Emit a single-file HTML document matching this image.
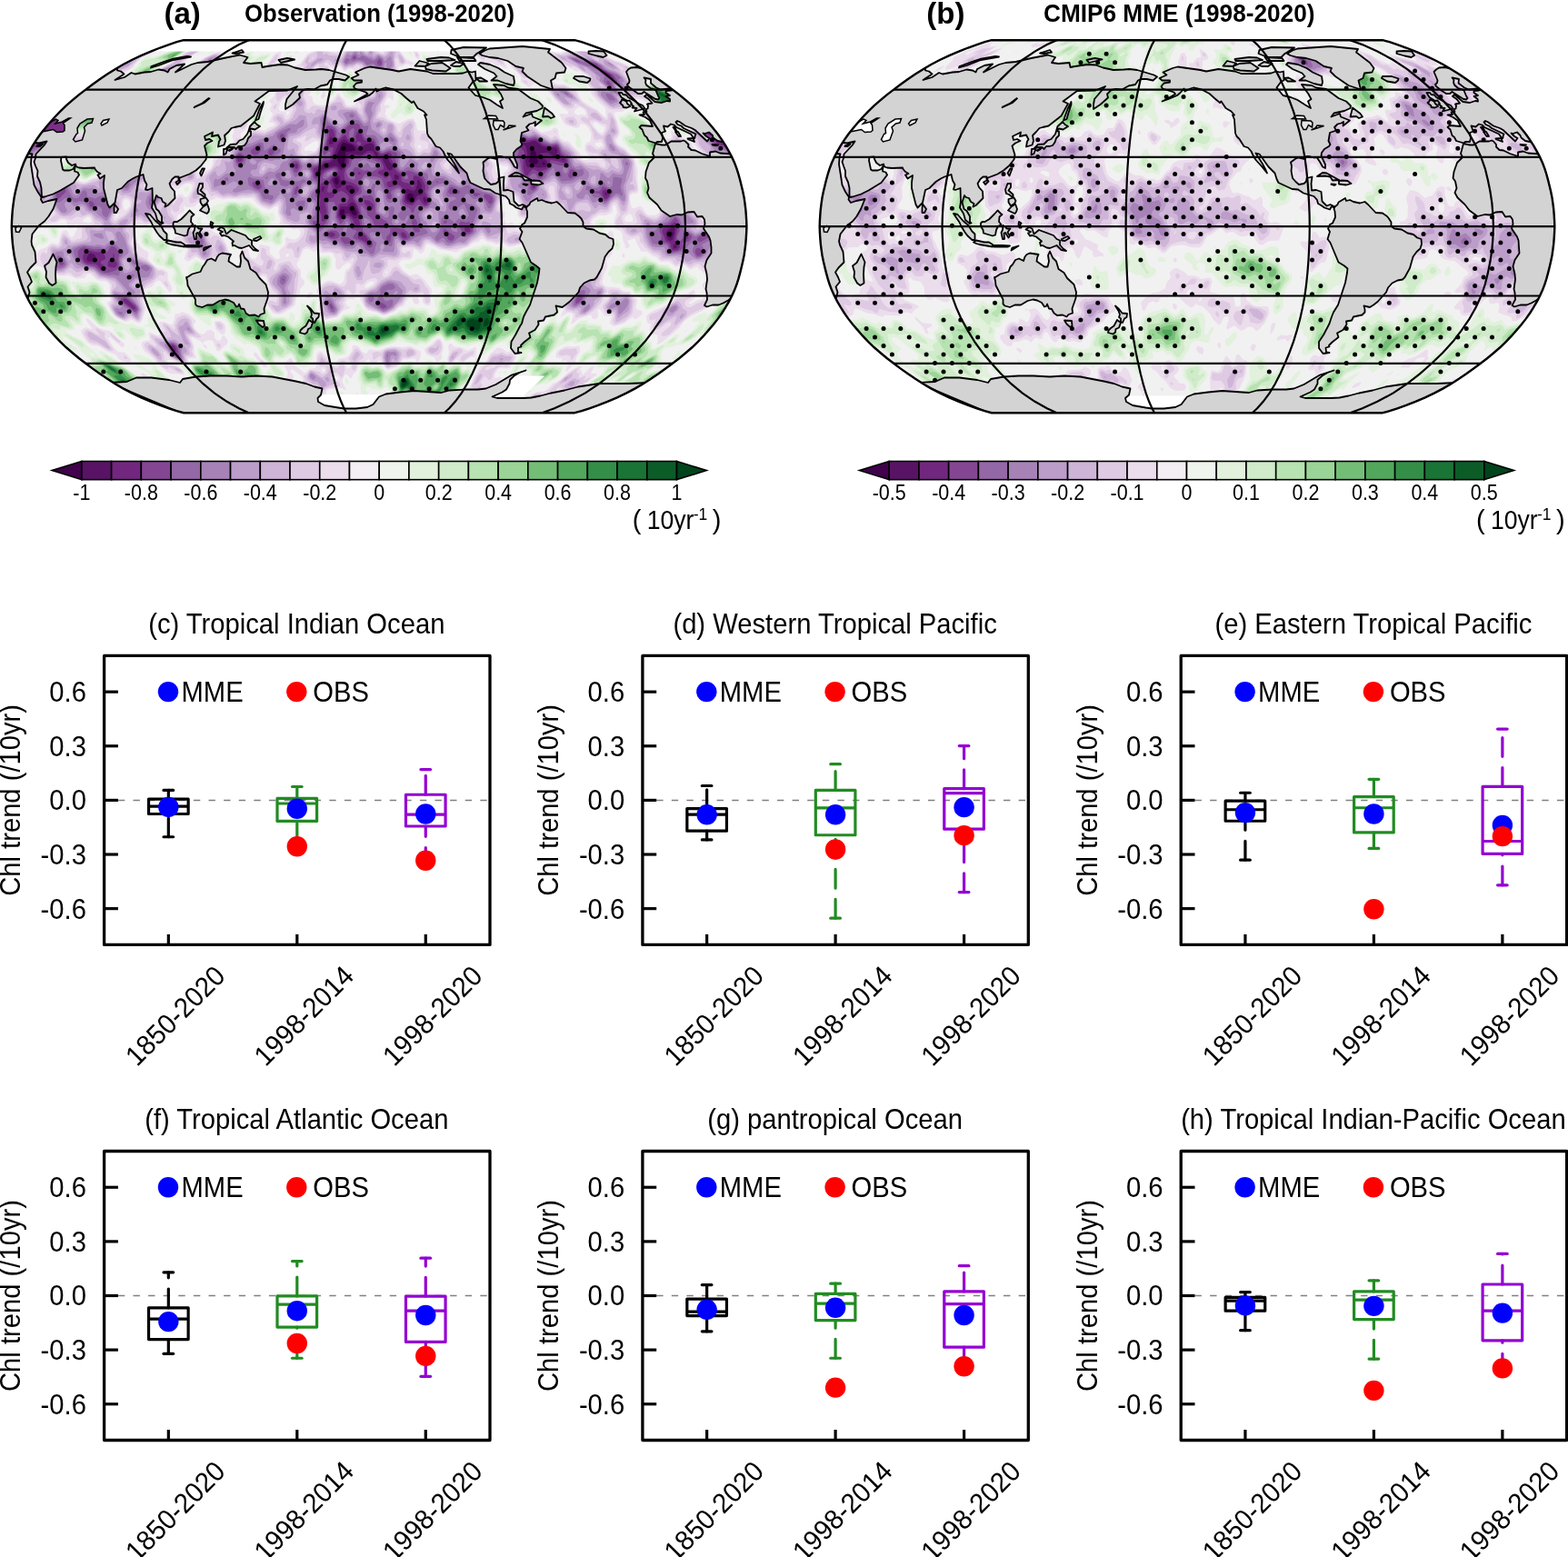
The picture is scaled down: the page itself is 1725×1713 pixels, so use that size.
<!DOCTYPE html>
<html><head><meta charset="utf-8"><title>Chl trend figure</title>
<style>html,body{margin:0;padding:0;background:#fff;width:1725px;height:1713px;overflow:hidden} svg{display:block}</style>
</head><body>
<svg width="1725" height="1713" viewBox="0 0 1725 1713" font-family="'Liberation Sans', Arial, Helvetica, sans-serif">
<rect width="1725" height="1713" fill="#fff"/>
<defs><linearGradient id="caspgrad" x1="0" y1="0" x2="0" y2="1"><stop offset="0" stop-color="#52a75c"/><stop offset="0.5" stop-color="#cfebc9"/><stop offset="0.7" stop-color="#ebddec"/><stop offset="1" stop-color="#ceb4d7"/></linearGradient></defs><clipPath id="clipa"><path d="M632.3 454.2L639.8 452.2L648.4 449.3L658.0 445.9L668.3 441.8L678.9 437.3L689.3 432.4L698.8 427.4L707.6 422.2L716.1 416.8L724.2 411.3L732.2 405.6L740.0 399.8L747.5 394.0L754.7 388.0L761.6 382.0L768.0 375.8L773.9 369.7L779.4 363.4L784.7 357.2L789.7 350.9L794.2 344.5L798.2 338.2L801.9 331.8L805.2 325.5L808.1 319.1L810.5 312.8L812.5 306.4L814.2 300.1L815.8 293.7L817.3 287.3L818.6 281.0L819.5 274.6L820.3 268.3L820.8 261.9L821.2 255.6L821.4 249.2L821.2 242.8L820.8 236.5L820.3 230.1L819.5 223.8L818.6 217.4L817.3 211.1L815.8 204.7L814.2 198.3L812.5 192.0L810.5 185.6L808.1 179.3L805.2 172.9L801.9 166.6L798.2 160.2L794.2 153.9L789.7 147.5L784.7 141.2L779.4 135.0L773.9 128.7L768.0 122.6L761.6 116.4L754.7 110.4L747.5 104.4L740.0 98.6L732.2 92.8L724.2 87.1L716.1 81.6L707.6 76.2L698.8 71.0L689.3 66.0L678.9 61.1L668.3 56.6L658.0 52.5L648.4 49.1L639.8 46.2L632.3 44.2L201.9 44.2L194.4 46.2L185.8 49.1L176.2 52.5L165.9 56.6L155.3 61.1L144.9 66.0L135.4 71.0L126.6 76.2L118.1 81.6L110.0 87.1L102.0 92.8L94.2 98.6L86.7 104.4L79.5 110.4L72.6 116.4L66.2 122.6L60.3 128.7L54.8 135.0L49.5 141.2L44.5 147.5L40.0 153.9L36.0 160.2L32.3 166.6L29.0 172.9L26.1 179.3L23.7 185.6L21.7 192.0L20.0 198.3L18.4 204.7L16.9 211.1L15.6 217.4L14.7 223.8L13.9 230.1L13.4 236.5L13.0 242.8L12.8 249.2L13.0 255.6L13.4 261.9L13.9 268.3L14.7 274.6L15.6 281.0L16.9 287.3L18.4 293.7L20.0 300.1L21.7 306.4L23.7 312.8L26.1 319.1L29.0 325.5L32.3 331.8L36.0 338.2L40.0 344.5L44.5 350.9L49.5 357.2L54.8 363.4L60.3 369.7L66.2 375.8L72.6 382.0L79.5 388.0L86.7 394.0L94.2 399.8L102.0 405.6L110.0 411.3L118.1 416.8L126.6 422.2L135.4 427.4L144.9 432.4L155.3 437.3L165.9 441.8L176.2 445.9L185.8 449.3L194.4 452.2L201.9 454.2Z"/></clipPath>
<g clip-path="url(#clipa)">
<path d="M632.3 454.2L639.8 452.2L648.4 449.3L658.0 445.9L668.3 441.8L678.9 437.3L689.3 432.4L698.8 427.4L707.6 422.2L716.1 416.8L724.2 411.3L732.2 405.6L740.0 399.8L747.5 394.0L754.7 388.0L761.6 382.0L768.0 375.8L773.9 369.7L779.4 363.4L784.7 357.2L789.7 350.9L794.2 344.5L798.2 338.2L801.9 331.8L805.2 325.5L808.1 319.1L810.5 312.8L812.5 306.4L814.2 300.1L815.8 293.7L817.3 287.3L818.6 281.0L819.5 274.6L820.3 268.3L820.8 261.9L821.2 255.6L821.4 249.2L821.2 242.8L820.8 236.5L820.3 230.1L819.5 223.8L818.6 217.4L817.3 211.1L815.8 204.7L814.2 198.3L812.5 192.0L810.5 185.6L808.1 179.3L805.2 172.9L801.9 166.6L798.2 160.2L794.2 153.9L789.7 147.5L784.7 141.2L779.4 135.0L773.9 128.7L768.0 122.6L761.6 116.4L754.7 110.4L747.5 104.4L740.0 98.6L732.2 92.8L724.2 87.1L716.1 81.6L707.6 76.2L698.8 71.0L689.3 66.0L678.9 61.1L668.3 56.6L658.0 52.5L648.4 49.1L639.8 46.2L632.3 44.2L201.9 44.2L194.4 46.2L185.8 49.1L176.2 52.5L165.9 56.6L155.3 61.1L144.9 66.0L135.4 71.0L126.6 76.2L118.1 81.6L110.0 87.1L102.0 92.8L94.2 98.6L86.7 104.4L79.5 110.4L72.6 116.4L66.2 122.6L60.3 128.7L54.8 135.0L49.5 141.2L44.5 147.5L40.0 153.9L36.0 160.2L32.3 166.6L29.0 172.9L26.1 179.3L23.7 185.6L21.7 192.0L20.0 198.3L18.4 204.7L16.9 211.1L15.6 217.4L14.7 223.8L13.9 230.1L13.4 236.5L13.0 242.8L12.8 249.2L13.0 255.6L13.4 261.9L13.9 268.3L14.7 274.6L15.6 281.0L16.9 287.3L18.4 293.7L20.0 300.1L21.7 306.4L23.7 312.8L26.1 319.1L29.0 325.5L32.3 331.8L36.0 338.2L40.0 344.5L44.5 350.9L49.5 357.2L54.8 363.4L60.3 369.7L66.2 375.8L72.6 382.0L79.5 388.0L86.7 394.0L94.2 399.8L102.0 405.6L110.0 411.3L118.1 416.8L126.6 422.2L135.4 427.4L144.9 432.4L155.3 437.3L165.9 441.8L176.2 445.9L185.8 449.3L194.4 452.2L201.9 454.2Z" fill="#f1f1f1"/>
<g transform="scale(0.5)" fill-rule="evenodd"><path fill="#e1f1dc" d="M406 908l43 0-6-2 20 2-23-7-19-3-13-5-22-17-67-36-73-54-23-14-4 1 0 3 6 10-1 1-3-1-29-25-15-14-15-6-15-9-3-5 1-1 13 1 6-2 1-10 13 1 2-2 1-4-1-13 3-4 4 0 11 5 14 14 8 6 9 2 8-1 6-3 3 1 5 5-2 3 3 7 9 9 7 5 5 2 3-3 0-3 0-5-8-10 0-3 7 3 23 21 4 0 18-7 1-4-3-15-3-2-14-2-11-6-11 2-24-11-12-11-9-16-10-10-2-5 10-6 2-4-8-20-5-5-9-5-9-2-16 4-23-3-8 0 7 16-2 3-5-8-1-11-10-5-41-8-5-2-12-12-5-1-4 0-8 5-9 0-8 3-4-5 3-10-2-15-5-4-4 0-8 3 14 57 16 35 15 26 15 20 41 46 6 4 14 11 7 3 7-1 2-1 0-3-25-14-6-5-1-6 5 1 22 15 5 4 7 10 20 19 5 6-1 2-7 1-10-4-9-9-7-5-7-3 53 40 53 35 31 16 42 18 39 14zM199 781l-1-4 2-1 9 5-5 2zM61 620l-1-5 1-1 6 5 1 3-4 1zM482 907l24 1-5-1-6-6-30-14-15-3-7 2 0 4zM535 908l138 0-4-1-2-4 4-4-16-12-11-22-11-7-1 3 2 11-3 0-14-15-2-8 2-6-1-12 10-3 1-5-6-10-14-13-4-10 3-3 16 2 6-2 9-7 4 0 5 6 5 14 6 4 11 4 10-4 2-3 2-6 6-5 3-17 6-8 11 1 17 5 10 10 7 2 14-2 4-2 2-3 1-15 9-10 4-1 19 6 9 7 11-1 12 4 7-1 35-11 8-5 15 5 12 2 11 5 12-5 8 2 4-1 12-10 14-8 4 0 4 3 6 9 3 1 13-4 14 9 7 2 14 2 22-7 7 1 2 2 1 4-6 10 1 5 4 5 4 0 5-4 23-20 18-6 4 0 0 9 2 4 4 1 10-6 3 1 3 12 9 4 0 5-34 59 9-4 7-5 16-18 1-9 16-18-2-10 6-2 4 2 3 5-1 5-18 23 1 6 9 1 2 2 1 5-3 4-6 4-4 3-6-1-4 3-14 17-1 2 3 0 17-12 3 1 5 11 3 1 34-12 4-1 4 2 25-14 10-13 3-10 0-3-12 1-7-4-12 2-6-2-2-2 0-5 2-5 16-19 12-10 25-9 5-1 4 5 4 0 14-4 4 1 2 2 11-5 3 2 0 5-2 9-5 5-10 5-6 5-8 19 3 1 5-1 20-11 10-3 2 2-3 8 1 2 7 4-1 8 15-4 0 6-3 6-3 5-25 17-4 5 0 2 6 6-32 12-3 0 6-6-1-1-8 3-11 7 1 2 3 0-1 2-8 4-21 10-9 0-18 7-5 3 7 1-1 2-21 9 86 0 11-3 61-21 57-27 54-34 59-45-12 1 2-9-19 20 6 1-3 4-30 18-18 6-4-1 3-5 23-18 0-19 2-5 6-5 7-2 8-1 12-4 11 0 17-8 21-15 4 0-5 14 12-13 29-35 23-36 17-35 11-35-5 0-3-1-3-11-4 0-17 6-5 5 1 10-4 5-15 8-5 8-1 5-2 37 2 5 5 3-2 5-17 14-4-7-4 1-8 3-14 10-3 5 13 0 3 1-1 4-18 20-29 23-3-1 0-2 7-15-1-3-7 3-31 22-14 7-4 0-2-2 0-8-2-3-9-3-1-3-1-10-5-9-10-1 5-15-2-4-4 0-14 10-5 1-7-2-10 2-20 13-3-5-4-2-13 1-4-1-2-10-3-1-26-2-3-6-3-2-14 3-21 18-5 1-1-5 0-4 6-15 0-6-3-2-4 1-15 15-5 2-3-5-2-5 11-21 0-6-3-4-4-2-5 3-12 15-2 5 1 5 3 5-2 5-22 15 0-10 10-15-4-5 0-5 3-6 11-10 3-5 4-20 6-5 9 0 5-2 9-8 2-5 1-6-2-5-12-18-2-12 2-10 3-4 4-1 5-5 3-6 0-5-23-15-1-5 3-15-1-3-5-2-18-1-4 5-5 17-4 4-6 0-4-2-23 12-4 0-5-4-4-1-18 6-9 1-9-8-4-1-14 3-11-6-15-1-9 4-9 1-23 8-5 3-9 11-4 2-5-1-9-6-4-2-9 0-13 2-9-11-5 0-4 10-5 7-9 3-13 0-14 11-4 1-9-1-1 5 5 5 5 2 22-10 4 0 5 3 3 5 5 12 9 2 4 5 0 6-1 5 1 6 3 4 5 2 8-1 5 3-1 4-5 6-8 4-5 8 5 25-3 6-6 4-5 1-5-11-5-2-9-1-8 1-17-4-9 10-12-2-9 6-25 9-4 0-13-6-21-1-4-1-13-20-5-2-4 3 0 10-3 6-4 2-21 2-8 10-4 2-28 5-9-6-7-10-3-16 1-15-5-5-6 5-9 12-4 0-10-7-1 22-2 11-3 6-8 3-3 4-2-5 5-2 0-8-1-5-6-5-5 3-1 12-14-5-21 1-2-1-9-16-12-14-12-6-2-2-2-3 2-10 0-5-4-10-6-5-14-8-2-3-8-16-5-7-18 1-10-6-4-1-9 3-4 0-10-7-17 1-19-10-5 1-14 16-1 15 1 5 2 1 8-5 4 2 3 2 2 5-1 5-1 3-4 2-9 0-5-3-1-7-5-4-6-10-4-11-10-15-1-5 1-11-2-5-8-2-4-4-2-9 1-20-1-3-5 0-8 7-14 5-4 0-5-4-2-5 2-16-5-2-4 1-16 12-2 5 2 15 4 6 5 4 13 4 7 6 2 5-5 11 1 5 8 7 14 3 10 6 8 1 5 3 1 7-5 8-1 5 10 16 1 15 12 12 4 0 10-10 5 3 0 5-4 15 3 10 7 11 33 24 5 1 1-5-2-10 2-2 21 0 9 4 7 6 3 7 3 15 12 14 10 5 6 6 12-1 14 6 6 5 8 19 15 14 2 4 0 8-5 3-3 7-4 1-16-28-9-6-14-3-4-5-2-10-3-5-20-10-4 0-3 5 1 5 4 9-14-4-3 0-4 5 0 5 8 14-1 5-3 1-4-2-21-20-32-14-2 2-1 6 5 17 0 4-3 2-11-1-6 2 1 16-4 1-14-9-5-1 24 27 5 9 5 4 18 8 17 13 37 22 2 3-10-3-21-10-5-1-1 0 1 2 27 15zM1255 907l17-6 22-3-28 9-11 1zM1308 887l7-1 0 1-11 3zM1367 861l4-4 10-3-9 7-4 1zM1330 849l4-5 12-8 10-5 3 0-14 13-8 5zM1375 836l0-2 9-7 9-4-2 4-6 4zM1341 827l2-4 7-5 6-1 1 1-12 9-3 2zM1166 702l1-6 5-2 5 3-2 5-2 1-4 1zM1007 646l2-10 4-8 5-8 2 0 3 6-7 19-5 4zM361 570l-3-2-5-9 3-3 5-2 5 5-1 6-3 5zM829 908l9 0-1-6-5 1zM849 908l126 0 4-3 12-18 13-14 11-20 15-9 3-4 7-17-4-14 0-14-2-1-4 2-4 4-1 4 1 5-3 4-4 0-2-9-11-4-7 1-9 5-4 1-7-12-4 0-13 8-3 1-12-11-4 0-19 11-8 2-5-2-4-9-4 0-15 4-12 10-21 11-4 0-10-12-7-4-14 3-11-5-3 0-7 3-7 6-4 20 0 5 5 8 2 29 1 1 3 0 10-1 2-4-1-4-6-8 2-5 6-1 10 6 6-1 9 3 13-8 10 10 0 4-5 8 0 14-9 16zM1078 908l14 0 3-2-7-1zM757 904l3-1-5-4-3-6-4-2 2 5 4 3 2 4zM1057 904l27-8 7-9 0-3-3-2-11 5-13 9zM682 898l2 0 1-5-1-3-16-14-2-3 0-11-2-9-3-7-5-2-2 13-6 8 2 4 15 11 13 16zM433 890l3 0-10-6-18-7 1 3 5 4zM703 884l4 1 0-1-4-8-10-10-3 0 4 10zM752 880l6 2 3-1 2-5 0-3-7-8-4-4-3 1-3 3 3 11zM775 882l3 2 3-2-2-7-4-6-7-1-2 5zM389 866l1-1-19-14 0-3 28 13-24-17-2-8-28-27-4-7-6-7-5-5-21-9-16-2 3 7 10 9 6 3 11 0 12 6 1 3-2 4 0 7-10-5-17-13-7 0-1 2 0 2 4 5 21 9 16 18 22 17zM1159 866l6-1 6-6-2-1-6 3-4 4zM1097 859l3 0 3-2 1-3-2-1zM763 846l4-1 0-5-3-7-3-1-2 4 0 4zM1097 823l9-5-6-1-2 1zM1110 823l3 0 3-5-2-1-7 1 1 5zM338 725l4 0 0-8-10-18-5-2-2 4 1 11-2 3-4 0-4 2 2 2 8-1zM358 702l10 0-3-5-11-5-9-5-1-6 5-1 8 0 13 10 4 0 2-5 1-9 3-3 4 1 3-3-3-5-13-6-4-4-4-5-2-10-6-9-5-3-4 2-3 8-3 3-14-3-3 3-1 24 8 15 1 11 6 5zM1424 682l17-8 9-2 15-6 23-22 29-9 15-9 3-6-2-8-4-3-12-5-14-14-15 6-8-4-11-9-18-1-8-6-12-4-8-7-5-1-4 1-10 7-18 0-24 14-9-3-5 2-7 10-3 5 0 5 8 5-1 5 0 5 10 4 9-1 10 11 13 1 3 3 6 9 13 2 3 22 9 10zM577 632l5 2 2-3 0-5-4-8-5 2-1 6zM686 626l4 2 9-2 12-15 9-6 10-20 0-15-3-6-4-2-18 2-5 1-5 5-2 15-2 5-3 5-8 4-5 6 0 5zM1633 583l2-9-3 6zM59 565l4 0 7-12 16-16 9 1 8-4 4-5-1-5-12-9-16 4 4 10-1 6-13 0-10-12-9 2-4 3-4 6-1 5 2 5 8 15 4 4zM392 556l5 1 4-2 0-6-5 0-8 5zM512 550l7-1 3-5 0-5-3-5-8-2-3 2 0 5zM1357 551l5-1 3-6-1-10-5-7-5 2-3 10 1 5zM606 540l4 1 9-3 2-4 0-10 1-5 5-10-4-6-9-1-4 1-14 13-4-1-3-6 2-11 5-8 9-7 0-2-1-8-3-5-9 3-13-3-11-10-20-13-9-1-9 2-17-3-9 0-19 6-4-1-19 10-7 10 0 10 5 10 17 15 11 3 10 11 4 1 14-4 4 1 12 9 15 7 14 0 9-2 13 4 9-1 5 0zM1318 531l5 0-2-12 7-10 8-21-6-5-11 0-7 5-2 5 4 31zM121 524l4-2 2-3 1-16-6-5-11 0-4 5 2 6 5 10zM48 504l5-6-5-2-2 2zM439 500l4-2 1-5-1-5 1-10-5-1-6 1 0 5 2 15zM1144 495l5-2 0-5-7 0 0 5zM408 486l4 0 5-3 5-5 2-5-2-2-5 0-12 7-1 5zM1438 448l4-2 7-9 1-5-2-10 2-5 13-8 10-2 1-5-7-10-1-5 1-6 14-15 0-5-15-10 0-5 5-5-1-5-16-26-13-11-6-9 2-10 3 0-4-1-9-9-25-17-13-6-7 0-10 8-11 1 0 7 4 7 17 15 4 5-1 5-12 2-3 3-1 5 1 5 20 23 13 8 2 15 3 5 10 5 5 5 2 5-2 5-12 9-1 2 1 35 1 5 12 11 5 3zM407 421l5 1 3-5 1-5-3-2-6 2-2 5zM178 392l8 4 4-1 25-14 7-8 5-2 8 1 5-1 5-5 10-20 10-10 18-36 21-20 10-20 10-9 13-6 8-10 9-24 6-4 9-5 28-31-1-2-9 2-34 17-16 14-16 19-13 5-13 9-8 10 1 5 3 2 11-4 2 2-3 10-7 6-10-4-5 1-10-3-21 0-1-5 1-5 12-15 5-14 25-19 10-9 9-14 21-18 31-17 41-27 23-12-3-1 1-6-5-1 15-7-17 1 6-3-3 0-16 4-12 5 7 0-9 7-44 20-17 2 5-5-13 5-15 13-1 2 1 3-27 20 5 4-4 6-18 14-41 28-14 14-18 15-9 10-8 10-11 25 1 3 7 2 1 5-2 15-6 14 5-3 4 2-2 8-4 4-3-2-1-7-4-2-6 4-7 13-2 10-4 5-7 5-3 5-1 5 2 5 7 5 5 0 18-5 9 0zM213 265l6-10 1-7-3-3 1-5 12-4 9-1 2 10-1 5-13 10-14 6zM457 357l6-11 6-4 9-3 5-3-1-11 4-5 16-5 2-5 0-17-8-18 10-15-4-14-3-2-17 3-5-4-4-1-18 13-4 0-10-11-1-4 2-5 14-19 11-5 4-4 3-10 5-4 15-10 26-26 9-6 3 0-8 14-2 6 14-4 2 3-1 9 4 1 9-4 8-1 6-10 13-13 5-7 1-6-3 0-7 4-3 1 4-5 15-11 8-9-2-1-12 2-4-1-15 6-11-4 3-4 12-11-32 14-41 28-5 9-1 13-3 4-9 7-18 2-8 19-27 33-10 20-22 15-7 10-3 10 2 4 7 6 1 13 7 16 4 2 8 1 11 6 7-2 2-11 4-2-1 13 2 10 5 4zM421 265l8-5-2 5-2 2-4 0zM1271 324l5 1 3-3-1-17-3-5-6-5-5-1 5 11-4 10 3 5zM1242 301l1-6-4-1 2 6zM1460 297l5 0 3-2-10-15-10-2-7 2 9 10zM1502 296l5 2 1-3-2-5-8-5-4 0-1 5zM979 293l11-5 3-3 0-6-5-3-7 4-4 5-1 5zM1093 287l5 2 4 0 3-2 6-27 8-10 1-15 5-9 3-2 5 2 24 18 15 6 12 25 5 5 16 1 10-5 8-1 3-2 2-3 0-5-6-10-16-15-8-14-6-5-7-10-7-4-14-5 1 5-1 6-4 1-5-2-3 1 4 13-4 0-26-29 0-3 4 0 15 7 2-2 1-6-3-5-19-18-9-7-4 0-7 5-22 2-4 10-2 10-4 0-12-7-13-10-14-7-9-18-8-8-4-1-13 5-2 4-2 9-2 1-10-8-3 1-5 4-5 2 0 4 6 13-4 5 0 4 5 10 1 1 3-2 3-12 7-1 6 4-1 10 2 9-4 9-6 5-15-4-8 1-3 8-2 14 0 5 5 5 6-8 4-1 12 2 10 13 8-1 10-7 4 0 5 2 1 20 4 10 4 5 3 2 11-7 8 0 14 6 12 1zM1092 235l-10-14-2-5 2-3 3-1 10 4 5 5 2 5 1 9-3 3-3 1zM1014 183l-4-4 1-5 4-1 9 6-3 4zM554 277l16 1 7-3 5-15 1-5-1-1-5 3-13-8-6 4-4 7-3 10 0 4zM1463 277l14 2 4 0 4-5 14 1 3-1-1-19 7-6 6-14-3-9-9-10-13-9-23-10-22-11-7-3-15 0-18-4-1 2 1 2 31 35 5 12-2 6 11 14 0 10 2 5 8 10zM866 260l4-1 7-9 4-2 9 7 15-3 7-7 3-10 12 2 10-7-1-4-15-10-1-5 2-4 0-14-14-7-8-2-16 9-8 14 1 9-4 20-12 14-1 5 2 4zM493 227l4 0 2-1 1-5-2-3-3 0-4 3zM1213 227l0-6-3-5-7-4-1 4 3 5zM1304 226l1-2 0-3-9-8-1 3 3 5zM575 221l4 0 12-9 4-2 2-5-10 6-6-2-3 2-3 5zM473 217l2 2 5-1 10-7 2-12-1-4-17 12-4 4zM767 216l8 2 7-4 13-12 4-9-2-10-7-12-12-7-6-7-3 0-8 6-3 1-10-3-3 2-3 7 0 3 6 3-3 12 3 9 12 17zM727 212l4-1 4-4 4-10 1-4-7-10-3 0-4 2-7 8 2 12 3 5zM695 208l3 3 5-5 3-9 0-3-3-4-7 7-2 5zM962 204l4 2 4-4 0-5-5-6-3-1-4 7 1 5zM1284 199l5 1 0-4 4-3-3-5-23-23-9-6-3 0 0 3-2 1-6-2-5-4-2-5 5-2-1-2-28-16-2 1 6 11 17 17 3 4-1 5-3 4 3 5 13 8 10-1zM1270 183l-4-4 1-2 8 6 0 3zM952 180l2-1-6-13-4-2-3 1 5 9zM616 174l3 1 4-2 9-8 1-4-2-3-3 0-6 4-6 8zM1227 178l4-4-9-5-4 0 2 5zM1136 166l-3-5-3-1-1 1 3 4zM470 162l13-10-3-4 9-8 7-11-13 7-7 7-5 9zM401 156l16-8 21-18-29 14-5 4zM932 156l-3-9 1 5zM1189 149l8-1-2-4-5-4-8-4-5 0-1 1 1 3 3 4zM936 137l6 1 3-1 2-13-2-1-2 2-11-6-3 1 1 12zM1002 129l4 2 6 0 2-1 0-6-7-8-13-1 1 5zM500 124l-2 3 16-7 10-7 3-5-2-1-12 6-8 6zM965 128l3-1-1-3-3-4-3 0 0 4zM427 124l11-4 13-7-5 0zM455 121l37-17 13-8 17-7-13 3-33 12 16-8 11-8-16 4-27 18-1 1 4 1 0 1zM904 123l3 0 0-3-3-5-3-3-2 5zM1102 122l1-1-3-4-8-5-1 1 6 7zM496 117l14-7 18-6 22-14-1-2-12 0-7 4 4 1-2 3-32 14-4 3zM630 120l15-7 5 4 3 0 5-4 5-6 0-9 11-10-10 1-19 9-14 15zM1145 117l2 0-18-13-12-6 0 1 4 8 4 3zM1195 119l5 1-3-3-10-7-30-12-9-8 30 8-11-6-12-4-30 0 18 13 6 3zM585 111l11-4 11-11 11-8-6 0-12 4-2 1-2 5-9 9-2 3zM1009 112l1-2-2-3-5-2 2 5zM1300 112l3 0-12-4zM1146 107l1 0-3-3-9-3-1 1 1 2zM552 104l16-6 10-6-20 6-5 3zM728 104l5-1 10-5 3-5 0-5-6 0-14 10-1 3zM1017 105l2 0 1-2-2-4-6-2-5-1-1 2zM1043 105l6-1 7 1 2-1 0-3-5-5-17-8-21 0 5 5 12 5zM1039 98l-7-2-5-5 5 0 7 2 4 6zM1243 105l1-1-7-3-11-4zM853 101l2 0 10-5 5 3 6 0 1-1 0-5 6-3 12 6 10-3 1-1-2-4-84 0 1 5 3 3 8 1 15-3zM764 100l2 1 7-5 11-2 12 4 19-10-60 0 0 4 6 3zM629 96l17-3 5-5-18 2-3 2zM719 94l6-1 8-5-14 0-3 4 1 1zM1086 94l7 0 0-2 3-1-5-3-11 0-2 2zM701 92l4 1 10-5-9 0-5 2zM1191 92l8 1-2-3 10 1-1-3-44 0zM965 90l4 1 3-1-1-2-11 0z"/>
<path fill="#cfebc9" d="M406 908l41 0-40-15-51-32-28-12-80-59-16-9-3 1 6 8 0 4-18-6-9 1-8-1 7 12-8 2-9-1 56 39 44 25 58 25 38 13zM365 873l-26-12-8-8 30 16 6 5zM458 908l-12-4-9-2zM538 908l132 0-9 0-3-3-2-2 7 1 0-8-12-9-5-11-5-3-1 2 3 9-1 3-9-7-21-27-1-4 2-9-1-4-4-5-7-4-8-8-5 9-11-1-3-4-1-10-4-9-8-9-15-3-16-9-6 2-25-11-4 0-2 2-1 5 9 14 2 13-2 2-12-6-5-4-6-10-11-9-26-10-3 2 4 17-1 7-3 1-14 0-2 2-1 4 2 13-3 1-8-2 1 2 8 9 42 34 47 29 1 2-12-1 2 2zM851 908l122 0 4-3 8-15 15-14 11-23 5-5 13-8 7-13 0-4-1-5-5-6-9 5-4 0-3-10-2-3-7-1-7 1-13 7-3-3-4-10-3 0-14 9-3 0-9-6-4 0-8 6-25 2-3-3-3-6-3-2-15 5-12 9-13 6-12 9-8-14-9-5-3-1-11 3-11-4-7 0-6 5-3 7 0 13 6 14 3 2 22-4 7 8 6 3 4-1 2-4 4-15 4 3 5 14 6 6 1 8-5 8 0 14-8 16zM1083 908l6 0-3-1-5 1zM1188 908l6 0 29-7 1 0-5 2-19 5 50 0 12-5 28-7 6-6 9-4 21-5 9 1-8 6 43-19 31-16 41-26 39-28-28 16-27 9-6-1 2-5 26-19 2-14-2-9 3-5 11-11-5 1-17 9-7 0-2-1 0-8-2-3-9-7-1-9-5-9-4-1-9 2-2-2 5-14-4-1-11 5-16 0-5 2-16 12-5 1-7-8-13 2-3-2-3-9-3-2-8 0-7-2-8 1-10-5-5 1-8 0-5 4-6 10-6 5-10 3-2-4 0-4 9-25-2-4-5 1-3 3-13 17-4-1-5-8-4-1-4 1-12 7-12 15-2 2-6-2-1-5 3-13-2-6-13 0-3-1-6-10 0-5 4-8 8 4 12 0 5-3 15-14 3-5 3-15 5-10 4-4 4-2 9 1 5-2 4-3 4-5 0-6-2-5-10-10-4-7-2-33 7-11-2-5-11-6-12-20-5 1-10 22-18-1-23 11-8-5-5 0-9 5-18-1-4-6-4-2-10 2-9 6-5-11-12-2-5 1-9 6-13 0-18 5-14 16-9 1-9-7-9-2-7 3-7 15-4-3-9-9-4-1-15 8-1 5 6 10 5 4 10 6 3 4 3 17 4 4 14 1 4 5-8 15-3 10-7 10 0 15-3 6-6 5-9 3-4-1-8-10-17 0-12-3-13 8-13-1-8 5-13 2-12 5-5 0-8-3-8-2-25 2-4-2-5-13-3 5-13 7-17 0-4 1-7 10-4 2-29 3-9-5-10-13-4-16 1-12-4 0-2 2-5 12-4 4-8-1-4 7-4 21-4 4-11 5-4-1-11-11-9-6-25 1-4-4-7-16-8-8-21-12-2-5 3-3 3-7-3-10-9-8-13-3-9-20-7-6-14-2-14-7-12 5-10-6-4-1-6 2-6 9-9 3-4-2-1-5 3-10-4-5-6-2-4 1-3 6-2 5 0 5 3 3 11 7 4 6 18 4 4 5-2 9-3 5-5-1-10-6-4 1-3 4-4 1-9-1-3 4 4 15-5 20 2 10 4 7 6 5 5 1 21 0 14 4 16-2 4 1 6 4 8 11 7 20 5 5 11 5 11 7 10 3 17 9 3 5 4 15 3 5 16 14 7 18 9 7 4 1 7 0 2-3-3-5-11-9-7-9-2-10 4-7 4-1 9 4 4 0 11-8 7-2 7 5 8 19 5 2 4 0 12-5 4-7 6-4 5-19 3-6 3-1 15 2 13 5 17 12 11 0 5-3-1-15 1-3 11-9 3-2 25 5 11 5 20 7 3 0 36-12 12-10 4 1 15 9 11 2 7 3 9-5 11 2 4-1 14-10 13-7 4 0 9 11 4 2 12-4 21 11 12 0 25-5 7 1 7 5 1 4-4 10 4 1 27-19 13-4 15-9 14-4 3 1 4 5 1 5-7 10 0 9 3 5 11 0 10-4 3 0 11 9 0 5-2 5-16 23 1 3 8-1 2 1 1 13 3 2-7 3-7 6-2 13 2 3 3 0 25-8 21-12-2 5 3 1 5-2 9-5 8-8 4-9-1-4-18-4-8 2-6-1-3-2-3-5 1-5 3-5 22-29 8-19 9-4 2 4 0 7 3 2 9-3 12-6 4 0 0 6 2 4 32-8 3 2 1 6-4 24-1 1-11 0-7 4-7 13 1 3 6-2 17-12 12-2 3 1-3 12 2 2 11 4 20-6 3 1-2 5-10 9-10 14-26 17-1 3 2 1 14 2-17 12-9 3-13 3-42 20-25 9-20 12 1 2-5 1zM1231 903l11-4 13-9 8-2-13 11-20 5zM1253 887l5-2-11 5zM1273 876l4-3 11-3-12 6-2 2zM1356 869l4-8 12-8 12-5 10-1-5 5-19 13-7 4zM1319 853l12-11-6 0 10-11 4-8 13-8 16-3 3 1-21 14-9 7 22-8 3 0-4 5-19 18-11 4zM1366 840l15-13 13-7 4-1 0 4-10 8-14 8-6 2-3 0zM622 761l-6-4 0-6 4 1 4 5 0 4zM1002 656l-2-5 1-10 2-5 7-10 4-11 5-2 4 1 4 6 0 6-8 20-4 6-4 3-5 2zM988 595l1-6 5 1 2 5-3 3zM1200 559l-2-5 3-2 4-1 5 0 3 3 2 5-2 3-4 2zM478 905l7 2 2-5 5 0-24-12-11-3-7 0-2 3 2 3zM1064 900l5 0 10-4 7-6 1-3-5-1-7 4zM675 890l4 2-7-8zM428 887l-10-5-1 1zM756 877l2-4-5-6-2 2 1 4zM378 859l-19-15 1-2 3-2 0-3 2-4-1-2-13-13-8-5-3 1 1 4 7 9-10 0 2 4 23 21zM1129 821l6-3 3-5 2-9 14-14 1-4-4 0-6 4zM528 778l0-7-12-7-4-1 1 3zM158 765l-1-4-5-1 0 1zM178 763l5 1 2-2-2-5-4-5-34-17-2 2zM1120 759l3 1 6-3 3-5-3-7-4 0-5 7zM1470 756l11-4 4-5 2-6-11 6-5 5zM1500 752l3 2 4-1 20-11 21-20 0-7-1-3-10 7-7 8-21 15zM128 743l-1-6-10-10-1-6 12 4 4 0 0-5 4-1 15 4 8 0 0-6-5-11 1-4 14 8 5 1 3-4-2-13 5-5 5 0 17 8 13 15 8 5 8-1 7-8 16 6 9-2-20-15-12-21-11-10-3-5 2-5 9-5 0-5-8-15-7-7-5-1-8 1-11 9-19-7-3 3 2 12 0 5-5 0-7-5-11-21-23-6-18 0-9-2-7-12-6-5-16 5-4 2-2 3 13 15 1 6-3 7-3 3-11-10-7-16-4-5-7-4 13 40 19 35 29 41 24 27zM269 742l1-5-2-2-7-5-4 0 2 7 6 5zM301 742l16-5 0-5-2-5-6-3-8 0-10-3-6 1 1 5 3 5 5 6zM1547 740l25-28 15-20 15-26 13-25 13-40-9-1-5-11-8 1-7 5 2 15-21 10-4 6 0 3 5-1 3 3-1 5-8 15 0 15 6 5 0 3-5 7-12 11-8 10-1 4 5-1 4 2-13 15-2 5 0 6zM1218 695l5-3 3-5 1-8-4 1-6 7-2 5zM367 683l4 0 0-2 0-10-6-10-9-10-2-10-2-3-3 8-3 2-4 0-15-5-2 3 0 3 2 17 4 5 2 2 23 4zM1423 677l3 1 18-10 8 0 11-4 12-13 14-10 25-9 12-6 3-6-2-4-3-3-8-2-11-13-4-1-5 4-5 1-23-15-18-2-7-6-16-4-9-6-10 7-5 1-13-1-10 4-7 5-6 10 1 5 4 4 7 1-2 5-6 5-2 5 1 6 5 4 13 2 3 2 6 10 4 1 10-2 4 8 0 5 4 15zM398 648l4 0 2-2-4-5-4 1 0 4zM393 626l5 2 4-2 2-6-1-5-10-25-7-10-5-21-7-2-4 4-2 9-6 10 4 5 3 2 9 0 6 3 5 10 0 5-4 10 2 5zM690 621l4 1 4-2 25-30 2-5 1-10-1-5-2-3-9-1-9 2-4 3-2 4 0 15-6 10-4 3-6 2-2 5zM42 591l4-2 3-4 0-5-2-8-5-2-5 1-3 5 2 9zM345 576l5 2 3-3-4-7-4 2zM53 555l4 3 5-1 3-13-6-12-5-3-4 1-3 4-1 5 3 10zM342 549l5 3 4 0 14-4 3-4 0-5-2-10-3-1-9 2-8 5-5 1-4-4-5-6-5-14-9 3-4 5 0 14 5 6 14 2zM1358 544l2-5-2-5-3 5zM610 536l5 0 2-2 0-10 5-15-3-4-5 0-5 4-4 5-5 10 1 5 5 5zM95 532l4-1 2-2-2-5-5-2-3 2 0 5zM556 525l14-1 13 5 5-2 2-3-5-21 9-20-1-5-15-5-13-13-8-3-9-8-9-1-9 3-13-5-14 0-8 7-6 10-4 2-14-3-4 2-3 4-1 5 3 11 2 4 11 11 9 0 5 3 4 7 5 3 18-3 9-6 2 0 16 11 5 8zM121 517l3-3 0-5-3-6-5-1-3 1 1 6zM1324 504l5-11-1-3-4-2-6 5 1 7zM1423 439l10 3 8-3 5-7-2-15 2-4 14-6 5-5-4-15 0-6 2-5 9-10-2-5-16-15 11-7 1-3-10-17-26-29 2-10-3-5-22-15-22-8-3 1-4 5-3 2-8-1-3 3 4 8 18 15 5 10 0 3-4 2-8 1-3 1-1 3 2 5 7 10 21 16 4 5 0 15 14 9 8 11 0 5-11 11-6 12-2 8 3 15 2 5zM1435 351l-4-5-12-5 2-6 3-2 5 3 12 10 2 5-2 4zM186 393l5-1 20-11 13-17 5 0 7 4 5-2 6-10 2-5-1-5-4-2-9 0 0-3 2-5 9-7 18-3 9-11 5-15 3-5 22-20 6-15 16-15 12-5 5-5 10-28 20-19 1-5-7 0-15 10-14 14-11 14-9 8-12 1-8 5-4 5 0 5 14-4 3 1-1 18-15 11-17 8-5 1-3-2 1-8-2-5-22 0-6-8-18 8-17 12-6 3-5 0 1-5 18-15 3-5-2-5-11-1 3-4 14-10 21-7 39-21 17-14 9-14 22-18 90-54 1-5-17 1-62 25-22 4-7 4-2 4 3 1-1 3-11 8-23 27-11 9-30 19-14 14-35 29-10 10-5 10-4 14 12 12-1 4-5 12 2 12-2 7-10 20-11 6-7 6-10 4-5 4-1 5 4 5 6 2 15-5 13 0 6 3 8 10zM202 320l4-5 4 1-4 8-4 0zM258 202l3-5 7-4 7-2 2 1-2 5-5 5-8 3-3 0zM329 140l6-4 6-1zM150 352l3-1 2-5-1-3-3-2-4 5 0 4zM446 347l8 2 11-9 10-4 1-5-1-6 3-5 15-6 6-4 2-15-9-15-1-5 7-15-2-9-1-1-14 1-6-4-4 0-20 16-6-5-3 0-4 2-7 10-6 4-9 3-2-3 1-11-4-1-16 8-8 10-1 8 8 9 2 13 5 15 3 3 13-2 4 2 7-10 5-2 5 0 2 4-1 21 3 5zM467 315l-7-5 6-4 4 1 1 3zM1091 281l5 3 4 1 4-3 4-23 7-13 1-11 8-13 2-2 4 1 11 6 4 0-1-6-3-5-13-13-5-3-6 2-15-5-3-4 3-5 2-2 12 3 6-2 20 10 2-4-3-5-19-18-6-3-7 5-19 2-3 1-3 8 1 10-4 3-23-13-12-8-11-5-4-5-7-17-7-4-14 3-2 5-1 11-3 0-9-7-4 0-5 3-2 2 1 4 6 8 18 2 7-6 20 6 5 4 10 14 2 14 15 14 1 6-8-1-6-5-13-24-6-6-8-2-5 5-11-1-2 14-7 14 4 9-2 10 2 5 6 1 10-7 7-1 3-3 1-11 3-2 6 4 4 4 0 5-3 5-7 7-2 8 1 10 7 10 1 1 11-5 15-2 9 6 14 2zM1076 260l-7-24 2-3 4-1 4 0 4 3 2 10-1 13-2 5zM1091 240l-5-5-10-19 2-5 5-3 18 7 5 6 0 14-4 8-3 0zM1195 277l13 0 13-6 2-6-2-5-4-5-13-5-8-13-15-6-7 1-9-4-3 2-5 5 3 5 16 5 4 5 1 10 5 10 4 5zM1470 276l4-1 2-7 18 1 3-1-1-13 10-9 6-9 0-4-3-7-9-10-6-5-50-23-8-2-26-2 13 18 10 9 7 10 5 10 1 9 7 10 1 15 5 6zM555 273l8 0 6-3 0-10-3-6-4-1-6 7-2 7zM425 251l7-6 13-19 0-6-8 6-8 9-5 11zM893 247l4 2 8-1 3-5 2-13 4-3 4 1 4 3 4-1-1-4-8-4-4-6-2-5 3-7 2-2-1-5-11-9-3-1-13 7-4 3-4 10 2 7 16 7 1 5-7 9-1 5zM880 233l4-3-4-2zM975 231l8 1 2-6-1-5-4-3-8-1-4 4 0 5zM1181 230l2-4-3-5-5-7-4-1-1 3 2 5zM775 211l4 1 9-5 4-5 4-9-3-10-5-9-5-3-6-2-6-7-3 1-8 7-9 13-1 10 2 4 3 3 7 0 3 7zM481 210l4-3 0-3-3 3zM728 208l4-1 4-10-1-5-3-3-3-2-6 6-1 4 3 9zM380 185l7-6 1-2-9 6zM479 187l17-8 25-27 34-24-1-2-6-1-1-1 5-8-18 8-34 24-6 9-2 13-11 13zM1247 181l3 0-2-7-4 0-1 5zM546 171l8-1 5-5 1-4-11 4zM533 162l7-1 5 2 4-2 12-13 8-12 16-8 6-7-13 4-6 0-5 3-32 29zM569 153l2 1 6-8zM414 145l3 0 8-6-5 1zM1184 145l5 1 2-1-5-5-5-1-1 1zM1230 146l3 0 0-2-11-7 0 3zM934 132l4 3 3-1 0-2-7-7-2 2zM1003 127l4 1 2-4-6-5-6-1 3 6zM652 114l5-3 4-4 0-3-2-3 1-3 11-10-11 3-11 7-11 13 9-1zM1190 115l3 1-9-6-15-5 6 5zM477 107l1 1 4-1 12-7zM517 105l5-1 23-12 1-4-6 0-3 2-2 1 3 1-3 4zM593 105l6-4-5 3zM732 101l10-5 2-6-1-1-12 9zM1148 101l4 1-5-4-5-1zM400 99l25-8-15 2zM562 99l7-3-7 2zM852 98l5 0 7-7 6-2 8-1-25 0-2 5zM601 96l2 0 12-7-12 3-3 1zM794 96l3 0 14-8-17 0-3 4zM486 94l5-1 8-4-9 3zM827 94l7 1 11-3-3-4-18 0 0 4zM894 94l4-2-3-4-11 0zM1024 94l2-1-4-3 12-1-16-1zM1143 94l3 1 1-3-8-4-9 0zM1169 95l2 0-12-5-9-2zM635 92l10 0 3-4-10 2zM780 92l5 0 2-4-7 0zM722 91l5 0 3-3-7 0z"/>
<path fill="#b7e2b1" d="M406 908l39 0-40-15-62-28-12-8-19-17-34-27-25-13-6-3-12-1-17-5-7 4 2 7-1 2-16 1 50 35 44 25 45 20 52 19zM543 908l112 0-4-7-15-11-11-17-16-20-2-6 2-7-3-4-10-7-15 3-5-2-6-7-1-14-2-5-6-6-12-2-10-4-6 2-4-1-23-13-9-3-2 4 8 14 5 20-1 3-13-7-9-3 9 15-3 1-10-6-12-14-1-5 9 3 2-2-4-10-7-6-11 0-12-6-2 2 3 10-3 9-3 2-11-1-5 2-1 7 3 11-3 3 1 2 19 15 21 21 53 32-7 1 1 2zM560 876l-16-8-19-7-6-4-3-4 1-3 2-1 5 2 18 12 14 6 5 4 3 4zM543 844l-5-4 1-2 3 2 2 5zM853 908l119 0 3-3 4-9-1-3 20-17 13-27 17-13 5-9-1-5-5-4-8 3-3-1-2-3-2-8-4-3-8 1-16 8-4-1-1-10-2-3-3 0-13 9-4 0-9-5-4 1-9 7-3 1-10-3-11 1-3-2-6-8-19 7-20 14-6 8-2 5 2 8 3 3 6 2 2 12-1 4-6 11 0 14-6 6-2 5zM1210 908l30 0 6-1 37-11 24-12 30-8 9-3 7-6-1-2 4-4 20-12 15-8 6 1 4-2 7-4 1-3 0-2-3 0 10-15-7 2-25 18-16 8-19 6-17 7-13 0-12 4-40 30 8 0 1 1-3 1-14 6-36 7 16-7 0-2zM1198 903l32-7 12-7 5-5 21-13 0-2-55 24zM473 900l2 0 0-1-5-6-12-3-3 3zM1072 896l4 0 5-3 1-2-3 0zM1337 883l33-14 31-16 34-22 37-25-20 12-16 4-10 5-27 22-30 19zM834 849l3 1 2-1 5-22 0-4-3-7-3-3-7-3-14 2-11-3-9 4-2 10 5 13 2 4 9 2 13-3 4 1zM1162 849l3 0 25-9 20-14 4-1 1 7 3-1 7-4 5-9-1-2-12-6-20 2-5-12 1-5 21-29 7-14 0-10-6-3-2-2 6-10 1-5-2-7-4-1-9 2-6 6-11 15-5 2-4 0-6-7 4-17-3-3-12-1-6-4-3-6-1-9 9-17 5-4 4 0 7 8 13-2 7-6 4-5 2-10 3-10 12-15 5-2 8 3 8-6 0-6-1-3-4-4-9 0-1-3 0-15-4-20-3-4-18-6-10-11-6-4-5-1-9 2-13 8-5 2-9-3-9 5-13-3-9 2-5-2-4-6-4-1-14 10-6-4-4-10-3-2-5 2-1 5-3 4-5 1-8-5-9-1-18 6-10 14-18 7-5-10-3-3-5 0-3 3-1 3-2 12-12 6-5-11-4-5-4-1-5 1-4 5 1 5 7 7 9 0 3 3 5 20 4 4 9-2 4 1 12 14 5-1 5-4 4-12-3-7-18-4-5-4-3-10 3-5 7-4 4-1 12 19 7 6 10 5 7 5 1 5-4 16-7 15-5 7-5 2-9 3-4-2-3-15-4-6-4-1-4 4-12 23-1 5 2 10-3 6-5 5-17 7-4 0-4-1-7-8-25-4-9 6-14 0-7 3-13 2-16 6-5 0-16-5-13 1-12 4-4-1-9-6-4-1-8 3-17-1-11 12-32 4-9-5-15-18-5-3-16 4-6 26-13 5-4 0-4-1-6-4-9-10-6-3-12-1-12 3-4 1-6 5-5-5 4-12-1-8-4-6-8-7-14-7-16-11 1-2 12-6 0-7-2-5-5-3-9 0-5-2-4-5-6-16-6-7-9-2-13 0-5-2-4 1-10 15-9 10-6 13-4 2-14-4-4 3-2 7-8 4-8 21 2 10 4 6 5 2 21 0 15 6 20-3 5 4 14 16 10 20 18 12 22 6 11 7 3 4 3 20 7 8 10 6 3-9 5-10 0-6 4 6 8 5 4 0 7-10-15-14-1-5 1-4 3-2 9 5 6 6 1 9 3 4 9 3 9 8 3 14 4 3 12-6 12-9 6-22 3-3 19-2 30 17 8 2 4-4 1-15 14-12 8 0 12 4 12 1 28 13 4-1 35-13 12-10 23 10 12 0 3 1 12 0 8 2 4-2 9-7 17-9 4 0 10 11 4 2 12-3 18 9 7 1 32-4 8 0 7 3 5 7 4 1 4-1 16-11 13-4 30-17 3 3 5 9 10 3-4 5-11 10-2 4 0 5 5 2 4-1 16-8 3 2 11 15-1 5-15 24 14-9 3 0 3 4-7 9-3 4 1 5 2 2 11-1 0 4-4 4-18 9-5 8zM666 752l-6-11 4 1 3 11zM1108 712l1-5 6 0 1 5-4 2zM1307 840l8 2 5-1 8-5 3-7-4-2-5 2-13 7-3 3zM1357 840l5-1 30-21 20-4 10-6 1 3 3 0 10-5 6-6 4-14 0-3-2-2-4 0-25 13-1-3 10-10 2-5-1-2 1-9-11-13-1-9-4-6-3 0-10 3-3-2-1-1 1-10-10 2-14-3-21 14-5 1-7-7-13 2-3-1-6-11-21 2-4-1 0-3-5-3-7 3-6 5-1 5 10 2-4 13 5-1 21-8 4 0 5 4 2 5-4 14 0 11 1 3 4 0 6-2 4 0-6 15-1 4 12 3 20-6 5 1 4 9-4 5-6 5-6 1-5 3-5 6 0 3 19-11 12-1 15-7 4 0-5 13 5-1-2 3zM1283 791l3-1 5-4-2-2-2 2zM1507 749l5 0 7-4 8-9-3-1-7 4-9 8zM115 732l-5-10-1-5 2-3 10-3 26 8 5 0 2-2-11-15 0-6 11-2 6 3 10 8 1-3-4-10 2-5-5-12 1-4 1-1 9 6 4 5 9 6 14 2 7 13 10 10 6 1 2-2 5-9 1-15-6-11-12-10-3-5-1-5 3-3 8-3 2-4-9-15-5-4-9 2-3 3-3 6-3 2-5 0-10-5-3 1 0 14-4 1-12-5-5-5-7-15-8-5-14-2-17 1-11 6-5 0-5-6 2-5-1-10-3-5-5-1-11 6 1 5 11 10 1 6-4 5-2 10-3 3-8-3-6-5-7-10-3-11-6-7 7 23 11 25 5 1 5 4 2 5-5 2 2 3 20 31 26 31zM1230 732l5-1 3-4 9-23-5 2-10 16-3 5zM1555 731l28-34 19-31 15-30 10-31-4 0-6 5 0 10-4 4-12-5-4 0-7 7-6 20 1 4 5-1 1 2 0 10 2 5-3 5-22 21-3 5 4 3 0 4-12 18zM364 677l2-6-2-5-6-6-24-10-5 0 9 16 7 5zM1425 672l4 0 12-8 18-2 18-16 14-9 15-6 5-5 0-6-7-15-14 3-19-15-21-4-12-10-13-1-8-3-10 7-13-3-5 1-10 5-4 5 0 5 2 2 13 3 2 5-13 10-4 5 1 6 16 4 6 10 4 1 11-6 5 10 4 2 9-2 4 1 1 5-11 15zM464 606l5 2 4 0 2-3-1-5-2-3-6-2-3 5 0 5zM1606 601l3-1 1-5-4 0zM710 595l5-2 5-8 1-10-3-5-5 0-8 5 2 15zM40 584l5 0 1-4-3-5-4 2-1 3zM373 583l4 0 4-3-1-12-5-4-4 6-3 10zM351 545l8-1 3-5-3-3-4 0-4 3-1 5zM319 534l4 2 5-2-5-11-5 2zM579 524l4-2 1-3-5-16 1-5 4-10-1-5-18-16-4-1-9 9-2-2 2-10-1-5-6-5-6-1-9 4-13-8-9 0-9 5-10 17-11 3-5 5 0 5 6 6 10-4 3 8 10 14 4 1 9-2 14-9 13 9 23 9zM610 524l4-4 4-6-4-5-5 5-1 5zM1432 438l9-5 1-6-4-9-9-11 2-2 18-1 6-2 1-5-1-10 2-16 1-2 5-3-1-5-7-4-7 5-8 1-5-2-7-8-10-3-2 1 2 5 20 19 10 12 2 5-3 4-4 0-10-7-4 1-4 7 2 7-9 2-3 4 1 12 5 10 7 5zM183 387l4 2 5 0 20-12 8-16 7-10 4-10 5-8 12-8 14-3 7-7 3-5 1-11-3-9-8-7-2-3 3-5 2-5-2-1-20-1-6-7-5 1-15 8-18 15-5 5-4 10-6 5-3 5-2 15-12 31-7 5-19 10-3 5 4 2 14-5 13 1 7 5zM196 325l4-10 11-10 3 3 0 7-4 10-7 5-4-1zM238 361l5-5-1-6-3 1-4 5zM447 343l8 0 9-7 3-5 1-6-3-5-6-4-8-2-7 6-2 16 1 4zM1451 336l9 1 1-6-7-11-18-20-13-10-1-5 4-3 1-2-2-5-8-7-12-5-8-1-10-2-1 4-3 2-13-1 2 5 18 15 8 10 0 5-3 6-4 1-8 1 0 2 3 4 5 3 8-3 5 2 13 1 14 14 7 4zM405 324l4 0 12-9 4-5-1-10 5-10-3-5-4-3-13 1-2-3 1-12-9 3-5 4-4 5 1 6 7 4 1 15 3 6 1 9zM443 311l12-6 13-3 6 3 3 7 3 2 14-5 3-4 1-8-7-13-6-6-13 2-4-2 0-3 11-13 8-2-15-9-4 1-16 17-12 6-6 10 4 6 1 4-3 12 4 3zM174 280l3 2 4 0 4-2 10-10 14-10 2-6-4 0-13 6-3-1-2-3-5 1-8 10-3 9zM1094 277l5 3 3-4 3-21-1-5-12-2-2 4-1 13 0 5zM1040 270l8-5 1-5-7-10-4-2-4 1-3 4 0 7 4 9zM1193 272l10 3 3-1 8-4 3-5-6-5-23-8-3 8 2 5zM1462 270l5 1 2-1-4-10-4-2-3 2 0 5zM557 268l4 2 4-5-1-6-4-1-1 2-2 5zM1476 262l10 2 4 0 2-2 1-9 10-8 6-11 0-4-5-9-12-10-23-9-23-12-11-2-16 0-1 2 3 6 15 15 9 12 10 22 9 10zM1056 256l8 1 3-4-5-14-3 2-3 9zM318 242l3 1 13-6 7-7 5-13 0-4-2-2-4 1-5 4-14 14-4 5zM900 243l4-3-1-5-4 0-1 5zM1010 231l8 2 3-1 2-11 4-7 9 2-8-19-3 1-2 4-12-1-3 2-5 13 0 5zM236 222l1 3 5-1 15-8 9-7-12 0-3-7-4 1-12 8-2 4zM1067 221l3 0-1-13 8-1 3-5-10-9-15-8-7-6-8-3-2 3 3 4 11 12 6 2 0 2-4-1-3 3 1 6zM1112 221l5 3 7-9 3-1 10 6 0-4-4-5-6-4-3 1-4 0-10-4-9 2-7-6-4 0-2 2 2 5 4 1 7-1zM901 216l4 1 4-15-1-5-3-4-3-2-14 7-4 9 3 4zM779 207l4-1 5-4 3-5-1-4-7-14-4-4-9-2-4 0-10 10-2 5 1 5 5-1 4-7 4-1 3 18zM729 204l3-2 1-5-2-4-3-1-3 5 1 4zM280 199l3 1 10-7 4-9 5-5 41-31 3-4-10-2-5 1-21 9-14 9-19 22 1 2 3 1 2 4zM1135 190l2-2-14-14-4-2-2 1 1 6zM1092 184l4-1-2-3-2 3zM1108 180l3-1-5-1-1 1zM491 177l6-3 14-13 5-10-3 0-1-3 8-5 3 0 1 2 5-1 9-8 2-4-11 0-22 12-10 13-1 8zM986 170l8 0 0-5-5-4-3-1-4 1-1 4zM1023 170l3-1 1-5-3-12-4-4-4 0-12 3 0 6 2 4zM358 134l1 2 4-1 7-2 17-9 22-13 7-8-16 4-39 13-21 11 9-2 2 2 7 0 2 1zM653 110l3 0 3-3-5-2-2 2zM657 96l2 0 7-5zM829 94l8-1 4-1 0-2-3-2-11 0 0 4zM854 94l3 0 4-4-5-1zM797 93l7-3-1-1-4 1-3 2z"/>
<path fill="#9bd497" d="M406 908l37 0-47-18-56-25-32-25-19-13-14-14-7-4-47-15-3 4 3 7-13 4 2 4 20 10 7 4-2 6 55 32 33 15 5 1-7-6 7 1 29 14-2 0 13 6zM549 907l4 1 99 0-9-2-6 2-7-3 7-2-6-9 9 3-33-44-4-6 0-7-4-5-16 1-9-5-7-8-1-14-3-5-4-3-16-3-4 5-4 1-15-14-17-10-4 0 0 6 9 14 2 13 5 12-3 1-10-6-6 7-3 0-10-4-29-28-4 0-5 8-17 0-2 1-1 5 6 18 16 13 10 13 9 8 36 23 21 9 0 3-7 0 2 3 12 4zM597 893l-4-4 7 1 6 3 0 2zM572 887l-11-7-22-11-16-7-11-1 1-2-2-6 0-4 3-2 6 0 22 13 18 9 20 18-1 2-2 0zM563 865l-33-29 5-3 4 1 7 6 8 13 12 12zM858 908l113 0 1-3 1-6-14 1-3-2 0-5 4-6 3-4 2 1 1 7 8 0 8-4 14-11 9-23 9-14 9-4 3-4 3-4-1-3-3-1-4 2-4 1-4-6-3-10-3-1-28 10-3-1 0-13-3-1-10 9-7 0-9-5-3 1-15 15-3-6-5-4-11 2-3-2-6-7-22 8-10 8-2 8 5 13 3 17-2 6-7 11-2 6 8 12-1 3-6 1-8-2-2 5 1 5zM904 876l-2-3 2-4 5-2 3 2-2 7-4 2zM1219 908l18 0 20-6-8 0-31 6zM1207 899l-1 1 21-7 26-15-30 12zM1264 899l14-3 25-12 39-11 3-4-1-2 2-2 19-14-15 2-24 12-10 3-1-2 5-4 1-2-8 1-8 4-12 8 1 2 6-1-23 14 6 0 12-4 24-11 13-8 7-2-36 21-20 6zM1359 874l42-21 41-26-3-3-9 3-12 9-7 8zM1166 845l7-1 19-8 25-18-1-3-6-1-12 4-15 13-16 9zM834 842l3-2 4-13 0-4-3-6-7-4-14 3-11-3-3 0-3 3-1 7 6 13 6 3 17-4 3 2zM1179 814l1 2 4 0 5-3 2-4-2-4-4 1zM1402 811l7-1 24-10 9-10 0-4-2-2-5 1-25 15-5 4zM1362 806l9-2 20-14 25-14 4-5 0-3-5-8-6-1-2-2 2-10-2-5-4 0-18 4-10 6-4 2-4-1 6-16-3-4-3-1-21 12-8 0-5-3-4 1-13 15-2 6 0 4 3 2 11-5 4-1 2 2-10 21 1 3 13 2 20-6 7 8-4 10zM1388 805l2 1 12-6 7-7 2-6-14 8-6 5zM1181 790l7 2 4-1 6-5 9-15 9-19-1-6-7-1-2-3 9-15 1-5-3-4-5 0-5 4-12 16-6 7-8 2-2 14 2 5 5 6 0 9-3 8zM587 786l4-1 5-9-6-10-4-2-3 2-1 8 1 7zM665 787l7-1 7-5 2-5 2-15 3-4 8-5 15-3 18 13 16 5 3-1 6-14 6-5 5-11 3-2 5 5 6 3 10 3 12 1 12 5 12 7 7 1 36-14 8-8 4-2 12 4 8-1 9-16 3 15 7 7 4 1 15 2 13-8 9-3 9-6 4-1 9 13 4 1 13-3 21 8 8 1 28-3 12 1 4 0 8 9 4-1 17-12 4-3 9-1 11-7 7-5 7-10 8-5 4-5-1-16-3-3-9 2-7-3-3-6 11-15 4 2 7 7 4 1 17-16 4 1 7 7 8-1 5-3 10-18 11-15 1-16 6-15-2-11-9-14-15-8-12-11-5-2-9 1-14 11-4 0-9-2-5 3-4 1-13-5-9 3-5 0-9-6-13 8-5-1-8-6-14 3-13-7-4 0-5 2-5 6-4 0-5 2-5 8-4 3-5 2-4 5 4 6 21 18 8 4 9-3 2 5-3 7-9 2 0 2-10 25-2 5 2 10-4 6-4 2-12-5-5 1-14 10-9 3-6 14-4 1-8-2-30 12 0-6-3-5-16-7-5 0-8 5-13 0-8 5-13 0-21 6-12-3-12-1-17 5-4-1-8-6-5 0-8 2-12-2-5 2-7 10-4 1-32 3-9-5-14-15-5-3-12 3-4 3-2 8 3 20-6 5 6 25-4 5-4-1-3-4-7-20 3-8 3-1 0-1-4-1-4 2-8-3-10-7-11-11-4-1-8 0-12 4-10 9-4-1-6-5-2-6 1-15-3-11-5-5-24-14-4-1-8 2-2-2 0-5 7-12 4-1 3 3 6 1 2-6-3-3-9 2-4-2-10-12-5-16-7-5-9 0-16 9-8 9-12 9-6 12-4 2-13-1-7 8-7 3-3 6-3 14 5 8 5 1 17-1 12 8 7 1 6-1 5-4 4-1 7 5 23 25 8 15 5 5 9 4 16 2 32 14 8-1 8 1 0-11 3-3 8 0 10 7 13 16 7 0 9 15zM1105 717l-3-5 1-5 6-5 7-1 11 6 2 5-15 9-4 0zM1166 641l3-3 4 1 0 2-5 2zM509 626l1-5 5 5-4 5zM1138 595l2-15 1-2 4 1 1 11-2 5zM1145 763l3 1 5-2 14-12 8-3-3-1-2-3-5 0-17 14zM1149 734l4 1 4-1 11-7 3-5-2-5-12-2-5 2-4 10zM1562 723l21-26 16-25-12 7-14 13 2 5-1 5-10 15zM104 717l-1-7 6-4-4-9 2-5 6 2 15 13 7 1 2-4-1-13 3-2 12 0 7-9 0-18 21 8 7 6 4 0 8-3 4 3 3 5 8 21 8 5 5-5 2-15-1-6-5-5-15-10-3-5-1-14 12-4-3-7-5-3-4 2-2 6 1 4-3 1-14-1-4 2-3 11-19-7-9-5-5-15-6-5-21 1-9-1-12 4-13-1-5 7-2 10-7 5 1 5 9 10 0 2-2 3-8 2 15 24 20 25zM979 672l9-6 3-5 0-10-5-5-5 5-6 15zM348 666l9 3 0-3-6-2-4 1zM1440 656l4 2 13 0 13-12 22-14 6-1 6-5-2-12-4-1-9 0-12-13-7-3-21-3-4-2-4-7-3-3-18 1-14 6-5-1-8-4-6 1-5 5 5 3 8 2 4 5 1 10-4 3-8 2-5 5 3 2 8 0 4 3 3 7 10-4 4 0 5 12 3 3 14-1 4 1 2 3zM1599 657l3 1 7-4 9-21-5 2-4-1-2-6-7-4-6 4-2 8 2 4 6 1 1 2-2 8zM1232 626l1-6-3 6zM79 613l4-2-2-6-5 0-1 5zM714 585l2-5-2-4-3 4zM506 504l9-2 9-9 5-1 4 2 9 8 5 2 22 0 5-8 2-8-1-5-6-4-4-1-9 6-9-2-4-4-2-5 3-10-1-4-4 0-10 6-4-3-8-9-9-1-5 2-3 4-1 5 1 10-4 10 2 10 4 8zM1427 433l5 0 4-3 1-3-2-5-11-10-5-1-1 6 1 5 3 5zM184 382l4 3 5-1 16-8 3-5 3-10 15-25 15-16 1-5-1-2 3-8 9-10 0-5-10-5 4-10-11-2-5-9-15 6-6 5-7 10 2 5 2 2 8 1 0 2-5 30-4 6-4 2-13 0-2-2 0-6 2-10-2 0-7 10-3 16-16 25 13 8zM448 338l4 1 5-2 5-6 1-6-5-6-4-1-5 2-4 5 0 9zM1449 331l5 1 3-1-2-6-19-21-8-5-4 0 2 11-1 5 2 5 8 9zM251 318l8 1 7-4 3-8-2-5-4 1-3 2-10 10zM407 318l5 0 2-3 8-20-1-5-2-2-8 1-7 6-1 5 5 10zM479 306l3 3 9-2 2-2 2-5-1-4-8-12-3-2-13 2-7-2-1-2 1-5 11-15-4-4-5 4-7 10-16 10-1 5 2 17 3 2 14-5 9-1 4 1zM1414 276l5 1 1-2-6-4-6-1zM181 271l4 0 1-1-3-1zM1038 265l4-5-2-5-5-1-1 6zM1099 266l2-6-2-5-3 2 0 3 1 5zM1199 266l5 3 3-4-5-1zM1475 256l6 2 3 0 4-8 13-9 5-9 0-4-4-7-12-10-24-9-18-9-10-3-12 1-2 2 1 3 4 6 9 9 11 15zM323 235l3 1 11-6 5-8 0-4-4 0-5 3-8 9zM1011 223l5 2 2-3 2-11-2-2-4-1-6 5-1 3zM1114 217l4 0 0-6-5-3-3 1 0 2zM893 208l7 0 3-6-4-2-7 2-2 5zM777 198l4-1-3-12-3 3zM288 177l1 2 4 0 9-4 26-18 11-10-5-1-9 2-24 13-5 4zM365 132l13-4 14-8 9-5 9-9-24 7-27 11-1 4 6 0zM832 92l5 0-1-2-4 0z"/>
<path fill="#74bd77" d="M416 908l26 0-85-34-7 0 5 5-3 0-22-6-4-3 10 1 3-1-9-10-20-16-25-17-7-9-6-5-44-16-4-1-2 2 7 11-7 4 20 14 13 13 22 11-22-9-1 1 2 3 11 7 42 21 8 2-4-4 2-1 9 2 58 23-12-1 7 4 20 6 6 1 3-1zM557 908l13 0-3-3 8-4-14-11-19-10-1-2 5-1-6-4-12-6-4-1-3 2-3 1-7-4-8-10 4-9 7-2 8 2 17 11 14 5-17-18-30-18-10 4-7 0-5-2-9-10-19-15-4-1-3 4-15-1-6 2 0 6 8 14 14 13 9 13 8 8 41 25 8 1-4-7 5 0 8 4 14 9-16 6 4 2zM612 908l9 0-9-2zM626 908l10 0-15-5-1-1 12-1-1-2-12-11 9 2 1-2-9-15-22-30-6-4-10 0-16-12-4-4 1-9-2-5-6-5-8 0-3 7-10 6-4-1-7-7 0-9-3-5-12-9-3-2-3 1 9 15 4 18 6 9 5 3 9-1 6 4 12 11 10 13 9 8 1 4-3 3 3 4 10 8 11 2 17 7 4 3 1 3-3 0 0 2zM585 861l-3-4-1-4 3-3 10 7-5 4zM860 908l49 0 6-3 3 1 0 2 17 0 9-9 2 2-6 7 29 0 1-3-1-4-14 1-4-3 0-3 11-17 4-1 2 1 0 9 4 1 8-3 16-13 6-20 8-13 3-9 0-4-5-13-3-2-4 1-8 5-27 8-4-7-16-9-4 2-4 6-7 15-4 1-3-3-4-13-3-1-7 3-3-1-6-7-7 1-8 6-7 0-5 4-2 8 6 30-3 19-4 7 3 12-11 4-5 5zM893 896l0-6 1-2 9 2-4 6-3 2zM911 893l0-6 12-8 0 5-5 6-5 4zM907 884l-6-8-1-7 5-4 8-1 2 5-1 4-3 7zM888 869l-1-4 7-4 1 4zM952 853l4-5 4-2 3 0 1 3-2 4-3 3-3 1zM1229 908l6 0 13-4-21 4zM598 902l9 1-3-4-16-7-5 2-13-4 2 3 10 6zM1305 869l7-4-3 0zM808 832l3 2 7-2 16-1 3-4 0-4-3-5-3-1-10 1-7 3-7-3-4 0-1 5zM1191 832l5-2 10-7 0-5-10 5-6 6zM1409 805l2 2 5-2 12-5 7-5 3-5-2-2-5 1-9 5-8 6zM1370 799l8-4 10-10-14 5-3 5zM1188 786l4-1 8-9 8-19 0-4-9-1-2-5 11-15 2-5 0-3-4 0-3 3-9 15-13 15-1 4 5 10 0 13zM1335 786l6 1 17-5 3 0 6 5 8-1 17-17 1-3-4-2 0-3 7-10-11-1-14 7-7 0-1-3 3-12-1-2-3-2-19 10-12 2-4 2-6 5-1 4 2 1 11-4 6 2 0 4-3 13zM664 782l4 1 4-2 4-5 1-5-2-2-8-1-9-5-2 8 1 5zM1394 782l15-6 3-5-2-5-8 5zM738 762l4 0 4-3 8-17 4-15-2-5-3-2-21-2-15 3-5-2-14-14-9-6-4 0-6 3-3 5 0 5 9 20-10 3-3 7 2 5 5 7 7-2 6-8 24 0 10 14 4 2zM641 757l12 2 3-2-1-10-7-15-12-8-11-12-8-2-9 0-5 2-11 14-4-1-12-13-2-5-1-20-5-7-20-13-4 0-5 14-5-1-12-17-5-1-8 1-2-2-3-5 0-5 4-10-6-14-5-7-6 6-5 8-9 1-3 5 0 6 8 10-4 0-6-4-17-2-5 1-7 6-7 4-3 10 0 5 4 4 5 1 12-2 11 8 9 4 4-1 7-7 4 0 8 4 15 18 14 12 7 15 6 5 9 0 7-3 16 11 12 3 7-1 7-7 15-2 8 1 5 2 12 15zM826 757l4 0 8-6 24-7 12-11 4-1 12 3 4-2 5-6 5-15 9-5 4-5-4-5-8-2-9 4-8 0-8 5-13-1-25 5-28 0-13 2-4-1-8-5-4-1-8 5-9-3-4 0-3 2 0 5 2 5 13 20 11 4 8 1 13 5zM1079 753l5-1 5-4 16-16 2-5-4-5-7-5 2-10 3-5 14-10 5-11 9-10 4-10 2-15 3-6 5 1 1 15 3 6 4 2 4-3 2-10-1-10 2-5 3-2 18-5 3 7 0 15 5 4 5-1 18-23-1-11 8-15 1-5-1-5-2-4-9 0-1-11-4-5-11-5-8-8-4-1-5 1-10 14-9 4-5 15-5 5-6 2-4-5 1-22-11-8-5-1-13 4-9-5-4 1-10 7-13-6-13 2-13-3-1 5 9 12 1 7-1 10 1 15-4 11-2 10-5 5-4-1-4 1-3 5 0 5 5 10-2 5-14 12-8 1-8-4-5 1-9 10-9 3-6 13-5 3-4-1-7-4-5 0-10 7-4 5-5 10-4 0-3-3-8-1-5 4-2 5 0 5 2 5 6 4 16 2 10-6 11-4 9-7 4-1 4 3 6 11 4 2 12-4 11 3 8 1 11 5 44-4 4 2zM1184 615l0-5 2-1 2 1-1 5-2 4zM1152 727l3 3 6-3 0-5-2-1-4 1zM1571 713l25-36-15 10-3 15zM95 707l-6-10 1-5 6-5 0-6-12-5-12 1 25 34zM1139 707l6-5-3-6-5 3-2 3zM127 697l5-12 13 1 3-2 4-13-2-10-8-10-5-15-9-3-12 1-10-2-21 0-4 4-1 10-3 10 4 5 14 10 2 10 26 16zM219 697l2-2 1-8-2-6-8-4-2 5 1 5 2 5zM1450 652l5 0 26-16 5-5 2-5-5-8-5-13-4-4-17-3-16 2-2-2 0-8-2-4-4-2-5 1-8 5-11 10 2 20 5 3 3 4 3 9 3 4 4 0 19-4 2 5-2 5zM523 646l4 1 4-1 2-5-9-14-5 14zM519 620l3-5-4-5-4 0 1 5zM1032 607l5 0 11-7 0-10-5-8-14 2-4-5-4-2-6 8 1 3 12 17zM511 499l5-6 0-5-5-9-4 0-4 4-1 5 4 9zM547 499l4-1 4-5-13-3-2 3 2 4zM529 484l4 0 2-1-1-5-5 3zM183 372l4 1 2-2 8-16 4-4 9 3 5-2 9-11 4-10 10-11 3-5 8-20-8-5-3-8-5-4 2-8-3-3-11 4-8 9-1 4 3 3 8-1 3 2-5 17-2 20-2 6-9 6-5 1-8 0-6 3-15 20 1 5zM200 374l4 1 3-4 0-7-7 7zM450 333l4 0 3-2 1-6-2-2-4 0-3 2zM1437 324l9 0-1-4-9-7-3 2 0 5zM480 302l4 2 4-1 2-3 0-5-5-7-4-2-18 4 8 2 2 3zM453 295l6-5-3-1-2-5-3-3-3 4 1 10zM1479 246l11 0 7-6 6-12-3-7-13-10-40-17-10-3-5 2-2 4 2 5 9 9 10 15 16 14zM300 170l19-9 12-9 1-3-10 3-8 5-12 8zM369 128l1 2 5-2 9-4 14-9-3-3-23 8-6 4 5 2z"/>
<path fill="#52a75c" d="M421 908l20 0-44-15-34-14-2 0 4 5-9-1 38 16 34 9-12-1zM562 908l3 0-2-3 1-3-2-5 5 0-1-1-23-12-10-9-7-2-2 0-1 2 1 5 20 16-6 3-6 0-1 2zM863 908l43 0-3-3 12-2 8-7 2 3-4 9 13-1 2-4 1-7 14-6 9-14 8-3 3-4 2-8 3-4 5-1 4 3 4 0 9-6 6-7 4-6 2-9 0-4-4-7-3-3-12 7-7-1-9 4-9 9-1 4 2 9-2 4-3 4-8 3-5-3-1-4 2-4 10-9 2-4-2-9-3-6-8-7-4-1-5 5-2 5-2 13-4 8 6 8-1 5-14 3-7 13 0 3 1 2 8-4 2 2-1 8-6 9-9 6-6-4-7 5-7-1 0-12 6-7-1-9-3 0-13 6-6 10 3 14-11 3-5 4zM953 907l0 1 13 0 1-3 0-2-5 0-8 2zM396 903l-4-2-11-3zM596 899l3 1-5-4-4 0zM624 899l3 0-2-3-9-6-6-6-1-2 16 4-1-4-8-9-16-9-5 0-3 4-7-3-8-8 0-11 3-2-3-4-28-20-4-2-6 3-1 2 1 4 18 17 22 25 1 5-3 0-1 1 0 1 6 4 31 12zM971 887l4 0 5-3 11-11 4-4 2-8-3-1-6 5-2 8-4 3-5-1-3 1-4 8zM501 878l-1-5 11 1-14-17-8-17-16-17-5-5-10-4-22-6-6 1 0 4 3 5 21 22 4 9 6 8 13 8zM308 872l-2-7-39-14 2 3 13 7zM321 865l10 2-6-8-7-6-42-26-3-9-29-14-17-5-1 2 2 3 11 12-6 1 0 1 29 22 29 15zM880 861l3 3 10-7 3 1 5 6 10-3 5-4 1-13 3-8-3-13-12 5-3-10-2-2-3 0-4 2-8 10-7-1-2 4 0 9zM539 854l3-1-4-4-8-5-3 0zM595 853l5 2 2-1-8-10-3-1-7 1zM502 841l17 1 3 0 0-2-10-9-6-1-4 4-6 2 2 4zM526 826l3 0 1-3-11-11-2 1 4 10zM1418 801l5-1 7-5 0-2-6 2zM1343 782l2 1 16-5 4 0 4 4 3 0 4-1 6-5 0-5-2-2 4-12-3-1-20 5-3-1 2-13-3-1-6 2-5 4-1 5-2 12zM1190 777l4-1 4-5 2-5 0-6-7-1-5 2zM738 757l4 0 3-4 1-6-3-5-4-4-4-1-7 7-1 8 7 4zM647 752l4-1 0-4-3-7-5-5-4 2-2 10 6 4zM823 753l3 1 12-6 24-7 12-11 4-1 12 2 5-4 2-5 0-15-5-4-13 6-12-2-8 2-21 2-12 4-16-3-8 2-5-1-8-6-4 0-7 10 0 10 3 5 13 4 8 6 13 5zM681 748l3-1 0-5-4-2-3 2 1 5zM1081 748l4 0 6-6 3-9-10 5-3 4zM574 743l12 0 2-6 0-5-3-5-13-15-4-20-2-5-8 3-17 1-5-3-11-13-6-4-3 3-3 7-7 6 0 5 3 5 23 18 4-1 4-13 7-6 6 8 7 14 2 15 3 5zM1028 742l24 0 21-6 7-4 10-20 1-15 2-3 9-3 5-4 1-6 15-7 5-8 2-5-2-10 1-5 5-9 5-4 9-2 10-5 8 2 9-2 3-6 0-10 3-5 6-2 4 0 2 2 0 10-6 16 3 8 5 0 5-3 4-5 0-11 9-15 1-5-4-3-5 1-4-2-4-16-11-5-5-4-4 0-26 29-8 5-9 2-2-2-2-5 3-10-1-10-2-5-6-6-5-1-13 5-9-4-5 2-9 8-13-8-11 4-2 5 1 20 2 15-7 11-3 15-8 10 0 10-2 5-16 15-13 3-8-3-5 6-3 10-8 6-13 6-5 2-3-1-8-6-4 0-4 3-7 10-4 15 3 3 12-4 7-4 7-8 4 0 4 2 6 15 3 2 13-4 11 3 9-2 3 1zM1075 651l1-3 7-2 0 5-7 1zM1085 646l11-5 4 0-1 5-6 2-4 0zM1092 615l-2-10 5-6 4 0 6 6-1 5-3 5-4 3-4-1zM699 738l8 2 4-3 0-10-2-5-10-12-9-4-3 1-2 5 1 10 6 10zM922 737l4-1 2-4-1-5-4-5-4 2-2 3-1 5zM602 733l13 1 15-7-2-5-5-5-14-4-6 4-3 5-1 5zM734 731l3-4-4-2-2 2zM117 689l5 0 2-2 0-9 4-1 11 5 5-1 1-5-3-10-4-2-9 0-5-3-4-15-7-7-8-3-19-1-3 5 0 16 5 5 9 5 5 5 4 10zM469 687l5 1 3-1 6-9 9 0 3-3 4-19-2-9-4 1-4 3 1 10-6 4-4 0-11-7-13-3-4 1-7 7-7 3-1 5 3 5 5 1 7-4zM1458 643l15-7 3-5 2-16-4-10-5-3-9 0-27 6-4-3 5-10 0-5-2-1-5 1-9 10-1 5 1 10 3 5 4 16 5 1 4-1 5-1 11-8 4 1 4 4zM1033 602l4 0 3-2 3-5-2-5-3-2-6 2-3 5 1 5zM224 321l4 1 6-3 6-9 3-10-4-6-4-1-4 0-5 7-4 15zM218 282l6-2 5-5 0-3-4 0-5 3-3 5zM1474 241l9 2 8-3 5-5 2-11 0-3-7-6-40-18-11-3-5 1 0 7 9 9 9 15 11 9zM376 125l-1 1 7-2 9-6-9 2z"/>
<path fill="#348e48" d="M435 908l3 0-57-18-7 0 22 9zM865 908l32 0-1-5-7-2-2-2 2-19-1-1-11 8-1 3 4 11-1 3-3 2-7 0zM958 907l3 1 3-1 1-2-5 0zM555 905l4-1-3-4 2-1-8-9-15-10-6-1 2 5 20 14-6 1 0 2zM928 891l5 2 9-3 5-3 1-3-6-10 4-9-1-5-3-1-12 6-3 4 3 7-2 11zM604 887l4 0-6-7-18-11 6 11zM613 880l5 2 2-1-8-8-6-4-5-1 1 5zM501 869l-1-4-15-12 2-4-1-5-12-17-11-7-12-2-11-6-5 0-2 1 3 5 12 9 13 17 3 9 3 4 5 4 14 6zM953 870l9 0 4-5 10-21 9-13-2-4-4 1-5 3-4 9 1 9-2 4-9 8-7 4-1 4zM299 868l1-1-2-2-8-4-13-5 6 5zM320 863l4 1-5-7-6-4-7-2-1 4 2 2zM881 857l2 3 11-5 3 0 5 5 3 0 6-3 2-4-2-7-11-15-3-8-9 8-9 5-1 8zM293 853l-8-13-18-13-1-3-9-11-16-9-11-2 1 3 9 8 14 9 11 5-13-1-1 2 8 8 17 10zM985 853l6 0 12-9 3-9-1-5-6-1-5 2-13 18zM571 850l2-1-3-9-17-13-8-3-2 3 3 4zM942 829l9 2 2-4-5-10-3 0-5 6zM1351 777l20-6 4-5 0-3-19 3-6 5zM822 749l4 2 12-6 24-7 8-8 9-4 9 1 5-5 0-5-1-5-13 1-8-2-12 2-17 0-8 3-8 6-16-5-8 4-4-1-8-8-5 0-2 5 1 5 2 4 12 2 4 9 16 8zM572 739l9 0 3-2-1-5-8-11-5-4-4 1 0 14 3 5zM1029 738l19 2 23-8 7-5 7-15 1-15 1-5 8-11 2-10 7-10 1-6-4-2-27 8-14 9-8-4-5 1-11 9-3 5 4 6-1 5-6 1-4-1-3-4-4 0-9 3-17 16-11 15 0 9 4 4 13-5 11 2 9-3 4 2zM698 733l5 2 3-1 1-7-2-5-5-5-4-1-4 6 2 5zM605 727l4 2 4-1 4-6-7-4-3 1-2 3zM951 727l5 0 5-5 1-5-5-5-4 2-5 8 1 5zM563 710l2-8-5-4-1 4zM526 697l5 0 0-5-4-6-4-3-10 9 5 4zM468 683l4 2 4-3 2-6-1-5-4-5-9-5-7-2-4 2 0 5zM136 677l4-1-3-5-5-1-1 1zM1119 670l4-4-2-5-4 5zM102 661l10 4 4 0 2-6-3-13-5-5-5-2-17 1-1 6 3 10zM1053 658l4 1 5-3 11-16 13-2 14-7 4 1 4 2 8 11 4 0 4-1 12-18 9-1 14-13 5 0 2 3 0 5 5 2 2-2 0-5-5-5 0-10-3-3-4 1-10 9-10 3-9 9-9-14 7-15 0-5-2-9-5-4-4-1-14 6-8-3-5 4-5 8-4-1-13-10-5 2-2 3-2 20 6 15-2 5-6 6-3 5-5 20zM1088 620l-1-15 3-9 5-2 4 0 10 6 2 5-10 17-4 2-5-1zM1427 632l4 2 9-3 6-11-2-5-4-2-4 0-6 2-4 5zM1459 626l4 3 4 0 5-9 2-10-6-5-9 1-6 4-3 5 3 5zM1198 616l5-2 3-4 1-5-3-1-4 2-2 4zM1174 597l4 3 5 0 9-3 2-2 1-5-2-4-12-7-5 0-4 6-1 5 1 5zM231 316l5-6 2-5 0-3-2-3-4 0-5 6 0 10zM1469 237l11 2 3 0 9-7 1-3-4-13-41-19-8 0-2 1 1 4 8 10 8 14z"/>
<path fill="#197435" d="M872 908l22 0-3-3-7-2-4 4zM881 895l4-2 0-3-2-2-4 2zM545 890l-8-5 1 2zM936 887l2 0 1-3-4-6-2 6 0 2zM600 884l1 0-2-4-7-4 1 4zM884 857l13-5 6 5 3 0 3-4-11-21-4-2-10 6-4 4 0 9 1 5zM281 846l-2-6-6-4-10-2 6 6zM472 847l7-6-1-5-11-11-8-3-3 5 2 9 9 8zM991 848l5-5-3 0-3 1zM252 818l4 1-4-6-6-4-7-4-4 0 8 8zM826 742l16-1 16-6 20-13 0-5-7-2-12 2-13-2-8 1-5 6-3 7-4 5-8-8-8 1-3 5 3 5 12 2zM1045 737l5 0 13-7 9-2 5-6 6-15-2-15 10-16 1-5-2-6-17 2-10 9-4 1-9-2-4 1-2 5 1 6 0 5-10 5-10 3-7-6-4 0-13 13-13 15-2 5 1 2 4 0 5-4 4-1 7 3 9-5 4 0 10 12 3 2zM570 733l5 2 4-3-7-7-3 4zM104 656l5 2 4-1-1-6-3-5-6-2-9 2 2 5zM1432 630l6-4 1-6-4-2-4 2-2 6zM1075 622l4 0 4-7 0-20-5-9-4-3-5-2-3 4-2 10 1 5 7 10zM1114 622l4-7-3-1-3 6zM1460 622l4 1 6-6 0-7-2-1-8 1-3 5zM1108 592l9 3 5 0 4-4 1-9-4-7-4-2-4 2-10 8-5 2zM1465 232l11 3 3-7 8 0 0-2-6-10-7-5-27-12-3 1-2 2 3 5 10 9 0 7z"/>
<path fill="#0c5c28" d="M884 854l4 0 10-6 2-4-1-4-2-4-3-2-11 6-2 9zM466 837l2 0 3-5-3-3-3 0-1 2 0 5zM838 737l8-1 8-4 4-5-2-5-10-5-8 3-3 7-1 5zM1042 732l8 1 10-6 13-5 4-5 3-10-1-7-4-8 0-5 6-11-1-1-4-2-4 2-6 9-5 3-5 0-1 5-5 5-17 3-9 7-2 5 5 10 8 7zM1005 718l4 1 4-2 5-5 2-5-3-7-4 0-7 7-2 5zM1068 597l4 3 5-5-4-6-4 1zM1113 587l5 2 4-2 1-2 0-6-4-2-6 3-2 5zM1466 229l0-3-5-2zM1468 217l10 3-6-6-18-9-5-1 0 3 6 4z"/>
<path fill="#00441b" d="M885 851l3 0 3-2 5-5 0-4-3-3-6 3-3 4zM842 732l4-1 5-4-2-5-3-1-5 1-3 5zM1047 727l5 0 4-5 2-10-2-3-3-4-12-3-8 1-5 4-1 5 1 5 5 4 8 1zM1066 718l4 0 6-6 1-5-3-6-3-2-4 3-2 5-1 5 0 5z"/>
<path fill="#ebddec" d="M468 908l12 0-35-10-13-2zM524 908l4 0-10-5-23-7-25-15-14-4 10 7 39 19zM676 908l8 0 2-2 11 2 8 0 2-2 6 1-7-5-3 3-5 1-17-4-9 3zM730 907l9 1-8-3-5-7-6-1-4 2 0 2 5 4zM748 908l7 0-5-4-4 2 1 2zM800 907l7-2-9-6-1 2zM820 908l4-2 1-3-1-1-7 1 0 3zM980 908l37 0 32-7 15-8 33-24 1-2-10-1-4-5-1-4 10-13 13-13-7-2-8 3-3-1 1-8 6-10 6-3 14 1 6-2 5-5 10-18-1-5-7-8-3-1-9 3-11-8-7-2-5 1-11 10-5 5-9 17-13 11-11 18-11 26 0 8-11 12-4 1-8-2-5 4-11 13 1 2 3 0 19-8 2 1-1 3-10 9-14 4-6 5-10 3zM1043 893l13-6 4 0-1 3-7 5-3 1zM1069 865l9-10-2 6zM1098 908l28 0 22-6-10 6 26 0 20-5-7-1-16 2 15-7 6-1 1 2 49-22 10-7-2-1-11 3-1-1 7-5 11-5 4-1 4 2 6-2 22-10 32-25-2-2-10 0-2-1 6-12-1-3-7 3-16 16-1-2-1-6-4-3 3-6-1-3-5 1-21 12-20 18-7 5-9 3-12 13-7 4-15 1-34 17-3-2-15 7-4 1-2-3-6 2-23 15 2 2 13-1zM1112 899l11-9 6 0-1 5 10-1-6 5-5 1-3-1-10 1zM1184 893l18-9 6-2-10 8-16 6-1-1zM1212 869l14-10 5-1 1 1-5 6-8 4-6 1-2 0zM765 900l6 0 5-6 7 5 3 0-5-5-13-9-11 5 4 6zM741 897l3 1 0-2-2-6 2-6-3-8-6-3-3 3 4 11 1 6zM667 891l-5-6 0 2zM810 891l4-1 0-6-8-2-2 2zM692 887l3 1 3-1-12-18-3-4 1-4 8-3 6 1 14 17 2 2 3 1 1-6 0-12 4-4 27-4 11 5 2-1-9-17 0-4 6-12 4-1 8 9 3 0 3-9 7-5 4-12 3-5 14-6 4-4 3-1 2 5 6 5 4 0 10-7 4 1 10 16 4 3 3 0 18-6 4-3 8-11 4-2 7 0 15-3 3 2 3 7 4-2 4-9 1-10-1-3-22-11-19 2-15-2-16 2-15 6-11 1-12-2-4 1-3 6-4 2-8-5-8-11-8-2-4 0-1 11-8 12-6 4-16 3-4 5-3 9-3 1-6-5-5-14-4 0-4-3-6-7-4-3-4 0-6 8 0 19-2 10-14 2-7 8-3 1-21-17-6-14-3-2-3 1-12 11 2 9 6 9 0 5-2 9-9 4 0 4 2 4 5 3 18 3 1-4-3-13 1-6-7-9 1-4 2-2 4 2 16 13 3 4 1 5-1 8 10 32 8 7zM740 836l-4-5 0-4 3-1 6 5 0 5zM710 818l-3-5 1-1 3-2 4 3-1 5zM763 809l-1-5 4-6 4 4 1 4-3 5zM831 887l1-3-4 0zM820 881l3-1-3-3zM425 877l14 3-1-4-15-7-6-2-4 1 3 5zM788 877l0-8-2-4-3 1 0 7 2 3zM1118 878l4 1 18-10 7-8 0-6-7 1-14 7-8 2-7 4-7 6 14-4 2 1zM393 874l1-1-6-4-32-16-17-13-19-16-6-3-4 2 2 4 14 9 15 13 36 19zM462 869l4 1-9-9-35-16-6 1-3 5-12-2 2 4 18 10 19 5 13-1zM1124 846l1 2 4-4 5-4 2-6-5 2zM378 823l9-1 16 3 3-1 1-2-6-9-5-4-11-6-11-4-6-4 0-3 11 0 32 12 3-1 0-13 2-2 15 1 1-3-5-10 0-15-7-18 3-1 20 10 4 5 0 4 6 5 4 0-4-6-6-3 1-5 10-4 8 1 3 3 8 19 3 2 3-1 7-6 2-4 6-3 3-7-1-5-7-9-4 1-3 10-4 1-7-3-3-5 0-10-8-6-8 1-5 6-3 2-9-1-8-7-5-10 0-3 6-7-16-15-15-6-6 4-9 1-4 17-2 5-3 2-16-7-8 0-3 4 2 10-1 15-1 1-4 0-17-7-2 1 0 5 3 13-8-1-8 3-3 4 1 5 4 10 19 15 16 18 16 14zM1244 815l1 3 6-5 14-14 3-12 7-11 1-4-1-9-2-2-9 2-15-1-9 2-12 7-4 5-1 8 1 3 13 2-1 6 9-2 2 2 2 9zM1445 810l6-1 6-5-2-1zM580 808l4 0 3-1 1-3-1-4-16-14-7-10-4-1-2 6zM988 801l4-1 14-9 5 5 7 2 4-2 11-9 12-2 2-4 1-16-3-1-14 7-4 0-13-7-15-1-6-7-4 0-3 5 2 15-4 14 2 7zM1046 800l3-5 1-5-2-5-2 5zM270 795l14 3 4-3 0-5-14-15-11 0-7-4-11-14-7-14 3-2 1 1 25 21 5 1 2-7-29-27-7-3-8-1-11-4-8-5-13-13-6-3-2 1 1 5 11 15-2 2-11-4-11 7 3 10 10 15 12 8 14 1 17 11 22 9 0 1 5 8zM961 796l3-1 8-5 1-4-2-5 5-15-3-14-5-7-4 0-4 2-10 10-14 9-2 5 5 9 17 7zM297 766l5 0-4-3zM1445 758l4-1 8-4 26-21 11-10 11-15 10-8 35-18 6-5 3-5 1-5-6-14-12 7-10 2-12 8-4-1 0-2 13-10 0-17-4-1-12 8-23 4-15 16-7 5-33 14-10 7-3 5 2 14 8 2-3 14 5 5 1 4 9 0 2 1 2 10zM487 735l5 1 3-3 1-11 0-5-3-5-7-5-11-1-3 2 0 4 2 10 3 5zM1504 735l8-10-3 2zM1351 718l21-6 19-14 3 1 3 4 5-3 10-8 1-5-2-3-11-4-1-4 3-15-1-4-7-4-9-12-13 0-11-8-26-2-8-5-2-4 3-17 7-15 1-5-2-10 1-5 7-5 5-6 0-5-3-2-5-1-8 3-6 8-5 0-3-6-3-12-7-15-4-15-2-21 0-5 5-7 13-8 13 1 13-5 3-6 0-10 5-2 3 7 2 10-6 15-2 15 3 5 13 6 3 5 2 15 4 10 1 6 4 2 5-4 1-4-4-5-1-5 14-4 4 2 1 7 11 19 13 1 12 9 9 3 7 9 5 1 13-1 4 2 12 10 4 0 10-5 4 0 12 10 4 1 10-5 4-1 15 14 17 2 8 3 5-2 10-14 22-10 6-5 3-5-4-11 1-5 4-5 5-3 13 3 4-46-1-30-4-36-7-30-10-36-13-30-18-31-18-25-31-35-27-25 3 5 2 9-11 21 3 15 5 10 6 25 19 26 4 10 0 10 7 10-1 10-8 11-1 10-5 6 0 4 2 15-6 5-5-3-5-12 4-25 1-4 8-4 1-12 3-6 0-5-7-10-9-26-3-5-7-5-33-20-5-2 2 12-1 3-3 2-8 1-3 2 0 2 2 10 10 13 5 2 6-6 4 2 0 10 3 15 0 10-2 10 1 11-7 10 0 15-3 4-17 1-8 5-1 5 2 10-6 15 0 11-3 6-5 3-4 2-14-1-6-5-8-13-5-1-13 5-5-3-3-19 1-7 4-4 9 0 4-3 1-6-3-25 1-16-6-25-3-5-20-20-11-6-5-5-2-5 1-4 5-7 2-9-5-20-6-15-2-6 3-2 18-2 6-7 3-10 8-4 2-5 3-1 16 1 14 6 4 1 2-3-4-7-8-9-30-33-3-4 1-1 33 8 6-3 29 12-5-7 0-2 4 2 9 9 24 14-51-37-41-25-40-20-45-18-2 2 17 9 42 15 37 20 4 4-6 2-5-2-23-12-23-8-16-8-31-7-43-13-17-8-14-4-14-2 6 3 28 11 16 11-8-2-38-15-5-1-1 1-16-3-6 1 27 8 20 9-3 4-8 0-35-10 24 21 12 8 17 8 20 12 5 2 4-2 16 9 1 2-1 2-8 0-1 2 5 8 17 18-3 5 1 5 17 19 11 9 3 5 2 17-4 0-18-17-11-5-19-12-8-11-3-10-5-5-27-12-9 1-9-3-13-13-2-9-4-4-14-3-11-6-4-4-4-8-5-6 1-2 6 0 17 4 5-1 2-1-1-2-30-14-8 0-9-2 17 16-18-5 16 17 0 1-3 0-18-11-29-9-2 1 4 6 12 9 9-1 7 4 1 4-4 0-15-6-2 0-1 3 5 7 17 17 3 5 0 9 4 4 14 9 3-1 4-4 7-5 5 1 20 14 19 24 14 14 14 10 0 5-3 1-17-1 10 20 5 5 22 7 7-2 4-8 10 3 6 5 7 15-1 14-3 3-7 3-3 5 0 11 3 5 9 8 5 2 12 0 3 6-10-6-5 0-15 6-6-1-4-5-3-10-17-16-4-5-5-4-8-1-8-5-4-5-2-15-1-1-5-3-4 1-6 5-4 1-15 4-5-2-17-15-4-5 3-5-2-6-9-2-26-16-4 2 1 17-1 1-12 1-2 3-5 26-3 4-10 6-15-7-12 2-10-11-5-2-4 0-4 2-6 8-5-2-19-21 0-10-5-3-8 3-2 15-7 19-3 3-16 6-5-3-3-5-4-16 4-3 8-1 9-5 4-5 0-5-1-5-5-5-4-1-12 6-9 8-4-1-3-2 0-5 2-15-4-5-3 4-8 6 1 10 7 10 1 20-2 2-8 1-13-1-3 1-3-3-3-15-5-9-12 1-19 10-4 0-17-8-6-4-5-10 3-12 7-2 0-2-4-3-7 1-1-2 8-15 3-1 8 7 2-5-1-14 6-9-3-5-9-4-4-10 3-4 20-5 0 5-6 9 1 6 3 2 16-4 3-4 1-5 0-9-9-5-7 1-3-4-1-9 3-2 3 1 12-6 3 0 7 3 8-4-5-4-12-5-15-18 1-5 8 2 3-1 0-2-2-6-4-5-2 0-1 5-3 4-17-3-10 3-4-1-5-6-5 0-15 3-15-6-11 6-6 0-11-4-19 9-3 0-3-6-2-1-14 5-10 6-12-3 0-8-2-1-10 0-7 3-11 12-6 3-7 4-15 20-15 8-3 4-1 9-2 4-15 14-5 9-11 9-5 14-10 10 0 4 3 1 2 3-4 11 1 5 6 5-8 15 0 5 8 0 3 5-15 7-5 5-24-3-4 1-7 5-6 9-5 4-4 1-4-3-1-6 12-10 13-35 12-15-1-14 3-10 10-9 14-2 15-7 1-14 3-9 13-18 6-12 12-12 0-6-3 0-3 2-23 24-4 3-3 0-5-2-1-3 15-18 2-4 1-9-2-1-4 1-9 5-22 32-12 13-1 5 0 9-2 4-13 16-6 5-10-2-1-5 1-6-8 1-17 10-4 0 2-8-2-2-1 1-4 4 2 5 3 0-3 5 4 12-4 11 0 5 14 17 2 6-2 12-7 10 3 5 0 5-4 10 3 10-1 5-6 8-11 8-10 11-15 6-3 3 0 10-5 10-20 11-4 2-4-3-1-5 7-10 1-5-4-5-10-7-12-3-7-5-8-2-11-7-10 5-9 0-9 2-8-2-2-6 5-11 4-3 10-3 7 2 6-3 1-3 0-5-8-5-3-10 5-10 11-15 2-5-3-5 2-5 9-10 8-14 29-19 2-4-6-2-3-6-3 0-12 1-5 2-19 14-7 0-4-5 1-4-19 8-5 5-5 14-8 15-20 20-10 20-12 10-22 24-12 27-11 10-3 5 1 10-2 5-7 5-13 0-9 2-10 7-10 2-15 8-4 1-9-2-15-9-23 2-16-5-4-11 2-10 14-15 8-26 3-5 5-3 5-2 4-5-3-3-5 2-4-2 1-8 11-20 4-14 16-20 22-15 13-19 16-6 26-17 6-7-2-1-13 2 3-3 23-18 21-13 2-6 15-14 54-25-7 0-60 25-45 24-65 45-51 43-40 45-28 40-11 21-9 20-14 51-6 36-3 35 0 31 4 33 1-13 10-20-2-5-8-11 1-5 12-10 4-2 23 1 14-4 6-5 3-5 5-5 9-6 5 1 3 5-3 5-10 5-5 5-2 5 2 5 13-2 9 0 5-1 9-6 4-1 5 1 4 4 2 10 2 4 9-1 9-9 1 11-9 18-4 1-4-3-6-13-9 2-4 7-4 19-3 4-10-3-4 0-13 10-12 4-15 23-4 3-8 1-3 4 1 5 4 5 6 1 7-6 9 0 5 2 11 10 10 5 23 5 18-1 15 7 17-1 3-2 4-6 4-2 4 1 14 12 7 3 14 1 7 7 1 5-1 15 2 15-7 5 1 5 8 16 8 10 22 11 4 0 10-5 12 7 4 1 7-4 8-26 0-5-4-10 2-12 0-14 3-5 13-4 9-11 4-3 5 1 18 22 5 4 3-4 0-9-9-16 0-15-8-7-14-2-18-16-4-5 2-11-2-5-10-5-14-15-3 0 3-4-3-27 1-5 5-6 14 4 13-3 9 1 6 4 3 6 5 3 9-3 13 1 9-5 5 1 5 18-9 2-5 4-2 9 1 5 2 3 5 0 13-8 9 6 3 4 0 5-7 21 7 4 4 1 13-9 4 0 10 6 9 4 17-5 15 11 19-2 2-2 4-13-5-10-5-16-10-18-5-4-13-6-8-8-6-3-14 6-4 1-9-2-9-9-13-2-14-6-4-5-1-5 3-5 10-5 4-5-2-5 1-6 2 1 2 3 18-1 19-18 4 0 5 3 9 1 13-6 13 4 14-2 22 1 9-2 18 0 4 1 8 11 10 7 17 7 14-8 4 0 2 4-1 10 6 15-2 10 8 4 14 3 9 5 9-2 4 2 2 4 0 5-2 5-4 5-5 3-9-1-9-4-4 2 1 10-2 5-10 10-3 5 2 11-2 5-7-1-12-10-2-5 2-10-3-2-18-4-3 1-2 5-1 15-5 10-5 1-8-5-2-6-2-10-3-3-4-2-5 0-4 5-1 5 4 11 3 15 10 10 2 5-2 10 2 5 5 6 10 4 12-12 4-1 4 1 2 2 7 26-6 10 3 10-3 10 5 10 8 11 5 3 9 2 8-2 23-14 5-5 3-15 8-10 0-10 9-10 1-6-3-5-5-5 0-15-9-10 0-5 7-12 8-19 5-2 5 0 13 7 9-5 4 5 5 3 18-1 5 2 7 12-1 15 3 7 5 1 4-3 4-5 7-5 7-2 3 2 0 5-3 5-8 5-3 20-2 5-4 4-4 1-18-7-9 0-8 4-14 14-2 5 4 7 2 8 1 31 2 6 5 7 4 3 4 0 25-6 11-13 17-7-5-2-4-4-2-5 3-5 3-3 12 0 9-4 4 1 11 21 7 7 21 5 13 6 4 0 21-8 9-9 12-5 5-10 5-5 4-2 5 1 0 5 2 5 5 4 4-1 3-3 0-5-3-5 4-5 2 0 4 5 2 10 5 5 9 1 3-6 0-15 2-10-1-5-16-21-15-12-4 0-9 3-5-1-13-10-10-15 3-5 8-4 13 0 4-2 3-4 2-16 5 0 9 8 4 1 5-6 4-13 5-2 13 5 13 7 27 4 9 2 14-8 13-4 9-8 14-4 4-5 5 0 9 6 9 1 9 4 4 1 9-3 5 0 8 7 9 1 29-9 8-15 18-8 12-13 10-16 3 1 2 5 0 10 4 6 7-1 16-6 5 1 0 16 2 10-3 10 4 7 13 7 2 6-1 5-9 16-4 15-1 5 7 15 1 10-2 11-6 10-5 15-1 5 4 20-7 17 16-10 8 1 4 3 0 5-5 16 4-1 14-11 24-8 3 1 3 8 7 0 5-5-1-16 5-1 10 15 13 0 3 1-5 16zM802 631l3-5 7-6 9-1 2 1-2 6-9 5-4 2-4 0zM847 600l5-5 0 7zM629 565l0-6 4-1 4 1-3 6zM1288 559l-5-5-1-5 2-5 7-3 4 4 1 9-3 5-4 2zM1286 524l-4-5 1-5 5-3 4 0 3 3-2 5-4 5zM1135 503l-3-5-1-5-5-4-9 4-4-2-3-3-1-5 2-15-11-10-2-5 4-9 22-15 9 4 8 15-3 15 1 11 3 4 11 3 3 2 2 5-1 10-4 7-9 1zM182 488l1-5 10-6 4 1 4 5 0 5-5 3zM1377 488l-3-5 1-5 6-5 5-2 4 2 3 10-2 5zM253 478l3-6 4-1 3 2-8 7zM1544 478l-7-10-1-5 2-5 8-6 9-4 3-11 4-1 12 6 2 6-3 5-9 4 0 6-1 5-6 8-5 4-4 0zM37 458l1-8 5-5 12 3 3 5-5 5-7 2-5 1zM272 458l-2-10 2-6 4-4 5 2 4 3 1 5 0 5-3 4-4 4-5 1zM1517 442l-3-5 0-5 2-2 8 2 4 5-1 7-4 3zM1600 437l-1-5 1-3 4-3 5 6-2 10-5-1zM382 432l-4-10 1-5 2-2 9 1 5-2 8-7 7-3 9 0 5 3-2 10-7 13-5 5-12-8-5 1-5 6-4 2zM1099 397l-3-10-6-11-1-15-9-10-14-10-2-5 3-5 5-5 6-1 6 6 3 15 4 10 13 8 13 2 1 3 0 3-10 9 4 11 0 5-4 4-4-1zM82 381l-2-5 3-10 25-15 3 10-1 5-17 15-5 2zM407 376l-3-5 1-5 3-3 4 1 5 7-5 5zM670 331l0-6 3-3 18-11 5-1 4 3 0 7-1 5-6 8-4 0-9-2-8 2zM919 325l0-6 8 1-1 5-2 2zM1310 320l-1-5 9-2 5 0 3 7-8 4-4-1zM951 305l-1-8 2 3 0 5zM1317 290l-9-10-3-5 0-5 3-1 5 1 17 10 0 5-4 8-4 0zM632 255l-2-5-1-5 7-1 1 1-1 5zM1265 250l-2-5 9-9 5 0 7 4 4 5 2 6-2 3-9-3-7 3zM617 245l-4-5 4-14 8-10 5 0 1 5-2 9-1 10-2 5zM547 240l3-5 0 5-3 2zM696 230l-6-4-4-14-3-2-4 2-1-1 26-41 2-1 6 3 1 7 3 3 5-3-2-5-5-4 11-19 4-2 5 3 12-6 5 2 5 8 3 1 11-6 6 1 9 9 6 2 2 2 10 15 12 3 2 3-1 7-2 4-9 2-3 2-14 15-7 15-12 2-7-2-4-10-12-14-3-2-10 14-17 13zM668 188l-4-5 0-2 2-3 4-2 2 7zM239 174l2-4 9-5 2 1-10 8-3 1zM1187 165l-6-4 1-2 5 2 3 4zM690 157l0-5 4-4 3-1 1 5zM749 117l-3-4 3-4 4-1 1 2 0 3-2 4zM835 113l-3-3 3-3 5-1 2 7-2 2zM675 656l5 0 6-5 2-5-1-1-4-2-5 3-4 5zM1554 643l5-7 3-10-1-4-4-2-5 0-7 6 1 5zM1369 565l4 2 2-2-1-8-4 2zM1336 535l4 3 5-4 5-15-1-5-3-5-4-1-5 5-3 6 0 10zM1436 267l4 1 3-2-5-7-6-2-3 0-1 3 4 5zM268 247l5 3 6-3 18-17 20-14 10-9 19-24 26-22 22-13 11-8 4-4 1-4 3-4 37-21 39-18-25-1-29 8-4 3 6 0 27-8 10-1-13 6-28 8-21 9-24 15-15 12-44 25-11 9-13 19-31 28-8 19zM708 217l3 0 5-6-1-9-3-2-6 11zM950 217l4 1 1-2-3-3-3 2zM383 200l18-11 4-2 3 1 1 3 7 1 13-9 8-9 8-13 20-13 20-20-2-3 5-10-7-1-10 3-23 11-17 12-9 9-2 4 2 4-17 13-18 18-4 8zM447 176l8-6 3-6-3 0-3 1zM963 171l6-1 0-5-7-8-18-13-6-2-3 2 1 4 3 4 12 5 4 8zM1229 166l-3-5-7-1 1 1zM1089 161l5 0 3-2-3-13 4-3 16 8 2-1-6-14-25-19-3-11 4-1-1-1-12-8-4-1-6 13-13 3-8-2-15-9 3 10 2 3 12 7 11 8 2 4 0 2-2 2-6 0 2 4 24 15zM1078 148l-2-4 3-5 2-1 6 2 2 3-6 1 0 8zM1036 155l2-1-2-4-2 1zM992 146l4-6 0-4-4-3-3-1-2 3 1 5zM960 142l0-2-4 0zM1034 137l12-1-2-4-6-7-8-5-3 0 3 12zM918 130l3 0 3-2-1-8-5-6-7-3-1 2 1 4 2 7zM1201 130l2-1-1-2-10-7 0 2 5 5-1 1zM350 115l0 1 10-3 17-8-18 5zM565 114l6-1 14-9 2-4zM963 114l3 1 0-5-6-6-4 0 0 6zM1121 115l4 0-11-8-10-4 8 7zM551 110l41-17 2-3-9 2-31 15zM605 107l7-3 6-7-4-1-4 2zM669 108l7-2 13-10 1-3-9-1 0-2 2-2-5 0-9 10zM991 107l3 0 0-3-3-6-10-5-1 2 2 6zM1191 100l3 1-1-3-5-2-13-3zM964 97l3-1-1-3-5-2-5 0 2 2zM562 94l17-6-13 0-6 5zM917 95l3-2-1-5-10 0 5 5zM521 92l0 1 9-3zM616 93l13-5-7 0zM938 92l2-1 1-3-11 0zM1005 93l8 0 1-1-4-4-16 0zM1118 92l4 1-7-5-9 0zM439 90l19-2-16 0zM980 90l2 0 0-2-6 0zM1049 91l5 0-4-3-5 0z"/>
<path fill="#dfcae3" d="M679 908l3 0-3-3-4 1zM987 908l28 0 17-7-2 2 9-2 1-2-8 2-2-1 5-6-1-2-4-1 6-4 6-2 3 2 3 0 10-4 6 2 3 2-2 2 18-13 4-4-5-7-7 2-12 6-2-1 0-3 9-15-8 2-2-2 1-7-3-4-1-3 9-12 3 1 6 7 4 0 4-5 2-8 5-10 5-4 9-4 4 0 5 2 8-3 9-14 1-4-3-5-3-2-11 1-9-5-9 3-7 0-7 3-4 5-10 18-6 5-17 22-8 19 2 3 5 1 0 3-2 4-8 4-9 8-2 3 5 4-1 4-11 10 10-1-7 6-18 4-3-1zM1067 813l1-4 3-2 16-4 4 1-2 5-9 2-10 4zM1105 907l1 1 17 0 35-11 0 2-16 9 3 0 30-12 44-23 2-2-20 4 24-18 3-4 7-3-2 3 6 3-1 3 2 1 15-4 6 0 15-7 20-13 4-5-4 0-12 7 5-10-3-1-11 5-2-2 2-8-5-2-2-2 4-7-4 0-23 16-26 22-12 12-10 8-9 4-1-1 4-5 0-2-9 0-6 2-40 23 5 1 2 2-8 6-12 4-3-2-11 2-6 4zM1152 908l9 0 7-3-18 3zM519 906l2 0-18-6 5 3zM723 904l3 1 1-2-2-3-5 1zM1101 899l13-6 5-5-2-1-13 6-4 3 0 2zM483 890l-13-7 5 4zM998 888l6-1 7-3 4-4 0-4-3-1-4 0-9 9zM740 884l-1-4-2-2-1 2zM1210 884l12-4 8-5-8 1zM684 881l7 1-2-6-9-11-1-4 5-6 8-2 7 1 12 13 1-6 9-7 27-5 0-5-13-8-3-5 0-4 3-6 3-1 4 1 9 10 3-2 5-16-2-9 3-9-2-1-4-1-6 2-2 10-3 4-4 1-11-6-6-9-15-16-3 0-2 2-3 9 3 14 1 2 11 0 4 3 1 4-2 7-5 3-4 0-5-5-19-4-5 3-5 7-6 3 3 9-3 8 0 5 9 16 2 11zM431 877l-4-4-6-2zM1126 874l4-1 11-8 3-4 0-3-9 2-7 5-3 4zM433 863l8 2 12-2-1-2-25-11-7-1-2 4 2 4zM641 845l2-3-5-9-3 1-4 5-4 1zM390 819l10 2 2 0 1-3-4-5-10-6-10-3-7 0-6-4-5-10 0-9-2-5 1-3 5 3 9 10 14 8 20 6 3 0 1-4-2-10 3-2 11 1 1-4-4-10 3-3 0-7-9-20 2-3 19 5 7-1-18-20-2-5-1-10-2-5-11-8-5-1-14 6-6 18 1 5-2 4-15-12-5-3-5 1 0 5 7 13-8 1 1 11-1 1-4 1-20-8-1 1 0 5 12 17-1 4-18-10-6 3-2 3 3 7 4 5 20 19 10 14 12 8 4 0 1-5zM775 814l4 1 3-1 5-17 4-4 7-4 2-3-5-10-6-7-4-2-4 1-14 22 7 10zM852 810l3 0 7-3 11-2 5-5 8-13 3-1 8 2 15-5 4-2 1-5-3-5-11-6-16 5-15-5-7 0-16 2-11 9-8-2-11 2 2 14 2 2 11-8 4 0 5 16zM582 805l2-3 0-2-8-7-3 0 4 8zM642 802l1-2-1-5-4-1 0 6zM989 798l7-3 21-19 1-5-2-2-3-2-3 0-14 4-8 15-1 7zM275 790l6 0-2-4-4-3-3 1 0 2zM1013 791l3 3 3 1 11-9 10-5 3-5-1-5-24 10-3 5zM1255 794l5-4 10-14-2-8-3-2-8 2-11-1-13 4-3 5-1 5 6 2 12-2 6 2 3 1zM949 781l15 0 6-9 2-11-2-8-3-4-4 0-9 10-13 7-2 5 2 5zM241 772l8 0 0-3-19-27 1-10-21-11 2 6 8 10-1 1-27-13-4 2-3 5 1 5 10 15 5 2 14 3zM484 766l2-5-2-4-7-2 0 6zM264 755l1-3-23-20 1 5 13 13zM1457 739l8 0 6-2 47-45 34-16 3-5 1-5-3-3-4-1-16 6-13 8-8 0-4-5-1-5 2-5 10-5 4-5-1-6-12 9-19 2-19 16-25 14-15 6-4 5 1 7 3 1 11-3-1 5-5 10 0 5 3 2 8 1 18-14 10-3 1 4-2 5-18 15-2 5zM483 725l5 1 3-2 0-7-3-5-7-4-4 2-2 2 1 5 3 5zM1350 712l3 2 5-1 16-6 16-15 2-5 4-26-12-16-13 0-11-7-13-1-4 0-5 4 2 15-3 5-10 10-1 5 7 13 3 2 13-1 2 5-3 12zM304 708l3-1 4-5 5-21 0-5-4-15 3-10 1-16 4-4 15-9 15-16 4-1 5 2 2-2 2-5-6-4-9 0-11-12-20-16-9-3-6-6-13-20-2-5 7-15 0-5-3-9-2-2 1-5 10-12 4-3 5 1 9 7 27-1 9 5 18 5 4 0 8-7 2-5-1-5-4-8-6-7 3-19 1 14 7 4 4-1 4-3 1-10 8-11 0-5-6-4-5 3-10 14-3-2-2-11-5-10 0-5 3-10 3-5 5-1 4 3 4 0 19-8 18-1 1 7-1 5-11 25-1 5 4 6 7-2 10-7 15-22 4 2 8 14 9-4 18 6 13-1 13 1 19-3 8 1 14-1 4 3 4 7 9 9 17 7 5-2 14-8 4 2-1 18 6 10 3 12 23 9 16-1 7 5 1 6-2 8-10 12-3 3-9 3-9-1-4 4-3 6 3 3 9 0 4 7 2 11 4 2 4 0 2-2 6-17 5-4 4-2 5 0 9 4 13-5 5 3 4 7 5 2 13-1 13 6 5-1 4 0 3 2 2 13 5 3 8-2 9-6 4 3-8 22-9 8 0 20-3 7-4 3-5 0-17-7-14 0-8 4-8 9-2 5 3 10 1 36 4 10 8 3 21-3 3-2 11-14 3-5-2-10 9-15-1-10 3-4 5 4 4 5 4 1 5-6 0-15 3-3 9 4 4-2 9-9 13-4 4 0 5 3 0 5-5 8-17 9-13 2-5 2 5 10 7 20 3 5 7 5 18 5 13 6 4 0 21-9 9-9 8-4 9-16 9-8 13 1 14-4 2 3 4 20 5 2 3-2 2-5-3-24-8-8-4-9-5-5-4-2-9 3-4-2-22-14-13-13-4 0-6 3-8 15-4 3-5 2-4-1-2-4 3-10 9-10-1-12 4-2 9 2 5 0 18-8 9 1 5-1 2-6-3-7-4 1-5 4-4 1-3-4-2-5 4-5 23 0 14 6 4-1 8-15 6-2 31 15 13 2 18-1 23-6 4-3 9-8 9-4 10-9 4 1 9 9 9 1 13 4 7-4 2-3 9 8 9 5 18-2 9-3 5-5 2-5 0-5-1-5-23-5-9 5-5-1-4-15-8-10 3-15-2-5-8-5-3-5 2-10 5-10 21-14 5 2 9 6 9 16 0 5-4 10 1 10 5 3 9 2 3 5 2 26 4 1 5-1 18-15 13-24 3-2 1-5 1 5 4 4 5 17 4 4 23-2 3 2-5 16 2 8 4 6 18 2 4 4 4 14 4-1 5-3 3-5-8-10-1-5 1-5 6-7 11-4 3-5 0-10 2-5 6-7 13-8 5-1 9 1 9-4 6-16 6-3 5 3 7 25-6 6-4 8-1 6 3 5 12 4 8 13 9 5 5 1 13-3 2 1 2 5 0 7 8 8 3 5 18 14 9 2 4 3 3 7 4 2 9-1 9 1 4 2 7 9 5-1 10-4 4 1 11 8 5 0 10-6 5 0 4 1 11 13 25 4 11-11 20-8 6-5 2-5-3-11 1-5 9-12 5-2 9 2 4-1 2-28-14 8-4-3-5-9 0-6 5-5 5-15 8-13 4-1-6-47-16-56-9-20-11-21-16-25-16-20-26-30-21-20 0 15-8 15 3 15 8 15 3 15 9 15 13 16 7 10 12 10 0 5-9 6-7 20 1 10-3 5-7 4 1 6 1 3 10 3 5 9 7 8 14 4 3 3-4 11-9 16-14 14-3 3-5 0-4-1-17-17-6-10-7-5-5-11-6-20 10-7 4-5 4-13 1-16 8-10-2-10 0-15-4-15-9-16-29-18-4 2-3 8-11 3-1 5 2 5 4 5 4 2 6-5 4-1 8 4 2 6-2 10 5 15-3 15 2 18-1 3-6 5-3 5 2 15-8 3-13-1-7 3-2 5 2 10-4 11-2 15-8 13-4 3-5 1-14-3-6-4-10-10-2-1-5 0-4 6-1 5 5 15-3 3-3 2-6 1-18 0-3-6-3-10 3-5 9-5 3-5 3-36 1-2 4-2 9-2 3-4 0-5-4-20-2-31-2-10-18-20-18-11-6-10 0-5 6-6 3-9-6-24-6-11-6-7-4 0-2 15-3 1-7-5-13-14-21-10-12-9-8-10-8-15-22-12-21-1-10-3-14-11-18-9-12-13-17-6-2 5-14-6-4 0-2 1 4 6 20 20 6-1 8 2 6-2 5 3 14 12 12 7 17 23 19 18 11 4 7 0 5-3 1-6 3-1 11 5 12 7 2 5 3 14-3 1-10-3-4 3 1 5 17 10 4 5 5 15 1 10 6 3 7-2 5 0 6 15-2 5-12 3-4 0-12-9-5-1-3 3-1 3 1 6 10 6 12 0 17 19 2 5-1 7-4 1-5-3-11-9-22 1-10-4-8-8-2-10-17-17-5-3-10-3-18-16 0 3-6 4-4-1-7-6-13-3-12-10-17-9-6-15-15-10-4 0-2 4-1 8-2 4-12 0-4 9-1 15-2 5-14 13-4 1-2-4-8-5-4 0-7 5-17-17-4 0-3 2 1 15-7 1-16-20-5-2-4 0-9-4-4 1-3 5-2 9 0 5 1 2 4-1 11-5 5 3 3 6 1 5-1 2-5 1-12-3-10-7-8 0-12 5-5-2-9-10-4 5-3 11-4 4-4 0-2-1-2-5-2-15-13-1-3 4-2 7 2 3 10 2 7 5-1 10-1 3-9 1-8 6-4 2-10-17 3-10-3-20 2-15-1-6-5-4-8 1-11 8-7 16-5 0-2-10-7-10-14-5-10-7-8 0-3-3 3-7 4-4 0-14 7-10 7-13-1-10 3-9-3-14 1-4 18-11 2-2-2-28 3-2 3 4 3 9 5 2 6-2 3-4-2-4-7-12-12-13-9-3-10 4-5-1-2 3 0 7-3 2-14-6-3-7-17-9-9 5-8 1-5-1-4-3-6 0-18 11-5 10-5 5-7-6-12-2-14-7-2-10-10 0-4 3-10 13-11 4-7 8-10 16 5 0 2 3-1 3-6 4-6-1-29 26-6 14-11 8-2 6-1 9 5 8 12-12 5-3 3 1 2 3 1 8-3 9 2 5 11 3 1 2-9 20-7 4-3-2-5-10-12-2-4 3-6 7 1 5 8 5 1 5-5 5-23 12-19-4-9 2-12 15-5 3-5 1-11-4-6 15-15 17-25 16-5 13-8 10-15 12-9 4-5 2-4-18-1-5 6-5 2-5-4-5-5-3-4-1-5 1-3 3 1 5 7 10-15 11-4-1-6-10-2-10-5-10 0-7-4-2-19 7-8-5-11-3-1-5 5-21-4-9 1-2 6-5 3 1 0 10 5 1 4-1 4-5-4-10 0-5 2-5 13-15 1-5-1-2-5 2 1-5 16-22 0-6-7-1 2-5 10-1 22-14 4-4-1-5-6-2-9 3-19 13-4 1-6-1-6-7-9 2-6 5-13 29-21 25-13 20-11 10-17 17-15 34-7 5-3 5 4 3 5-4 5-1 17 7-4 5-14 6-4 1-8-3-8 6-8 4-17 0-15 9-10 2-10 6-9 2-8-2-17-7-21 0-17-4-4-1-3-6-4-4-4 1-11 8-22 1 0-16-7-5-6-8 1-5 8-6 5-1 4 11 4 0 30-18 4-1 6 7 3 2 5-4 4-10 3-16 16-38 1-7-2-2-1-5 6-8 13-15 28-15 4-4 4-10 10-9 19-7 18-12 1-3-14 2-2-1 1-3-3 0-14 5-14 9-6 1-1-1 7-4 17-10 3-4-2-4-22 10-38 31-15 14-8 5-38 40-30 40-19 36-13 36-12 50-5 56 9-2 9-7 18-2 14-11 9-13 6-4 5-1 17 5 6 5 3 5-1 5-13 10 6 5 6 0 10-7 4-2 13 2 9 3 14-8 9 3 14-5 4 0 4 3 8 16-8 2-14 0-4 2-3 6 0 21-5 2-5 0-8 4-5-1-14-14-5 1-4 8-3 16-4 2-9-3-5 1-6 4-3 5 1 5-3 5-5-4-4 0-5 10 2 10 9 15 6 6 10 5 23 3 12-4 5 0 6 6 5 3 4 0 8-2 7-8 14 0 4 2 12 12 18 2 5 3 8 8 0 5-3 15 4 15-6 10 3 10 7 11 5 5 17 8 4 0 9-6 5 1zM249 483l-1-5 3-7 14-10 2-3 0-16 3-5 7-3 8 3 5 5 0 6-2 8-5 7-9 10-19 13-4 0zM1586 483l-2 0-5-5 4-5 9 2 4 3-3 5zM1621 468l-7-5-5-8-12-7-3-6-2-5-1-10 3-6 13-2 5 3 4 24 13 12 1 5-2 4zM31 463l1-10 7-12 5-2 20 9 1 5-6 6-18 6-5 1zM1201 458l3-10 8-11 0-5-5-10 0-10 4-3 4-1 5 4 1 25 3 16-1 5-8 3-9 2zM43 432l-2 0-3-5-1-5 1-5 7-3 4 0 2 3 1 5-2 5-5 6zM316 412l-1-5 7-6 4 0 2 6-3 5-5 1zM1066 412l0-5 3-1 6 1 1 5-7 2zM1104 407l-9-5-10-10-4-16 3-10-1-5-3-5-8-9-12-6-2-5 17-18 8-1 8-3 2 1 1 5-5 16 0 5 4 10 5 5 6 3 13 1 6 6 1 5-2 5-5 5-2 21-2 3zM378 397l-3-5 2-3 4-3 5 2 2 4-2 5-2 2-5 0zM981 371l-5-5 0-5 10-10 4 5-2 15-1 2zM670 346l-9-10 3-16-2-5-10-5 2-5 9-2 9-5 3 2-3 5-2 6 7-1 11-8 12 4 3 4 1 5-1 5-6 12-4 4-9 2-4 2-5 4zM984 341l-12-10-2-5 0-1 4-5 10 5 5 6 2 5-2 7-4-1zM1318 295l-18-20-2-5 0-5 13 0 11 6 9 2 4 2 0 10-7 12-3 2zM675 240l0-14-7-15 3-14-11-14 1-4 3-6 4-3 4 1 4 17 2 3 7 0 7-8 7-13 0-9-3-2-10 2-2-4 3-5 8-7 4-2 3 2 3 12 3 6 3 1 4-3 7-13-1-3-8-1 1-4 3-2 3 0 4 5 12 3 11-4 2 1 8 10 3 0 7-4 10 0 7-5 6 0 4 4-7 9 8 3 5 12 3 4 14 3 7 4-4 10 3 14-3 4-4-1-7-6-4 1-12 9-4 6 1 6 4 4 1 5-3 6-4-4-4-1-15 0-8-1-3-5-3-7-9-11-4 1-4 8-23 16-26-5-5 3-5 7zM631 197l8-13 7 4 0 5-6 6-8 1zM686 128l4-3 0 3-3 2zM1266 699l23-5 17-10 17-18 6-15 7-10-7-10-10-6 0-5 4-10 1-11-4-2-14 4-4-3-1-3 3-6 13-1 5-3 2-5 0-5-9-10-6-11-2-15-6-12-5 2 0 5 5 15-4 22-4 1-5-3-14-20-1-3-5 0-3 3-2 10-10 12-5 14-1 10 7 15-3 16-11 30 0 10 4 15 2 4 9 0 11 4zM608 688l8 0 28-17 9-30 2-19 1-2 1-20-2-5-8-5-3-5-5-9-5-1-20 5-5 13-5 2-2-5 4-10-1-5-7-7-9-6-3-3-1-10-6-4-4 2-2 18 2 5 5 5-1 5-2 4-4 1-5-2-23-17-5 1-1 8 2 5 10 10 1 5-2 10 2 5 6 4 4 0 12-10 4-2 5 0 5 3 3 15 3 9 6 9 8 8 2 5-2 15-9-4-5-1-4 5 1 5 7 10zM368 631l3 0-1-5-5-7-4 0 1 7zM483 578l5 0 10-3 1-5 1-16-4-15-12-17-6-3-7-1-4 1-5 7-2-12-3-7-5 0-8 2-9 0-9-2-10-6-6-3-12-2-2 2 7 31 12 15 1 5-4 16 4 4 12-8 5 0 10 9 9 3 8-2 9-6 4 0 6 10zM539 557l1-3-1-2-4 2zM1246 539l6 0-1-6-4-2-3 3zM30 534l5-10 0-5-4-7-5-2 2 28zM386 536l4-2 1-5-1-1-4-1-2 2 0 5zM1536 449l5-1 9-6 2-5-1-5-5-7-4 2-7 10-1 11zM1222 293l1-3-2-2-2 2zM528 281l4 2 4 0 6-8 6-20-1-3-4 0-3-2 0-5 5-10 13-19 18-19 18 0 8-4 2-5 3-16-1-11-4-4-7-4-1-3 3-6 12-12 3-12-2-1-5 5-17 20-7 17 3 3 14 0 3 6-5 4-4 0-8-4-4 2-31 36-4 0-14-2-4 1-8 4-6 10-4 9 1 5 13 17 2 13-1 10 1 4zM1256 276l9 1 3-1 2-5-1-6-7-8-15 1-3 3 0 4 2 5zM971 271l8-1 5-5 0-5-3-4-5-1-8 5-2 5zM271 242l2 3 4 0 38-29 9-9 10-14 8-10 24-22 30-17 5-4 4-8 5-4 70-37-44 12-15 7-30 18-15 12-24 12-20 13-11 9-4 5 0 4-3 5-36 33-6 14zM602 241l5-3 3-9-4 1-5 5zM1346 241l23-1 6-6 0-4-3-8 9-2 4-8 12 2 7-1 17 5-11-16-23-19-5-9-8-10-2-3 2-1 24 10 16 4 2-1 0-5 3 0 19 9 2-1-1-6 3 0-56-34-64-29-3 0 11 6 40 15 37 20 11 9-13 2-35-18-16-5-26-12-15-3-28-10-27-7-24-11-13-2 35 16 17 12-47-16-2 1 20 9 2 3-11 4-17-3 6 7-13-2 20 14 27 12 0-3 2 0 8 3 26 17 3 5-1 2-8 2 1 5 18 18 1 4-1 6 13 14 16 14 5 4zM1368 152l-10-7 0-2 10 5 6 7zM515 209l6-2 4-5-1-2-8 7zM389 190l3 1 17-8 14 0 11-9 6-12-1-3-8 2-3-3-14 7-12 9zM1159 185l2-2-3-4-5-3-2 3zM883 179l3 2 4 0 1-2 1-9-4-5-4 2-2 7zM250 175l9-5 5-5-9 5zM224 174l3 0 31-14 25-8 23-22 0-2-7 0 42-18-35 14-31 16-42 25-10 7zM427 153l6 0 12-5 2 1-1 7 16-8 17-16 0-3 5-10-5-2-7 1-22 10-21 16-4 5zM1066 146l4 2 1-3-5-9-3-1-4 5 2 4zM1102 140l5 3 2-2-6-9-21-15-5-10-6-3-1 1-5 8 3 4 12 11zM1063 131l3 0 1-3-10-11-14-4 1 4zM1123 130l-1-2-4-2 0 2zM1183 128l2 0-2-4-6-4-9-3-5 0 0 3 7 4zM920 125l0-5-4-4-2 0 2 8zM738 110l2 2 3-1 4-4-1-2-6 2zM1002 91l4 0 1-1-3-2-7 0z"/>
<path fill="#ceb4d7" d="M992 908l21 0 12-7 5-5-3 0-13 7-18 3-5 2zM1157 901l15-5 37-19-4-1-18 7 6-7 23-17-34 21-9 8 5 0zM1139 899l16-3 5-7-1-2 19-11 7-7-1-1-8 1-26 15-4 4 4 2zM1105 895l1 1 6-4-2-1zM1000 885l2 1 6-2 4-4 0-2-2-1-5 2zM1037 881l13-5 8-12-7 1-12 11zM1063 881l4 1 7-2 7-7 0-4-2-1-3 0-8 5-4 3zM1132 869l7-6-6 2zM433 861l6 0-4-5-8-4-3 1 1 4zM1050 860l5-3 1-7-5 3-2 4zM675 855l3-2-1-4-3-3-3 3zM706 854l6 1 11-6 13-5-8-13 0-8 4-10-3-1-3-1-6 12-10 7-4-1-15-11-6-2-3 1-4 6-3 8 2 5 13 10 6-1 3 2zM1246 854l1 1 3 0 17-6 8-9 2-4-7 0-5-4-9 4-6 4-9 9 1 3zM1042 847l7-3 7-8 5-9-1-5-5 2-6 7zM1231 844l13-4 13-9 2-4 1-7-18 11zM1076 823l3 0-1-3-3 3zM396 818l2-2-2-3-9-4-3 0 3 4zM852 807l3 0 8-4 7-1 5-2 8-19 0-5-6-5-9-4-15 2-6 2-4 5-1 10 2 9 4 9zM709 801l5-1 1-5-6-8-3 0-2 8 1 5zM1099 801l15-7 6 1 5-5 1-4-3-2-11 0-10-4-9 4-7 0-7 6-2 5 1 4 13-4zM397 796l11 1-1-15 10-2-2-13 5-4 0-6-8-15-2-5 1-3 18 3 0-5-9-15-3-10-4-5-6-2-11 3-7 12 0 7 5 17-18-12-4-6-7-5-1 1 3 5 7 10 2 10-7 1-9 5-19-4-1 3 11 14 16 12 11 13 8 5zM780 796l12-15-2-5-5-3-3 3-6 10-1 4zM355 794l1-7-1-6-6-10-15-10-5-2-3 2 0 5 7 10 14 13zM990 794l4 0 5-4 9-14 0-3-8 2-5 3-5 8-1 4zM897 784l4 0 8-3 3-5-3-5-6-2-6 2-3 5 0 5zM950 777l5-1 8-5 2-5 1-9-6 9-11-1-4 1-2 5 1 2 3 3zM241 768l2-2-10-14-32-20-5-2-3 1-1 6 7 10 16 5 20 14zM485 719l0-2-2-2-2 2zM1444 718l4 1 5-2 12-10 24-13-6 21 5-1 20-17 3-5 0-7-9-6-2-8-7-8-4 0-6 3-21 15-3 6-3 10-12 15zM1356 709l6-2 18-11 7-9 3-11 1-15-8-13-18 1-7-6-8 0-5 2-4 16-9 10-1 5 4 9 3 3 13-2 1 1 2 5 0 14zM272 703l4-1 8-7 4-1 14 10 3 0 2-2 6-21-6-20 1-5 4-6 1-14 2-5 4-5 19-12 3-4 2-10-3-10-4-5-13-9-19-8-8-9-13-25 0-5 2-10-2-5-6-5-1-6 3-5 16-15 9-5 5 1 9 7 4 2 15-5-4-10 9-10 4-11 5-6 5-3 4 3 1 2-2 5-6 10 0 10-2 10 4 5 17 6 5-1 4-5-2-5-9-10-3-10 0-10 5-11-1-5-5-4 0-6 6-20 0-5-12-10-1-5 6-6 23-5-3-15-2-4-4-3-9 2-7 0-8-9-4-1-5 2-6 6-5 2-12-2-3-3 1-5 9-14 5-1 2 4 6-2 4-13-3-10 1-5 3-5 11-10 3-5 1-10 2-5 5-10 15-15 0-4-9 4-9 10-10 5 2-10-3-2-4 1-5 2-18 19-11 20-13 10-18 20-9 21 0 10 5 6 21 3 3 6 0 5-5 5-7 5-5 0-8-3-14 5-9 0-15 6-17 0-15 10-24 7-13 0-12-5-26-3-13-4-13 1-4-3-4 0-10 3-9 1-14 4-4-1-5-7-1-21-6-6-1-4 3-5 15-10 5-2 4 9 4 2 30-18 12-1 3-5 2-10 7-11 6-15 2-4-2-6 1-10 5-10 15-20 10-7 18-8 6-4 4-10 14-14 6-4 6 2 8-3 10-7-1-2-20 8 1-4-16 7-23 4-7 4-13 9-13 14-6 5-10 3-11 12-39 45-23 36-17 35-12 42 9 1 8 3 2 5-4 15 0 5 14 4 4 4 3 8 5 1 14-6 9-1 17 10 12 16 9 3 18-1 14-11 4 0 4 9 5 1 9-4 4 1 5 2 8 11 11 4 3 5 0 5-5 5-7 0-16-4-4 0-5 3 1 7 5 10 0 6-6 4-29 6-10-11-5-3-4 2-2 6 0 10-4 5-6 2-9-2-5 0-2 5 1 16-3 7-5 3-2 5 0 5 8 10 9 4 9 1 13-1 11-9 5-1 10 9 5 1 12-5 14 2 10 3 10 11 14 2 20 8 4 6 0 5-8 7-3 8 7 20-7 5 0 5 8 16 8 6zM246 488l-2-5 3-10 4-6 11-9 0-12-4-3-6-1-3-5 1-5 6-10 4 1 8 8 9-2 13 5 4 4 1 10-4 10-8 12-9 8-10 5-9 10-5-1zM314 417l-9-5 1-5 5-5 9-5 8 0 4 5 0 5-4 8-5 3zM306 320l11-7 0 2-3 5-7 5zM713 693l5 3 20-2 4-2 6-11 2-5-5-10 10-10 3-5 0-5-2-5-4-5-9-5-9-3-13 1-9 4-4 5-1 28 3 21zM1277 693l11-1 15-11 20-25 7-15-4-8-3-2-9 0-4-2-1-3 9-16-4-3-9 1-4-2-3-8 0-13-2-3-13-6-13-4-9-1-4 3-4 6-2 10 3 5 9 2 3 3-1 5-8 10-2 5-10 31-1 15 4 13 12 4 8-1 4 1 1 8zM838 688l9 2 19-9 11-11 7-4 11-19 4-6 5-3 8 5 5 0 5-2 2-5 0-5-2-5-9-1-4-2-13-13-13-7-9-8-4 1-5 4-2 5-6 5-18 7-14 16-18 8-6 5-1 5 2 15 2 6 5 4 21 8zM607 684l4 2 8-5 12-4 8-6 3-5 1-10 4-17 1-24 4-10 0-5-12-8-4-7-6-3-4 0-7 3-4 10-18 13-4 7 3 11 4 5 11 10 4 10-2 21-4 1-9-2-4 0zM786 616l9 1 2-2 4-20 8-15 1-5 2-2 2 2-1 10 4 15 4 3 13-3 12-15 1-5-4-8-10-2 19-5 13 3 12-3 3-6-1-15 4-3 23-2 18 6 4-3 5-11 4-3 5 0 18 11 22 7 9 0 13-4 18-2 5-1 10-10 13-8 9-9 4 2 9 10 18 2 4-1 4-6 10-9 2-7-2-5-9-10 5-15-5-5-5-2-3-3 1-10 6-16 0-10 3-6 9 5 9-6 4-1 14 8 5 5 8 16 0 5-4 10-1 5 3 5 14-2 2 7 2 20 1 3 4 0 9-11 9-5 7-12 0-20 10-16 1-5-4-13-5-7 0-5 20-8 5 2 3 6-1 15 3 20 4 4 9 2 5 15 1 15 8 10-11 21 0 5 3 3 5 3 14-1 5-5 1-5-2-6-9-13-3-2 1-5 6-5 9 4 14 2 4-2 9-9 9-4 8-7 4-2 10 2 4-1 8-14 8-6 5-1 3 2 7 21 5 2 4-2 6-21 0-15 2-5 1-3 10-2 2-5-5-7-5 2-1-5 5-3 1-2 1-41-3-5-13-15-6-5-9-4-11-12-2-5 0-10 7-5 2-5-5-15-1-8-4-7-2-3-3 3 0 10-2 12-2 5-9 13-1 5 4 15 0 9-8 2-5 5 12 15 11 10-1 5-5 6-4 2-9-3-10-6-23-2-20-11-4-6-3-10-5-5-9-8-10-4-12-12-5-1-11 3-11-7-10-4-17-12-4-2-4 2-2 4-4 1-4-1-5-5-1-5 2-15-4-7-6-3-3 0-4 13-3 2-8-2-4 2-3 5 1 15-1 5-11 10-14 31 2 10 4 6 5 3 9-1 4 1 7 6 6 10-2 5-8 11-1 21-4 3-9 4-4 1-14-3-10 4-7 0-8-5-1-5 3-4 9-3 4-3-3-16-5-10 1-3 4-2 3-5-5-10-22-10-3-5 13-7 7-9 1-5-1-5-9-13 0 8-5 5-17 1-7 8-22-5-5 1-5 10 0 6 4 15-8 15 1 20-2 2-4-1-10-6-6-5-2-5-2-5 2-5 6-5 3-5-2-5-9-10-2-6 0-5 4-5 0-5-2-2-4-3-4 10-11 10-3 10-5 2-8-2-13 11-4-1-5-14-9-11 0-5 4-3 2-7-4-15 0-5 4-5-1-7-4-3-12 10-4 5-3 15-4 4-9-9-2-5 0-10-2-5-5-4-12-2-8-5-12-2-4-2 9-30 12-19 1-4-3-14 4-10-1-13 3-5 9-4 7-6 2-5-2-18 4-19-1-3-6-3-3 0-4 3-8 10-3 2-12-4-8-1-5-10-5-4-6 1-1 9-3 4-3-4-2-6-4-2-8 0-7-5-2 0-18 11-7 13-5 6-3 1-4-6-2-2-17-1-6-5-8 4 2-18-4-1-7 2-4 9 1 11-2 4-9 7-8 4-1-4 3-10-2-1-8 12 0 2 5 2-3 8-10 11-10 2-7 4-5 9 2 5 3 4 7 1 10-16 4-2 7-1 2 3 2 15 2 3 4 0 4-3 6-9 2-4-1-5-4-1-10 1-3-2 2-6 3-5 14-11 4-1 6 0 12-8 6 1 9 9 3 0 11-5 10 12 3 0 7-3 9-1 7-5 10 1 4 3 4 8-2 9 3 9 21 7 7 6-1 5-5 5 1 14-3 6-4 2-7-1-4 1-5 6-5 19 1 15-8-5-7-10-23-2-5-3-5-9-4-2-15 4-18 15-4 1-7-4-4 0-5 5-1 5-4 1-3-4-5 2-7-1-4-3-1-5 2-14-2-5-5-7 3-12 0-5-3-5-9-5-14 20-5 19 0 4 3 2 8 0 3 1 3 7-10 20-9 7-9 3-5-11-8-4-6 5 10 10-1 5-10 8-24 13-23-4-5 3-7 10-5 4-19 8-12 14-4 15-4 2-8-2-6 4-3 11-4 5-4-1-5 4-17 18-4 10 7 7 4 13 3 5 9 1 17 9 13-2 14 3 13-4 14 0 13-2 4 2 8 13 5 6 18 6 4-1 14-9 5-2 4 6-3 20 11 15 4 4 14 6 18 0 4 1 6 4 3 5 0 6-5 20 2 5 12 6 14-4 6 3 7 8 32 0 11 7 4 11 3 3 4-1 6-8 3-1 6 1 4 6 1 5-8 15-2 10 4 15zM1074 478l8 0-1 5zM1266 463l-1-5 1-5 5-5 6-2 13 0 5 3 5 9 0 5-4 3-14-4-4 0-9 4zM1244 422l-1-5 4-3 4 2 3 6-1 5-5 0zM576 371l4-5 1-1 2 1 0 5-3 5-4-2zM1357 371l-12-10-2-15 4-2 5 2 6 5 2 5 2 12-2 3zM669 351l-12-10-3-5 3-11-1-5-11-7-1-3 1-5 15-6 14-10 18-8 3 3 0 11 10 10 2 5-2 10-8 18-14 6-9 7zM882 320l1-5 2-2 3 2 0 5-3 2zM842 290l-1-5 1-2 4-1 2 3-1 5zM557 609l4 0 14-14-4-5-12-5-3 5-1 15zM586 592l5 1 4-4 4-7 0-7-5-4-5 4-4 15zM1564 591l9 1 5-1 8-6 17-6 7-4 1-5-3-11 1-5 13-20 1-3 5-1 1 4 7 3 5-2 1-16-9 5-5 5-5 0-12-24-12-7-6-8-13-4-10-9-4 1-5 5-4 9-9 3-8 8-5 3-4-3 6-10-2-10-4-5-8-5-14-15-7-16-1-10-3-5-5-3-22 1-3 2 2 10-4 11 0 12-19 23-7 2-4-1-14-6-14-8-2 3 5 15 0 5-2 5-27 0-4 4-1 1 2 6 5 5 7 3 9-2 9-5 4 4 3 15 10 15 11 9 14 3 7 10 4 1 23 1 5 7 11-1 12 7 5 1 10-5 18-1 8 3 4 0 14-4 1 5-8 5-4 5zM1305 582l4 2 4 0 5-4-1-5-10-11-5 16zM451 571l5-1 6-5 3-6 2-10-2-10-8-10-4-15-5-3-22 1-5-1-10-8-8 0 4 26 13 15 1 10 2 2 9-2 10 12 5 4zM483 571l4 3 6-4 3-21-2-7-5-7-9-8-3 2-4 15 1 5 7 10zM656 557l3-13-4-1-2 6 1 5zM1121 535l18-1 4-1 6-4 1-5-2-5-13-3-5 0-13 7-3 6zM29 529l1-5-1-5-3-3 1 15zM1607 489l4 3 5 0 7-9 1-6-4-4-20-13-8-7-6-2-4 4-4 8 5 5 14 0 4 5 2 10zM30 487l5-1 9-7 16-1 4-5 1-5-2-4-13 2-16 7-5 5-2 5zM1625 445l5 2 9-3-3-17-15-10-2-5 1-5-2-5-5-5-3-2-12-3-4-5 0-4 3-2 15 4 8-3 4-1-14-35-17-31-17-25-26-30-25-26-2 2-1 11-7 13 2 10 11 20 3 10 7 10-1 3 3 7 23 26 6 5 5 10-1 5-10 3-3 7 0 11 9 10 0 5-9 5-3 5 3 10 5 8 5 3 4 1 5-2 3-5 2-10 4-4 27 2 4 2-1 9 1 11 3 5zM32 437l0-5-2 8zM428 438l5-1 5-5 2-5 3-15 6-10-3-4-5 0-3 4-4 10-9 12-2 8 1 4zM1499 408l1-1-2-3-1 3zM397 401l9-3 13-1 5-2 3-3 1-5-2-7-4-2-14 8-11 1-2 10zM1510 399l4 0 1-2 2-5-1-11 7-10-3-15 4-11-1-9-4-11-8-10-22-12-3 2-2 5 2 5 11 5 4 5 2 6-3 10 0 5 8 15-5 10 1 21 2 5zM1313 301l-1-6-3-2zM1258 272l4-1 1-1-1-5-5-2-6 2 2 5zM1319 266l4 0 2-1-2-5-9-10-7-3-6 2-2 4 3 5zM529 256l4-1 11-25 1-4-1-2-9 2 0-5 3-8 0-2-5-1-4 0-9 6-6 10-1 4 2 6 13 14zM276 241l4 0 8-6 29-24 9-14 15-18-11 3-16 9-20 16-9 9-3 10-7 9zM373 236l5-7-3 1zM1347 237l4 1 13-3 7-5-7-12 2-2 8 1 2-2 0-4-2-4-13-13 6 1 20 13 5 1 7-1 9 2 2-2-4-6-22-19-8-12-9-10-3-4-1-5-4-4-22-16-49-19-30-9-5-1 11 7 19 14-35-12 6 6-1 1-12 4-16-2 12 11 28 12 18 13 17 8 4 9-1 2-8 3 16 18 4 14 21 19zM1328 193l-8-5-2-5 8 5zM1310 132l-8-6 0-1 14 3 3 3-2 4zM359 233l18-7-3-2 1-3-1-5-3-3-7 3-3 5-3 9zM1243 232l13 1 2-3-1-5 2-2 14 2 0-4-11-14-18-14-13-1-13 1-4 4-1 3 3 7 8 9zM401 218l4-1 12-6 3-4-4-3-8 3-6 4-2 5zM556 207l3 1 16-17 22 0 3-3 1-5-1-4-8 1-9-3-4 1-15 15-7 9zM198 193l3 0 10-5 2-4-9 4zM398 185l10-4 16-2 6-5 3-9-10-2-6 2-14 9-7 8zM1197 184l1-3-1-2-13-7 0 2 4 5zM324 176l3 0 22-6 20-13 23-13 7-10 8-6 52-29-26 8-9 6-24 11-20 16-26 12-14 9-11 9zM1429 170l3 0-3-5-9-3-2 1zM232 168l49-20 19-15-1-1-13 2-4 2-42 25-8 5zM1397 167l11 2 1-1-5-7-29-16-1 2 7 5 6 9zM1149 163l3-2-2-4-6-5-6-2-2 0 7 9zM1167 164l3 0-4-7-8-3 3 7zM713 159l4-7-2-2-4 2-1 5zM432 149l18-5 2 1 1 5 6-2 10-8 3-4 2-6 6-9-3-1-6 0-18 8-20 15-3 4zM884 139l3 0 2-3 0-4-5-8-4-4-3 0 0 4 4 12zM1102 137l-3-5-4-2 0 2zM1230 134l6 2 0-4-14-5-1 1zM1077 121l6 2-9-10-3 0 1 4z"/>
<path fill="#bc9dca" d="M994 908l16 0 0-1-4-1-13 2zM1151 886l2 1 15-7 10-8-2-1-6 3-17 10zM1067 877l1 2 3 0 5-3 2-3-2-2-4 1zM707 851l4 1 6-3 0-5-1-4-26-19-4-2-3 1-3 3-1 4 0 4 3 4 9 5 6-1 2 1zM1254 849l5 0 5-5 0-4-3-2-5 2-8 7zM720 840l4 0 0-4-1-5-3-2-4 2 0 5zM1240 837l2 1 3-2 6-7-5 1zM849 800l3 3 4 1 3-4 4-11 4 1 3 5 4-3 4-11-1-5-5-5-4-1-15 1-4 2-3 3-2 10zM1102 795l6-5-2-2-4-1-3 3zM390 792l9 2 7 0-3-13 1-3 6-2 1-5-6-10-7-3-10-9-5-2-11 1-13 4-9 0 2 5 16 14 12 15zM995 789l3-3-1-3-3 3zM346 784l4 0 1-3-3-5-9-9-5-1-1 3 4 7zM409 758l5 1 2-3-8-14-3-12 3-3 10 5 6 0-1-5-12-19-4 1-5 7-7 2-2 4 11 30 3 5zM1452 712l6-5 0-3-5 3zM1497 702l5-5 3-5-1-2-4 2-5 5zM265 698l5 2 4-1 11-11 14 12 5 1 6-20-10-25 7-8 2-7-2-5-13-3-3-2-2-5 10-10 4-1 10 5 20-8 4-6 1-11-1-5-4-5-10-6-18-7-14-13-3-5-8-20-2-15-7-10-1-6 11-15 1-6-9 1-8 5-3 5 0 5-3 5-3 0-6-2-9-13 0-5 4-10 11-15 0-5-7-7-3-4 0-5 4-15-2-10 1-5 10-10-1-5-5-2-9 3-13-1-5 1-5 4-4 5 2 10-2 4-7-8-5-1-22 3-5 2-8 10-3 2-3-2 1-5 4-5-2-5-31-6-12-4-14 3-8-2-5 1-5 3-5 10-8 7-4-1-8-7-5 3-3 8-1 10 14 2 7 13 4 0 14-7 3-3 4-10 5-4 4 4-4 15 2 6 11 8 13 15 6 2 7-1 7-4 5-5 16-8 5-1 4 3 4 7 13 5 10 9 12 5 4 5 1 5-1 13-14 2-13-3-4 4 4 20-3 4-14 1-26 6-9-1-4 7-17 4-11-1-2 5 1 21-6 10 0 5 8 6 18 1 12-8 7-9-1-2 5 2 6 8 5 3 14-1 18 4 5 1 11 11 5 2 30 7 14 16 7 10-3 2-4 1-15-4-3 2-1 4 3 10 10 15-12 3 0 7 6 11zM274 590l-4-15 3-5 5 0 5 7 4 13-5 5-5-1zM150 570l-3-5 0-3 5-1 3 9-1 4zM239 529l-7-15 0-6 14 2 5 9 1 5-2 5-8 1zM1358 698l3 2 14-11 5-2 4-6 3-20-6-9-4 0-15 7-4-2-2-6-4-1-15 21-2 5 4 8 14-3 3 3zM726 692l8 1 4-1 4-4 3-7-1-5-5-10 1-5 8-5 5-5 0-5-3-5-6-5-6-2-4 2 0 5-4 6-4-1-9-7-4 3-3 19 0 5 6 19zM1468 695l8 0 6-3 11-11 2-5-5-7-4-1-5 2-13 11-2 6zM843 688l8-1 13-7 8-10 11-9 10-20 0-5-2-5-9-11-21-5-9 1-13 7-13 14-13 4-7 5-3 5 0 10 5 10zM1279 689l3 1 4 0 13-9 7-10 2-10 13-8 5-7 1-5-1-5-4-2-14 3-3-4-7-13 0-5-4-19-4-8-4-1-10 7-6 11-10 11-4 10-8 25 2 20 4 5 7 3 18-3-2 11zM622 675l8-2 7-7 0-10 2-10-6-10 0-5 7-11 3-15-7-7-5-7-5-2-10 11-7 5-8 10-2 5 2 6 15 15 3 10-1 15 1 5zM912 637l5 1 2-2-2-4-4 1-2 3zM786 608l4 2 4-5 1-5-5-14-5-1-2 5-1 5zM1264 590l4 0 5-5-4-5-4-2-6 2-2 5 2 4zM825 588l9 2 5-3 2-2 0-5-7-3-9 2-4 6zM1585 580l9-1 9-3 2-1 2-5-3-16 9-10 3-10-1-10-4-10-5-4-8-4-9-13-9-2-10-7-4 1-4 13-5 5-9 1-13 7-5 1-4-3-7-6 2-3 5-2 6-5 0-5-2-5-19-15-8-5-2-9-5-12-1-10-1-1-5-1-4 2-4 5-8 7-2 4 1 10-1 5-10 10-7 11-14 7-16-8-7 0-1 20 4 21 7 15 11 10 13 1 4 2 5 7 7 5 23 0 12 4 8 7 4 1 10-5 13 2 19-6 9 2 13-1 3 2zM1592 549l3-4 2 4-3 2zM1496 468l-4-5 1-3 7 3-1 5zM446 566l5 1 6-2 4-6 0-5 0-10-8-15-2-10-3-4-4-2-9 1-14 7-8 2 0 6 4 5 5 4 9 4 3 2 7 15zM799 565l8-1 14 5 13-9 23 1 8 2 5 0 4-4 1-5-2-15 2-6 13 4 22-1 9 4 5 1 6-12 7-4 9 1 14 10 13 2 9 4 9 0 18-5 13 0 5-2 9-10 14-10 9-11 13 15 5 1 22-8 5-3 2-6-2-5-5-3-4 1-9 5-9-10-9-4-7 1-2 8-5 5-4-8 8-10 2-10 3-5 13 3 5-1 4-4 9-29 0-5-6-9-5-2-18-3-7-6-1-5 2-5 10-5 2-5-2-11-3-4-4-1-9 3-8-3 1-10-3-7-17-13-2-5 3-10-2-6-7-5-11-2-3 2-3 5 0 6 7 15-2 5-7 6-3 9 5 11 9 8 7 12-2 5-4 1-3-1-6-7-23-12-4-2-13 3-6-3-1-10 5-15 4-5 8-5-1-5-9-15-5-2-4 2-7 16-4 3-9-1-12 7-5 1-5-6-4-9-4-4-9-5-9 0-5-3-3-5 0-10-2-5-9-10-2-5 1-10-2-6-5-1-5 2-1 15-5 7-5 0-6-7-1-5 7-10 0-5-4-3-4-1-12 5-2-6 5-15 2-15 14-19 2-5 0-4-2-5-7-7-3 0-2 2-1 14-3 5-6 3-7 0-7 7-3 9-1 10 5 15-1 5-3 2-4-3-14-20-8-2-23-1-4 0-6 4 0 5 2 5 11 10 0 5-7 4-26-16-6-9-7 1-10 7-10 3-5 10 3 5 9-3 4 3-1 15 9 15 0 5-1 10-7 16-1 15-5 4-8-7-13 7-5 1-18-15-4-15-13 5-2-6 3-20 3-5 19-5 19-15 1-5-4-20-12-2-4 2-3 5-6 5-29 13-20 15-18 7-21-3-4 2-7 8-24 13-6 5-6 11-3 15-4 5-6 1-4-2-2 1 4 15-2 5-5 5-9 7-4-2-3-5 0-4-4 0-10 10-1 5 4 10 2 13 4 3 9 1 8 8 4 1 9-3 18 4 14-4 26-1 8 3 9 17 18 6 4 0 5-2 9-9 5-2 4 1 3 4 1 6-2 20 10 13 17 7 6 0 5-5-1-11 18-6 4 2 0 5-8 10-1 5 9 14 13 12-3 6-9-3-1 2-1 10 5 5 6 1 4-3 5 0 13 6 9-2 9 5 14 1 18 11 22 1 9 10zM950 498l0-5 3-5 2-1 5 1 2 5-2 6-5 3zM935 478l-1-5 3-5 9-4 6 4 1 5-2 6-5 2-4 0zM970 453l-6-14-9-4-1-3-1-10 5-6 5-1 6 2-3 15 9 16 0 5-2 1zM665 427l0-9 4-6 6-2 5 2 0 5-6 11-5 2zM674 387l-4-6 2-2 4-1 4 3-2 6zM570 381l0-5 3-10 2-5 3-2 4-2 19 4 8 5-7 6-8-3-5 2-9 11-5 2zM928 371l-1-5 7-9 4-1 3 5-1 5-5 6zM481 550l5 4 4 0 2-5-3-8-4-3-5 6zM144 538l5 1 0-5-2-5-3-2-2 2 0 5zM1135 530l8-1 1-5-5-2-6 2-1 5zM1252 516l4 1 7-3 1-5-3-6-5-4-4 1-6 9 1 5zM1387 509l4 2 4 1 6-3-1-4-4-2-5 1zM287 478l22-5 9 6 5 1 6-12 8-6 9-14 9-11 5-15 5-10 0-5-5 2-5 8-10-5-3-5 9-20 5-6 22-10 2-5-2-5-14 0-4-1-6-9-4 0-12 10-9 2-4 3-13 14-9 1-14 7-8-5-5 1-8 8-4 10 0 15 5 7 4 1 14-1 8-12 14-15 5-3 14-2 7 5 3 5 0 5-2 5-9 10-4 2-14-2-6 5-2 5 2 6 9 3 0 1-4 6-6 0-5 4-7 16zM363 483l1-5-1-2-4 2zM1171 479l4 3 9-2 5-2 3-5 1-5-1-10 1-10 10-16-2-10-11-10 1-5 6-5 12-4 8-6 5 1 3 4 8 15-4 10 2 14 5 4 9 0 2 2 4 21 5 3 8-17 4-5 22-5 4 1 15 19 4-2 4-6 14 5 5-1 8-13 8-5 4-1 5 1 10 16 4-4 4-12-2-30 9-20 5-26-1-5-8-10-12-9-5-1-13-16-6-10-3-15-4 0-5 5-1 9 3 11 3 11 5 5 5 2 13 3 6 25 0 6-4 6-4 1-14-5-7 6-5 0-19-8-8 2-14-5-16-10-8 0-5-3-5-20-7-6-10-5-13-14-5-2-11 3-5-1-32-21-4 0-6 5-9 0-15-10-2-5 0 5-2 2 0 3-5 7-4 2-8-1-11 8-12 25-3 10 3 5 4 4 9-1 4 1 16 16 3 5 1 5-3 4-8 7-2 10 4 15 4 5 11 6 4 4 3 10 6 11 1 5-4 10 1 2 5-3 7-9 12-11 2-10 4-3 3 3-5 10 1 11-2 5-9 15zM1248 437l-13-20 3-5 8-3 5 0 5 3 3 5 1 10 0 5-2 4-4 1zM1266 417l-3-5 5-8 4-3 4-1 5 2-1 5-6 11-4 1zM1300 402l-1-5 2-6 4-4 4-1 2 6 0 10-3 3-5-1zM1611 481l4 1 1-4-6-2-1 2zM429 428l4 1 1-5-5 2zM1569 430l5 0 2-3 2-5-1-10-3-3-9 1-3 3 0 9zM1596 407l13 1 1-1 0-5-14-5-12-19-10-4-5 0-4 2 0 5 2 6 9 10 2 5 4 4zM47 403l4 2 5 0 2-3-2-5-5-7-6 7 0 5zM416 393l4 0 3-1 2-5-3-5-8 5-2 5zM1596 376l10 3 4-1 6-12 1-4-9-21-18-31-18-25-36-40-8-7-2 1-2 14-6 7 0 4 4 11 16 25 23 20 3 5-3 11 4 5 10 5 3 15 3 5 5 6zM1060 357l4 2 5-1 1-2-6-4-5 1zM59 351l20-13 3 2 2 7 3 2 31-18 14-16 6-10 2-5-2-4-9 1 6-12 27-40 9-10 20-9 13-15 2-5-6-1-20 4-9 7-19 19-8 5-8 1-26 29-25 30-16 25-15 30zM102 325l2-5 5-5-1 5-3 5zM289 351l12 3 10-4 6-6 10-15 11-9 4-15 14-20 4-16-11-3 0-6-2-3-6 3-10 10-6 10-3 15-3 5 5 5 0 5-1 5-4 5-14 11-5 2-3-2-1-6 2-5 14-10 5-8-3-2-5 1-6 6-14 21-5 8-1 9 2 5zM1509 350l4 0 3-4 3-12-3-9-4-5-7-4-4 1 7 19-3 6 1 4zM1329 342l5 3 1-4-3-4-5 1zM1043 327l12-1 6-6-2-5-11 0-8 5-1 5zM893 305l4 4 4-2 2-2-1-5-1-2-5-2-3 4zM1345 291l5 2 4-3-2-5-4-4-3 4-1 5zM1125 284l4 0 6-4-5-5-5-2-4 2 0 5zM524 240l7 4 4-4 3-5-2-4-7-1 0-4 3-10-2-2-6 2-5 5-3 5 1 6zM729 242l8 1 4-3 0-5-2-2-4-1-4 2-2 1-1 5zM279 237l7-2 23-19 3-5 0-4 14-14 3-7-15 7-18 14-5 6-2 3 0 5-7 9zM658 233l4 2 4-5 0-4-7-9 5-15 0-5-7-5-5 3-4 7-8 24 4 2 8-1zM1342 232l6 2 3-1 14-6-7-12-1-4 9 2 4-2-1-4-13-14 0-4 4 1 25 12 6-1 10 3 0-2-16-14-13-18-10-9-12-7-8-2-11-8-46-24-3-1 11 9-7-1-28-10 2 4-13 3 2 4 19 12 12 12 8 5 0-3-6-7 6 1 23 17 1 9 18 14 6 8-2 2-5-1-11-4-3 0 2 14 2 4zM1240 227l10 3 2-2-1-2-10-13 19 6 4 0 3-1 0-2-8-9-12-9-6-3-7-1-12 3-4 4 1 6zM402 180l17-4 5-2 4-4-5-4-3 0-14 8zM648 179l4 0 4-5 2-4-1-5-2-1-4 1-5 5-1 4zM682 181l4-2 3-5 0-4-7 0-3 4 0 4zM838 179l3 0 3-5 3-11 10-4 9-11 1-4-3-31-2-1-3 2-4 6-9 6-15-7-9 5-2-4 0-10-2-3-3-1-3 3-1 8-3 4-7-4-2-7-3-3-8 1-6-6-3-1-3 3-5 7-7 2-11 19-1 4 6 9 3 1 7-3 7 0 13-5 9 2 8 10 3 1 10-2 2 3-2 5-5 4-3 4 7 6zM334 170l8-1 14-6 24-15 5-5-7 1-22 8-13 9zM262 153l21-9 8-8-12 4zM1342 149l8 3 8-1-6-7-12-8-13-6 2 5-1 2 1 3 4 4zM682 147l7-2 10-8 7-2 5-4-2-3-9 1-14 11zM442 140l21-4 14-12-4-2-11 4-11 6zM739 137l2-5-3-3-2 3 0 4zM1246 133l-4-5-8-3 2 3zM398 129l1 1 5-3zM1299 120l0-1-5-2-27-9 8 5z"/>
<path fill="#a782b7" d="M689 836l6-5-2-4-5-4-4-1-3 5 2 4zM852 799l4-4 4-13 4-1 7 3 2-3-1-5-4-2-8 1-7-1-4 2-2 10 2 9zM393 791l8 1 2-2-4-14 2-10-9-9-8-5-11-2-6 3-4 4 0 4 19 25zM416 727l3 0-3-5-4-2-1 2zM269 697l3-1 7-11 3-3 6 3 8 9 5 2 6-14-1-6-10-15-10-10-5-3-17 0-10-3-3 3 0 3 3 5 13 15 0 5-3 3-10-2-2 4 6 11zM725 687l9 3 6-3 2-6-11-25-9-4-4 0-4 7 0 7 7 15zM1283 687l5 0 7-6 3-5 0-7-4 1-7 6-4 5zM1361 691l4 0 10-10 4-5 4-10 0-5-3-4-5 0-12 11-12-2-8 5-3 5 1 3 4 0 11-4 3 2zM1476 688l4 0 8-7 2-5-2-3-4-1-7 4-4 5 0 4zM838 684l5 2 4 0 17-9 17-21 5-14 0-3-8-8-3-5-6-4-9-3-8 1-13 7-9 14-4 2-9 0-4 1-6 7-1 10 3 6zM865 646l6-5 2-1 2 1-2 6-4 1zM1259 674l3 2 4 0 10-5 6-5 5-5 12-20-1-5-15-10 7-11 2-5 0-5-3-7-4 0-10 6-17 20-5 22 0 5 5 5 1 3-2 7 0 5zM626 670l5-4-2-10 1-10-4-10 1-5 8-16 1-5-2-5-7-4-5 0-8 6-2 3-3 10 1 6 9 10 6 20-1 1-2 9zM290 648l7-2 0-5-12-10-2-6 15-13 4-1 18 0 8-3 6-13 0-5-4-5-6-3-19-5-15-12-4 1 0 9 2 6 8 9-3 5-6 3-9 3-4 0-2-1-5-25 0-5 14-11 2-5-9-30-10-14-5-1-5 5 4 15-2 3-18 3-8 6-14-3-9 2-27-2-20 6-5 5-1 5 14 27 5 3 19 5 14 3 16 13 32 6 15 15 16 19zM1314 649l4 0 4-3 1-5-2-2-6 2-3 5zM117 590l10 4 8-1 8-4 4-4 2-5-2-5-6-10-2-11-2-1-13 1-4 4 0 17-3 10zM1590 575l9 0 4-5-2-7-4-3-4 1-5 4-1 5zM1533 570l9-2 13-9 4-10 3-5 5-10 2-1 18-2 5 1 12 13 5-2 2-9-5-15-9-3-11-18-15-6-7 11-7 5-27 8-21-13-1-5 4-5 14-2 1-3-1-2-14-13-5-1-9 5-4-3-8-11-3-11-5-1 0 7-7 14-8 11-6 5-10 5-6 7-5 1-9-11-4 0-2 8 2 21 6 15 5 7 9 3 18 0 3 5-1 5 5 6 4 1 14-1 18 0 9-3 4 1 7 7zM446 561l5 1 4-3-1-7-2-3 2-2 0-8-7-20-3-3-9 1-4 2-3 5-1 5 18 20zM812 561l4 3 5 0 13-10 4-5-2-5 3-7 4 0 2 2 1 5-3 5-2 0 2 5 22 1 3-6 1-20 1-3 5-1 8 8 5 2 22-5 9 5 9-11 9-3 9-1 14 13 4 1 9-2 9 7 4 1 9-2 14-6 9 2 4-1 9-9 14-10 4-5-4-16 8-15 4-15-1-5-10-10 3-5 8-3 5 2 3 6 0 10 3 5 8 3 5-2 4-7 6-20-1-5-7-7-18-4-6-4-5-5-2-5 1-5 12-10 0-5-2-3-9 2-13-2-8 3-5 5-5 10-7 6-5 1-6-2-26-19-4-1-22 0-3-6-1-10-1-4-13 9-9 1-4-2-4-4 3-11-18-12-14 18-2 2-5 0-2-7 0-5 1-5 7-10 1-5-15-11-3-5 2-10-2-5-12-14-4 3-4 8-4 3 4 5 14 10-14 4-8 6-5-2-2-8 2-4 9-6-1-5-20-16-8-4-3-15 0-5 5-15-3-10 2-8 6-6-10-2-3 0-4 5-4 11 0 5 5 10 2 10-4 5-5 2-4-3-11-13-4-7-6-4-13 1-10 4 10 15-2 5-14 12-24-17-8-11-4 0-2 1-5 5-1 5 2 20 6 20 0 5-8 26 1 10-1 5-4 6-5 2-13-3-13 4-4-2-8-9-6-3-10-8-3 3-5 10-2 3-9 2-4 5-4 10-8 6-4 2-9-2-4 2-10 8-4 2-18-1-6-7 1-5 2-2 9-1 2-2 2-5-1-5 5-5 12-5 13 3 13-3 4 1 3-1 7-15 3-16 9-25 5-2 8 0 5-3 1-5 5-4 4 0 5-5 2-9-3-4-5 2-10 9-12-1-4 1-23 13-5 3-7 9-31 8-16 8-11 1-9 4-13 11-6 10-2 10 0 15 6 10-3 5-7 4-8-4-5 2-15 12-8-2-2 4-1 10 1 4 2 1 11-4 14 0 14-8 4-1 4 2 4 6-4 5-7 5-1 5 6 2 28-7 8 2 13 5 4 3 4 10 4 5 14 4 4 1 6-5 13-15-1-5 1-1 2 1-1 5 3 1 8 9 2 21-2 10 4 6 5 1 4-2-2-10 3-4 4-1 9 6 4 1 9-1 5-3 3-3 2-16 4-1 9 6 0 6-4 10 0 10-8 10-2 5 6 10 16 16 1 10 4 4 5 2 9-1 18 8 9 0 13 9 5 1 13 0 5-2 4-6 4 0 5 5 1 10 3 3 9 1zM825 524l-4-5 5 0zM949 509l-7-11-4-10-5-3-4-7-1-5 2-5 3-3 13-7 5 0 9 4 3-4 0-5-4-7-4-2-5-5-1-17 2-5 7-5 18-2 3 2-5 15 0 5 6 10 2 6 0 15-4 3-9-2-5 1 2 28-2 10-4 6-5 2-4 0zM729 493l2-9 4 2 2 7-2 4-4 0zM874 493l-4-2-2-3 2-4 5 0 4 4zM1011 473l-2-5 4-7 5-2 6 9 1 5-2 4-5 1zM837 468l-4-5 4-15-7-11-1-5 0-10 5-5 7 5 2 5 1 15 5 21-1 8-5 0zM661 432l-1-5 3-10 3-6 4-4 5-2 13 0 5 1 0 6-10 10-5 10-4 3-9-1zM874 432l-1-5 1-3 5 0 1 3-1 5zM628 422l2-5 5-3 4 0 0 7-5 5zM589 407l0-5 7-9 5-1 4 5 1 5-6 5-5 1zM802 407l-2-5 1-5 2-3 5 0 4 3 2 5-2 5-4 4zM628 392l-4-5 0-6 3-5 6-2 4 2 4 11 0 2-2 3-3 1zM667 387l-3-6 1-5 3-2 9 0 4 2 2 5 0 6-3 4-4 1zM554 361l-5-5 1-5 7-1 8 6-3 5-6 1zM588 320l2-5-1 5zM1566 562l4 2 4-1 10-4 2-5 0-5-4-8-9-1-5 4-4 15zM224 526l4-2-1-5-3-6-17 1-1 5zM1072 512l5 2 3-5-3-9-5-4-5 2 0 5zM1252 512l4 1 2-4-2-4-4 1-2 3zM1095 504l4 1 1-2-1-1zM233 486l4-2 14-26-1-5-5-5-3-6 3-20-3-10 0-10-8-5-5 0-4 3-1 2 3 15-3 5-8 3-5-2-3-7-4-3-9 2-8-1-5 1-12 14-4 1-5-3-6-15-7-5-13-2-8-5-4-1-14 6-9-2-5 3-15 21 2 10 2 3 5-2 5-5 6-11 6-5 4 1 4 2 3 7-2 16 3 5 7 5 6 10 6 5 8 0 3-5-5-10-1-5 4-4 5 0 4 2 8 8 4 0 10-5 4 0 7 4 7 10 16 4 5 6 8 5zM301 468l4-5-4-5-4 5zM328 461l5-1 4-4 13-19 2-5-3-8-4-4-4-1-5 2-7 6-5 5-2 5-2 11 4 9zM1326 449l5 2 4-1 12-14 9-5 4 1 10 11 5-1 1-10-5-20 1-5 5-10 1-10 9-26-3-8-5-4-5-1-4 3-1 5 4 15-2 10-5 3-5 0-13-3-7 10-5 0-10-10-5 0-1 11-6 15-1 2-5 1-8-3-7-8-3-2 3-3 3-7 0-6-3-5-15-12-12 3-5-5-5-21-3-5-14-9-9-12-5-3-11 3-5-1-31-19-15 5-19-8-10 10-3 2-12 2-7 4-1 5 3 5 9 5 2 6-4 3-4 0-5-1-5-5-4 3-3 5 0 5 5 2 9 0 24 23 10 31-2 5-6 5 0 5 11 5 0 15 5 9 4 3 5-2 9-15 11-9 2-11 3-5 14-8 8-7 5-2 4 3 11 13 5 4 22-2 16-9 13 3 0 5-8 15-5 7-6 3-1 5 4 5 9 1 4-3 3-7 5-1 10 18 5 1 9-5zM1337 402l0-5 6 5-4 3zM1195 432l2-5-2-2-1 2zM1569 425l4-1 1-2-3-6-4-1-2 2 1 5zM270 418l4 2 5 0 4-2 6-8 13-13 2-5-2-3-10 5-5 1-7-5-5 1-4 6-3 10 0 5zM320 387l17 2 5-1 20-14 6-3 2-5-11-2-7-6-5 1-5 5-14 4-3 3-7 10zM1014 378l4 1 5-1 11-7 4-5-2-5-5-5-11-8-4 1-4 4-8 6-4 6 2 6zM1600 373l4 1 2-3 8-17-9-18-15-26-18-25-36-40-4-4-4 1-1 14-6 7 1 7 17 25 22 20 10 13 8 6 4 1 1-4 5-1 11 6 2 5-1 3-5 0-12-8-3 3 4 22zM951 358l13-17-1-6-5-5-4 4-2 7-6 10 2 5zM62 346l16-13 9-3 7-4 12-16 16-15 20-25 11-15 14-25 8-4 15-5 8-8 0-3-7 0-12 4-7 5-8 11-16 10-16 5-27 30-23 30-26 44zM303 347l5-1 7-5 7-10 0-6-2-1-15 12-4 5 0 5zM1010 338l5 2 4-2 2-7-2-6-7-3-4 0-2 3 0 6zM1347 332l5 1 2-2-2-6-6-7-6-2 1 9zM117 323l5-2 7-6 3-5 1-6-5 1-8 5-3 5zM332 317l9-17 8-10 4-10 0-6-7-3-5-5-6 4-4 5-4 9 0 8 3 13-2 10zM830 281l4-2 4-4-2-5-4 0-5 5 1 5zM1344 229l14-5 1-3-12-17 11 4 4 0 2-1-10-14-2-5 0-2 4 0 21 9-9-14 5-1-4-10-12-9-23-9-8-8-22-12-12-1-25-9 2 4-17-1-1 1 1 2 6 4 14 8 21 8 28 22 0 3-2 1 2 5 16 14 6 9-1 1-17-2-2 1-1 7 11 12zM646 222l5-1 9-14 1-5-3-5-4 2-2 3zM834 217l3-6-3-6-1 11zM296 211l2 2 3-2 17-14 3-4-1-1-10 5zM1230 213l1-3-1-3-2-2-4 0 0 2zM1248 212l9 3 3-1 0-3-5-4-10-8-5-2-6 2-3 3zM410 175l6-1 4-4-5 0zM650 175l3-5-1-1-1 1zM824 171l10 2 4 0 3-2 1-6-1-3-7-1-2-4 2-3 7-2 3-3 3-10 3-2 1 15 3 2 9-8 1-6-4-17-8 5-3 6-3 0-3-6-9-6-3 0-6 6-3 1-5-4-6 0-11-5-4-3-1-4-3 0 1 4-2 3-3 0-7-15-3 2 2 6-7 8-3 1-4-4-4 3-6 11-1 4 4 6 3 1 7-3 6-1 13-4 9 2 12 10 9-3 5 4 1 4-6 13 3 4zM343 166l13-5 14-9 2-4-11 4-10 5-6 5zM1348 146l2 0-6-6-7-3 0 3zM457 134l7-2 6-6-8 2-6 4zM817 117l1-6-3-1-1 6z"/>
<path fill="#9467a6" d="M385 786l6 3 7 0 1-3-4-20-3-5-5-4-8-4-7 1-4 3 0 4 12 20zM853 787l1-6-1-2-2 2zM266 692l3 0 0-5-11-2 2 3zM299 691l3-3 3-7-1-5-8-10-10-10-8-4-5-1-12 1-3 4 17 20 10 4zM733 687l4-3 1-3-1-5-9-15-5-2-3 2-1 5 3 10 7 10zM843 683l8-2 9-5 4-5 1-10-1-1-4-1-9 4-4-1-7-11 3-5 9-8 8 0 7-2 3-5-5-6-9-1-4 1-11 6-4 5 0 10-10 20 0 5 5 5zM1263 672l5 0 10-6 7-10 3-15-2-2-4-1-10 4 0-1 0-10 2-5 14-16-1-5-3-1-10 6-10 10-3 6-4 15 1 6 4 1 5-1 0 4-5 15zM813 664l4 1 5-4 1-5-1-5-5-3-4 2-3 6 1 5zM620 627l4-1 5-6 1-10-3-3-4-1-6 4-2 10zM281 616l7-1 9-10-5-2-10 2-4 5zM257 606l5 1 0-2 4-20-3-15 8-11 1-5-17-15-3-1-9 0-13 9-13-4-9 1-23-4-14 4-9 5-1 5 6 16 5 5 15 9 18 4 5 3 11 10 5 2 14 2 8-1zM317 595l5 2 4-1 4-6-6-6-4-1-10 2 1 5zM125 588l5 2 9-2 4-3 2-5-5-10-6-6-5-2-4 3-2 20zM292 580l5 2 4-2-5-7-5-2-1 4zM1534 567l9-2 6-6 1-5 0-4-6-11 2-2 15-8 22-3 5-2 2-5-1-5-5-11-9-4-4 1-9 9-5 3-14 2-13 7-13-10-12-2-9-26-12-15-4-2-4 7-2 10-5 5-15 6-4 3-10 12-9-1-2 1-2 5 1 5 7 15 4 3 27 2 4 5-1 10 4 3 4 1 24-4 7-5 7-10 9-7 4 2 0 5-4 10 0 5 6 10zM821 559l3-5 2-10 3-10-13-10-3-10 3-3 9 0 9 3 5 0 2 10 16 18 4 0 2-3 3-15 4-6 5 1 9 11 4 2 4 0 10-3 13-8 13-3 13-4-1-5-3-4-8-4-3-3-1-15-4-10 2-5 2-5 3-2 14-4 7-9-4-26 5-8 8-6 21-6 2-5-6-5-13 0-4 1-9 8-4 0-4-4 1-10-2-6-18-1-7-4-11-8-9 0-8 6-5 0-3-3-3-5 0-10 0-5 6-10-1-5-8-7-5-1-13-1-12 6-5-1-5-7 0-15-6-10-5-3-13 1-3-3 5-15-1-4-8 2-4-3-8-10-16-3 0 3-4 2-13 13-10 13-8-13-17-11-7-9-4 0-2 5 0 9 7 31-2 10-6 16-1 5 1 10-1 5-8 9-4 2-13-2-8 6 7 7 5 8-3 16 10 4 5 6-1 6-12 14-1 5 2 5 8 5 2 6-3 15 0 10-10 10-2 5 7 10 7 7 9 5 4-3 14-14 2-5 4-25 3-6 5 2 2 9-1 10 4 10 1 10-7 5-13 2-11 9-1 5 21 11 14 1 13 10 5 1 9 0 4-1 7-7 8 0 7 5 7 10 11 10zM754 509l7-21 1-1 4 1 1 5-2 5-3 12-4 4zM806 498l-3-2-3-8 0-5 3-4 8 4 4 5-3 8-5 4zM863 493l-1-5 4-15 2-15-2-3-5-1-4 2-2 7 1 10-2 5-2 1-4 0-17-11-2-5 1-15-4-11-2-15-1-5 4-10-2-3-4 0-6 13-7 5-5-3-7-17 1-5 6-7 5 0 9 4 13 2 4 4 5 12 8 10 1 15 4 7 5 2 4 0 4-4 2-5 0-15 3-2 4-3 5 0 4 5 2 5-1 5-4 10 0 6 6 10-2 5-6 5-2 5 1 5 7 7 4 1 3-3 6-10 3 5-2 5-6 10-8 5-14-1zM718 387l2-6 9-5 3 0 0 5-10 6zM794 366l-5-5 0-5 11-5 5 0 3 3 19 7 0 5-6 3-4 0-9-11-9 8zM1575 558l5-4 0-5-3-1-4 6zM440 537l5 2 3-5-2-10-2-4-5-1-4 2-2 3 0 5zM987 535l9-1 18-15 9 3 4-1 13-7 4-5-4-16 11-30-2-5-4-4-5-3-12-3-2-3-5-13 4-5 5-1 9 10 5 2 13-3 5 2 5 5 7 16 2 1 4-2 8-15 0-5-4-8-5-3-18-4-14-8-9 0-6-7-7 1-9 5-4 1-18-8-5 1-6 10-2 12 5 4 13 0 6 4-14 7-3 4-1 5 0 5 4 4 9 2 18-15 4 1 10 23-5 8-4 3-14-3-7 7-2 5-2-5-13-10-7-1-5 2-2 4-1 15-3 11-8 10-2 5 2 5 5 1 9-7 5 2 4 7zM996 509l-4-6 1-5 7-4 5 5 2 10-2 2zM233 479l4-3 9-18-7-10-2-14-13-3-5 1-10 5-8-3-9-1-1-11-5-3-5 2-7 12-5 3-4 0-4-1-4-4-10-19-4-2-9-1-7-6-4-1-10 5-2 5 8 10 1 19 4 4 4 1 5-2 10-8 4-1 9 3 8 8 4 0 5-3 4 0 9 2 4 4 8 11 4 1 5-1 10-7 6 5 2 5-1 5 2 5zM660 458l7 0 4-5 0-11-2-1-13 1-6 6 2 5zM333 453l5-4 8-12 0-5-2-4-4-2-5 2-7 9-1 11 2 4zM1326 444l4 3 5-2 16-16 4-3 5 0 10 6 0-5-5-15 1-5 3-10-1-5-15-3-4 2-1 16-4 5-4 0-5-3-6-7-5-2-3 3-3 9-5 2-8 0-10-5-4 0-3 8 8 3 11 15 9-1 5 3zM584 438l5 0 8 3 4-4 1-5-4-3-4 1-2-3 1-5-3-5-4-2-4-4-2-14-10-3-13-1-9-4-3 3 2 15 13 10 12 5 8 15zM642 436l5 1 4-1 5-6 7-23 3-4 4-1 4-5-7-3-9 5-9 0-4 3 0 10-4 15zM1164 430l17-12 6-19 13-7 6-11 12-13 3 13 15 18 22-2 12-7 11-3 4-6-1-5-4-5-8 3-5-2-9-6-8-25-13-10-6-11-5-5-16 1-13-6-18-11-15 3-19-6-4 2-6 8-9 4-5 5 11 10 1 6-8 15 4 6 11 9 6 20 5 11 12 10-3 25zM1242 381l-3-5-1-5 2-3 4 0 6 3-1 5-2 5zM275 415l5-1 5-7 0-5-7-5-4 5-2 5 1 5zM617 407l9 3 4 0 7-3 6-5-7-4-14-2-3-4-2-11-2-1-5 0-5 7 9 10zM1038 403l4-1 4-3 2-2 0-5-7-2-5 2-1 5zM494 397l5 2 4-2-1-5-2-2-5 1zM583 393l4 0 2-1-1-5zM649 390l7-3 10-21-9-14-13-4-4 3-6 10zM325 384l4 1 9-1 13-8 5-5-6-4-18 3-8 6-1 5zM524 368l5 0 9-6 7-21 26 8 9-5 17 4 18-12 3-5-1-2-15-11-20 14-3-17-6-2-4 1-19 9-9 1-5 4-9 4-9 9-2 5 1 10 3 8zM1009 367l9 2 8-1 4-2-1-5-8-5zM1379 365l3-4 0-2-6-3 0 5zM61 341l13-10 18-9 21-22 12-15 10-10 12-15 9-15 1-5-4 0-13 6-9 1-3 3-23 25-20 25-25 41zM1604 334l-14-24-18-25-36-40-1-1-4 0 0 13-1 3-5 3-1 3 4 9 11 15 24 20 10 13 19 5 8 3zM616 311l3 3 5-1 4-8 4-14 8-6-2-4-4 1-18 8-5 4-2 6 2 5zM864 312l4-2-2-5-7-5-3 5 3 5zM333 296l2 3 6-3 5-6 3-10-2-3-10-3-6 6-1 6zM771 258l4 2 4-3 0-4-3-3-5 0-3 5zM1341 221l11 0 1-3-5-7-6-4-8-2-1 2 1 4zM1244 207l6 3 2-3-8-5-4 0zM1353 203l4 0 0-1-8-14-1-6 16 5 2-2-5-10 4-2 0-3-6-5-21-8-9-5-6-8-15-8-22-5-2 1 2 5-21-9-9-1 2 3 9 6 27 10 7 1 17 10 13 11-1 2-2 0 1 4-2 5 3 4 14 14zM354 159l5-2 2-3-6 3zM837 148l5-4 1-8-3-7-6-4-12 9-23-11-3 0-6 4-3-1-4-7-3 0-6 5-3 8-5-4-3 0-4 4-1 4 2 3 3 1 8-8 5 3 10-3 6 0 9 3 5 7 3 1 10-3 3 0 6 6z"/>
<path fill="#844693" d="M388 786l4 0 2-2-3-18-3-5-7-5-8 0-2 5 2 5 10 15zM296 686l4-1 2-4-1-5-3-5-19-16-5-1-8 2 0 5 6 7zM733 681l0-5-5-9-4 4 5 9zM838 677l5 2 8-3-2-5-11-6-2 1-2 5zM1269 668l5-2 6-7 2-5-3-6-5 1-7 10-1 7zM624 619l1-4-2-2-2 2zM230 600l9 0 16-5 5-5 2-5-2-15 3-11-1-5-9-10-5-2-5 1-7 12-14-7-14 1-23-5-4 1-7 4-3 5 1 11 13 15 6 3 18 4 11 9zM133 584l5-1 3-3-5-7-5 0-1 2 0 5zM1534 563l5 0 5-3 1-6-4-6-4-3-5 2-3 7 2 5zM1477 555l14-2 9-4 2-5 0-10 14-3 6-7-1-6-4-3-5-1-5 2-3 3-6 11-5-1-4-5 1-5 5-10 0-11-2-10-3-6-5-4-8 10-5 4-18 6-3 5 0 6 5 10-2 10 3 3 13 5 3 7 1 6zM812 545l4 0 5-6-1-5-13-18-8-7-4-26 1-10-3-15 1-6 4 2 8 9 3 10 10 10 6 15 14 4 9-1 5-3 1-5-2-5-9-5-17-15 0-20-5-13-5-6-9 2-8-2-7 13-2 3-5-3-3-5 1-5 2-2 9-3 2-5-1-10-4-10 1-5 11-14 5 0 4 4 5 1 13 1 9 4 3 4 4 15 5 5 1 5-1 10 1 4 5 3 4-2 1-5-2-10 5-5 9-4 5 0 4 4 5 10-4 15 2 6 6 6 9 4 5 10 4 0 3-10 6-7 5 0 9 5 4-1 5-2 3-5 0-6-5-20 4-10-6-10-4-10-4-5-30-12-6 1-3 5-4-1-9-4-4-5-4-20 1-5 3-5-1-5-17-5-13 5-5 0-7-11-5-15-4-5-5-1-8 2-4-1-4-5-11-27-4-2-17 3-8 7-12 19-2 3-5 1-2-4 0-11-4-7-7-5-8-1-4 4 0 5 3 15-1 5-4 15-4 11-1 5 4 6 9-9 4 2-1 10-4 3-9-1-9 13-5 3-15 3 0 5 4 10 1 11 12 10 0 5-7 20 0 5 2 1 4 9-3 21 5 15 0 5-2 3-9 0-3 2 1 5 3 5 7 6 5 0 13-13 4-8 2-15-2-20 1-3 5-1 9 1 5 18-1 15 9 16 4-4 5-7 4-3 5 1 5 7 1 15 3 3 4-1 5 4-7 10-1 5 21 9zM710 392l1-5 3-6 7-5 13-4 6 4-3 5-17 12-5 1zM767 392l-5-11 0-5 2-4 7-6 3-12 4-4 13-1 17-6 5 0 8 9 13 5 4 4 0 5-4 3-13 8-4 1-9-4-4 2-5-1-13-7-4 0-4 3-2 5 5 11 1 5-1 2-4 2zM889 392l2-10 6 5 2 5-3 2-4 1zM771 305l-3-5 0-10 5-6 4-2 3 3-3 15-1 4zM758 536l5 1 8-2 4-6-8-6-14-2-4 3 2 5zM852 530l5 3 3-4 1-10 5-5 4-1 5 1 9 11 4 4 9-2 4-3 2-5-8-10-7-5-18-3-9 1-2 1-1 11-6 5-3 5zM991 530l5-1 4-5 0-5-22-16-4 6 2 5 6 6 5 8zM1538 533l4-1 14-8 23-2 5-3 0-5-2-5-7-5-4 2-14 11-14 1-4 2-5 4 0 5zM727 525l9 1 7-2 5-5-4-8-4-3-9-1-9 3-4 4 0 5zM1023 515l4 1 8-2 5-5 0-6-8-16-5 3-13-3-2 1-2 5 1 5 5 11zM915 511l5 0 5-2-6-11-1-10-3-5-4-2-6 7 6 21zM978 493l6-5-2-3-4 1-2 2zM199 455l4 1 4-3 0-5-3-4-4-2-3 0-2 6zM995 454l5-1-5-1zM1076 448l4 1 4-5 0-8-2-4-7-4-9-1-2 5zM334 445l4-1 4-7-3-5-4 2-2 3-1 5zM125 438l5-1 15-15-1-5-2-2-9-2-7-7-4-1-4 2-1 5 5 10zM1330 442l4 0 5-5 10-15-6-5-17-7-7 11-9 0-2 1 2 3 5 0 5 2zM1044 432l4 0 11-5-11-3-5 0-2 3zM647 428l5 0 4-9 1-8-4-2-5 8zM990 427l18 0 5-5-6-5-13-6-5 3-1 3-2 5zM1167 417l5 2 4-1 4-4 2-7-1-10-7 0-5 5-3 10zM559 412l9 5 4-1 4-4-1-5-2-5-8-4-9 3-1 1 1 5zM962 402l2 0-2-5-2 5zM1160 392l12-10 5 0 4 5 1 5 5 1 6-1 6-11 10-10 4-10 3-2 15 5 17 0 3-3 0-5-2-7-13-13-8-17-5-2-12 2-12-4-19-12-4-1-12 3-18-5-3 2-11 13 9 16 0 5-4 10 4 1 3 4 4 25 4 11 4 4zM1253 392l4 0 4-3 6-8-2-5-7-4-4 2-4 13zM1230 387l5 2 1-2-3-9-5-3-1 6zM330 380l8-4-7-1-2 1zM650 380l4-1 5-8 2-5-5-10-4-2-4 0-4 2-2 5 4 15zM525 362l5-1 5-5 2-5 0-5-2-5-5-4-5 0-4 4-2 5 0 5 1 5zM559 341l4 0 5-2 6-8 1-9-3-4-8 2-12 11 0 5zM593 342l5 0 5-6 1-5-4-4-4 0-5 4-2 5zM73 325l16-4 6-6 18-20 4-10 4-5 9-5 14-15 6-9 2-6-3 0-12 4-9 1-23 25-20 25-16 25zM1580 322l19 3-16-25-16-20-29-33-3 1 1 14-9 4 0 4 3 5 12 15 23 15 6 10 6 5zM617 305l3 3 5-3 1-6-3-5-5 1-3 5zM336 290l3 1 6-6-1-3-2-2-3 0-4 5zM1346 193l0-4-5-10-5-2-2 6zM1353 180l5 1 0-3-5-8-4-5-23-13-13-12-19-4 2 4 5 4 14 8 28 22zM837 144l3-4 0-4-3-5-3-1-5 6 1 4 4 4zM1274 137l3 0-8-5-7-1zM777 130l3 1 3-3-1-5-4 1-2 4z"/>
<path fill="#72277f" d="M387 774l1-3-1-5-3-5-5-2-3 1 1 6 4 5zM294 681l4-1 0-4-3-3-14-13-5-3-4 1-2 3 4 5zM229 596l5-6-4-5-8-5 0-5 10-5 0-5-5-8-5-3-9 1-13-3-9 0-5 2-4 11 1 5 2 5 7 5 16 1 5 2 11 12zM241 588l9 1 4-1 3-3 1-5-6-10-1-11-2-2 0 8-3 4-8 6-1 10zM1478 550l4 1 9-1 5-6-1-5-10-10 6-31-1-5-5-4-17 11-10 3-1 6 7 20 11 7zM807 534l5 1 1-1-8-15-7-5-4 0-5 2-2 3 1 5zM888 524l6 0 1-5-3-5-4-3-4 0-2 3 1 5zM1511 526l4-2-3-5-3 5zM727 521l4 1 4-2 2-1 0-5-6-3-5 0-3 3 0 5zM1570 519l5-2 2-3-2-3-7 3zM1027 511l5 0 3-2 0-6-3-3-9-1-1 4 1 6zM785 500l4 1 3-3 0-5-2-10 2-15-5-15-10-16 1-5 10-10 2-5 0-2-5-7-8-5-16-6-3-5-1-11 3-10 7-10 3-15 4-2 17 1 22-8 4 1 9 11 8 2 5 3 5 12 0 5-1 2-10 3-2 5 12 7 4 4 5-1 4-6 2 2 3 3 0 8-5 2-4 0-1 7 4 5 5 0 14-5 4 0 5 4 7 11 1 5-3 15 4 6 5 2 9 2 4-2 9-11 4-1 6 10 4 3 4 1 5-4 0-11-8-15 2-10-1-5-7-15-10-5-5-1-3 1-1 5 2 15-1 5-5-1-4-7-14-3-4-4 0-12-11-9-3-4-1-11-7-10-1-5 2-5-2-3-4-3-18 5-8-9-8-20-5-1-8 1-8-3-8-16-4-3-4 3-3 8 2 10-9 1-5-1-6-5-4-8-5 2-13 13-5-7-2-15-3-5-4-2-4 1 0 16-4 10-1 10 1 2 4 2 10 1-4 21-4 6-13 2-9 10-15 7 3 16 1 3 5 2 4 0 7-11 6-5 14-6 9-1 3 2 3 5-2 5-14 11-4 8-15 2-3 3-4 12-2 5 5 15-3 21 0 5 5 10 1 13 5 2 5-10 1-15-4-15 0-6 3-4 14-3 3-3 2-5 4-3 9-4 4 1 9 6 4 5 1 5-5 10-5 1-9 0-4 2-3 23 1 5 6 6 13-9 5 0 8 8 3 5 2 7zM720 422l0-5 4-14 4 2 4 12-2 5-3 1-4 1zM788 320l-4-5 4-4 4 1 3 3-2 5zM816 463l5-3 1-7-1-4-9-8-9-1-2 2 1 6zM1334 438l6-6 2-5-1-5-9-5-5 1-2 4 0 5 4 9zM1171 413l5 1 3-7-4-4-4 4zM564 409l4 2 1-4-5-2-1 2zM1160 387l11-14 4 0 10 5 17-5 5-7 4-14 18 3 14 5 4-2 0-7-14-12-4-14-5-5-13 2-13-3-5-2-11-10-5-1-16 3-14-5-3 2-5 9 2 5 10 11 3 5-3 15 0 20 4 14zM790 385l4-4-4-3-3 3zM651 372l4-2 1-4-1-5-3-2-3 2-1 5zM526 356l5-2 2-3 0-5-4-5-5 1-2 4 0 7zM1588 320l4 0 3-2-5-8-18-25-30-34-2 4 3 15-10 0-1 2 2 3 12 15 9 5 13 5 9 15zM79 316l3 2 4 0 4-3 16-20 13-20 10-9 10-6 5-5 2-5-2-1-11 4-8 0-40 47-9 14zM1351 175l0-2-6-8-15-9-8-3-1 1 13 11zM1309 146l4 0-10-6z"/>
<path fill="#591365" d="M194 575l9 1 4-2 4-9-4-6-7-2-5 2-5 11zM1483 547l4-1 3-2-2-5-4-2-2 2-1 5zM1475 530l5-2 4-14 1-11-4-5-14 10-2 6 2 10 4 4zM749 479l4-1 9-8 5-1 9 9 4 3 5-1 4-7 0-5-8-20-5-3-4 0-5 7-4 3-9-1-5 1-3 8-1 10zM709 459l1-1-1-7zM897 445l9 2 4-3 9-14 9-1 0-22-6-11-4 0 0 11-4 10-4 4-14-6-2 2-2 20 1 5zM933 445l4 2 2-5-2-7-5-2-1 4zM772 428l4-1 5-5 2-5-5-5-6-4-9 0-3 4 2 5zM1333 431l3-4-4-5-1 5zM710 423l5-11-5-2-3 7zM741 416l8-4 5-5-8-21-9 2-5 4-2 5 7 15zM869 396l5 0 4-4-1-5-8-4-2 4zM698 382l9-8 27-8 4-1 5 2 8 8 5-4 6-10 3-18 5-5 21 3 5 0 13-9 8 0 4 1 5 9 4 3 2-4-2-5-6-5-2-13-5-3-12 2-9 7-9 2-8-8-12-5-8-6-4 0-9 8-3 5-6 16-4 15-7 6-14 3-16 16zM856 375l4 0 4-4 0-5-2-5-5-5-5-15-5 0-6 5 1 5 10 20zM1162 369l8-4 14 4 17-1 3-5 0-7-2-3-5-4-9-2-1-7 3-3 13-1 4 0 5 4 6 5 4-1 3-4 1-4 1-5-3-6-29-2-17-13-5 0-10 4-13 1 7 8 2 8 2 10-5 10 0 5 3 10zM1237 352l4 1 1-2-6-2-1 2zM724 317l5 1 4-3 1-5-4-9-4 4-2 5zM92 296l5 0 8-6 20-30-1-2-4 0-19 22-12 15zM1556 291l12 0 10 2-31-36 0 4 7 14 0 3-9 2-1 2 4 5zM1342 168l0-3-12-6z"/>
<path fill="#40004b" d="M1471 521l5 3 3-5 2-6-4-4-6 5zM749 474l4 0 5-6 0-6-4-2-5 2-1 6zM780 474l4-1 1-5-5-11-4-5-6 6-1 5 7 9zM897 439l4 3 5-1 4-4 0-5-2-5-7-2-3 2-2 5zM741 407l4-5 0-5-3-6-5 1-2 5 2 6zM751 367l5-5 2-6 2-10 0-10 1-2 13-1 8-2-2-6-5-6-17-5-4 0-4 6-4 11-5 10 1 10 4 10zM1178 361l4-1 2-4-5-20-3-5-5-3-4 3 0 15-4 10zM1196 363l4-2-1-3-5-1-1 4zM97 290l6-3 6-7 4-9-1-4-17 21z"/></g>
<path d="M165.9 56.6L172.9 56.6L179.9 56.6L186.8 56.6L193.8 56.6L200.8 56.6L207.8 56.6L214.8 56.6L221.7 56.6L228.7 56.6L235.7 56.6L242.7 56.6L249.6 56.6L256.6 56.6L263.6 56.6L270.6 56.6L277.6 56.6L284.5 56.6L291.5 56.6L298.5 56.6L305.5 56.6L312.4 56.6L319.4 56.6L326.4 56.6L333.4 56.6L340.3 56.6L347.3 56.6L354.3 56.6L361.3 56.6L368.3 56.6L375.2 56.6L382.2 56.6L389.2 56.6L396.2 56.6L403.1 56.6L410.1 56.6L417.1 56.6L424.1 56.6L431.1 56.6L438.0 56.6L445.0 56.6L452.0 56.6L459.0 56.6L465.9 56.6L472.9 56.6L479.9 56.6L486.9 56.6L493.9 56.6L500.8 56.6L507.8 56.6L514.8 56.6L521.8 56.6L528.7 56.6L535.7 56.6L542.7 56.6L549.7 56.6L556.6 56.6L563.6 56.6L570.6 56.6L577.6 56.6L584.6 56.6L591.5 56.6L598.5 56.6L605.5 56.6L612.5 56.6L619.4 56.6L626.4 56.6L633.4 56.6L640.4 56.6L647.4 56.6L654.3 56.6L661.3 56.6L668.3 56.6L632.3 44.2L201.9 44.2Z" fill="#fff"/>
<path d="M342.4 434.0L345.2 434.0L348.1 434.0L350.9 434.0L353.7 434.0L356.6 434.0L359.4 434.0L362.2 434.0L365.1 434.0L367.9 434.0L370.7 434.0L373.6 434.0L376.4 434.0L379.2 434.0L382.1 434.0L384.9 434.0L387.7 434.0L390.6 434.0L393.4 434.0L396.2 434.0L399.1 434.0L401.9 434.0L404.7 434.0L407.6 434.0L410.4 434.0L413.2 434.0L416.1 434.0L418.9 434.0L421.7 434.0L424.6 434.0L423.3 451.7L421.0 451.7L418.6 451.7L416.2 451.7L413.9 451.7L411.5 451.7L409.2 451.7L406.8 451.7L404.4 451.7L402.1 451.7L399.7 451.7L397.3 451.7L395.0 451.7L392.6 451.7L390.2 451.7L387.9 451.7L385.5 451.7L383.2 451.7L380.8 451.7L378.4 451.7L376.1 451.7L373.7 451.7L371.3 451.7L369.0 451.7L366.6 451.7L364.2 451.7L361.9 451.7L359.5 451.7L357.2 451.7L354.8 451.7Z" fill="#fff"/>
<path d="M562.3 413.5L563.6 413.5L564.9 413.5L566.1 413.5L567.4 413.5L568.7 413.5L570.0 413.5L571.3 413.5L572.5 413.5L573.8 413.5L575.1 413.5L576.4 413.5L577.7 413.5L578.9 413.5L580.2 413.5L581.5 413.5L582.8 413.5L584.1 413.5L585.3 413.5L586.6 413.5L587.9 413.5L589.2 413.5L590.5 413.5L591.8 413.5L593.0 413.5L594.3 413.5L595.6 413.5L596.9 413.5L598.2 413.5L599.4 413.5L572.9 438.2L571.8 438.2L570.7 438.2L569.6 438.2L568.5 438.2L567.4 438.2L566.3 438.2L565.3 438.2L564.2 438.2L563.1 438.2L562.0 438.2L560.9 438.2L559.8 438.2L558.7 438.2L557.6 438.2L556.5 438.2L555.4 438.2L554.3 438.2L553.2 438.2L552.1 438.2L551.0 438.2L549.9 438.2L548.8 438.2L547.7 438.2L546.6 438.2L545.6 438.2L544.5 438.2L543.4 438.2L542.3 438.2L541.2 438.2Z" fill="#fff"/>
<path transform="scale(0.5)" d="M240 842l39-2 21-9 33 0 39 5 24 6 6-8 29-5 32-2 34 0 35 2 32-2 35 2 52 10 22 5 19 7 17 4-3 14-7 7 1 8 14 8 30 5 13 2 26 0 25-3 13-6 13-17 15-6 31-4 31-3 60 4 18-5 32-2 31 0 17-2 22-9 35-21 31-10-14 5-12 7-9 9-1 8-7 13-9 6-22 10 11 3 58 0 17-1 20-4 23-6 30-6 30-8 46-7 65 0 45-2-35 20-33 16-49 18-39 12-875 0zM1456 319l8 0 13-8 21 0 6-2 4 2 7 7-1 5 7 7 9 1 14 7 18 6 0-9 12-2 10 4 29 2 8 15 6 15 6 21 8 30 4 20 3 26 1 40-1 26-3 25-5 26-9 30-6 20-7 16-16 12-11 6-10 4-13 0-13 4-5-3 6-13-1-15-2-8 3-21-1-12-4-17 4-14 10-15 0-13-2-15-3-8-12-18 3-10-1-10-5-7-11 1-7-11-14 1-13 6-11-1-15 4-19-13-9-13-17-15-5-11 3-10-3-15-4-7 1-14 7-20 12-12-4-8 6-22zM62 338l9 1-2 7-1 15 7 46 8 15 8 12-1 5 4 7 12-4 19-4-8 22-10 16-9 11-12 9-15 19-2 16 1 8 7 15 2 23-12 12-7 10 6 11 4 10-9 11 4 12-4 15-3 5-10-20-6-15-6-20-8-30-4-20-3-20-2-40 1-30 3-25 4-20 6-25 7-25 11-25 5-10zM1427 310l-4-8-5-4-5-13-6-5 4-4 25 2-6-13-10-7-13-5 11-1-3-5 8-1-2-5 4-2 1-6-2-4 11-2-8-9-9-6 5-4 18 16 15 2 12-4 6 1 0-5-9-6 9-2-9-6 0-4 11-1 5-1-9-3-18 2-10-4-12-10 0-9-15-3 4 5-1 5 2 6 9 7 7 2 5 3 5 12 3 5-3 3-6-1-25-16-5 4-8 0-10-7-12-9-2-4 4-4 1-5-7-19 4-5 6-4 13-1 19 4 40 26 37 28 28 24 26 24 30 35 18 25-20-4-10-7-1-5-8-7-9 3-4-1 7 7 7 4-5 7-27-25-7-4-14-5-13-9-5-2-3 3 4 5 8 3 5 5 27 13-2 5 0 3-2 2-7-10-32-15-5-5-7-2-7 6-9-2 2 8 2 4-8 3 2 12-2 8-10 0-3 3zM188 198l-2-3 6-5 31-21 32-21 3 3 0 4 8 2 7 6-20 13 21-6 15-10 8 3 21-4 14-1 17-5 13 2 7 4 4-7 15-8 18-3-20 18 35-17 14-4 22-2 35-8 35-7 18 5-9 12 15 2 24-2 2 10 10-2 28-4 18 1 16 6 23 5 23-1 12-1 17 2 37 11 7 4-9 8-14-3-13 0-6 3-6 9-15 3-14 8-14-1-10 2-9 9 2 8-16 15-16 10 0-10 3-12 23-28-22 9-40 1-31 23 11 5-14 27-28 22-14 3-7 2-6 8-9 8 2 12-3 9-13 4 2-12 3-4-5-10-14 3 2-9-18 9 2 8 9-2 6 4-11 5-6 6 5 20-2 10-11 14-11 10-14 8-21 8-3 4 0-6-8 0-6 5-6 10 3 8 8 9 1 15-16 16-6 3 2-7-7-4-3-8-7-2-4-4-5 15 5 15 5 4 7 12 0 12 3 3-3 1-10-8-4-14-8-13 2-12-1-31-10 4-5-1 3-11-5-9-3-13-15 5-8 4-11 7-13 14-10 4-5 28-12 11-4-7-9-36 0-12 2-16-10 7-5-8 6-3-7-4-5-6-1-3-23 1-11-1-6-2-2-6-8 3-8-6-4-8 0-5-11 1-1 7 4 20 3 2 12 0 8-3 4-7-1 12 7 2 3 6-12 17-29 17-16 8-19 6-6 1-1-20-3-13-6-13 1-12-5-11-3-9 3-8 1-9 18-19 6-9-17 4-8-1-7-3 23-30 22-25 14-14 21-19 30-24zM780 169l9-4-7-6 20-9 12-3 49 7 14 3 26-5 36 5 14 5 53 0 13-1 11-4 8 2 8-2 1 20-6 2-10 14 5 6 10 11 16 4 16 6 16 11 12 7-6-15 7-5-5-11-16-21 23 2 9 5 22 3 27 20 17 7 10 10-1 5-12 6-24 5-6 8 19-7 2 7 20 8-15 12 1-9-5 3-8 2-7 7 5 7-15 5-3 18 4 8-3 4-9 6-7 8 0 7 8 19 0 8-6-3-6-11-7-10-6 1-10-3-7 0-2 6-14-3-7 2-10 8 1 9-1 10 3 16 7 8 7 6 11-2 6-5 0-7 12-3-1 15 0 15 10-1 11 4 2 21 10 10 9-3 9 5-2 2-5-3-4 7-12-4-6-5-8-4-2-8-7-8-23-7-12-8-13-1-30-14-4-8-4-13-14-14-20-28-8-2 14 22 8 15 3 7-12-15-12-13-5-7-6-13-7-8-9-3-10-16-6-6-3-7-2-30-4-10 5 0-7-8-13-7-9-15-4 3-12-10-11-10-17-9-18-4-7 2-12 6-2-6-7 9-8 6-19 8-13 5 9-5 20-11-4-4-24-8-3-5 6-7 12-2 0-4-17 0-6-5zM1165 450l2-5 15-9 2 6 8-2 9 4 13 3 11-3 7 6 17 18 16 1 9 7 5 5 4 8 0 9 7 5 16 2 13 8 13 3 8 7 9 3 1 11-3 10-8 7-8 11-7 25-11 20-5 5-11 2-12 6-9 10-3 10-20 21-9 7-7 5-14-3 2 8 1 6-7 6-19 4-4 8-12 2 1 7-8 12-13 7 3 9-14 11-7 7 1 3-7 2 0 10 7 1-14 2-9-12 1-14 9-15 11-21 3-4 4-15 5-10 9-16 16-49 4-22 1-9-7-6-12-8-19-43-6-8 6-16-5-7 5-9 5-3 6-13 0-13-2-5 1-5zM412 610l11-7 18-5 5-11 4-5 6-10 9-3 9 5 4-9 4-5 7-3 19 3-4 7-1 8 18 12 7 0 2-12-1-13 4-9 5 14 8 8 5 17 12 8 8 12 14 14 5 17-1 13-8 23 1 10-9 3-4 5-8-4-13 1-7-5-4-9-7-1-4-10-2 5-4 1-6-9-10-5-9-2-12 3-15 9-12 0-11 5-12-3-3-4 0-10-17-31-1-10-2-8zM1067 111l10-4 73-5 60 6-4 7 30 23 9 12-3 9-18 2-3 11-9 5 4 20-26-9-30-20-11-11 3-7-17-4-18-12-21-6-19-2-16-4-6-4zM580 706l2 11-4 3-9-7-5-8zM684 680l7 9 11 1-1 8-4 3-5 9-3-2-1-7-4-3 2-6-2-8-8-11zM688 710l-4 11-6 3-2 7-5 4-11-3 1-5 5-5 7-5 7-13zM125 577l-2 10-1 16 1 20-8 5-7-5-7-13 1-12-4-13 9-7 10-19zM260 460l-4 8-5 0 0-10 1-9zM330 472l12 14 12 10 6 12 7 7 0 13-6 0-10-9-6-8-8-13-4-9-13-19zM370 529l18 4 10 0 8 5 0 5-29-5-7-2-5-3zM427 540l18 1-5 2-31 0-2-3zM464 541l-16 10 1-6zM383 488l7 0 9-6 11-11 7-8 7 7 3 2-6 5-1 11 5 6-6 4-5 8-2 11-6 2-20-6-1-7-4-8 0-7zM428 506l1-10 3 2 1 0 4 5 8 0-6 8 5 8-2 4-7-11-3 1 0 13-4 0-3-14zM469 491l-3 5 3 5-4 0-2-7 1-6zM486 500l7 3 5 12 11-9 31 12 7 8 7 3 0 10 7 8 7 5-11-2-9-10-16 6-7-1-9-5-4 1-1-7 3-3-12-10-9-3-5 1-4-6 6-3-11-5zM572 520l3 4-10 6-7-1 0-3zM446 404l0 8-5 7 10 9 0 7-9-7-6-2-1-4 0-5 4-13zM447 455l9-6 4 11-1 6-4 4-15-7zM453 435l5 7-4 6-8 5-5-8 0-7zM450 371l-7 16-3-6 5-10zM395 396l2 3-7 7-3-5zM507 318l13-1 7-8 8-3 9-11 3-7 5 1 0 9-6 6-3 9-5 7-7 2-6 0-6 6-3-4-9 0-9 2zM501 327l-4 11-5 3 0-13zM514 325l-4 4-5 3-2-1zM550 278l10-10 5 6 7 4-11 7-9-2-5 5zM571 240l9-16-1 6-6 18-4 14-7 3zM1401 238l-10-1 3-3-6-5 2-1-5-7-4 1-6-3-8-5-6-10 7 0 3 4 7 1 4 5 7 4 9 5 7 5 9 4 5 7-23 6zM1379 237l-8-1 0-3-7-7 3-3 1-4 10 4 2 5 7 6zM1262 172l3-4 19 0 15 5-1 4-6 5-18-3zM1295 113l16-1 17 1 7 9-8 4-13-3-19-5zM360 136l18-6 34-6 8 1-39 7-32 12-17 5 1-3zM532 110l4 5-17 3-8-1zM632 128l16 3-30 7-5-6zM1133 380l8 1 28 15-15 1-5-8-11-2-18 1zM1175 397l12 1 8 6-11 3-15-2-1-7zM1161 406l-3 2-6-2-1-1zM1525 304l3 8-13-5-2-2zM1492 290l6 10-5 0-7-10zM1484 280l5 8-3-1-5-7zM1580 319l-5 1-7-1-1-1zM94 317l-6 5-7 0 1-2zM1132 181l-2 7-17-4-18-7-14 0 12-9-6-7-20-9-15-10 5-4 21 4 19 8 13 9 20 9zM1020 104l50 1-21 13-8 8-29 0-20-8 1-8zM1047 134l-36 0-5-8 37 2zM949 140l24-2 18 12-10 7-30-2-14-3-1-6zM923 134l20 5-7 7-23-1zM970 126l18 1 13 5-30 2-30 0-2-4zM1003 136l18 4-9 6-13 0-7-2zM1048 172l10-1 14 8-17 0zM1198 237l17 13 5 7-8 3-6-4-12 1z" fill="#d3d3d3" stroke="#000" stroke-width="3.6" stroke-linejoin="round"/>
<path transform="scale(0.5)" d="M240 262l-4 8-12 6-2-4 5-7z" fill="#e6f2e3" stroke="#000" stroke-width="3"/>
<path transform="scale(0.5)" d="M192 262l13-1-3 9-9 2-8 8 2 8-6 20-15 4-5-5 7-12 3-2-1-11 6-10z" fill="url(#caspgrad)" stroke="#000" stroke-width="3"/>
<path transform="scale(0.5)" d="M110 269l13-7 5 3-6 7 15-4 14-8 4 0-16 11 3 4 0 12-4 3-13 1-8-6-19 4-8 0-1-2 8-10z" fill="#7a3088" stroke="#000" stroke-width="3"/>
<path transform="scale(0.5)" d="M1075 254l16 1 4 7-30-1zM1086 265l21 1 3 4-1 10-8-5-5 10-6 0-5-10zM1116 282l4-6 15 1-28 9zM428 235l15-7 16-12 2 1-11 9-24 11zM41 497l6 4-5 10-7-1-1-9z" fill="#e6e6e6" stroke="#000" stroke-width="3"/>
<path d="M670.2 97.0h0M689.1 97.0h0M368.4 134.8h0M387.3 134.8h0M359.0 144.2h0M377.9 144.2h0M396.7 144.2h0M293.0 153.7h0M311.9 153.7h0M368.4 153.7h0M387.3 153.7h0M406.2 153.7h0M425.0 153.7h0M575.9 153.7h0M594.8 153.7h0M783.4 153.7h0M264.7 163.2h0M283.6 163.2h0M302.4 163.2h0M359.0 163.2h0M377.9 163.2h0M396.7 163.2h0M415.6 163.2h0M434.4 163.2h0M585.3 163.2h0M604.2 163.2h0M792.8 163.2h0M255.3 172.6h0M274.1 172.6h0M293.0 172.6h0M311.9 172.6h0M368.4 172.6h0M387.3 172.6h0M406.2 172.6h0M425.0 172.6h0M443.9 172.6h0M575.9 172.6h0M594.8 172.6h0M613.6 172.6h0M264.7 182.1h0M321.3 182.1h0M340.2 182.1h0M359.0 182.1h0M377.9 182.1h0M396.7 182.1h0M415.6 182.1h0M434.4 182.1h0M453.3 182.1h0M472.2 182.1h0M585.3 182.1h0M604.2 182.1h0M623.0 182.1h0M255.3 191.5h0M311.9 191.5h0M330.7 191.5h0M349.6 191.5h0M368.4 191.5h0M387.3 191.5h0M406.2 191.5h0M425.0 191.5h0M443.9 191.5h0M462.7 191.5h0M481.6 191.5h0M594.8 191.5h0M613.6 191.5h0M632.5 191.5h0M245.8 200.9h0M264.7 200.9h0M283.6 200.9h0M302.4 200.9h0M321.3 200.9h0M340.2 200.9h0M359.0 200.9h0M377.9 200.9h0M396.7 200.9h0M415.6 200.9h0M434.4 200.9h0M453.3 200.9h0M472.2 200.9h0M491.0 200.9h0M509.9 200.9h0M641.9 200.9h0M660.8 200.9h0M85.5 210.4h0M104.4 210.4h0M293.0 210.4h0M311.9 210.4h0M330.7 210.4h0M349.6 210.4h0M368.4 210.4h0M387.3 210.4h0M406.2 210.4h0M425.0 210.4h0M443.9 210.4h0M462.7 210.4h0M481.6 210.4h0M500.5 210.4h0M519.3 210.4h0M575.9 210.4h0M651.3 210.4h0M670.2 210.4h0M76.1 219.9h0M95.0 219.9h0M113.8 219.9h0M321.3 219.9h0M340.2 219.9h0M359.0 219.9h0M377.9 219.9h0M396.7 219.9h0M415.6 219.9h0M434.4 219.9h0M453.3 219.9h0M472.2 219.9h0M491.0 219.9h0M509.9 219.9h0M528.7 219.9h0M660.8 219.9h0M85.5 229.3h0M104.4 229.3h0M330.7 229.3h0M349.6 229.3h0M368.4 229.3h0M387.3 229.3h0M406.2 229.3h0M425.0 229.3h0M443.9 229.3h0M462.7 229.3h0M481.6 229.3h0M500.5 229.3h0M519.3 229.3h0M340.2 238.8h0M359.0 238.8h0M377.9 238.8h0M396.7 238.8h0M415.6 238.8h0M434.4 238.8h0M453.3 238.8h0M472.2 238.8h0M491.0 238.8h0M509.9 238.8h0M528.7 238.8h0M349.6 248.2h0M368.4 248.2h0M387.3 248.2h0M406.2 248.2h0M425.0 248.2h0M443.9 248.2h0M462.7 248.2h0M481.6 248.2h0M500.5 248.2h0M519.3 248.2h0M726.8 248.2h0M745.6 248.2h0M227.0 257.6h0M359.0 257.6h0M377.9 257.6h0M396.7 257.6h0M415.6 257.6h0M434.4 257.6h0M453.3 257.6h0M491.0 257.6h0M509.9 257.6h0M717.3 257.6h0M736.2 257.6h0M755.1 257.6h0M773.9 257.6h0M123.3 267.1h0M217.6 267.1h0M368.4 267.1h0M387.3 267.1h0M406.2 267.1h0M425.0 267.1h0M443.9 267.1h0M726.8 267.1h0M745.6 267.1h0M764.5 267.1h0M76.1 276.6h0M95.0 276.6h0M113.8 276.6h0M132.7 276.6h0M396.7 276.6h0M736.2 276.6h0M755.1 276.6h0M773.9 276.6h0M66.7 286.0h0M85.5 286.0h0M104.4 286.0h0M123.3 286.0h0M142.1 286.0h0M519.3 286.0h0M538.2 286.0h0M557.0 286.0h0M95.0 295.4h0M113.8 295.4h0M132.7 295.4h0M151.5 295.4h0M509.9 295.4h0M528.7 295.4h0M547.6 295.4h0M566.5 295.4h0M585.3 295.4h0M142.1 304.9h0M519.3 304.9h0M538.2 304.9h0M557.0 304.9h0M575.9 304.9h0M707.9 304.9h0M726.8 304.9h0M151.5 314.4h0M528.7 314.4h0M547.6 314.4h0M566.5 314.4h0M585.3 314.4h0M717.3 314.4h0M736.2 314.4h0M47.8 323.8h0M66.7 323.8h0M142.1 323.8h0M368.4 323.8h0M425.0 323.8h0M538.2 323.8h0M557.0 323.8h0M575.9 323.8h0M38.4 333.2h0M57.2 333.2h0M76.1 333.2h0M132.7 333.2h0M245.8 333.2h0M359.0 333.2h0M415.6 333.2h0M528.7 333.2h0M547.6 333.2h0M566.5 333.2h0M641.9 333.2h0M679.6 333.2h0M47.8 342.7h0M66.7 342.7h0M142.1 342.7h0M236.4 342.7h0M255.3 342.7h0M500.5 342.7h0M519.3 342.7h0M538.2 342.7h0M557.0 342.7h0M670.2 342.7h0M264.7 352.1h0M396.7 352.1h0M453.3 352.1h0M472.2 352.1h0M491.0 352.1h0M509.9 352.1h0M528.7 352.1h0M547.6 352.1h0M566.5 352.1h0M274.1 361.6h0M293.0 361.6h0M311.9 361.6h0M349.6 361.6h0M368.4 361.6h0M387.3 361.6h0M406.2 361.6h0M425.0 361.6h0M443.9 361.6h0M462.7 361.6h0M481.6 361.6h0M500.5 361.6h0M519.3 361.6h0M538.2 361.6h0M557.0 361.6h0M283.6 371.1h0M302.4 371.1h0M321.3 371.1h0M359.0 371.1h0M377.9 371.1h0M396.7 371.1h0M415.6 371.1h0M509.9 371.1h0M528.7 371.1h0M198.7 380.5h0M330.7 380.5h0M670.2 380.5h0M689.1 380.5h0M189.3 389.9h0M679.6 389.9h0M698.5 389.9h0M113.8 408.9h0M132.7 408.9h0M227.0 408.9h0M264.7 408.9h0M453.3 408.9h0M472.2 408.9h0M491.0 408.9h0M443.9 418.3h0M462.7 418.3h0M481.6 418.3h0M500.5 418.3h0M434.4 427.8h0M453.3 427.8h0M472.2 427.8h0M491.0 427.8h0" stroke="#000" stroke-width="5.0" stroke-linecap="round" fill="none"/>
<path d="M94.2 399.8H740.0M29.0 325.5H805.2M12.8 249.2H821.4M29.0 172.9H805.2M94.2 98.6H740.0M273.7 454.2L262.9 449.3L249.6 441.8L235.7 432.4L223.4 422.2L212.3 411.3L201.9 399.8L192.0 388.0L183.2 375.8L175.6 363.4L168.7 350.9L163.0 338.2L158.4 325.5L154.9 312.8L152.4 300.1L150.3 287.3L148.8 274.6L148.0 261.9L147.6 249.2L148.0 236.5L148.8 223.8L150.3 211.1L152.4 198.3L154.9 185.6L158.4 172.9L163.0 160.2L168.7 147.5L175.6 135.0L183.2 122.6L192.0 110.4L201.9 98.6L212.3 87.1L223.4 76.2L235.7 66.0L249.6 56.6L262.9 49.1L273.7 44.2M381.2 454.2L378.5 449.3L375.2 441.8L371.7 432.4L368.7 422.2L365.9 411.3L363.3 399.8L360.8 388.0L358.6 375.8L356.7 363.4L355.0 350.9L353.6 338.2L352.4 325.5L351.5 312.8L350.9 300.1L350.4 287.3L350.0 274.6L349.8 261.9L349.7 249.2L349.8 236.5L350.0 223.8L350.4 211.1L350.9 198.3L351.5 185.6L352.4 172.9L353.6 160.2L355.0 147.5L356.7 135.0L358.6 122.6L360.8 110.4L363.3 98.6L365.9 87.1L368.7 76.2L371.7 66.0L375.2 56.6L378.5 49.1L381.2 44.2M488.8 454.2L494.2 449.3L500.8 441.8L507.8 432.4L513.9 422.2L519.5 411.3L524.7 399.8L529.6 388.0L534.1 375.8L537.9 363.4L541.3 350.9L544.1 338.2L546.5 325.5L548.2 312.8L549.5 300.1L550.5 287.3L551.2 274.6L551.7 261.9L551.9 249.2L551.7 236.5L551.2 223.8L550.5 211.1L549.5 198.3L548.2 185.6L546.5 172.9L544.1 160.2L541.3 147.5L537.9 135.0L534.1 122.6L529.6 110.4L524.7 98.6L519.5 87.1L513.9 76.2L507.8 66.0L500.8 56.6L494.2 49.1L488.8 44.2M596.4 454.2L609.9 449.3L626.4 441.8L643.9 432.4L659.2 422.2L673.0 411.3L686.2 399.8L698.4 388.0L709.5 375.8L719.0 363.4L727.6 350.9L734.7 338.2L740.5 325.5L744.9 312.8L748.0 300.1L750.6 287.3L752.5 274.6L753.5 261.9L754.0 249.2L753.5 236.5L752.5 223.8L750.6 211.1L748.0 198.3L744.9 185.6L740.5 172.9L734.7 160.2L727.6 147.5L719.0 135.0L709.5 122.6L698.4 110.4L686.2 98.6L673.0 87.1L659.2 76.2L643.9 66.0L626.4 56.6L609.9 49.1L596.4 44.2" fill="none" stroke="#000" stroke-width="2.2"/>
</g>
<path d="M632.3 454.2L639.8 452.2L648.4 449.3L658.0 445.9L668.3 441.8L678.9 437.3L689.3 432.4L698.8 427.4L707.6 422.2L716.1 416.8L724.2 411.3L732.2 405.6L740.0 399.8L747.5 394.0L754.7 388.0L761.6 382.0L768.0 375.8L773.9 369.7L779.4 363.4L784.7 357.2L789.7 350.9L794.2 344.5L798.2 338.2L801.9 331.8L805.2 325.5L808.1 319.1L810.5 312.8L812.5 306.4L814.2 300.1L815.8 293.7L817.3 287.3L818.6 281.0L819.5 274.6L820.3 268.3L820.8 261.9L821.2 255.6L821.4 249.2L821.2 242.8L820.8 236.5L820.3 230.1L819.5 223.8L818.6 217.4L817.3 211.1L815.8 204.7L814.2 198.3L812.5 192.0L810.5 185.6L808.1 179.3L805.2 172.9L801.9 166.6L798.2 160.2L794.2 153.9L789.7 147.5L784.7 141.2L779.4 135.0L773.9 128.7L768.0 122.6L761.6 116.4L754.7 110.4L747.5 104.4L740.0 98.6L732.2 92.8L724.2 87.1L716.1 81.6L707.6 76.2L698.8 71.0L689.3 66.0L678.9 61.1L668.3 56.6L658.0 52.5L648.4 49.1L639.8 46.2L632.3 44.2L201.9 44.2L194.4 46.2L185.8 49.1L176.2 52.5L165.9 56.6L155.3 61.1L144.9 66.0L135.4 71.0L126.6 76.2L118.1 81.6L110.0 87.1L102.0 92.8L94.2 98.6L86.7 104.4L79.5 110.4L72.6 116.4L66.2 122.6L60.3 128.7L54.8 135.0L49.5 141.2L44.5 147.5L40.0 153.9L36.0 160.2L32.3 166.6L29.0 172.9L26.1 179.3L23.7 185.6L21.7 192.0L20.0 198.3L18.4 204.7L16.9 211.1L15.6 217.4L14.7 223.8L13.9 230.1L13.4 236.5L13.0 242.8L12.8 249.2L13.0 255.6L13.4 261.9L13.9 268.3L14.7 274.6L15.6 281.0L16.9 287.3L18.4 293.7L20.0 300.1L21.7 306.4L23.7 312.8L26.1 319.1L29.0 325.5L32.3 331.8L36.0 338.2L40.0 344.5L44.5 350.9L49.5 357.2L54.8 363.4L60.3 369.7L66.2 375.8L72.6 382.0L79.5 388.0L86.7 394.0L94.2 399.8L102.0 405.6L110.0 411.3L118.1 416.8L126.6 422.2L135.4 427.4L144.9 432.4L155.3 437.3L165.9 441.8L176.2 445.9L185.8 449.3L194.4 452.2L201.9 454.2Z" fill="none" stroke="#000" stroke-width="2.4"/>
<clipPath id="clipb"><path d="M1521.2 454.2L1528.7 452.2L1537.3 449.3L1546.9 445.9L1557.2 441.8L1567.8 437.3L1578.2 432.4L1587.7 427.4L1596.5 422.2L1605.0 416.8L1613.1 411.3L1621.1 405.6L1628.9 399.8L1636.4 394.0L1643.6 388.0L1650.5 382.0L1656.9 375.8L1662.8 369.7L1668.3 363.4L1673.6 357.2L1678.6 350.9L1683.1 344.5L1687.1 338.2L1690.8 331.8L1694.1 325.5L1697.0 319.1L1699.4 312.8L1701.4 306.4L1703.1 300.1L1704.7 293.7L1706.2 287.3L1707.5 281.0L1708.4 274.6L1709.2 268.3L1709.7 261.9L1710.1 255.6L1710.3 249.2L1710.1 242.8L1709.7 236.5L1709.2 230.1L1708.4 223.8L1707.5 217.4L1706.2 211.1L1704.7 204.7L1703.1 198.3L1701.4 192.0L1699.4 185.6L1697.0 179.3L1694.1 172.9L1690.8 166.6L1687.1 160.2L1683.1 153.9L1678.6 147.5L1673.6 141.2L1668.3 135.0L1662.8 128.7L1656.9 122.6L1650.5 116.4L1643.6 110.4L1636.4 104.4L1628.9 98.6L1621.1 92.8L1613.1 87.1L1605.0 81.6L1596.5 76.2L1587.7 71.0L1578.2 66.0L1567.8 61.1L1557.2 56.6L1546.9 52.5L1537.3 49.1L1528.7 46.2L1521.2 44.2L1090.8 44.2L1083.3 46.2L1074.7 49.1L1065.1 52.5L1054.8 56.6L1044.2 61.1L1033.8 66.0L1024.3 71.0L1015.5 76.2L1007.0 81.6L998.9 87.1L990.9 92.8L983.1 98.6L975.6 104.4L968.4 110.4L961.5 116.4L955.1 122.6L949.2 128.7L943.7 135.0L938.4 141.2L933.4 147.5L928.9 153.9L924.9 160.2L921.2 166.6L917.9 172.9L915.0 179.3L912.6 185.6L910.6 192.0L908.9 198.3L907.3 204.7L905.8 211.1L904.5 217.4L903.6 223.8L902.8 230.1L902.3 236.5L901.9 242.8L901.7 249.2L901.9 255.6L902.3 261.9L902.8 268.3L903.6 274.6L904.5 281.0L905.8 287.3L907.3 293.7L908.9 300.1L910.6 306.4L912.6 312.8L915.0 319.1L917.9 325.5L921.2 331.8L924.9 338.2L928.9 344.5L933.4 350.9L938.4 357.2L943.7 363.4L949.2 369.7L955.1 375.8L961.5 382.0L968.4 388.0L975.6 394.0L983.1 399.8L990.9 405.6L998.9 411.3L1007.0 416.8L1015.5 422.2L1024.3 427.4L1033.8 432.4L1044.2 437.3L1054.8 441.8L1065.1 445.9L1074.7 449.3L1083.3 452.2L1090.8 454.2Z"/></clipPath>
<g clip-path="url(#clipb)">
<path d="M1521.2 454.2L1528.7 452.2L1537.3 449.3L1546.9 445.9L1557.2 441.8L1567.8 437.3L1578.2 432.4L1587.7 427.4L1596.5 422.2L1605.0 416.8L1613.1 411.3L1621.1 405.6L1628.9 399.8L1636.4 394.0L1643.6 388.0L1650.5 382.0L1656.9 375.8L1662.8 369.7L1668.3 363.4L1673.6 357.2L1678.6 350.9L1683.1 344.5L1687.1 338.2L1690.8 331.8L1694.1 325.5L1697.0 319.1L1699.4 312.8L1701.4 306.4L1703.1 300.1L1704.7 293.7L1706.2 287.3L1707.5 281.0L1708.4 274.6L1709.2 268.3L1709.7 261.9L1710.1 255.6L1710.3 249.2L1710.1 242.8L1709.7 236.5L1709.2 230.1L1708.4 223.8L1707.5 217.4L1706.2 211.1L1704.7 204.7L1703.1 198.3L1701.4 192.0L1699.4 185.6L1697.0 179.3L1694.1 172.9L1690.8 166.6L1687.1 160.2L1683.1 153.9L1678.6 147.5L1673.6 141.2L1668.3 135.0L1662.8 128.7L1656.9 122.6L1650.5 116.4L1643.6 110.4L1636.4 104.4L1628.9 98.6L1621.1 92.8L1613.1 87.1L1605.0 81.6L1596.5 76.2L1587.7 71.0L1578.2 66.0L1567.8 61.1L1557.2 56.6L1546.9 52.5L1537.3 49.1L1528.7 46.2L1521.2 44.2L1090.8 44.2L1083.3 46.2L1074.7 49.1L1065.1 52.5L1054.8 56.6L1044.2 61.1L1033.8 66.0L1024.3 71.0L1015.5 76.2L1007.0 81.6L998.9 87.1L990.9 92.8L983.1 98.6L975.6 104.4L968.4 110.4L961.5 116.4L955.1 122.6L949.2 128.7L943.7 135.0L938.4 141.2L933.4 147.5L928.9 153.9L924.9 160.2L921.2 166.6L917.9 172.9L915.0 179.3L912.6 185.6L910.6 192.0L908.9 198.3L907.3 204.7L905.8 211.1L904.5 217.4L903.6 223.8L902.8 230.1L902.3 236.5L901.9 242.8L901.7 249.2L901.9 255.6L902.3 261.9L902.8 268.3L903.6 274.6L904.5 281.0L905.8 287.3L907.3 293.7L908.9 300.1L910.6 306.4L912.6 312.8L915.0 319.1L917.9 325.5L921.2 331.8L924.9 338.2L928.9 344.5L933.4 350.9L938.4 357.2L943.7 363.4L949.2 369.7L955.1 375.8L961.5 382.0L968.4 388.0L975.6 394.0L983.1 399.8L990.9 405.6L998.9 411.3L1007.0 416.8L1015.5 422.2L1024.3 427.4L1033.8 432.4L1044.2 437.3L1054.8 441.8L1065.1 445.9L1074.7 449.3L1083.3 452.2L1090.8 454.2Z" fill="#f1f1f1"/>
<g transform="scale(0.5)" fill-rule="evenodd"><path fill="#e1f1dc" d="M2184 908l53 0-10-6 19 6 63 0-41-15-61-32-6-4 0-3 16 7 5 2 2-1-4-5-5-4-16-3-10-6-6-8-1-7-9-12-1-4 2-4-8-9-3-9 2-2 9 2 7 4 3 9 0 3-3 3 1 3 6 5 22 9 28 17 10 9 7 12 6 5-3-8 0-5-7-8-36-22-13-18-10-10-7-4-3-5 4-7 3-1 10 3 2-2 2-7 0-5-4-10-11-14-1-5 3-10 0-12 8 0 3-2 7-16 8-6 2-4-1-16-13-20-5 0-15 7-6 8-4-1-11-8-4 1-6 8-8 5-5 7-4 0-3 2-1 7 7 10 1 5 0 3-3 2-4 0-9-5-11-10-9 0-6-5-5-11-5-2-8 1-7 3-10 7-4 7-1 5 8 15-3 8-9 7 3 13-1 3-14-3-23-15-22-8-15-14-10-4-8 0-5 12-3 1-10-3-13-6-4 5-4 0-27-14-4 1-5 4-12 0-5 4 29 34 26 25 7 0 6 2 11 7 21 19 29 18 15 14 36 26 38 20 2 2-1 1 10 4 48 19zM2280 905l-12-5 6 1 7 4zM2238 896l-31-14 11 2 8 3 14 9zM2207 893l-25-9-5-4-2-3 19 7 17 9zM2139 857l-8-4 0-2 6 2 5 4zM2181 849l-15-13-6-9 9 4 20 13 3 7zM2135 836l-7-7 16 10-3 1zM2106 813l-7-4 1-1 7 6zM2008 809l-22-14-13-13 0-4 9-9-1-3-17-14-2-8 2-2 5 0 9 5 43 34 1 5-2 1 0 6-14-2-2 1 1 4 12 15zM2000 752l-5-6 5 1 4 5zM2399 908l9 0-7-3-6 0 0 2zM2550 908l10 0-6-3-4-8-6-2 3 12zM2600 907l9 1 1-3-6-4-7 1-3-1-6-7-10 2-1 3 1 2 6 0zM2715 908l41 0 15-12 11-16 6-15 7-12 27-26 1-9-3-9-3-1-3 1-7 9-3 3-4 1-11-9-1-13-7-12-13-5-5 4-11 13-1 4-2 14 2 13-1 5-13 21-15 12-1 4 1 2 3 1 6-2 2 6-3 7-9 6-2 3zM2772 908l21 0-13-1-10 1zM2803 908l62 0 17-11-1-4 5-3 2-1 0 4 16-6 7-3 5-8 35-22 2 4 3-1 18-21 15-13 3-6-27 15-8 2-2-3 7-8 34-14 10-8 5-3 3 2-3 9 2 4 5 6 4 0 19-15 16-22 20-10 5-2 1 8 3 1 9-2 3 4 5 0 16-6 25-15 8-1 8 4 7 0 16-4 13-6 3 0 1 4-6 4-8 3-11 7-13 5-27 28-20 11-15 12-23 13-5 9-9 8 0 2 6 0-7 6-25 13-9 0-16 6-23 16 25-7 27-13 4-1 3 5-13 6-31 11-38 7 53 0 26-7 39-17 7-8 13-7 53-22 11-3-3-1 4-3 3-9 12-13 8-5 22-9 11-9 4-14 3-5 25-24 4-2 3 1 5 10-4 12 8-7 11-4-1 8 11 0 29-28 29-34-36 10-7-6-4-7-3-1-12 5-4 0-6-3-4-7-9 1-3-1 3-12-4-8-4 0-9 8-14 25-13 11-7 4-4-1-2-4 1-12-12-8-4-7-30-14-12 6-2-3 3-13-1-3-4 1-6 5-10 13-22 11-5 1-3-1-6-6-23 5 2 3-1 7-4 5-7-4-15-2-5-4-5-11-4-2-9 2-11 8-16 8-6 5-6 20-11 17 0-12-6-10-1-10-1-10 3-20-2-2-15-4-11-6-18 2-14 7-4 0-12-4-5 1-31 26-4-1-4-19-4 0-5 3-9 12 0 5 5 5 5 10 7 2 9-1 7 3 3 11 7 6 1 4-1 5-10 14-1 14 11 2 21-13 26-7 13-15 12-6 4 1-9 19 0 5 2 15-2 5-7 6-9 3 5 4 1 4-5 10-5 5-17 9-15 17-10 3-5-2-6 0-4-3-5 2 0 9-4 4-6 4-7 1-5-9 1-4 17-22 5-9-1-2-3 0-5 3-14 17-10 8-1 5 3 4-1 3-11 15 11-3 2 1 0 4-5 8 2 1 12-6 2 0-2 4-30 21zM3078 853l9-9 8-4 15-6 2 1-1 9-13 9-13 3-9 0zM3126 818l11-9 11-5 4 1-1 4-6 4-17 6zM3175 813l18-13 7-3-6 7-9 8-11 3zM2967 800l7-10 5-4 7-3 5-1 2 1 0 3-5 5-19 11zM2963 771l3-3-1 3-3 3zM3046 908l21-7-18 4zM2362 904l2 0-3-3-15-5 2 3zM2498 901l2-1 1-4-9-8 1 8zM2625 899l5 0 3-3 4-8 5-1 3-3-1-11-3-2-3 2-15 11-3 9 2 5zM2373 897l3 0-6-4zM2946 896l10-3 5-3zM2956 898l11-2 7-5-10 2zM2397 894l2-1-8-4zM2940 888l12-4 7-4 3-4-2-1-9 4-11 7zM2584 886l3-1 1-5-5-7-3-1-3 4zM2569 878l3 1 3-2 2-1-6-6-3 3zM3113 877l12-4 8-6-9 2-7 4zM2308 874l-10-9-6-2 8 6zM2993 875l0 1 8-3 4-4 0-2-6 2zM2356 869l12 3-1-3-5-4-35-21-6-1 2 6 9 8 10 4zM2624 865l3 0 6-4 4-8 15-17 4-9 1-4-2-5-8-5-10-17-3 0-2 4-6 2-18 5-4 6-1 14 13 17 1 13 4 6zM3034 862l9-5-2 0zM3030 853l4 0 13-9 7-5 2-5-8 2-8 4-9 9-2 3zM2273 837l4 0 3-3 1-3-2-4-9-5-7 0 1 5zM3051 827l11-4 4-5-1-2-11 7zM2503 823l4 1 3-2 1-4-2-9 4-14 22-6 3-3-3-10 2-3 11 3 7-5 4 0 8 9 8 0 15 14 8 1 6-5 3-9 8-10 4-14 6-5 10-3 20 6 4-1 2-2 2-15 7-10 0-5-1-2-4 0-6 12-3 4-4 1-2-5 0-10 2-15-2-10-4-8-5-1-8 2-17 8-4-3-8-15-5 1-8 9-4 2-9-3-13-11-4 0-8 4-21 5-16 10-3 5-6 20 2 16-9-5-12-3-10-12-5-2-9-7-4-1-4 2-7 8-16 0-28 14 1 10-5 10-1 9-2 4-3 2-15 2-16-2-23-10-8 7-4 1-16-3-10 4-17-10-3 1 5 16-3 2-6 2-3 4 3 5 4 4 18 12 10 4 3 0 7-6-2-10 2-4 7-1 4 1 9 4 12 15 18 2 4-1 7-7 3-1 9 3 11 9 3-2 3-8 3-3 10-1 6-3 10-3 8-11 3-1 19 12 3 2 4-2-1-9-5-15 4 2 11 13-1 12-2 2-1 5 5 4 9 5 3 9zM3073 826l2 0 5-4-5 1zM2334 815l3-1-2-5-7-4 1 4zM2244 801l4-1-1-5-8-6-2 3 1 3zM2704 762l17-20 1-5-3-5-3-2-3 2-6 8-10 7-2 5 2 7 3 2zM2476 705l4-1 0-2-5-6-3 1 1 5zM2805 690l4 1 4-3 7-7 3-5 0-25 8-20 9-11 3-10-2-6-12-9-17-24-2-1 4-11 0-5-1-6-3-4-6-2-8 0-19 8-9 1-8-1-14-8-13-5-9-9-9-1-13 5-10 17-8 1-5-2-4-5-5 1 5 5 1 5-6 7-4 2-14-9-4 4-9 14-5 2-11-15-7-4-4 0-4 4-2 6 1 5 13 10 4 5 0 5 5 5 5 1 4-1-6-10 2-5 5-3 9 3 5 5 0 5-3 5 3 5 12 0 4 2 10 13 16 17 22-3 13 3 13-1 4 3 6 22 9 9 4 0 9-8 22-3 8 2 1 5-5 10 1 12zM2790 565l5-5 10 5-6 2zM2104 678l5 0-1-2-1-1-4 0-1 1zM2884 671l9-2 37-33 4-4 15-6 3-6 2-10 1-2 5-4 14-4 10-11 5-2 21 4 2-1-3-31-6-15-2-10-3-4-5-2-10 1-4 5 0 15-5 2-4-1-6-6-3-5-3-15-5 0-4 5-6 15-10 10-2 11 1 20-16 25-5 2-2-2-6-12-4 1-5 4-14 7-4 10 0 16-11 10-2 5 1 15 4 3zM2314 668l4 0 2-2 1-10 6-9 4-2 17 0 3-4-27-14-5 0-7 9-1 5 4 10 0 5-3 5zM2996 668l3 1 7-6 6-17 12-15-2-1-11 9-14 5-5 4-3 8 1 5zM3093 659l3 1 5-1 5-3 15-15 3-10 9-11 5-4 9 0 16-12 8-4 0-5-13-13-4-3-5 1-8 5-7 9-26-4-5 2-20 13-2 5 1 10-3 16 1 5zM2286 638l4-1 2-1 1-5-5-9-4-1-5 5 0 5zM2412 638l26 0 2-7-3-31-2-4-13 2-5-3-9-11-9 42 3 5zM1869 626l9 1 4-1 0-11-18-20-2-15-2-5-5-5-5-3-9 0-2 3-1 5 0 15 3 5 13 10 8 15zM2520 613l8-1 12-7 3-5 0-5-2-5-9-3-4-5-6-12-3-16-10-7-4-1-18 14-13 4-5 3-8 12-5 11 0 5 6 12 5 1 13-9 4-1 4 0 11 7 12 1zM3180 606l4 1 5-3 2-4 0-7-3-7-5 3-5 11zM2246 602l2-7 14-10 5-5 3-10-1-6-5 0-13 2-4 1-2 3-2 5 1 20zM3041 596l4 3 4 1 11-5-3-10 8-4 5-6-1-5-15-11-4-2-5 3-7 15-2 15zM2355 587l3-2 1-5-5-3-1 3zM2092 575l4-1 7-16 4-5 6-4 3-5-2-10 2-5 16-17 4-1 14 2 9-1 4 1 7 6 7 17 5 3 3 0 5-5 1-10-2-5-22-19-4-7 6-20-13-32-10-14 0-5 4-10 2-10-1-10-2-5-3-3-4-1-14 7-5 0-7-3-4-7-4 0-6 8-8 19-10 15 4 5 1 5-3 10 3 16-3 10 1 10-5 10-3 15 1 6 7 11 2 9-1 7-9 23 3 8zM2116 498l-3-5 0-2 5 0 1 2 0 5-1 2zM2550 576l13 0 2-1 0-5-11-5-4 1-2 4 0 5zM2277 561l5 2 5-4-5-10 0-5 7-5 1-5-5-5-5 0-2 5 1 10-4 5-2 5 2 5zM2447 562l8-3 5-5 1-5-1-3-5-4-9-1-4 1-4 2 3 10zM2850 500l5 2 3-4 0-10-4-4-6 4-1 5zM2877 500l17-12 1-10-3-5-2 0-4 5-5 9-5 6-1 5zM3065 483l5-3 3-7-1-15-10-10-3-7-5-6-4 6-2 7-1 20 2 5 5 5 7 5zM2939 474l5 1 4-1 17-11 2-10-1-16 3-2 3-8-4-3-5 0-2 3 3 10-4 5-8 7-14 19zM2800 458l5 0 8-5 9-1 9-4 6-6 2-5 2-30-4-6-6-4-8-12-4 0-17 17-22-1-2 1-1 5 8 16 13 14 1 5-4 6-2 5 3 3zM3024 459l4-1 4-5 2-16 15-6 4-4 5-25-5-4-13-2-8 4-9 1-5-1-5-4-4 0 1 6 4 1 6 7 0 7-3 4-9 1-4 4-2 6 0 10 3 6zM2005 439l4 2 9-4 4-5 2-5-1-15 3-10-12-18-4 0-5 2-6 6-2 5-1 5 5 10 0 20zM1818 434l4 1 3-3 2-5 3-20-4-9-7-6-8 30zM2732 409l1-2-2-8-3 3zM3139 410l5 1 4-4-1-10 2-8 5 7 5 1 5-5-1-5-7-7-6 1-2 5-4 3-2-8-2-15-4-5-7-3-13 2-5-2-7-11-6-5-4-1-4 3-2 9-3 3-5-2-4-8-8-5-4 1-4 3-1 6 2 5 3 2 8 0 5 2 5 11 6 5 24 1 10 4 4 6 8 17zM3409 406l-10-34-3 3 2 17 3 5zM2356 398l5-1 0-5-4-4-5 0-1 4zM2524 382l9-3 13 5 5-2 4-15 13-16 14-10 4-1 13 4 9-1 8-7 5-9 4-3 4-1 8-1 8 3 5 6 5 0 12-17 8-3 9 2 4-1 4-7-1-5-16 4-5-4-2-5-2-15-3-5-3-3-9-2-11-6-4 5-2 11-2 3-4 1-3-4 0-20 3-12 9-13-1-5-16-19-7-4 1-5 4-9 0-5-5-9-8-3-10 1-7-4-5-8-11-25 1-9 16-33 3-2 7 8 8-5 8 0 1 2-1 6 3 4 8 0 4-9 10-6 8 1 2-1-1-4-5-4-210 0-12 4 3-4-75 0-21 8-22 14 17-7 14-1 14-5 10-2-14 6-16 9-22 7-17 11-15 8-5 4 0 12-4 5-15 9-5 3-5-2-8 1-13 6-5 6-3 7 2 2 8-1 2 2 0 3 3 4-3 5-5 3-11 1-14 7-3 0-2-2-1-8-4 0-6 3-6 5-2 5 9 3 0 2-1 5-6 9-17 7-30 18-2 5-1 12 3 13-5 10 0 5 2 5-2 5-9 10-5 11 2 20 4 10 4 2 14-5 14-2 5-5 4-10-4-10-1-18-2-4-10-7-1-2 0-5 4-5 13-6 20-14 11-10 3-2 8 0 4-3 10-15 12-8 8 0 0 3-2 5-9 12-17 8-2 5 2 4 9-2 30-17 17-20 4-1 3 2-1 9 1 6 7 2 13-2 10 3 10-14 11-5 3 0 1 5-4 12-7 8-11-4-2 4 1 5 4 4 8 1 6 7 7 3 6 7 11 4 9-2 14-8 7 5 5-2 11-13 4 0 15 6 6 8 4 1 2-1 9-20-2-5-6-5 0-5 7-6 4 0 3 2 3 14 5 4 4 0 11-16 11 5 4-1 9-7 19 5 5 10 9 5 4-5 1-5 4-3 4 1 7 7 11 17 3-2 0-5 2-10-7-20 1-10-4-14 2-5 6 0 3 2 2 3-2 10 2 2 11 5 7 8 13 4 12 0 6-15 4-2 2 7-2 15 9 10 1 5-10 7-5 8-2 5 2 10-3 5-9 7-9 11-4 0-4-7-4-2-4 2-8 9-3 5 1 6 6 10-1 5-5 1-9-4-13-1-7-15-5 1-2 3-12 30 1 5 4 5zM2350 226l1-5 4-10 12-5 6 1-2 4-12 15-5 2zM2518 207l6-10-1-4-5 0-4 4-1 5-3 1-1-1-2-2-1-17-4-18 0-13-7-6-10 2-3-8 0-8 6-12-1-7 1-3 13-12 4-2 4 2 4 7 2 1 8-4 2 1-5 10 2 11-3 12-9 8-4 4 1 4 1 1 4-2 9-9 7 0 7-5 3 1 2 5 3 0 7-4 3 2 3 7-8 26-12 26-5 7-7 1zM2262 174l6-4-2 4-4 3zM2315 140l3-8 2-2 12-5 7-1-1 8-6 4-16 8-2-1zM2387 104l6-8 22-7-22 15-3 1zM2458 104l2-6 5-2 8 0-1 2-9 5zM2429 101l1-3 13-6 7-3 4 1-6 6-7 3zM2368 98l4-4-5-1 8-2-2 2 4 3-6 3-2 0zM2454 377l9 4 4-2 7-8-1-5-5-4-4-1-13 5-4 5 3 5zM2748 375l2-4-3-1-1 1zM3198 372l4-1 1-5-5 0zM3154 354l-4-10-1 2zM1943 338l14-4 5-3 1-6-3-5-7-2-4 2-7 11-1 5zM2236 332l5-2 8-10 1-5-4-3-5 1-6 7-2 6zM2748 322l8-3 2-4-4-8-4-3-4 6 0 10zM1959 293l7-3 11-15 0-5-3-15 9-13-1-3-10 3-4 3-3 5-2 6 0 9 3 8zM1982 290l5-1 5-8-8 4zM1915 276l7 1 4-2 9-15 18-20 7-2 7 2 6-5 5-9-1-4-6-1-10 2-24 12-7 10-5 15-13 14zM2873 256l1-9-2-7-3-5-5-3-3 1-3 7 1 5 10 10zM2655 250l4 1 2-6-2-4-4-2-2 6zM2844 251l4 2 5-8 0-5-7-14-5-6-5-2-1 3-4 3-6-3-5-6-4 1-2 5 3 14 9 7 13 5zM3010 245l8 1 5-5 8 1 3-2 6-10 0-4-7-10 1-3 10 8 6-10 4-4 5-3 1-2-1-10 2-5 0-4-2-4-8-9-21-13-15-13-17-11-18-4-33-16-18-2 10 10-4 1 0 5 14 17 3 6-1 7 7 8 2 5-2 2-10 0-2 2 6 12-3 5-3 2-21-5-10-4-2 2 6 15-3 1 11 19 3 5 6 4 3-2 1-7-8-11 3-1 5 2 8 10 13 9 9 10 3 1 6-2 15 5 11-1zM2794 242l4 0 13-7-5-5-8 0-8 5 0 5zM2064 226l6-5 0-2-8 0-5 2-1 5zM2654 226l7-5 1-5-5-14 1-9-4-5-10 3-8-9-3-1-4 2-3 5 1 5 7 9 7 5 5 14zM2127 213l6 2 4 0 6-4 3-4 4-15-15 5-7 10zM1983 207l5-1 14-9 22-22-2-1-9 5-26 18-7 6 0 3zM2689 208l4 0 3-4-2-11 2-7 7 0 19 5 3-1 1-7-3-22 2-13-1-4-6-10-7-4-10-13 3-3 6 1 2-2 0-3-5-8-11-5-4 1-1 10-10 2-10-3 0 3 6 10 0 5-8 11 1 4 13 11 2 6-5 18-3 2-9 2-2 4 1 5 9 5 9 13zM2729 208l0-6-2-5-1 5zM2833 210l1-3-1-6-4 6zM2835 199l7-2 1-4-7-14-3 0-3 9 3 9zM2116 175l4 0 8-5 23-18 1-3-14 8-17 13zM2183 170l22-5 6-4 4-9-1-1-5 1-9 5-14 8zM2747 171l3-2-1-8-6-12-4-2-4 5 1 5 5 8zM2804 168l1-11-1-5-4-5-4-1-3 0-1 2 1 4 7 13zM2771 161l-2-4 3-9-2-4-3 1-2 3zM2536 161l4-4-2-7-2 2-1 5zM2826 149l5-2-1-7-4-5-8-7-4 4 1 8 3 4zM2203 136l11-5-5 1zM2230 117l12-6-8 2zM3036 117l-4-4-10-3 3 3zM2197 104l39-12-17 1zM3051 106l-10-8-20-7 3 5 5 2zM2792 98l-8-8 3-1 16 4 3-2 2 1 15 5 9 0 8-1-2-5 2-3-71 0 11 4 9 6zM2199 92l-1 1 3 0 25-5-20 0zM2998 92l-3-2 4 0-2-2-15 0zM2298 90l11-2-12 0zM2908 90l7 0-3-2-10 0zM2933 90l8 1-5-3-10 0zM3034 91l-3-3-8 0z"/>
<path fill="#cfebc9" d="M2180 907l7 1-4-2 2 0 11 2 36 0-59-28-7-6-2-5-32-12-32-17-12-9-2-4 22 10 6 2 0-2-5-6-4-8-15-14-2-5 0-4 4-4 6 3 26 24 11 6 12 4 1-2-4-4-14-14-2-4 1-4 15 4 16 9 2-1-2-4 0-9-2-4-3-5-16-14-1-7 2-2 17-3 15 11 3-1 4-6 3-1 13 3 3-4-1-5-5-6-8-6-5-3-9-1-5-3-6-5-4-10 3-5-4-5-13-2-22-11-9-2-21-17-22 6-3 6 2 5 12 15 10 16-13-7-4-1-10 4-2 3 3 15-1 2-7 2-2 5 5 11-15 1-19-8-16-2 2 3 18 13 5 2 4-3 7 3 18 19 3 13-2 0-27-16-2 1 4 9-4 1-21-12 0 4 23 22-24-8 1 4 15 13 42 30 17 8 30 11 6 4 1 0-3 2 3 1zM2168 901l-4-2 12 4zM2053 836l-11-9 9 4 9 7zM2256 908l22 0-17-9-2-3 3-1-1-2-18-9-21-8-7-4 9 2-7-5-17-9-7 0-6-3-22-17-6-2 10 11 6 11-9 0 9 10 0 1-7-1 26 11-3-5 5-2 19 7 38 18 1 2-3 0 0 2 5 3-2 2zM2296 908l11 0-31-9zM2727 908l16 0 3-1 4-6 15-4 6-4 5-6 4-11-2-2-12 9-4 2-1-1 7-8 11-8 11-15 17-17 7-9 0-6-10 7-11-5-7 0-15 12-9 5-1-4 2-6-2 6-16 15-8 14 1 13 6-1 3 1-4 9-3 3-8 2-8 4 0 3 2 2 5 1 11-8 2 0 0 4-4 3-15 7zM2765 861l4-8 5-4 12 0-1 4-8 9zM2813 908l48 0 7-3 6-6-2-4 1-2 29-13 12-12 6-3 3 3 7-3 20-16 13-9 1-3-10 4-8-2 9-12 8-8 27-12 15-12 15-7 4-2 3 7 2 1 11 0 15-14 27-15 5-1 2 1 2 4 3 0 21-12 2 2-8 15 3 1 12-6 21-16 7-4 4 0 8 4 6-1 16-11 4 4 4 1 5-2 5-2 2-5-2-4-6-4 0-11-10-3-2-4 0-9-1-3-6-4-14-5-4 2-2 5-5 5-5 1-6-1-5-9-9 1-21 9-4 1-10-6-4 0-5 4-5 10-1 5 3 5-3 5-6 3-3-2-1-6-2-3-9-6-25-8-13 10-5 1-5-7-3-1-7 4-3 5-2 15-3 8 5-1 12-8 4 0-1 6-5 15-10 14 1-9-6-5-1-10-10 19-12 15-5 5-11 5-6 4-19 28-21 13-5 10 6 1-4 7-11 6-1-6-20 4-30 31-28 17-2 4 8-1 1 1zM2960 809l-1-5 2-9 6-9 5-4 22-10 3 4 4 1 2 3-9 10-26 18-5 2zM2971 908l29 0 12-2 2 2 27-7 35-17 1-1-6 1-31 12 20-9 10-7 19-13 2-7-1-1-4 1-16 5-12 8-3 4 2 2-1 2-26 12-29 10zM2221 894l3-1-9-4-12-3zM2625 896l3-1 3-5 0-4-2-2-3 2-3 4 0 3zM3105 861l4 1 6-1 43-21 14-18-13 2-3 0 1-1 36-28 31-19 10-10 5-9 22-16 6-2 2 1 5 4 1 8 4 3 19-4-2 11 9-2 18-18 25-28-21 5-17 6-2-7-6-3-4-1-11 4-9-3-9 0-1-4-2-2-10 3-20 15-27 15 3 6 0 4 3 2 19-9 4-1 2 3-1 5-10 5-40 14-23 24-2 5 1 4-38 27-8 13-15 16zM2628 856l3-2 5-14 14-13 0-5-4 0-7 4-3-3 4-10-3-6-18 2-7 4-3 5 3 13 11 13zM2199 815l0-2-2-4-4 0zM2772 814l4-1 5-4-2-14-3-4-3 0-7 4 0 5 1 7zM3200 806l7-2 8-4 4-5-1-4-8 4zM2368 800l4 0 4-6 18-1 3-2 3-9 4-1 0-5-13 0-7 2-13-4-7 0-5-1-11-9-4-1-13 5-16-1-12 7-2 2 1 5-7 5 2 4 8 6 3-1-3-12 13-2 12 1 14 5 3-1 5-5 7-1 6 6 2 14zM2501 801l4-1-1-10 1-3 15-2 3-4 5-12 8-4 11 4 8-4 3 0 9 7 11 1 8 10 4 3 4 1 11-16 2-5-3-9 1-5 3-9 3-1-1-10 2-3 4-2 2 5-5 5-1 5 5 5 3 0 8-3 8-1 6-6 1-10-7-25-3-4-4 1-13 6-4-1-8-13-5-1-8 6-8 2-13-9-8-3-17 6-4 3-12 1-8 4-4 7-2 10 2 20-2 15-4 1-9-8-5-3-4 0-5 15-3 3-5-3-22-34-20 0-4 1-9 8-12 3-3 12-4 10 2 5 9 1 4 3 4 5 2 5-1 10 6 1 6-1 11-15 4 1 9 9 6 2 2-2-1-5-9-15 1-2 4-2 4 0 4 2 10 8 7 0 5 4 4 10-6 9 1 5zM3149 797l5-2 5-5 3-5-8 5zM1961 778l-1-2 3-10-8-14-2-14 1-3 12-1 10 3 21-3 15 13 23 9 5 1-1-5-5-5-12-10-11-6-12-1-7-3-10-14-6-3-5-1-3 1-2 9-5 4-19-3-2 7-34-17-15 1-9-1-6 4 40 43 24 9zM2880 772l20-11 14-4 7 0 12-15 17-10 4-5-1-5-13 0 4-5 15-10 5-10 0-7-8-2-14 4-2-6-4-3-4 0-23 7-16-4-4 1-5 5-7 10-1 5 3 3 5 2 1 5-2 10 5 10-10 24-1 9zM2927 707l4-5 0 5-2 1zM2952 772l6-6 2-5 1-5-3-2-7 7-2 5 0 4zM2177 734l7-2 1-5-3-5-5-4 0 4-2 9-2 1zM2176 716l3-3 1-6 3-2 10 5 4 0 3-3 4-11 8-4 2-5-1-11-6-7-5-5-5-1-7 3-5 10-4 3-9-1-6-5-5-2-5 9-4 1-1 6 4 10zM3252 698l4-1 3-5-2-3-4 3zM2810 682l6-6 0-4-4-1-5 5zM2881 666l8 0 29-25 3-7-3-10-4-2-17-4-8-5-5 1-2 1-2 5 1 6 5 10 0 5-12 10 1 10zM2768 648l30 1 12 2 5-2 11-20 10-14 0-7-9-8-15-20-26-10-9-11-27-3-8-9-15-3-8-6-4 0-9 3-3 3-1 5 0 16-1 1-13-6-5 0-4 3-3 7 0 10-5 10 4 5 8 4 13-3 4 1 5 3 3 5 0 5-14 10 5 5 9-3 5-5 4-1 13 8 18 0 16 13zM3101 646l4 2 5-4 6-13 13-16 1-10-6-6-17-2-5 1-12 12 0 7 3 7 3 2 2 5-3 3-4 0-1 2 5 0zM2415 617l4-7-5-5-2 5zM2524 603l5-3-9-10-1-10-5-4-4 4 1 5 8 10 2 5zM3150 603l4 0 5-3 2-5-4-6-5-1-4 2-2 5 1 5zM2466 598l5-2 12-10 3-11-3-4-5-1-4 2-10 13-2 5 1 5zM2939 598l8 2 15-5 7-5 2-5-1-5-28-14-5 29zM1850 587l5-2-3-6-3 3zM2994 581l4 1 5-2 1-15-3-10-5-3-4 0-15 13-1 5 3 5zM2090 565l5-2 1-4-2-4-5 4zM2501 565l4 1 1-1zM2096 530l5 4 9-12 2-8 0-5-7-19-4-2 4-1 14-14 8 14 16 16 6 2 6-2-1-5-6-5-1-5 3-10 7-10 1-5-2-11-4-6-9-6-6-13-1-10-7-6-5-9-15-7-4 2-3 5-6 10 0 5 3 10 0 5-5 10 2 11-3 15 3 8 5 7-1 5-9 3-5 7 1 5 7 16zM3061 476l4 0 2-3 1-5-4-8-4-2-5 2-2 8 3 5zM3010 443l9 4 4-2 2-13 12-5 8-5 3-10-2-5-5-1-12 4-7 19-13 2-2 1 0 5zM2817 439l5 3 4-1 4-4 7-25-2-5-16-10-4 1-4 4-5 10 0 5zM2009 410l4-3 0-5-1-5-3-6-5 2-2 4 0 4 7 6zM2542 377l4-1 2-5-1-10-9-4-4 1-3 3 5 10zM3129 375l4-1 1-3-1-5-2-1-6 1 0 5zM2516 365l4 0 6-4 2-5-7-11-4-1-4 6-2 6 1 5zM2121 357l5 1 2-2 2-5 0-10 13-5 2-5 0-6-4-2-5 1-6 5-9 2-2 7-1 13zM2145 351l2-6-2 1zM2595 338l4 2 4 0 7-4 4-5 2-11 9-9 4 0 17 6 8 0 7-7 2-5-1-4-4-2-4 1-5 0-12-5-13 3-8-3-8 2-15 13-7 10-1 5 1 6zM2565 331l0-7-4 1zM2145 285l9-2 18-13 3-5 0-6-3-2-9 2-17 9-2-3 3-5 6-5 4-5-5 1-14 9-5 5-1 6 2 4 4 0 3 3 1 5zM2337 286l8 0 20-11 8 0 5-4 12-14 7 4 8 0 9-16 8-4 12-1 3 2 6 7 9-9 6-2 6 9 3 1 14-9 11 2 8-3 7 6 4 1 12-4 4-3 7-12 0-5-3-5-4 0-9 4-10-5-3-4-5-24-3-2-10 8-3 1-3-1-1-5 4-14-1-4-10 0-6-5 0-4 1-4 7-9 2-20 5-8-3-7 12-12-3-5 6-4-7-1 0-3-11 0-3 2 1 2 6 1 9 0-30 17-4-2-1-3 4-9-1-2-20 9-15 2-14 6-5-4 0-3 11-8 4-4-1-1-26 17-8 3-7-1-5 3-7 11-19 15-11 1-26 12-8 9 0 9-4 4-8-4 2-9-2-3-6 3-9 13-13 9-5 3-4 0 8-18-5 2-7 5-8 8-1 5 1 5-6 9-5 5-19 9-4 5-2 17 1 4 5-1 13-9 14-3 15-7 8-6 8-1 5-2 21-20 5-3 7-1 1 4-3 4-26 24-3 19 0 3 3 2 11-6 13-4 8-5 5-4 5-15-2-6-6-3 11-14 3-9 7-4 11-2 9-9 3 1-1 9-11 5-4 4-1 5 2 2 6 2 12-2 2 2 0 7 2 3 16-4 9 9 0 14-4 5-2 0-3-1-6-5-15 10-9 2-2-4 0-9-1-4-10-3-10 9-1 5 3 4-1 5-8 25 0 5 1 3 10 6 5 9zM2252 207l7-8 3 2-3 6-3 2-4 0zM2465 124l-1-4 3-3 8-3 1 3-7 6zM2608 285l4-5-4-1-1 1zM2649 286l8 1 1-7-14-5-1 5 2 3zM2228 256l5-1 4-5 3-5 0-4-8 7zM2616 252l4-2 8-15 0-5-9-11-3-2-5 4-1 19 2 9zM1938 244l13-9 2-2-1-2-9 4-4 5zM2845 241l-1-6-3-5-4 5zM2184 238l3-3 4-5-1-2-3 2zM2985 235l5 3 11-1 9 3 4-1 5-4 7-1 6-3 2-5-10-21 3-1 12 7 7-2 9-10-1-11 1-9-9-9-21-13-18-17-9-4-14-2-19-9-24-8 5 3 11 4 5 4-2 2-3 0-14-4-3 0-1 1 11 13 6 17 10 13 1 5-5 4 8 9 1 5-3 6-8-2-6 1-11 0-3 4 15 15 16 2 8 11zM2581 231l8 3 12-13 1-5-5-9 11-9 2-5-5-7-3-1-10 3 0 5 5 14-11 3-18-3-3-2-2-3 2-6 4-2 15-1 3-5-6-11-10-1-4-6 6-13-5-13 0-12-4-8 0-4 3-4 10-8 13-16 5 0 4 6 3 0 17-5 4-5-46 0-4 4-6 0-2-1 0-3-39 0-11 5 1-5-15 0-7 4 0 5 10-3 8 0 2 1 2 5 2 1 9-8 10-3 12 5 15 0 6 6-6 5-9 3-8 6-4-2-2-3 1-3-3 3-4 10-6 7-2 5 3 2 5-10 4-1 2 3 4 10 7-5 9 13 0 4-5 10-5 21-9 18-1 5 5 4 7 2 3 3 0 10 3 4 11 4zM2710 184l7 1 3-2 2-4-4-27-8-4-4-4 1-12-3-6-9-7-9-2-2 2-1 13 7 16 3 22 6 9zM2224 181l4-2 1-4-5 4zM2484 169l10-8 2-4 0-4-3-2-5 1-5 5 0 6zM2279 146l5 1 9-3 5-4 6-11-2-1-5 2-12 6-5 4zM2303 142l3-1 2-2-2 0-3 1zM2822 143l4 0 0-3-6-5-1 3zM2303 127l13-5 12 2 20-7-1 5 4 0 19-12 3-3 0-3-1-2-8 1 0-4-2 0-8 2-32 18-12 1zM2705 110l3-1-2-4-4-2-4 1 0 3zM2331 98l9 2 14-7 11-1 8-4-18 0-21 8zM2418 99l16-7-13 4zM2383 96l27-8-24 0-3 4-1 3zM2634 94l3-2 0-2-3-2-3 4zM2820 94l12 2 3-3-6-5-26 0z"/>
<path fill="#b7e2b1" d="M2198 908l31 0-10-3-29-15-22-6-21-14 0-2 2 0-4-3-42-21-50-32-7-3-2 4-3 1-11-3 6 7 27 18 13 13 7 4 22 11 36 12 4 4-1 2-14-3-4 2 13 9zM2301 908l3 0-13-3zM2732 908l7 0 4-3-5 0-8 3zM2818 908l39 0 8-3 5-4-2-2-4-1 4-5 4-3 25-10 8-11 24-12 3-4 3-9 16-17 6-10-5-2-2-7-8 3-21 16-4 4 0 3-5 10-8 9-56 37-20 6-3 3 1 4-2 2-8 3zM2831 907l18-14 7-4 1 2-5 5-11 7zM2985 908l12 0 30-9 21-9 13-7-47 18zM3019 906l13-3 9-4-13 2zM2249 894l1-1-1-3-5-3-33-12 21 12zM2761 893l5 0 4-3 3-5-2-2-5 4zM2750 885l4 0 14-12 1-4-1-2-7 2-4 4-6 7zM2853 877l0 3 6-4 6-7 13-8 4-4 0-3-8 3-9 12zM3065 873l8 0 5-4 2-4-11 4zM2093 870l5 1-51-35-15-9-7-2 39 32 15 8zM2743 869l3 0 12-6 15-18 5-4 15-4 2-6-5-2-3 0-23 15-12 5-7 8zM3116 855l0 2 4-1 8-3 28-17 5-6 1-2-15 3-2-1 11-14-23 15zM2625 837l4-1-4-3-2 3zM2134 825l0-2-14-14-1-11 3-1 25 8 3 0 1-5-8-7-8 0-6-3-9-9-1-5 0-2 10-1 4-10 15-2-1-4-11-10-1-5 7-1 10 5-1-4-4-10-10-10-15-6-12 0-9-3-9 14 5 15 0 4-2 3-4-1-13-7-12 0-1 6 6 14 14 20 9 9 18 14 10 14zM2619 820l3 2 4-4 0-2-4-2-3 4zM2978 809l12-7 7-8-17 10-3 5zM2073 795l4 1 3-1 1-5-4-4-11-4-5 1-1 3 4 4zM3176 796l7 0 31-18 9-7 4-6-2-2-4 0-29 13-15 14-2 4zM3039 786l4 0 17-12 31-16 4 0 1 4 3 0 17-10 9-4 3 2 0 2-8 13 4 0 10-8 8-10 16-6 4 0 6 3 7-2 7-5 4-5 1-4-7-8-2-17-2-3-8-1-17 9-9 1-3-1-5-8-3-1-9 2-21 8-8-1-5 4 1 4-1 6-3 5-15 8-3 0-3-10-11-8-16-4-9 3-6 6-3 5-10 39 11 0-1 5-5 10 2 1 11-4 3 1zM2341 781l3-1 3-4 0-5-8 0-11 5zM2511 776l4 2 3-3 1-4-1-5-10-4-7-10-2-2-4 2-2 5 2 4 2 4 9 3zM2436 775l3-1 3-3 5-14 13-6 7-1 2-3-13-17-13-2-4 1-6 8-11 3-3 3-2 9 1 5zM2189 767l1-1-3-3 0 3zM1945 763l5 1 0-3-7-19-20-20-11-5-5-1-12 6-12 0 25 27zM2562 762l4 3 4 1 7-3 16 2 4-3 3-15-2-15 7-15-2-10-3-6-17 3-5-2-8-7-4-2-4 1-4 3-2 10-6 4-3 1-21 2-3 18 1 20 3 4 11 0 8 3 8-2 4 1zM2890 758l17-3 15-8 2-5-9-18-3-2 7-20-1-5-2-2-12 0-12-2-5 4 0 5 3 5 1 15 6 5 0 2-6 23zM3306 752l2 1 6-2 28-30-14 2-9 4-14 15zM3248 737l1 3 6-1 6-8-6 1zM2632 734l4-1 0-5-4-1zM3292 727l3 2 5-2 0-5zM2078 709l0-2-4-5 0 5zM2192 698l4-2 2-6 7-2 3-4-1-8-8-5-4 0-4 12-8 4-1 5zM2887 659l4-3-4-1-1 1zM2807 646l4-1 4-4 13-26 0-5-9-9-8-15-4-3-17-6-18-12-8-2-14 1-4-2-9-10-4 0-9 4-9-8-5 0-1 6 3 11 1 10-4 15 1 5 3 6 5 4 17 8 26 7 16 16 17 7zM2902 647l8-6 1-5-3-4-4-1-5 4-2 6 0 5zM3117 614l4 0 1-6-4-1-3 3zM2688 575l1-5-1-1-2 1zM2132 479l4 1 5-7 0-5-4-6-5 1-2 5-1 5zM2105 474l9-11 15-9 4-6 1-11-3-7-4-4-5-1-10 2-6 10-8 26 0 5 3 5zM2816 418l5 0 6-6-2-5-5-3-6 3-1 5zM2599 334l4-1 3-2 1-6-3-12-5 3-4 9 0 6zM2343 281l9-2 24-14 10-15 2-10-3-3-4 0-9 3-3-1-6-7-3 0-14 7-4-1-1-6-3-4-2 2-6 10-5 20 7 6 7 13zM2150 275l3 3 6-3 6-5 0-5-6 1-5 4zM2469 240l9-7 8-3 5-4 7-10 1-11-2-7-4 0-12 6-3-3-5-7-3-15-8-5-4 1-5 4-3 9-6 7-8 3-3-3 4-9 10-12 3-9 7-6 5-7-7-3-1-4 6-13-1-15-9-7 0-3 3-9-9 6-4 6-5 4-3 1-1-2 0-4-7 0-5 1-13 8-9 1-1-2 0-6-2 0-15 6-6 3-11 12-5 8-11 14 2 2 20-14-5 10-2 10 2 6 12 11-2 9 2 3 7-1 8 7 16-4 1 4-11 24-1 8 3 3 3-2 12-9 3 2 5 10 3 2 8 0 12-5 7 2 4-1 6-5-1-10 4-3 8-1 3 1 1 3 1 10-2 4-6 5zM2417 174l4-8 2 4-6 6zM2401 148l1-1 4 1-2 2zM2210 234l4-1 16-13 10-4 13-19 1-4-11 4-15 14-16 10-3 8zM2283 232l10-3 12-2 5-6 3-8-3-2-9 3-7-1-9 8-3 6zM2990 232l16 0 6-2 11-1 5-3 0-5-8-16 0-4 3-2 5 2 11 5 6-2 5-10-5-13 2-2 0-3-6-6-23-13-8-12-8-5-16-2-11-4-13 0-17-4 14 14-1 6 5 11 20 27 1 5-6 4-1 10 5 19 4 4zM3013 161l0-2 3 0 4 2 0 2-3 0zM2567 221l4 0-2-5-4 0 1 5zM2272 201l4 0 6-4 7-9-4-9-11 4-2 5zM2547 199l4 2 3-1 11-17-1-4-3-5-12 19zM2302 183l7 0 8-4 5-9-2-3-7 0-4 3-8 9zM2709 180l4 2 5-3 0-5-4-13-4-4-10-1-3 5 2 9 3 4zM2562 165l3-8-2-1-3 5zM2696 141l6-3 1-6-5-6-7-1-2 1-1 6 5 8zM2554 120l4 0 2-3 0-4-4 0-4 4 1 3zM2334 118l20-8 4-3 1-5-7 1-6 4-8 6zM2473 108l6-1 0-4-3 1zM2340 96l5 0 2-3zM2602 94l10-1 4-1 1-4-18 0 3 2zM2827 94l4-1 0-1-5-4-15 0zM2583 92l12-4-12 0zM2553 91l7-3-9 0z"/>
<path fill="#9bd497" d="M2206 908l20 0-22-5-43-16-21-4-4 1 10 6zM2837 908l10-1 8-4 8-10 4-3 24-10 3-4-2-3 3-4 9-5 13-4 5-3 23-30-4-7-3 0-5 2-6 5-19 26-11 8-20 12-11 11-5 9zM2204 901l3 0-11-5-10-2zM2120 865l11 2 1-2-2-4-13-6 0 2 10 7-3 0-14-7-26-21-24-16-7-2-8 1 1 4 20 13 15 13 15 8zM3127 850l12-6 12-9-1-1-5 1-11 5-8 8zM2119 790l1-2-9-12-6-5-4 0-2 2 0 8 2 5zM3038 778l6 2 42-23 5-5 0-5-3-3 0-2 6-10 22-14 11-3 2-3 0-5-10 0-12 5-7 5-8 10-7 5-22 9-2-3-1-6-2-4-10-6-13-4-8 4-4 10-1 10-3 13 5-1 16-14 0 7-10 19zM2109 767l3-1 3-5-8-7-3 1-3 2 0 4zM2433 768l4 0 1-2 2-5-1-4-3-9-5-2-4 0-2 6 1 5 1 4zM2566 758l4 1 7-4 12 3 4-2 2-4 0-5-4-15 7-15-2-7-5-2-24 0-28 16-8 1-2 2-2 5 1 5 1 5 4 4 4 1 16-2 4 2zM2076 755l3-3-5-1zM1918 748l17 1 3-2-1-5-4-5-7-7-8-6-8 1-11 7-3 4 7 6zM2901 749l4 1 7-3 3-5-4-8-3-2-7 5-2 8zM3108 751l22-10 17-13 1 4 5 5 15-5 5 5 5-5-6-5 2-15-1-6-4-2-4 1-17 8-20 4-11 15zM2446 743l5 2 3-1 3-2-4-5-4-1-5 1zM3314 743l2 2 5-1 12-13-3-1-6 2-6 5zM2124 733l17 2 0-3-3-5-13-6-6 1-3 3-9-1-2 3zM2899 712l4 0 5-2 2-3-1-3-3-1-5 1-3 3zM2807 641l6-5 4-10 1-6-5 1-9 6-4-4 0-3 10-10 2-5 0-10-5-8-9-2-9 4-5-9-7-5-18-6-13 0-5 2-4 4-5 0-4-4-5-2-4 5-2 16 1 5 4 4 26 10 9-4 5-1 8 5 9 0 4 4 2 13 3 5 7 5zM2111 455l6-2 8-8 1-8-5-3-4 1-6 7-2 11zM2342 272l7 2 9-4 16-11 3-4 2-5-2-2-8 1-8-11-3-1-8 3-12 15-1 5 0 5zM2999 222l17 3 6-2 2-4-9-17 0-3 7-5 17 7 3-4 0-9-7-9-6-5-11-3-8-6-6-8-1-4 4-2 1-2-6-5-10-1-16-5-18-2-1 1 12 14-4 2-1 3 2 5 26 32-3 14 6 14zM2441 217l3 2 4-3 3-9-2-5-4 0-8 5 1 4zM2485 218l4 0 1-2 2-5-1-3-6 3zM2419 196l7 0 9-13 3-9-5-5-3 1-8 9-4 10zM2309 178l6-4-2-2-3 2zM2375 170l6 2 5-2 4-5 3-4-2-9 1-4 10-12 3-10-2-1-15 0 0-2 1-5-2-1-11 7-2 4 6 0 1 2-5 10-10 12-1 5 2 6zM2408 172l6-7 0-5-5 5zM2434 161l3 0 7-4 3-5 2-8 4-8-1-4-7 1-4-1 1-4 7-8-1-4-4 1-7 7 1 8-17 10-4 6 1 4 15-3 2 3zM2415 136l6-4-1-3-3 3zM2610 92l3-2 0-2-9 0 3 3zM2824 92l4-1-5-3-7 0z"/>
<path fill="#74bd77" d="M2166 895l2 0-9-5-14-3 5 3zM2875 881l6-5 2-2-1-1-6 4zM2099 855l-7-6-12-6 6 6zM2916 851l6-2 9-9 5-8-2-3-3 0-7 7-7 11zM3042 773l7-2 12-14 13-10 5-6-4 0-16 7-8-1-5 5-6 14 0 5zM2569 750l16-3 1-15 4-15-2-2-13 0-16 4-7 3-4 5-3 5 11 7zM2537 738l3-1-4-4-1 4zM3119 740l9-3 5-5 0-5-6 1-5 4zM2797 610l4-1 5-3 2-6-1-7-5-3-4 1-6 9 0 7zM2744 601l5 0 9-4 4 0 9 3 4-2 4-8-1-5-2-3-13-3-5-4-8-2-5 2-9 12-9-2-2 5 2 3zM2344 265l3 2 4 0 5-2 5-10-2-12-3-2-6 4-7 15zM3009 220l7-1 2-3-2-5-11-11-5-2-4 4 1 5 6 9zM3005 195l6-1 2-2 2-6 7-3-2-4-13-14-13-17-18-7-11-1 2 4 9 8 0 3-6 3 2 7 13 14 13 12zM2425 189l5-2 2-4 1-5-3-2-4 3-2 4zM2381 166l5-5 0-9 10-18-15 7-11 11 0 6 6 6z"/>
<path fill="#52a75c" d="M2569 742l4 0 6-5 0-10-3-2-16 0-3 2 0 5zM2749 592l8-2 1-5-4-6-4 0-4 6 0 5zM3006 188l2-3-1-4 1-3 3-1 0-3-18-22-5-4-9-3-1 3 4 4 1 7-8 2 1 4 7 8 13 10 6 4z"/>
<path fill="#348e48" d="M2993 166l7 4 2-2-5-7-6-4-1 3z"/>
<path fill="#ebddec" d="M2316 908l7 0-1-1-5-2-13-1 1 1zM2423 908l77 0-15-12-5-9-7-7-3-7-4-24 2-3 3 1 12 5 2-2 6-14-7-18-5-7-5-3-3 1-4 9-13 2-5-3-9-13-3-1-3 1-2 4-11-1-6 6 1 14-1 5-3 0-15-3-3-2 4-2 2-3 0-4-2-5-8-5-4 0-8 5-30 2-2 7-2 2-14 1-2 11 5 4 8 4 16 13 16 8 12 11 25 17 1 8zM2424 899l-10-6 8-1 9 7 0 1zM2419 876l-11-2-10-5-7 2-6-2-3-4 3-8 6 0 5 2 18 12 0-10 3-3 9 7 5 8-2 5-3 1zM2519 908l6 0-5-1-2 1zM2656 907l5 1 39 0 10-7 1-8 5-6 1-3-4-7 0-4 15-20 12-26 4-32-1-2-7-1-9-11-3-2-4 2-4 19-4 0-11-15-4-2-10 21-2 10-4 3-3 1-10-4-4 4-2 14 1 25 1 3 6 2 18-9 2 2 0 14-2 7-4 4-15 0-11 4-2 3 0 9-7 7 0 2zM2378 906l4 0-13-7-1 2 4 2zM2334 905l2 0-8-4zM2913 904l7-1 6-3-4-1zM2775 903l8-2 3-2 0-2-2-1-6 3-3 2zM2799 902l4-1 4-4-10 4zM2292 899l3 1-7-7-9-3-4 0 3 3zM2971 899l20-6 18-11 1-2-13 4zM2356 892l-6-11-1-5-7-3-7 1-5-1-20-17-7-4-2 1-2 5 6 7 29 17zM2813 884l3 0 4-5-4 1zM2517 876l3 0 1-3-5-8 4-21-2-4-4 0-10 9 0 4 10 12-1 8zM2241 866l4 1 1-2-7-8-25-21-10-5-3 0 7 9zM2557 862l3-5-1-3-4-1-2 4zM2581 857l9 3 16-1 3-6 0-4-3-5-10 0-6-8-6-5-1-4 8-8 3-6-1-4-4-5-13-10-4-2-7 3-4 5-2 4 2 9-1 2-4-1 1-5-2-5-8-4-4 0-10 4 0 5 2 3 10 6 10 13 11 9 8 13zM2976 854l14-5 4-5 0-4-11 4-6 5-2 3zM3193 838l8-2 2-4-9 4zM2235 832l0-5-8-4-1 2 1 2zM2322 832l1-1-3-4-3-2-3 1 4 5zM2895 823l2 2 17-12-1-23 9-14-1-2-4 0-4 2-9 8-4 0-5-3-4 0-6 5-2 4-1 10-3 9 0 4 4 2 8-2 2 2zM2830 810l2 2 5-3 7-9 0-14-8-7-3 2 0 9-4 10zM3083 809l16 0 7-5 10-14 8-3 11-1-1 4-8 12 7-2 10-11 0-3-2-2 1-14-3 0-4 1-21 14-16 5-9 5-5 5zM2454 798l1-3-3-2-1 2zM1952 786l-3-5-5-2zM2638 777l8 3 3-9-3-6-11-4-3 5 1 5zM2238 771l6 5 3-1 2-4-6-5-5 0-2 0zM2755 773l5-2 4-10-2-2-3-2-4 1-3 3-1 5zM2220 762l7-2 2-8 13 0 9-5 8 0 10 6 8-9 4-1 9 4 3-2 2-8 4-6 6 1 9 15 6 6 4 0 5-7 4-1 18 7 11-2 13 4 3-1 15-16 2-10 3-3 29-16 6-9 11-10 8-4 3-4 0-5-9-8-5-12-6-4-44-6-4 0-8 6-8 4-3 5-2 10 7 10-1 6-3 1-5-1-6-9-8 2-8 0-4 7 2 10-5 5-5-1-3-4-5-10-14-6 3 16-5 6-4 1-5-4-13-17-6-4-4-1-8 3-4 0-5-3-2 3 3 3 4-3 6 11-6 16-3 1-16-9-2 12-11-4-8 2-9 8-3 17-8 2-2 3 2 7 7 9 7 5zM2681 765l4 1 1-5 0-4-4-4-4 4zM2812 749l16-4 3 5 4 1 7-9 1-5-4-1-9 3-11-2-8 5-2 5zM2042 735l1-3-3-5 0-5 11-4 0-1-3-5-14-1-6-2-16-14 2 7 18 20 4 10zM2795 736l6-7 5-12 0-5-1-2-6 2-3 5zM2729 727l6 0 11-8 4 0 8 2 4 6 3 1 4-2 13-14 8-15 3-10-3-12-4-1-21 0-8-3-14-10-2-11-3-5-6 1-3 5 1 20-4 4-8-1-3-18-4-7-4 0-5 4-4 0-4-3-9 0-8-4-13-3-2-2 1-5 4-16-2-7-5-2-17 3-5-4-8-3-5-1-9 1-4-2-4-5-18-10-5 0-4 2-8 8 3 10-3 5-5 5-3 6 0 5-3 5-15 7-9 1-16 8-7 9-5 5 3 15 2 3 4-1 8-16 8-4 4 0 5 3 4-1 4-8 4-3 13 1 4-3 4-9 5-2 4 2 9 12 11 11 14 11 5-2 8-8 1 4 12 3 16 16 7 12 12 13 5-2 4-11 4-5 5-1 4 1 1 5-6 20 3 3 13-8 4 1zM2637 661l5-6 3 1-3 6-4 1zM2610 646l3-5 3-3 5-1 1 4-6 8-4 0zM3328 707l9-1 21-11 3 2 22-36 11-23-6 4-3-6 4-5 10-6 7-26 0-4 1-15-2-10-4-5-9-2-4-4 5-5 6-1 8 5 8 1 2-15 4-46-4-51-5-2-2 3 0 5 6 5 2 5-8 0-10-6-18 0-4-1-4-3-1-11 2-7 2-3 0-5-10-11-10-3-5-4-3-7 3-5 10 0 3-5-4-11-4-4-1-3 4 0 6 5 8-2 4-3-2-8-6-10-2-15 5-1 11 16 9 0-19-36-9-13-5-2-5-5-8-15-8-8-9-5-9-2-7 2-3 6-29-23-5-5-8-15-16-9-5-5 0-2 19 7 8 1 2-1-28-29-18-9-18-14-23-13-20-7-23-10-1-1 8 1 10-1-6-7-18-12-21-9-32-10-1 1 2 3-1 4 23 11 4 4 2 7-21-7-9 0-27-8-1 8 3 4 4 4 16 8 0 2-18-8-3 0 0 4-5-1-21-9-19-12-35-13 12 9 0 2-18-5-6 0 3 4 6 3 18 8 57 33 20 27 13 14 1 4-3 0-11-4-2 2 0 8-12 4-1 5 5 19-4 2-8-1-3 4 8 20-2 1-5-2-12-9-6-2-10 4-15 2-8 8-7 2-3 3 5 21-3 2-11-6-10-9-1-5 12-10 1-5-2-5-23-17-3 1-4 7-4 0-23-15-3 1-4 9-3 1-9-3-4 0-3 3-1 3 9 10-1 4-11 3-2 3-1 5 2 15-1 5-8 5-3 5-2 10-3 4-4-1-11-11-4 0-6 3-1 3-2 12-3 5-5 1-5-6-4-10-7-3-3 3 0 5 2 5 6 5 1 6-1 5-4 4-4 0-5-4-9-21-3-4-5-4 0 3 6 15 0 6-8 20 2 5 3 4 4 1 5-2 12 7 25 10 2 5 0 11 6 10 1 5-3 2-1 8 0 5 2 3 7-3 2-5-3-10 3-5 7-5 12-16 2-19 4-3 9 1 5 6 6 12 4 3 9-2 5 3 3 20 4 6 4 0 26-6 14 4 8-2 14-28-2-10-9-15-11-10-3-5-1-5 2-6 15 6 7-3 5 1 5 7 1 5-3 10 2 5 7 5 14 4 3-4-2-5-10-10-1-5 5-14 5-7-3-15 11-10 4-1 6 4 10 17 14 12 4 2 11-5 15 4 5 3 6 5 8 11 5-1 2-5 4 1 3 4 3 2 6-12 11-5 2-3-1-8 1-2 5 1 6 6-1 6-3 4 0 11 2 5 6 7 5 2 3-3 1-10 4-2 9 1 12 9 4 1 4-1 3-14 7-5 1-9 3-2 16 7 4 4 3 5 6 15 7 4 19 5 2 1 3 5-1 5-4 6-10 5-4 5-1 5-5 14-10-5-4 0-2 6 5 13 5 2 4-5 2-9 5 2 12 14 10 8 4 5 1 11-1 5-10 14-26-19-4-18-5-1-4 3 5 16 0 5-4 10-6 6-6-1-9-15-6-15-5-2-4 1-4 4-4 8-4 1-5-2-4-5-6-21 0-15-4-1-5-1-8 4-11 17-9 1-4 4-4-1-15-13-14-4-4 2-6 12-1 5 4 16-1 25-5 7-11 3-2 5 5 16 1 5-2 5-9 5-13-5-7 10 1 5 18 16 9-3 3 2 9 15 8 7 4 2 32-5 3-3 3-12 5-4 4 0 13 4 3 11 4 4 9 4 17 2 8 5 8 8 11 7 5 6-2 5-8 5-7 16-14 15 1 2 4 2 9-2 4 3 0 5-2 5-17 20 1 3 3 2 8 0 3 10 3 3 8 1 11-3 18-21 15-14 6-3 2 12 3 3 15-3 3 2 1 8-3 11 3 2 24 8 3 2 0 6zM3256 575l-3-2-13-1-2-2 7-5 9 1 6 4-2 5zM3336 488l-2-5 0-5 5-7 21-6 5 2 1 6-9 5-9 12-4 2-4-1zM3170 468l-4-5-2-10 3-5 4-1 5 2 2 4 0 5-1 8-5 3zM3282 341l-3-5 2-5 4-3 4 0 4 3 3 5-1 5-3 2-4 1zM3190 336l-2-5 3-14 6 3 4 11-1 5-4 2zM3301 310l-3-5 1-3 8 3 2 6-2 3zM3246 305l-11-7-6-2-9-2-2 4-3-3-2-5-15-20-2-5 2-3 3-1 5 1 4 3 11 15 10 10 14 10 3 7zM3267 260l-1-7 4 2 3 6-3 1zM3209 235l-5-5 0-3 13 6 4 2 1 3-3 1zM1867 697l10-5 2-10 2-3 4 0 23 10 14 2 17 6 4 0 2-3 3-1 31 2 6-3 6-5 4 0 10 3 3-2 0-1 8-8 7-3-6-5-25-10-6-5 4-8 8-2 3-4 0-16-3-11 3-5 10 7 15 3 7 11 1 5 0 15 7 7 5 2 11-5 16 8 9 2 4-1 3-3-4-10 5-2 6-8 0-5-7-16 1-15-1-5-3-3-12-7-2-5 1-10-1-5-5-16-14-30-2-10 1-5 12-2 4-4 2-5-1-5-5-10 0-5 11-20 1-10-4-16-6-10 0-5 15-10 4-5 0-5-5-10 2-11-4-20 1-10 5-10 17-16 1-25 9-15-2-4-6-4-11-2-1-3 5-15-1-2-15 2-10-2-20 11-20 7-4 0-1-3 1-3-3-2-10 15-19 20-6 15-11 10-13 26-5 4-8-2-6 3-3 10 3 5 4 1 14-4 3 5 1 13-3 13-4 0-7-8-4-2-10 3-11 9-4 0-4-3-7-8-4 0-10 6-4-1-4-5-12-3-8-4-25 3-5 6 0 5 4 5 1 5-2 15-4 10-10 15-10 10-13-4-4 50 2 36 4 29 9 0 4-4 7-13 4-4 5 1 10 8 4 2 5 0 12-9 19 0 7-7 10 2 4 5-3 7-9 4-3 7 0 8 2 5 12 15 3 10 9 15 0 5-5-1-10-4-4 1-3 4-1 11-4 5-2 10-9 1-10 7-5 0-17-13-12-18-19-20 8 28 11 25 22 36 4 6zM1973 529l-5-5 6-5 5-2 1 2 0 9-5 2zM1824 524l0-5 3-3 4-2 4 5-3 7-5 2zM1955 524l-2-5 1-5 2-3 8 8 1 5-3 2-5 1zM1983 514l2-5 3-2 7 2 0 5zM1948 493l-8-5-2-5 14-5 14-7 5 1 4 11-1 6-4 3-14 3-4 1zM1999 463l-19-3-4-2 1-8 9-13-2-25 8-20 5-8 12-14 5-3 5-3 5 1 5 6 4 11 12 2 2 3 1 5-4 15 0 10-8 15-5 16-24 15-5 1zM2049 453l4-4 2 4-3 2zM2038 351l5-7 6-3 0 10-5 5-4-2zM2048 325l0-5 4-5 11-6 4-1 1 2-1 5-13 13-5 1zM2014 320l-6-5 4-5 9-1 2 3-1 8-3 2zM2051 290l-3-5 5-3 6 3-4 5zM2075 290l5-5 4 0-3 5-5 2zM2482 685l1-4-2-1-2 1zM3008 684l5-4 8-12 5-2 4 1 7 9 18 5 8 0 11-6 5-4 2-5 0-5-11-20 0-9-5 0-9 3-8-4-4 0-6 5-10 10-15 19-4 11zM3040 666l2-10 5-4 3 6-3 8-5 3zM2582 680l5 1 3-5-1-5-7-4-2 4zM2953 667l12 2 5-1 2-7-2-5-5-2-8-1-12-5-14 3-4 5 6 8zM2142 651l4 1 8-5 9 2 13 0 9 2 4-1 6-13 12-3 4-3 6-11 0-5-3-30 3-6 12-6 3-3 2-5-1-7-10-4-13 7-9-1-13-6-14-1-5-2-9-8-5 0-5 1-7 10-13 9-4 0-9-3-5 0-4 3-2 7-1 5 3 5 12 5 8 10-2 15-1 5-4 2-1 3 11 21zM3181 652l3 2 6-3 3-5-4-4-4-1-6 3-1 4zM2973 635l10-8 1-8-9 7-4 5zM2302 626l5 0 6-15 8-6 1-5-4-5-11-5-5 1-3 4-6 10-1 5zM2341 626l4-2 2-4-1-5-2-7-5-2-9 2-1 2 0 5 3 5zM2372 627l9 1 1-2 0-6-3-4-4-2-9 2-1 4zM2278 610l5-5-6-2-2 2zM2862 612l5 1 1-3-1-3-6 3zM2881 597l5 1 4-3 15-16 9-2 3-2 8-31-1-10-7-14-13 3-9-13-5 0-3 4-2 15-9 3-13-1-2 3 2 6 13 14 4 7 0 29zM2336 576l4-5 3-17 2-5 7-4 5-1 5 5 5 14 5 6 5-4 7-20 4-3 17 12-1 5 3 6 4 1 9-3 7 2 1-6-14-10 2-10-15-8-13-5-12-17 1-6 6 0 9 5 13-1 5 1 18 13 9 2 2-14 14-16 2-4 1 4 8 11 13 7 5 5 3 8 0 10 5 5 6-1 4-3 4-1 23 12 14-2 8 5 5 5 4 3 5 0 13-14 14-3 13-1 18 5 18 1 4-3 6-8 7-15 10-3 18-14 4 1 9 10 14-3 4 1 11 8 7 2 14-3 9 1 13 17 4 3 5 0 13-9 23-1 10-26-1-5-5-5-8-4-5-1-9 3-4-4-2-4 0-5 2-5 0-5-14-15 0-16-5-5-9 7-5 1-4-2-7-6-11-2-9-5-5-1-9 1-4-3-5-15 2-10 15-18 8-2 4-11 8-9 8-6 0-5-9-2-8 4-22-4-22-15-8-4-5 0-4 4-8 12-9 6-4 1-4-1-9-5-5-1-4 1-8 9-26 2-9 3-7 5-6 12-9 7-9 13-5 3-4 1-9-4-13 1-13-8-13 0-13-7-9 4-14 16-5 0-17-11-4-5-6-27 1-5 4-3 4-2 13 0 10-8 4-1 9 3 4-1 9-14 2-5-1-5-8-15 0-10-7-20-6-7-8-1-2 3-7 15-2 2-8-1-5 2-7 12-4 2-12 1-4-2-10-9-5 0-8 3-7 10-9 3-4-1-7-5-14 6-4-1-15-6-16-1-14-9-4 1-11 7-4 1-4-2-4-11-9-8-5 2-4 4-4 10 0 7 4 1 8 0 4 2 5 15-2 5-8 11-4 10-14 8-21 0-5-3-4-5 9-10 2-6-3-5-8 0-9 5-2 6 1 8 3 7-7 15-16 6-14 9-4 5 1 11 3 15 2 46 12 15-6 20 1 5 6 6 4 1 9-7 6 0 2 5-1 11 3 10 4 5 10 5 4 7 18-2 6-5 2-25 5-3 9 3 9-1 18 9 20 17 2 5 1 5-9 15 0 16 2 2 4 0 18-9 4 3zM2365 534l0-6 5-2 2 3-2 5-4 1zM2279 493l-2-5 6-5 6 1 2 4-2 6-5 1zM2360 468l1-8 5-6 4 2 3 7-1 5-7 4-4-2zM2210 463l-4-5-2-5 7-16 1-10 4-6 5-3 18-3 9 4 8 2 14-5 0 11-6 15-24 21-4 0-9-3-2 3-7 3-5-1zM2365 442l0-10 5-20 3-2 4-1 5 1 1 12-3 14-9 10-5 0zM2188 412l-6-5 6-4 4-1 3 5-4 5zM2234 407l-1-5 2-5 2-2 5-1 2 3 0 5-2 5-2 3-5 0zM2351 407l-20-23-2-8 3-5 15-11 4-1 4 4 3 11 9 7 4 11-3 15-9 3-4 0zM2269 402l-2 0-2-5 1-5 3-2 3 2 1 5-1 5zM2300 387l-11-6 2-5 10 0 8 5-1 8-4 0zM2638 381l-1-5 6-4 3 4-3 6zM2437 336l-2-5 1-6 7-7 4-1 8 8 0 6-10 7-5 1zM2585 577l4-2 1-5-5-3-4 3 2 5zM3027 561l2-2 0-5-6-1-1 1 1 4zM3029 520l1-10-5 4zM3061 516l1-2 3-2 4-9-1-5-11-2-3 2-1 5 4 7 4 4zM2935 504l9 3 5-1 3-3 0-5-8-9-4-2-7 1-9 10zM3003 500l4-2-5-10-18-19-4-3-5 12 1 7 22 11zM2917 489l1-6-1-4-3 4zM2867 463l5 3 4-1 9-7 4-6 9-6 2-4-1-5-6-7-14-6-3 3-1 10-3 5-14 16zM2227 453l2-5-1-6-5 2-1 4zM3388 432l4-3-1-3-5-1-2 2zM3185 418l5 3 4-1-1-5-5-4-7 1 2 5zM3388 414l1-2-3-5-4-2-2 2zM3099 409l5 0 3-7 0-5-6-5-4 1-3 4 1 5zM2749 402l5 1 4-6-5-5-4 0zM3047 385l4 0 3-4 0-5-5-4-4 0-4 4 1 5zM1842 362l4 1 4-2 7-5 3-5 0-10 4-5 3-1 4 1 2 4-1 6 6 5 24 2 11-5 13-12 13-21 1-5-2-3-4 0-1-2 9-15-1-7-2-2-5 1-12 8-5 5-2 10-5 10-9 12-6 3-3-1-1-4 7-10 5-15-1-2-11-1-9 0-10 9-6 2-8-1-14 24-13 25 4 0zM3042 341l4-1 1-4-2-5-7-3-3 3 2 5zM2536 318l4 1 4-2 10-12 0-5-20-12-6 2-3 5 0 5 3 7zM2722 318l4 1 4-2 4-7 1-10 0-5-3-4-5 1-13 8-1 5 2 5zM2508 296l2-1-1-5-3-5-3 5 2 4zM2575 281l4 0 13-9 4-7-3-5-5 0-8 9-4 0-3-4-5-2-6 2 2 5 8 3 2 2zM2694 281l4-1 9-10-11-4-4 2-2 7zM2812 281l9-1-2-10 2-10-2-5-6-3-4 0-6 7-4 0-9-5-4 2-3 4 2 12 12-3 4 1 6 10zM2745 271l4 0 0-1-1-6-4-1-2 2zM2860 266l5 3 1-4-3-4-4 2zM1990 262l2 2 4 0 8-4 19-20 4-5-1-2-18 12-5 1-5-3-4 2-4 5-2 5zM2711 254l4-4-6-5-1 5zM2686 240l15-3 1-2-1-5-2-1-7-2-9-11-13-10 3 15-4 9 0 5 1 2 8 0zM3300 243l9 1 3-1-14-12-5-2-3 1 2 5zM2130 237l4-2 2-5-7 5zM2002 231l3 0 17-16-4 0-8 6zM2726 231l0-5-1-2-3 1zM2029 222l1 3 4 0 26-14 7-4 25-28 4-9 4-5 49-21 11-8 6-8 30-15 13-10-37 13 24-16-20 4 5-4-4-1 1-1 8-5-4 0-52 17-30 16-4 4 1 2-17 16-1 3 5 3 25-9-1 3-19 9-15 8-5 5-4 9-12 9-13 7-10 2-6 5-5 5 10-2 6 2-5 9zM2123 120l3-3 8-4 19-6-24 13zM2788 221l9-5 0-5-11-9-8-12-8-3-5 1 0 5 14 14 5 14zM2110 216l4-5-1-2-3 2zM2852 220l3-1 0-3-7-6-1 6zM2172 200l3 0 5-1 20-11 3-5 0-4-18-1-10 5-2 5zM2752 199l4-2-5-5 0 5zM2807 201l6-3 2-5-3-6-5-4-3 0-2 6 1 8zM2863 198l13 3 4-4-2-4-10-10-7-13-7-7-4 11 1 9 5 10zM2032 190l2 2 12-10-1-2-8 3zM2115 189l26-10 12-9 2-5-6-1-5 2-25 17zM2930 170l3 0 3-5 8-2 1-2-12-17 9 0-2-6-11-10-6-15-8-6-7-3-15-4-3 0 0 3-24-7-3 0 1 2 10 9-42-6-5 1-5 4 0 4 7 10-3 4 1 4 14 20 8 7 5-2 17 12 7 4 30 0 6-4 5 0zM2229 161l10-4 5-5 3-8-2-6-8 2-9 8zM2053 159l1 2 17-9 7-7-1-1-9 4zM2599 153l7-1 5-8 1-4-2-8 2-4-6-12-5 1-4 3-5 16 4 12zM2635 153l6 3 4-1 1-21 2-2 6 0 5-4-1-4-4-7-12-9-3 2 3 10 0 6-9 2-9 11-6-1-2 2 0 4 5 4zM2801 130l3 0 4-6-3-4-9-4-1 2 1 6zM2749 118l3-1-9-5zM2286 108l0 1 30-12-17 1-6 3zM2737 108l-2-4-2-1zM2769 107l3 1 1-1-17-11-6 0 0 2 4 3 9 3zM2269 104l9 0 15-3 5-3 3-4-14 3-4 0 2-3-9 2-9 4 4 0zM2977 102l5-1-17-6 3 3zM2148 100l11-2 18-6-12 1zM2713 100l4-2 0-5-4-2-5 1-1 1 1 3zM3066 99l2-1-1-2 5 1-12-4 1 2-12-2zM2256 95l6 0 12-5-8 2z"/>
<path fill="#dfcae3" d="M2426 908l15 0-2-3-3-1-21-3zM2466 908l29 0-1-3-10-6-6-9-8-6-3-8-5-23 1-9 2-3 4 0 8 5 3-1 0-5-2-4-11-8-11-2-15-13-9 3-9-4-3 1-2 5 3 19-2 2-6 1 0 4 16 19 4 0 0-9 2-2 6 5 1 12-4 2 0 5 19 20 9 7 2 2-3 3zM2463 890l-7-6 1-3 7 3 4 3 1 3-1 2zM2446 853l1-9 3-1 5 6 1 4-7 2zM2665 908l32 0 8-7-3-3-9 3-8 6-3 0 0-11 5-9-9-1-3 1 1 6-12 12zM2446 904l13-1-5-4-14-3-5-3-3-5 6-1-3-2-2 1-13-5-13-2-2 1 6 6 9 1 10 6 8 8zM2689 886l17-8 5-9 9-12-1-13 3-8 3-4 8-2 4-7 2-16-2-5-7 0-3-2-9 7-7 2-9-10-4 0-5 5-2 9-3 7-8 2-10-2-3 1-2 10 3 6 19 1 8 11-2 24-4 11zM2407 861l2-8 0-9-17-11-10-15-8 0-19 2-2 3 0 5-14 3 1 5 7 8 10 9 6 0-1-10 12 8 23 2zM2577 847l3 1 1-4-5-4-1 4zM2565 832l5-1 2-8 8-5 4-5-1-4-3-5-8-5-3 1-2 4 3 14-1 5-9 4 2 3zM2901 814l5-1 2-4 0-6-3-1-4 2-1 5zM2885 805l2 3 5-4 4-4-1-6-3-1-2 2zM2345 747l4 1 7-4 3-1 14 5 3-1 13-13 4-12 10-5 8-8 11-5 4-7 13-10 2-6 0-5-5-15-4-3-14-4-12 1-9 3-8-1-4 1-9 8-1 5 6 16-3 6-23 6-11 8-3 1-13 0-9-4-6 3-2 5-2 10 5 15 5 4 7-4 4 0zM2221 743l14 4 17-6 6-5 10 6 6-6 13 3 3-2 7-13 7-2-2-5-10-10-5-10-6-7-3 7-5 5-7 16-3 1-9-2-8 2-18-6-7 4-4 5-1 5 1 10zM2730 717l3-5 4-21 5-2 4 3 3 5 1 10 2 2 15 4 9-3 5-5 6-13 0-5-2-3-12-6-13-2-12-5-7 0-7 10-4 3-9 0-3 3-3 5-1 5 1 5 11 13zM3336 702l11-5 26-26 6-15 1-10-2-10 2-5 22-15 2-9-3-7-3-20-3-5-4-2-5 0-10 6-5 1-2-5 2-5 8-8 11-13 20-14 9-1 1-45-5-14-5-3-18-7-14 0-3 3 1 5 7 10 0 5-8 3-4 0-9-5-5 1-8 8-5 1-9-3-9-11-14-1-7-3-3-5 10-10 4-15-1-11-6-20-13 10-1 5 0 26-5 10 0 5 5 5 0 5-5 5-4 1-20-6 3-5 0-5-4-5-8-3-4 0-10 13-7 4-4 1-5-1-10-20-5-5-5-1-8 8-9 2-3 7-5 4-27-2-5-4-14-7-2-16-14-16-6 0 0 10 6 16-2 4-5 6-1 5 6 20 7 10-1 6-5 0-8-9-5-8-5-3-9 9-2 21-3 5-10 10 10 7 8 12 8 4 5 0 5-10 5-5 4-1 14 3 13-3 14 0 9-2 6 5 1 5 0 10 4 6 4 2 4 1 9-3 9 5 11 9 5 0 7-16 4-4 23 1 4 3 5 7 1 5-2 5-3 2-4 1-13-5-13 3-5 4 11 15 0 5-15 10-3 5-3 11 4 15-2 10-4 10 4 10-1 12 4 1 10-2 5-6-1-4-3-6 18-6 11-16 7-6 4-1 9 4 2 5 0 7 4 1 15-6 7-6 16-19 5-2 2 5-8 15-4 6-16 9-1 8 3 3 12-7 6 1 0 5-9 10-2 6 4 2 13-1 3 2zM3369 620l1-1 5 1-2 3zM3360 605l1-2 1 2-2 4zM2679 698l2-1 2-5-4-7-4 0-1 7zM1863 691l5-4-11-16 2-1 10 3 4-2 0-5-4-5-30-23-5-1-3 4 10 20 19 31zM1923 687l6 2 3-1 1-6 3-2 21 6 13 1 4 0 7-10 15 3 8 0 4-4-4-6-11-3-11 3-5-1-6-8-1-5 5-10-3-5-11-10-2-5 4-6 0-1 5 2 8 11 14 4 4 0 1-5-5-16 1-5 2-5 6-5 4-2 4 1 6 8 5 1 9 0 4-1 3-8 4-2 10 6 4 1 12-4 2-5-4-10 1-5 4-5-1-10-3-9-9-12-2-10-12-31 3-10 12-10 3-15-15-10-4-7-19 16-4 0-14 8-5-1-4-5-4-2-5-1-6 2-1 5 0 5 6 14 5 4 15 7 6 6 0 5-7 7-9 3-4 3-3 7-5 4-14-2-9 3-4-1-8-14-5-21-12-15-2-5 3-8 9-5 10-11 4 9 4 1 11-6 6-21 0-5-4-6-8-2-2-2 7-10 4-10 15-11 15-30 13-10 0-5-2-2-8-3 3-15-7-6-4 0-15 3-7 8-1 12 2 23-4 31-9 0-8-5-7-6-4 0-11 9-5 2-13-3-5 8-6 3-17-5-9 3-18 0-5 2-2 12 6 20-1 6-6 5-4 0-9-4-4 0-4 9 1 10-7 5-1 5 2 10-1 15 11 4 10 10 4 0 4-3 1-5-1-11 9-7 5-7 4-2 6 6 13 31 7 10 16 7 5 5 9-2 5 0 9 5 5 5-1 5-7 5-9-4-10-7-6 17 2 5 11 15-7 10 0 5 14 26 23 25 3 5 4 18-2 5-4 0-6-4-9-9-5-10-19-27-4 0-2 9-6 8 7 15-7 1-20-5-4 1-1 3 2 5 11 10 9 4 14 3zM2038 554l-3-5 4-2 4 2-1 5zM2020 519l-8-5 5-5 11-4 2 4-2 5-4 5zM1839 478l-5-5 2-5 9-1 6 1 1 5-3 6-4 1zM2692 687l8 1 5-4 3-8-2-9-17-6-9 2-8-7-8 1-4 4-3 5 0 5 2 3 8 2 13-2zM3370 684l12-21-5 3zM3058 673l8 1 6-3 4-5 0-5-3-8-7-7-4-1-5 6-2 17zM2143 641l9-1 9 3 13-2 9 4 4-3 3-7 4-4 8 0 4-3 1-2 0-31-4-25-19-11-14 1-9-8-5-1-4 2-4 6-1 6 4 10-3 5-8 5-4 5-4 15 1 26 6 8zM2182 610l-3-5 0-5 4-4 15 4 1 5-7 5-6 2zM2599 644l13-15 4-3 9 0 4-2 3-4 1-5-3-2-5-1-6 3-7 9-15 7-2 5zM2651 636l5-2 4-7 1-7-1-2-4-1-6 3-3 11zM2076 631l4 1 1-1 4-21-2-6-5-3-4 0-2 14-3 11zM2590 615l5-5 1-5-6-4-4 4zM2886 591l5-2 10-15 9-9 4-16 4-10 1-5-2-5-5-1-3 1-8 5-2 4-16 1-5 5 7 15-1 26zM2128 582l1-2-1-2-2 2zM2114 578l9-1 1-2-7-9-4 0-4 4 1 5zM3116 560l13 2 5-3 0-5-4-3-4 1-6 2-6 5zM1813 556l4 0 4-7 1-5-2-5-8-5-1-5 3-3 4-7 2-10-16-15 1 30 3 29zM2558 551l5 0 13-13 18-6 14-1 8 5 5 1 18 0 7-8 5-15 15-4 18-13 4 1 9 8 5 1 9-3 4 0 9 3 5 4 9-3 22 1 5 5 4 10 4 5 5 0 12-10 3-5 2-11-2-5-14-20 3-5 0-5-5 0-3 7-10-13-22-16-9 4-5-2 3-11-3-6-5-1-8 5-5 1-9-3-13 3-14-3-4 0-6 4-7 13-12 13-6-1-1-4 1-3 9-4 1-3 1-11 3-10 1-10 7-5 9-2 4 1 5 6 4 2 9-2 4-2 6-18 10-16 1-5-2-10 1-1 13-2 2-2 0-5-2-3-5-2-13-1-13-9-22 2-8 6-13 7-3 5 4 15-1 5-4 6-4 4-5 0-7-4-3-6 0-5 3-5 14-10-6-10-5-2-9 8-17 1-4 3-1 13-4 0-9-7-4-1-5 3-4 8-13 9-9 13-5 4-4 1-9-1-13-4-13-7-5 1-4 3-10 13-9 1-4 4-4 8-1 15-5 3-4-3 0-5 4-10-4-10-5-5-14-5-9-5-8-16-4-15-4-5-5 1-5 4-3-6-1-4 3-10 4-6 8-4 7-16 1-5-1-5-5-6-16-2-7-7-4-2-2 2-2 10-3 5-5 1-20-3-5 1-14 6-4-1-16-14-14 1-15-6-4 2-6 6-5 2-4 5 1 4 4 1 2 5-4 4-4-1-5 1-7 7-2 5-3 20-7 5-2 5 2 7 8-12 7 1 8 6 17 0 8-2 5-5 3-7 5-4 4 0 16 7 14-5 9-1 6 5-1 10 1 4 8 5 6 22 10 5 2 5 2 15-7 20-6 11 1 10-2 5-12 12-4 0-5-6-1-6 6-20-2-28-9-4-12-14-4-1-13 6-10 1-9 4-5 0-4-5 2-10-1-2-4-2-4 2-6 12-3 15-9 20-5 8-12 13-3 5 1 10 8 14 5 3 1-2 8-13 9-4 9 1 9 6 13 0-2 5-11 10-1 5 4 6 6 2 19 3 3 6 2 9-1 5-5-1-4 6 1 5 4 5 4-1 4-6 14-2 6-6 3-15-2-16 6-12 4-1 9 5 9 1 13 6 9 0 23 7 18-17 1-9-3-15 2-8 5-1 9 4 4 9 4 4 8 2 2 5-1 2-4 0-5-2-4 2-1 8 1 3 4 6 14 4 13 23 14 2 13 9 14-3 8 2 5 3zM2613 524l-1-10 4-3 15-2 3 5-4 9-5 4-4 0zM2583 514l2-6 2 1-1 5-1 1zM2329 463l5-7 3 7-3 2-4-1zM2426 402l1-6 3 6zM2373 356l5 0-1 2-4 0zM1847 544l5 3 4 0 4-3 5-10-2-5-4-3-5-1-9 2-4 7zM2235 525l5-1 0-5 1-36-2-5-8-6-18 1-6 5 2 10 4 5 8 6 3 4 3 16 4 4zM2810 506l4 0 1-3-5-4-2 4zM2181 490l4 0 16-12 2-5-3-7-5 1-11 11-4 5zM3338 459l4 2 13-5 9 0 4-7-2-12-26-35 0-5 9-10 1-4-2-12-6-12-4-3-2-1-3 3-6 6-5 0-14-15-5-2-7 4-5 11-1 14-11 16-1 5 5 2 13 0 6 4 7 14 2 0 3 0 4-3 6-9 4-2 4 4-2 15 2 26 1 5zM2178 454l4 0 5-4 9-2 6-6 5-10-1-10 15-10 5-5 2-10-4-4-9 2-5-3-2-5 1-6 14-11 13-4 2-5-8-5-9 1-12-4-12 16-13 1-14 11-3 8 4 8 4 2 23-5 4 3-2 20-1 1-5 3-13-2-5 0-2 3 0 26zM2066 448l1-7-3-9-8-9-4-2-9 11-2 5-1 8 4 0 10-6 4 0zM3166 439l4 0 4-3-1-11-5-5-5 1-3 6 1 5zM2052 417l5-1 12-9 4-5 0-5-3-5-8-2-5 2-4 5-4 10zM2248 412l5 3 4-1 3-2 0-5-6-9-5 6zM2475 403l4-1 3-10-2-3-5 2-2 6 0 5zM2939 397l8-2 9 0 18 4 4-1 5-11 8-11 1-5-7-15-14-15-7-16-9-10-2-5 2-3 9 0 5 3 7 10 10 5 10-8 12-3 3-2 0-12 2-5 9 0 13-7 5 0 9 4 4-2 14 4 8 6 10 15 4 2 8-2 15 6 16 10 9 0 9-6-5-14 4-1 9 2 25 18 5-9 1-15 4-1 5 3 4 0 0-18-14-15-3-5-1-5 7-10 12-2 5-3 15 5 8 5 2 5-7 5 1 5 4 5 15 10 10 10 3 5 5 15-2 6-22-19-4 1-1 2-1 5 3 5 15 11 4 5 6 15 6 5 13 3 7-3 1-5-21-21 9-1 3-1 5-8-1-5-9-10-6-11 3-3 5 4 12 18 7 4 3-1-5-16 1-5 8-1 10 4 2-3-29-22-3 0-6 8-11-4-17-12-3-9 2-2 10 3 3-1 1-4-2-7-4-5-17-4-2 2 3 7 0 5-21-7-14-8-5-5-12-19-1-4 3-1 9 3-6-13 9 3 14 8 4 7-17-5 5 7 12 8 4 1 1-4-2-4 4 0 19 7-7-13 0-3 21 9 1-3-10-12-7-2-10 1-13-8-17-15-2-4 4-2-6-4-63-27 11 11-5-1-31-16-35-9-3 0 0 1 3 5 34 16 5 5-1 1-4 0-13-3-5 4-3 0-13-5-3 3-3 0-17-11-3 0 0 2-9-4-21-16-16-6 12 13-12-4 5 5 18 12 10 3 10 5 23 18 5 7-1 2 2 4 18 19 5 9 1 3-2 2-14-4-4 0-3 5-10 6 0 3 8 14 0 5-3 2-13 3 3 6 13 9 3 5-4 7-3 2-10-3-20-15-5-2-7 3-15 1-13 12-2 5 7 15-1 13-4 2-18-5-6-5-5-10-4-4-11-6 8-10 9-7 1-3-1-5-11-7-9 5-4 0-18-14-4-1-10 23-5 4-13 3-3 3 1 14-3 15 4 5 11 5 1 8-4 3-14-8-5-1-10 10-4 0-5-4-6-8-5-1-3 4-4 23-4 1-10-4-7 10-9 8 2 5 5 5 14 4 8 1 8 5 2 5 5 4 8-4 4-5-1-12-8-8 2-3 4-1 13 2 4-2 3-6 4-1 6 16 8 10 4 1 8-2 5 2 5 4 3 22zM3163 174l-1-2 5 2 0 2zM2060 359l4 1 7-9 6-15 18-16 2-14-1-5-6-5-4 0-5 4-7 20-9 5-5 6-3 15 0 8zM1840 346l23-19 12 1 7-3 6-10 2-5-1-5-4 0-6 3-16 11-9-6-19 35zM3355 348l5 1 3-3-8-21-3-5-7-6-24-9-5-3 0 3-1 1 2 14 21 19zM3384 346l6 3-21-36-3 0-2 2-1 5 3 5 10 11zM1901 345l4 0 7-4 10-10 2-7-9 0-6 4-10 13zM3307 339l4-2-2-6-4-6-4 1 1 5zM2471 331l4 0 5-3 3-8 0-5-10-10 2-15-8-17-4-4-5 6-6 13-12 2 0 5 5 7 8 3 7 9 4 1 3 10zM2034 325l5-2 10-12 14-11-3-1-11 3-12-2-4 5-1 5zM3069 321l2-6-4-10-6-5-5-3-4 0 3 13 4 5 6 4zM2536 310l5 2 5-7-1-5-4-3-3-3-5 0-2 6 1 5zM2726 312l2-2 2-5-1-4-5-1-5 5 3 5zM1996 307l4 2 25-14 9-10 3-11-2-2-9 3-22 15-5 5-2 5zM1925 301l8-6 2-5-2-1-4 1-5 5zM3342 297l4 0 0-5-3-7-7-6-6-3-5 0-2 1 0 3 4 5zM2094 289l5-4-1-4-4 4zM2065 275l11 0 8-10 2-5-1-2-16-1-7 3-6 5 1 4 5 5zM2042 213l8 0 10-6 17-24 10-9 17-19-11 4-12 6-15 18-20 14-1 10zM2180 191l3 1 5-4 0-2-2-1-5 3zM2874 162l11 2 17 1 10-4 14 1 8-7-4-7-10-8 0-3 8-1-2-4-19-12-18-13-13-6-4 0 11 9 3 4-2 0-16-5-18-4-17-1-5 8 9 12-4 5 1 3 11 12 10 5zM2111 153l1 1 8-1 22-9 6-4 12-12 25-11 9-7-36 12 11-9 18-9-17 3-5-1-16 7-7 6 15-3-26 12-13 8 0 2 3 2-1 4zM2634 146l3 0 2-2 0-4-3-5-3 0-2 5 1 4zM3141 137l3 0 1-3 3 0-1-2-40-16-9-2 31 18zM2600 134l3 0 1-6-1-5-3 1zM2650 125l3-1 0-4-3-3-4-2 0 5z"/>
<path fill="#ceb4d7" d="M2670 907l5 0 2-2 0-2-2-2-5 2-2 2zM2475 906l14 0-15-13-3 3-13-5-2 0 11 10zM2698 877l3-1 2-4-2-1-4 2zM2454 873l4 2 2-2-3-4-3-1-2 1zM2703 854l5-1 4-4 5-18 9-13-6-3-4-1-3 1-13 21zM2377 845l7 2 3-1 1-3-2-12-4-5-4-1-10 7 0 4 2 4zM2433 840l4 4 4 0 3-7 3-1 9 6 3-1 2-5-3-5-14-9-9 1-9-6-4 1-1 4 1 5 5 8zM2728 821l4-1 2-7-3 0-5 5zM2347 742l6-8 4 0 14 8 13-9 5-11 11-10 15-22 16-3 4-4 1-7-4-10-6-5-7-2-9 1-12 4-8 0-3 2-3 5 0 5 3 16-3 7-12 5-15 2-7 8-3 2-9 1-2 3-1 2 4 15 4 4zM2228 740l4 1 14-4 4-5-2-5-6-5-8-4-5 0-3 2-5 7 0 5 2 5zM2284 732l3-2 2-3 0-10-6-8-5-2-3 2-2 13 3 5zM2769 702l4 2 4-2 3-5 0-5-4-5-8-6-16-3-5 3 11 15zM3345 689l10-8 15-20 5-10 0-8-4-3-8-1-3-15-4-3-4 0-14 16-8 14-1 5 4 2 17-2-1 5-15 15 1 3zM3065 663l3-2 0-5-4 5zM3228 662l4 2 14-4 7-4 12-15 8-6 5 0 7 4 10 9 4 0 5-2 8-5 9-15 5-6 19-5 14-30 1-15 15-12 11-13 15-13 7-8 0-5-5-10-5-4-14 3-4-5-18-8-13 6-5 0-9-4-9-6-9-1-18 3-10 5-1 5 3 6 0 10-2 6-4 2-3-3-2-5 1-16-2-5-7-4-9-1-13-9-18 5-9-2-10-7-8 4-9-2-14 1-13-1-6 1-8 6-4 0-3-1-2-5-4-3-5 2-4-1-5-4-4 1 0 5 9 15-2 11-3 5-4 3-5 1-18-9-4 5-6 20 3 10 6 4 4-2 10-13 4-1 18 3 23-2 5-4 1-10 4-4 4 1 2 3 1 10 8 15 1 10 3 7 4-1 5-4 5-2 16 10 5-2 5-8 5-2 15 2 9-5 5-5 3 10 7 11 2 5 0 10-2 5-9 6-5-1-7-5-6 0-2 5 13 15-7 5-19 8-5 8-1 5 3 15-1 11zM1843 656l6 0-4-5-5-1zM1925 658l3-2-6-6-2 1 3 5zM2177 636l5 0 5-10-12-16-2-5-1-20-4-4-4 1-8 8-9 1-3 4-8 11 1 14 4 11 5 2 14 3zM1950 616l4-1 3-6 3-3 10 4 6 6 5 3 8-19 8-8 8-5 5 1 5 7 5 2 4-4 3-8 3-5 5-1 7 6 6 10 3 2 5 0 2-2 0-5-6-10 3-5 6-5-2-11-5-5-8 9-9 1-5-4-5-7-5-3-9-2-9 0-14-6-9 2-13-1-5 3-4 8-20 12-4 0-10-4-4 2 0 6 7 7 5 3 14 4 6 6 2 5 0 6-10 9 2 5zM2186 585l5 1 4-1-5-7-5 2zM2897 565l1-6-3 0-1 6zM2017 541l8-2 9-6 4 1 5-1-1-9-4-5-5 4-4 9-13-5-5 1-1 6 2 4zM2558 543l5 1 8-10 2-5 2-26-7-10-2-10 1-5 5-1 9 2 2 4 3 10 13 10 4-1 5-4 4-1 9 4 18-1 9-7 5 10 8 4 9-4 9-13 5-1 13 6 18 2 14-3 18 7 18 0 9 11 4 3 5-1 4-3 2-8-2-4-4-4-14 2-7-19-6-5-11 0-12-5-9-6-4-1-9 3-23-6-1 0 2-10-6-5-4-1-9 0-4 5-5 14-4 4-14 5-4 1-5-2-8-11 2-16-3-7-9-6-8 2-5-1-2-3 2-7 5-1 8 7 9 1 3-5 0-20-1-5-11-8-17-3-4 1-2 5 0 5-3 4-9 2-4-6-1-5-4-4-4 0-14 18-4 3-13 4-9-3-10-8-8-3-4 2-14 19-5 2-3 5-2 10-3 5-12 11 0 5 5 10 11 10 5 31 7 13 23 9 4 1 9-3 5 2 18 7zM2562 432l-1-5 2-3 5-1 5 4-2 5-4 3zM1922 530l9 1 4-2 1-5-14-36 1-10 3-7 10-8 14-21-3-15 13-15-2-5-13-8-5 3-7 13-3 2-4 0-6-5-4-1-14 4-17-4-18 3-5 3-3 5 0 10 5 10-1 16 2 10 12 10 12 15 6 5 1 5-2 6 0 5 5 8 4 4 5-1 4-13 4-2 3 4 0 10zM2343 532l5-2 0-6-1-6-6-9 7-16-4-10 1-10-2-2-19 7-4 9-3 11 3 3 5-1 9-3 3 6 1 19zM2639 527l2-3-2-3-1 3zM1809 518l2-4-1-5-6-7 0 16zM2006 499l9 3 4 0 5-4 3-5 1-5-4-4-9-5-4 0-15 4-4 5 3 5zM2396 494l9 1 9 3 5 0 8-15 10 0 2-5 0-25 3-3 13 3 6 0 1-5-4-11 0-5 3-10-1-5-5-5-7-3-4 0-6 3-4 8-4 5-14 7-13-2-6 2-3 5-1 16-6 5-8 15-7 10 2 5 13 2zM2221 489l9 3 2-4-1-5-5-3-4 0-5 3zM1984 480l4 2 1-4-1-3-4-3-1 6zM2042 479l5-1 3-5-3-5-9-4-4 4 1 5 3 4zM2293 474l9 2 18-4 11-24 2-11 8-10 0-5-4-5-5-2-17-1-5 0-14 6-8-4-5 3-12 29-10 15-1 5 2 3 5-1 16-17 7-6 4 1 1 5-6 15zM2348 467l4-7 3-7 1-5-3-8-4-1-7 9 1 9zM3306 458l3-5 0-11 0-2-5-3-3 10 0 6 0 2zM2197 438l3-6-2-3-5 1-3 2 3 5zM3342 428l3-6-5-6-3 6 1 4zM2407 423l10-5 2-6-2-20-3-6-10-5-2-6-4-4-9-2-4 2-3 5 0 11 2 5 8 5 3 15 4 7zM2059 407l5-5-4-3-4 3 1 5zM2209 410l6-3-1-3-4-1-3 4zM2652 403l13-5 13 2 9 4 3-2-3-5-4-2-10-8-2-6 7-3 4 0 9 11 5 2 4-4 3-6 0-5-6-20-7-2-13 0-13 2-7 5-1 5 2 10-3 11-6 10 1 5zM3311 405l4-1 2-2 8-15 0-6-10-15-7-4-7 4-3 4-4 17 2 5zM1983 388l14-32-2-19-4-1-4 5-4 10-1 9 0 11-2 11 1 5zM2176 390l9 0 8-3 2-6-3-5-5-2-6 2-5 5-3 6zM2959 388l10 2 4-3-5-11 3-4 9 2 4-1 1-7-4-10-11-12-8-13-19-16-3-15 3-40-4-7-6-6-4 2 0 1 2 12-6 5 1 14-4 1-4-1-11-7-4 0-2 4-2 17 3 5 8 5 3 5 2 10-1 5-3 6-7 5 0 10 3 8 5 4 12-3 10 7 4 4 1 15 2 3 9 0zM2616 374l5-3 0-5-5-1-3 1zM2290 361l5-1 3-4 15-23 5-4 3 3 4 9 3 2 34 3 13-5 9 2 4-1 4-6-1-14-3-3-24-6-24 10-7-4-9-14-13 2-12-4-4 2-3 5-1 15-10 15-3-4-4-3-4 3 0 5 2 3 9-2-2 14 3 3zM2838 356l7 0 2-5-5-5-6-2-3 2-2 5zM3270 352l4-1-2-5-6-3-3 2 3 6zM2064 346l3-5 1-4-4 4zM1845 331l5-6-1-3-6 9zM3343 332l5 2 0-3 0-6-4-5-8-5-12-1-2 1 2 6 7 6zM2408 328l4 1 4-1 5-5 2-8-4-6-8 1-6 5-2 5zM3380 330l-6-10 0 5zM2086 323l3-3 3-5 0-6-6 1-3 9zM3125 321l5-1-10-10 10-13 11 3 8 1 8-2 2-4 7-8 4-1 9 2 1-3-1-5-9-10-1-5 5-4 6-12 13-4-1-5-7-14-8-10-2-9-1-5 5-2 1-3-8-9-15-14-4-4-1-9-43-23-29-7 5 5 28 12 10 7 5 6-1 3-3 0-20-7-6-1 0 5 7 12-2 1-4 0-17-9-16-3 1 3 18 21 32 44-1 1-15-8-10-4-9-1-4 3-2 5 7 14-1 10 2 5 13 12 8 0 6 2 4 6-3 3-5-1-7-6-5-1-3 8-12 1-5 6-1 5 7 8 6 4 20 6zM3110 305l-4-5 0-3 4 1 7 7zM3269 322l4 0 1-2-1-5-9-11-2 4 2 7zM3169 316l6 3 4 0 1-6-2-8-3-3-6-3-11 2 0 4zM3022 287l4-1 3-4 0-7-2-5-10-3-4 3 0 10 5 5zM3228 212l-6-10-38-37-14-6-8-1 8 10 11 20 22 9 19 13zM2874 157l8 3 17 1 19-5 2-4 1-4-16-19 5-1-8-4-15-4-15-7-19-6-13-1-4 1-2 8 7 9 1 4-2 4 1 4 10 8zM2125 145l0 3 4-1 14-7 5-6 0-3-6 0 2-4-3 0-12 5 0 3 3 2z"/>
<path fill="#bc9dca" d="M2432 832l3-1-6-5-1 1zM2236 733l7-1-1-5-6-4-4 1-1 3 3 5zM2368 734l8-2 7-5 5-15-2-2-7 3-14 10-2 4 2 5zM2396 698l4 0 4-2 10-13 12-2 4-3 0-7-4-5-6-2-5 0-12 5-12 2-2 5 1 5zM3235 657l8-1 7-4 11-16-1-5-6-3-11-8-9 2-4 4-1 5 3 23zM3294 637l4 1 6-2 1-16 6-11 5-1 8 5 15-3 5-5 5-15 0-8-7-10-18-1-2-6 1-11 3-10 3-5 9-10 6-20-4-6-14-5-4-1-6 1-15 16-2 5-1 10 5 5 0 5-1 1-5-3-4 1-8 6-2 5 1 21 10-7 6 2-1 5-5 10 3 5 7 0 10-6 5 1-1 5-7 7-20 11-5 1-12-5-1 1-5 26 3 2 9-1zM2149 626l13-1 9 3 4-1 2-1-1-6-10-20-4-2-9 0-4 2-6 10 0 5 1 5zM1973 602l4 0 1-2 0-5-3-5 1-15-3-5-10-5-11 0-5 5 1 5 7 7 14 8 0 5zM2017 580l4-2 6-8-1-5-3-6-23-3-9-6-5-1-12 5 12 11 8 12 9 0zM3347 567l16-8 5-5 2-5-2-5 1-10-5-10 2-13-1-2-3-3-5 3-2 15-4 5-10 5-3 5-1 5 2 10 4 10zM3211 551l9 2 14-8 9 3 4 0 5-5 3-14 14-10 4-10-1-6-4-3-18-7-32 1-9 2-13-7-28-1-2 5 3 5 13 6 2 5-1 20 1 5 5 10 5 3 8 0zM3373 541l5 0 5-5 0-5-4-1-7 4-3 5zM2545 530l18-3 4-5 3-8 1-5-1-6-8-10-4-11-4-6-5-3 3-5 8-5 6-15-12-16-4-3-9 6-5 0-4-4-4-9-9-5-9-8-4 3-9 20-5 4-14 18-3 4 1 5 13 15 3 15 0 16 2 5 4 5 6 2 14 1 6-3 4-5 1-5 2-3 5 2 4 6-1 10zM3137 519l5-3 13-2 2-5-2-3-4-3-9 1-4 5-4 10zM2661 501l5-1 4-7 0-5-4-5-9-3-5-3-13 1-5-1-14-14-3-5 1-10-2-6-4-2-18-1-3 3-1 7-9 19 9 5 2 5 0 10 2 3 5 3 2-1 11-6 4-1 9 5 5 1 4-1 9-10 5 0 4 2 4 5 2 10zM2010 495l5 1 4-1 1-2-1-5-9-2-6 2 3 5zM2715 489l5-1 9-4 9 6 4 0 2-2-2-5-4-2-9 1-2-4-7-7-9-1-14-5-4 0-5 3-2 5 0 5 2 3 5 2 9 0zM1894 485l4 1 2-3 0-5 3-5 5-2 4 4 5-1 0-6-1-5 11-7 9-14 1-10-2-5-4-2-17-5-17 0-9-4-4-1-14 4-4 3-2 6 7 14 3 21 2 5 13 10zM1896 448l1-6 5-2 2 2-1 6-2 1zM2388 479l9 2 9-3 9 1 6-6 3-5-1-20-3-5-13-3-5 2-2 11-3 5-7 5-3 5-1 5zM2298 468l5 2 10-2 3-2 6-8 4-10 1-21-8-7-5-1-4 0-14 13 0 5 3 5 2 6-4 15zM2451 443l3-21-2-4-4-2-5 3-1 13 5 9zM2572 444l4 3 5 0 4-5-1-5-3-2-5 2-5 5zM2281 442l13-5 1-5-8-5-5 5zM2581 419l9 2 4-2 2-7-6-3-11 3 0 5zM2404 413l4 1 2-2 2-5 0-10-3-4-4 0-4 4-1 10zM2559 413l4 2 11-3-2-2-4-11-5 4-5 9zM2612 412l4 3 5-1 1-2-1-8-5-4-6 2-1 5zM3308 392l4-3 2-8-2-6-4-1-3 7 0 6zM2949 374l5 2 4-1 11-11 9-3-3-5-18-20-7-4-9-1-6 5-3 5 0 5zM2669 368l4 3 5-1 3-4-4-4-4 0-6 4zM2292 348l6-4 5-8 1-5-2-5-5 2-4 8-2 5zM2350 341l8 1 9-2 8-9-1-6-6-5-5-1-10 2-9 10 0 5zM2299 319l3-4-2-2-1 2zM2924 317l4-1 4-6 1-5-4-10-5-5-8-3-5-2-4 1-1 4 2 5 8 10 6 10zM3089 296l5-1-1-5-5-4-4 0-2 4zM3146 287l4 0 3-1 2-6-5-15-6-10-5-5-5-5-5-2-9-2-21-15-9-3-6 1-1 6 8 14-1 6 3 5 8 5 13 5zM3165 255l4-1 1-3 1-6-2-5-8-10-3-7 9 3 13 9 2-3-5-6-35-19-8-14-6-5-9-5-18-5-17-8-6 0 1 4 8 9 21 14 8 13 1 6 4 5 6 5 12 6 10 8 6 10zM3158 205l6 1 2-1-1-3-3-5-15-9-7-3-3 1-1 2 2 5zM3165 195l4 0 1-2-26-19 2 5 8 9zM3193 188l6 2-1-2-8-5zM3121 175l-3-5-5-5-7-2 1 2 4 5zM3190 178l-6-8-9-5 0 2 8 7zM3146 170l0-9-4-4-20-11-8-3-2 1zM2890 157l6 0 16-5 1-4-2-4-6-8-11-8-28-15-13-4-12-1-2 1 0 8 7 11-1 8 4 4 29 15z"/>
<path fill="#a782b7" d="M2397 684l5 1 3-4-5-4-4 2zM3239 646l4 1 2-1 3-5-9-7-2 2zM3294 626l5-6 2-5 1-5-4-2-11 7zM3326 605l4 2 4 0 6-5 1-7-2-7-5 0-8 7-2 5zM3349 555l3-1 2-5-1-10-3 0-6 5 1 8zM3216 546l4 0 5-2 12-10 1-5-2-5-9-9-4-2-10 6-4-2-9-13-4 0-7 15 0 10 1 5 4 3 9 1zM2558 519l5 0 3-5 1-5-3-6-7-5-3-10-4-5-10-4-6-6 0-5 6-8 12-2 3-5-1-7-5-6-13 4-4-3-9-10-5-3-4-1-2 5 4 16-2 5-5 0-13-7-5 3-5 9 1 5 8 10 5 18 4 0 2-8 3-3 9-3 4-4 0 5-2 5 0 5 2 3 5 3 21 9 4 11 2 3zM3325 520l5 2 4-3 3-5-2-6-9-2-5 3 0 5zM2500 514l4 1 8-1 1-5-9-11-4 1-2 4-1 6zM3249 516l5 1 4 0 4-3 2-5-10-5-9-1-1 6zM2401 468l9-1 3-4 2-10-4-5-11 20zM1886 464l4 3 5-1 3-3-2-5-5-1-5 4zM2307 463l5 0 4-3 4-7 1-21-3-5-4-2-5 1-4 6-1 5 3 11-2 10zM1914 452l4-1 5-3 5-6 3-5-1-5-4-3-9-1-6 4-1 16zM1879 442l5 3 17-18-6 0-8-6-4-1-7 2-4 5zM2953 369l4 0 4-4 3-4 1-5-2-5-6-5-14-4-2 4 1 5 5 12zM2355 337l4 1 6-2 2-5-3-6-7 0-5 4-1 3zM3139 277l6 1 2-3-3-5-9-6-4-1-3 2 3 5zM3107 256l4 1 1-2-3-15-7-7-10-4-2 1 2 5 8 15zM3156 238l-1-6-27-30-5-9-6-3-1 2 2 5 0 3 3 7 11 9 9 4 3 1-2 1zM3093 183l5 0-3-4-7-3-1 2zM2883 153l10 0 6-4 7 0 1-2-4-7-4-4-29-19-11-5-15-1-1 9 6 8 1 8 3 4z"/>
<path fill="#9467a6" d="M3217 536l4 2 6-4 2-5-2-4-5-2-7 6 0 5zM1919 444l6-7-4-3-5 3-1 5zM2956 363l3-7-5-5-4 2-1 3 3 5zM2880 148l7 1 1-5-7-15-3-5-10-7-6-3-15 0-1 6 13 16z"/>
<path fill="#844693" d="M2875 142l3 0 0-2-4-9 0-7-4-4-7-3-13 0 0 3 5 8z"/>
<path fill="#72277f" d="M2868 134l2-1-4-9-8-4-4 0 1 4 4 4z"/></g>
<path d="M1232.1 435.4L1234.9 435.4L1237.6 435.4L1240.4 435.4L1243.1 435.4L1245.9 435.4L1248.6 435.4L1251.4 435.4L1254.1 435.4L1256.9 435.4L1259.6 435.4L1262.4 435.4L1265.1 435.4L1267.9 435.4L1270.6 435.4L1273.4 435.4L1276.1 435.4L1278.9 435.4L1281.6 435.4L1284.4 435.4L1287.1 435.4L1289.9 435.4L1292.6 435.4L1295.4 435.4L1298.2 435.4L1300.9 435.4L1303.7 435.4L1306.4 435.4L1309.2 435.4L1311.9 435.4L1311.0 451.7L1308.7 451.7L1306.3 451.7L1304.0 451.7L1301.7 451.7L1299.4 451.7L1297.1 451.7L1294.7 451.7L1292.4 451.7L1290.1 451.7L1287.8 451.7L1285.5 451.7L1283.1 451.7L1280.8 451.7L1278.5 451.7L1276.2 451.7L1273.9 451.7L1271.5 451.7L1269.2 451.7L1266.9 451.7L1264.6 451.7L1262.3 451.7L1259.9 451.7L1257.6 451.7L1255.3 451.7L1253.0 451.7L1250.7 451.7L1248.3 451.7L1246.0 451.7L1243.7 451.7Z" fill="#fff"/>
<path transform="scale(0.5)" d="M2018 842l39-2 21-9 33 0 39 5 24 6 6-8 29-5 32-2 33 0 36 2 32-2 35 2 52 10 22 5 18 7 18 4-3 14-8 7 2 8 14 8 29 5 14 2 26 0 25-3 13-6 13-17 15-6 31-4 31-3 59 4 18-5 33-2 31 0 17-2 22-9 35-21 31-10-14 5-12 7-10 9 0 8-7 13-9 6-22 10 11 3 57 0 18-1 20-4 23-6 30-6 29-8 47-7 65 0 45-2-36 20-32 16-49 18-40 12-874 0zM3234 319l8 0 13-8 21 0 6-2 4 2 6 7 0 5 7 7 9 1 14 7 18 6 0-9 11-2 11 4 29 2 8 15 6 15 6 21 8 30 4 20 3 26 1 40-1 26-4 25-5 26-8 30-7 20-6 16-16 12-11 6-10 4-14 0-13 4-5-3 7-13-1-15-2-8 3-21-1-12-4-17 4-14 10-15-1-13-1-15-3-8-12-18 3-10-1-10-5-7-11 1-7-11-14 1-13 6-11-1-16 4-18-13-10-13-16-15-6-11 4-10-3-15-5-7 2-14 7-20 12-12-4-8 6-22zM1840 338l9 1-2 7-1 15 7 46 7 15 8 12-1 5 5 7 12-4 19-4-9 22-9 16-9 11-12 9-15 19-3 16 2 8 7 15 2 23-12 12-7 10 6 11 4 10-9 11 4 12-4 15-3 5-10-20-6-15-7-20-7-30-4-20-3-20-2-40 1-30 3-25 4-20 6-25 7-25 10-25 5-10zM3204 310l-4-8-5-4-4-13-6-5 4-4 25 2-7-13-10-7-12-5 11-1-3-5 8-1-2-5 4-2 1-6-2-4 10-2-7-9-9-6 4-4 19 16 15 2 12-4 6 1-1-5-8-6 9-2-9-6 0-4 11-1 4-1-9-3-17 2-10-4-13-10 1-9-15-3 4 5-1 5 2 6 8 7 8 2 5 3 5 12 3 5-3 3-6-1-25-16-5 4-8 0-11-7-11-9-2-4 4-4 1-5-8-19 5-5 6-4 13-1 19 4 39 26 38 28 28 24 26 24 30 35 18 25-21-4-9-7-2-5-7-7-9 3-4-1 7 7 7 4-5 7-27-25-7-4-14-5-13-9-5-2-3 3 4 5 7 3 6 5 27 13-2 5 0 3-2 2-7-10-32-15-5-5-7-2-7 6-10-2 3 8 2 4-8 3 2 12-2 8-10 0-3 3zM1966 198l-2-3 6-5 31-21 32-21 3 3 0 4 8 2 7 6-20 13 20-6 15-10 8 3 22-4 14-1 17-5 13 2 7 4 3-7 16-8 18-3-20 18 34-17 15-4 22-2 34-8 36-7 17 5-8 12 15 2 24-2 2 10 10-2 28-4 18 1 16 6 23 5 23-1 12-1 17 2 37 11 7 4-9 8-14-3-13 0-6 3-6 9-15 3-14 8-14-1-10 2-9 9 2 8-17 15-15 10 0-10 2-12 24-28-22 9-40 1-31 23 11 5-15 27-28 22-13 3-7 2-7 8-8 8 2 12-3 9-13 4 2-12 3-4-5-10-14 3 2-9-18 9 2 8 8-2 7 4-11 5-7 6 6 20-2 10-11 14-12 10-13 8-21 8-3 4 0-6-8 0-6 5-6 10 3 8 8 9 1 15-16 16-6 3 2-7-7-4-4-8-7-2-3-4-5 15 4 15 6 4 7 12 0 12 3 3-3 1-10-8-4-14-8-13 2-12-1-31-11 4-4-1 3-11-5-9-3-13-15 5-8 4-11 7-14 14-9 4-6 28-11 11-4-7-9-36 0-12 2-16-11 7-5-8 7-3-7-4-5-6-1-3-23 1-11-1-6-2-2-6-8 3-8-6-4-8-1-5-10 1-1 7 4 20 3 2 12 0 8-3 4-7-1 12 7 2 3 6-13 17-28 17-16 8-19 6-7 1 0-20-3-13-6-13 0-12-4-11-3-9 3-8 1-9 18-19 6-9-17 4-8-1-7-3 23-30 21-25 15-14 21-19 29-24zM2558 169l9-4-8-6 21-9 11-3 50 7 13 3 27-5 36 5 14 5 53 0 13-1 11-4 8 2 8-2 1 20-6 2-10 14 5 6 9 11 17 4 15 6 17 11 12 7-6-15 7-5-6-11-15-21 22 2 10 5 22 3 27 20 17 7 10 10-1 5-13 6-23 5-6 8 19-7 2 7 20 8-15 12 1-9-5 3-8 2-7 7 4 7-14 5-3 18 4 8-3 4-10 6-6 8-1 7 9 19 0 8-6-3-6-11-7-10-6 1-10-3-7 0-3 6-13-3-7 2-11 8 2 9-1 10 3 16 7 8 7 6 11-2 5-5 1-7 12-3-2 15 1 15 10-1 11 4 2 21 10 10 8-3 10 5-2 2-5-3-4 7-12-4-7-5-7-4-2-8-7-8-23-7-12-8-13-1-30-14-4-8-4-13-14-14-20-28-8-2 14 22 8 15 3 7-12-15-12-13-5-7-6-13-7-8-9-3-10-16-6-6-3-7-2-30-4-10 4 0-7-8-12-7-10-15-3 3-12-10-11-10-17-9-18-4-7 2-12 6-2-6-8 9-7 6-19 8-14 5 10-5 19-11-3-4-25-8-3-5 6-7 13-2 0-4-17 0-6-5zM2943 450l2-5 15-9 2 6 8-2 8 4 14 3 11-3 7 6 17 18 15 1 10 7 4 5 5 8 0 9 7 5 16 2 13 8 13 3 8 7 9 3 1 11-3 10-8 7-8 11-7 25-11 20-5 5-11 2-12 6-9 10-4 10-19 21-9 7-8 5-13-3 2 8 0 6-6 6-19 4-4 8-12 2 1 7-8 12-13 7 3 9-14 11-7 7 1 3-8 2 1 10 7 1-14 2-9-12 0-14 10-15 11-21 2-4 5-15 4-10 10-16 16-49 4-22 1-9-7-6-13-8-18-43-6-8 5-16-4-7 4-9 6-3 6-13-1-13-2-5 2-5zM2190 610l11-7 18-5 4-11 5-5 6-10 8-3 10 5 3-9 4-5 7-3 19 3-3 7-1 8 17 12 7 0 3-12-2-13 4-9 6 14 8 8 5 17 12 8 7 12 15 14 5 17-1 13-8 23 1 10-9 3-4 5-9-4-12 1-7-5-5-9-6-1-4-10-2 5-4 1-6-9-10-5-9-2-12 3-15 9-13 0-11 5-11-3-4-4 0-10-16-31-1-10-2-8zM2844 111l11-4 73-5 60 6-4 7 30 23 9 12-4 9-17 2-3 11-10 5 5 20-27-9-29-20-11-11 3-7-17-4-18-12-21-6-20-2-15-4-7-4zM2358 706l1 11-4 3-8-7-5-8zM2462 680l7 9 11 1-1 8-5 3-4 9-4-2 0-7-4-3 2-6-3-8-7-11zM2466 710l-4 11-7 3-1 7-5 4-11-3 1-5 5-5 7-5 7-13zM1903 577l-2 10-1 16 1 20-8 5-7-5-7-13 1-12-4-13 9-7 10-19zM2038 460l-4 8-5 0 0-10 1-9zM2107 472l12 14 12 10 7 12 7 7 0 13-6 0-10-9-6-8-8-13-4-9-13-19zM2148 529l18 4 10 0 8 5 0 5-29-5-7-2-6-3zM2205 540l17 1-4 2-31 0-2-3zM2241 541l-16 10 2-6zM2161 488l6 0 10-6 11-11 7-8 7 7 3 2-6 5-1 11 5 6-7 4-4 8-2 11-6 2-20-6-1-7-5-8 0-7zM2206 506l1-10 3 2 1 0 4 5 8 0-6 8 5 8-3 4-7-11-3 1 1 13-4 0-3-14zM2247 491l-3 5 3 5-4 0-2-7 1-6zM2264 500l7 3 4 12 11-9 32 12 7 8 7 3 0 10 7 8 7 5-11-2-10-10-15 6-7-1-9-5-4 1-2-7 4-3-12-10-9-3-5 1-4-6 6-3-11-5zM2349 520l4 4-10 6-7-1 0-3zM2224 404l0 8-5 7 10 9 0 7-9-7-6-2-1-4-1-5 5-13zM2225 455l9-6 4 11-2 6-3 4-15-7zM2231 435l4 7-3 6-8 5-5-8 0-7zM2227 371l-6 16-4-6 6-10zM2173 396l2 3-7 7-4-5zM2284 318l13-1 8-8 8-3 9-11 2-7 6 1 0 9-6 6-3 9-5 7-7 2-7 0-5 6-4-4-8 0-9 2zM2279 327l-4 11-6 3 1-13zM2292 325l-4 4-5 3-2-1zM2327 278l11-10 5 6 7 4-11 7-9-2-6 5zM2349 240l8-16 0 6-6 18-4 14-7 3zM3179 238l-10-1 3-3-7-5 3-1-5-7-5 1-5-3-8-5-6-10 7 0 3 4 7 1 4 5 7 4 9 5 7 5 9 4 5 7-23 6zM3157 237l-8-1 0-3-8-7 4-3 1-4 9 4 3 5 6 6zM3040 172l2-4 20 0 15 5-1 4-6 5-18-3zM3073 113l16-1 17 1 6 9-7 4-14-3-18-5zM2138 136l18-6 34-6 8 1-40 7-31 12-17 5 1-3zM2310 110l4 5-17 3-9-1zM2409 128l16 3-29 7-5-6zM2910 380l9 1 27 15-14 1-5-8-12-2-17 1zM2953 397l12 1 8 6-11 3-16-2 0-7zM2939 406l-3 2-7-2 0-1zM3303 304l3 8-13-5-2-2zM3270 290l6 10-5 0-7-10zM3262 280l5 8-4-1-5-7zM3358 319l-5 1-7-1-1-1zM1871 317l-6 5-6 0 1-2zM2910 181l-2 7-17-4-18-7-14 0 12-9-6-7-21-9-14-10 4-4 22 4 19 8 13 9 20 9zM2798 104l50 1-21 13-8 8-30 0-20-8 2-8zM2825 134l-36 0-6-8 38 2zM2727 140l24-2 18 12-10 7-30-2-14-3-2-6zM2700 134l20 5-7 7-22-1zM2748 126l18 1 12 5-29 2-30 0-2-4zM2781 136l18 4-9 6-13 0-8-2zM2826 172l9-1 15 8-17 0zM2976 237l17 13 5 7-8 3-6-4-13 1z" fill="#d3d3d3" stroke="#000" stroke-width="3.6" stroke-linejoin="round"/>
<path transform="scale(0.5)" d="M2018 262l-4 8-12 6-3-4 6-7z" fill="#ffffff" stroke="#000" stroke-width="3"/>
<path transform="scale(0.5)" d="M1970 262l13-1-3 9-9 2-9 8 3 8-7 20-15 4-4-5 6-12 4-2-1-11 6-10z" fill="#ffffff" stroke="#000" stroke-width="3"/>
<path transform="scale(0.5)" d="M1887 269l13-7 6 3-7 7 16-4 14-8 4 0-17 11 3 4 1 12-4 3-13 1-8-6-19 4-9 0 0-2 8-10z" fill="#ffffff" stroke="#000" stroke-width="3"/>
<path transform="scale(0.5)" d="M2853 254l16 1 4 7-30-1zM2864 265l20 1 4 4-1 10-8-5-5 10-6 0-5-10zM2894 282l4-6 15 1-28 9zM2206 235l15-7 16-12 1 1-10 9-24 11zM1819 497l6 4-5 10-7-1-1-9z" fill="#e6e6e6" stroke="#000" stroke-width="3"/>
<path d="M1198.3 59.2h0M1217.1 59.2h0M1188.9 68.7h0M1207.7 68.7h0M1226.6 68.7h0M1434.0 68.7h0M1556.6 78.1h0M1509.5 87.6h0M1547.2 87.6h0M1566.0 87.6h0M1481.2 97.0h0M1500.0 97.0h0M1518.9 97.0h0M1556.6 97.0h0M1575.5 97.0h0M1188.9 106.5h0M1226.6 106.5h0M1245.4 106.5h0M1283.2 106.5h0M1302.0 106.5h0M1490.6 106.5h0M1509.5 106.5h0M1547.2 106.5h0M1566.0 106.5h0M1584.9 106.5h0M1198.3 115.9h0M1217.1 115.9h0M1236.0 115.9h0M1254.9 115.9h0M1311.4 115.9h0M1500.0 115.9h0M1518.9 115.9h0M1537.8 115.9h0M1556.6 115.9h0M1188.9 125.4h0M1207.7 125.4h0M1226.6 125.4h0M1547.2 125.4h0M1566.0 125.4h0M1584.9 125.4h0M1179.4 134.8h0M1311.4 134.8h0M1500.0 134.8h0M1518.9 134.8h0M1537.8 134.8h0M1556.6 134.8h0M1575.5 134.8h0M1594.3 134.8h0M1320.9 144.2h0M1471.8 144.2h0M1490.6 144.2h0M1509.5 144.2h0M1528.3 144.2h0M1547.2 144.2h0M1566.0 144.2h0M1584.9 144.2h0M1622.6 144.2h0M1141.7 153.7h0M1179.4 153.7h0M1198.3 153.7h0M1217.1 153.7h0M1236.0 153.7h0M1311.4 153.7h0M1481.2 153.7h0M1500.0 153.7h0M1556.6 153.7h0M1575.5 153.7h0M1594.3 153.7h0M1632.1 153.7h0M1170.0 163.2h0M1188.9 163.2h0M1207.7 163.2h0M1226.6 163.2h0M1302.0 163.2h0M1471.8 163.2h0M1490.6 163.2h0M1509.5 163.2h0M1566.0 163.2h0M1603.8 163.2h0M1660.3 163.2h0M1679.2 163.2h0M1141.7 172.6h0M1160.6 172.6h0M1179.4 172.6h0M1198.3 172.6h0M1349.2 172.6h0M1462.3 172.6h0M1481.2 172.6h0M1113.4 182.1h0M1132.3 182.1h0M1188.9 182.1h0M1207.7 182.1h0M1264.3 182.1h0M1320.9 182.1h0M1339.7 182.1h0M1358.6 182.1h0M1471.8 182.1h0M1490.6 182.1h0M1104.0 191.5h0M1198.3 191.5h0M1292.6 191.5h0M1311.4 191.5h0M1330.3 191.5h0M1349.2 191.5h0M1481.2 191.5h0M1556.6 191.5h0M981.4 200.9h0M1094.5 200.9h0M1151.1 200.9h0M1188.9 200.9h0M1207.7 200.9h0M1245.4 200.9h0M1264.3 200.9h0M1283.2 200.9h0M1302.0 200.9h0M1320.9 200.9h0M1339.7 200.9h0M972.0 210.4h0M1028.5 210.4h0M1141.7 210.4h0M1160.6 210.4h0M1179.4 210.4h0M1198.3 210.4h0M1217.1 210.4h0M1236.0 210.4h0M1254.9 210.4h0M1273.7 210.4h0M1292.6 210.4h0M1311.4 210.4h0M1330.3 210.4h0M1405.7 210.4h0M1518.9 210.4h0M962.5 219.9h0M981.4 219.9h0M1151.1 219.9h0M1170.0 219.9h0M1188.9 219.9h0M1207.7 219.9h0M1226.6 219.9h0M1245.4 219.9h0M1264.3 219.9h0M1283.2 219.9h0M1302.0 219.9h0M1320.9 219.9h0M1339.7 219.9h0M1584.9 219.9h0M953.1 229.3h0M972.0 229.3h0M1028.5 229.3h0M1047.4 229.3h0M1066.3 229.3h0M1141.7 229.3h0M1160.6 229.3h0M1179.4 229.3h0M1198.3 229.3h0M1217.1 229.3h0M1236.0 229.3h0M1254.9 229.3h0M1273.7 229.3h0M1292.6 229.3h0M1311.4 229.3h0M1330.3 229.3h0M1349.2 229.3h0M1368.0 229.3h0M1575.5 229.3h0M962.5 238.8h0M981.4 238.8h0M1000.2 238.8h0M1019.1 238.8h0M1113.4 238.8h0M1132.3 238.8h0M1151.1 238.8h0M1170.0 238.8h0M1188.9 238.8h0M1207.7 238.8h0M1226.6 238.8h0M1245.4 238.8h0M1264.3 238.8h0M1283.2 238.8h0M1302.0 238.8h0M1320.9 238.8h0M1339.7 238.8h0M1358.6 238.8h0M1377.5 238.8h0M1566.0 238.8h0M1584.9 238.8h0M1603.8 238.8h0M1622.6 238.8h0M1641.5 238.8h0M934.2 248.2h0M953.1 248.2h0M972.0 248.2h0M990.8 248.2h0M1009.7 248.2h0M1047.4 248.2h0M1160.6 248.2h0M1179.4 248.2h0M1198.3 248.2h0M1254.9 248.2h0M1273.7 248.2h0M1292.6 248.2h0M1311.4 248.2h0M1330.3 248.2h0M1349.2 248.2h0M1368.0 248.2h0M1386.9 248.2h0M1556.6 248.2h0M1575.5 248.2h0M1594.3 248.2h0M1613.2 248.2h0M1632.1 248.2h0M1650.9 248.2h0M943.7 257.6h0M962.5 257.6h0M981.4 257.6h0M1000.2 257.6h0M1019.1 257.6h0M1056.8 257.6h0M1113.4 257.6h0M1170.0 257.6h0M1245.4 257.6h0M1264.3 257.6h0M1283.2 257.6h0M1302.0 257.6h0M1320.9 257.6h0M1377.5 257.6h0M1566.0 257.6h0M1584.9 257.6h0M1603.8 257.6h0M1622.6 257.6h0M1641.5 257.6h0M1660.3 257.6h0M953.1 267.1h0M972.0 267.1h0M990.8 267.1h0M1009.7 267.1h0M1179.4 267.1h0M1254.9 267.1h0M1273.7 267.1h0M1443.5 267.1h0M1575.5 267.1h0M1594.3 267.1h0M1613.2 267.1h0M1632.1 267.1h0M1650.9 267.1h0M962.5 276.6h0M981.4 276.6h0M1000.2 276.6h0M1019.1 276.6h0M1339.7 276.6h0M1358.6 276.6h0M1377.5 276.6h0M1452.9 276.6h0M1566.0 276.6h0M1584.9 276.6h0M1603.8 276.6h0M1622.6 276.6h0M1641.5 276.6h0M1660.3 276.6h0M972.0 286.0h0M990.8 286.0h0M1009.7 286.0h0M1028.5 286.0h0M1085.1 286.0h0M1254.9 286.0h0M1330.3 286.0h0M1349.2 286.0h0M1368.0 286.0h0M1386.9 286.0h0M1405.7 286.0h0M1443.5 286.0h0M1613.2 286.0h0M1632.1 286.0h0M1650.9 286.0h0M962.5 295.4h0M981.4 295.4h0M1000.2 295.4h0M1019.1 295.4h0M1075.7 295.4h0M1094.5 295.4h0M1339.7 295.4h0M1358.6 295.4h0M1377.5 295.4h0M1396.3 295.4h0M1622.6 295.4h0M1641.5 295.4h0M1660.3 295.4h0M972.0 304.9h0M990.8 304.9h0M1028.5 304.9h0M1066.3 304.9h0M1085.1 304.9h0M1198.3 304.9h0M1349.2 304.9h0M1368.0 304.9h0M1386.9 304.9h0M1405.7 304.9h0M1556.6 304.9h0M1632.1 304.9h0M1650.9 304.9h0M981.4 314.4h0M1075.7 314.4h0M1207.7 314.4h0M1302.0 314.4h0M1320.9 314.4h0M1377.5 314.4h0M1396.3 314.4h0M1452.9 314.4h0M1622.6 314.4h0M1641.5 314.4h0M1660.3 314.4h0M972.0 323.8h0M990.8 323.8h0M1292.6 323.8h0M1311.4 323.8h0M1405.7 323.8h0M1443.5 323.8h0M1613.2 323.8h0M1632.1 323.8h0M1650.9 323.8h0M943.7 333.2h0M962.5 333.2h0M981.4 333.2h0M1094.5 333.2h0M1207.7 333.2h0M1339.7 333.2h0M1528.3 333.2h0M1622.6 333.2h0M1660.3 333.2h0M990.8 342.7h0M1085.1 342.7h0M1104.0 342.7h0M1198.3 342.7h0M1217.1 342.7h0M1349.2 342.7h0M1368.0 342.7h0M1443.5 342.7h0M1669.8 342.7h0M1038.0 352.1h0M1056.8 352.1h0M1188.9 352.1h0M1207.7 352.1h0M1264.3 352.1h0M1283.2 352.1h0M1302.0 352.1h0M1452.9 352.1h0M1547.2 352.1h0M1566.0 352.1h0M1584.9 352.1h0M953.1 361.6h0M972.0 361.6h0M990.8 361.6h0M1047.4 361.6h0M1066.3 361.6h0M1122.8 361.6h0M1141.7 361.6h0M1160.6 361.6h0M1179.4 361.6h0M1217.1 361.6h0M1236.0 361.6h0M1254.9 361.6h0M1273.7 361.6h0M1292.6 361.6h0M1311.4 361.6h0M1443.5 361.6h0M1481.2 361.6h0M1500.0 361.6h0M1518.9 361.6h0M1537.8 361.6h0M1556.6 361.6h0M1575.5 361.6h0M1594.3 361.6h0M1613.2 361.6h0M1632.1 361.6h0M962.5 371.1h0M1000.2 371.1h0M1038.0 371.1h0M1056.8 371.1h0M1075.7 371.1h0M1113.4 371.1h0M1170.0 371.1h0M1188.9 371.1h0M1226.6 371.1h0M1245.4 371.1h0M1264.3 371.1h0M1283.2 371.1h0M1302.0 371.1h0M1490.6 371.1h0M1509.5 371.1h0M1528.3 371.1h0M1547.2 371.1h0M1566.0 371.1h0M1584.9 371.1h0M1603.8 371.1h0M1622.6 371.1h0M1641.5 371.1h0M972.0 380.5h0M1009.7 380.5h0M1047.4 380.5h0M1066.3 380.5h0M1085.1 380.5h0M1217.1 380.5h0M1236.0 380.5h0M1254.9 380.5h0M1273.7 380.5h0M1292.6 380.5h0M1500.0 380.5h0M1518.9 380.5h0M1537.8 380.5h0M1556.6 380.5h0M1613.2 380.5h0M981.4 389.9h0M1019.1 389.9h0M1038.0 389.9h0M1056.8 389.9h0M1094.5 389.9h0M1151.1 389.9h0M1170.0 389.9h0M1188.9 389.9h0M1207.7 389.9h0M1245.4 389.9h0M1490.6 389.9h0M1509.5 389.9h0M1528.3 389.9h0M1603.8 389.9h0M1028.5 399.4h0M1047.4 399.4h0M1066.3 399.4h0M1481.2 399.4h0M1518.9 399.4h0M1594.3 399.4h0M1019.1 408.9h0M1038.0 408.9h0M1056.8 408.9h0M1075.7 408.9h0M1226.6 408.9h0M1283.2 408.9h0M1358.6 408.9h0M1396.3 408.9h0M1471.8 408.9h0M1584.9 408.9h0M1028.5 418.3h0M1462.3 418.3h0M1452.9 427.8h0" stroke="#000" stroke-width="5.0" stroke-linecap="round" fill="none"/>
<path d="M983.1 399.8H1628.9M917.9 325.5H1694.1M901.7 249.2H1710.3M917.9 172.9H1694.1M983.1 98.6H1628.9M1162.6 454.2L1151.8 449.3L1138.5 441.8L1124.6 432.4L1112.3 422.2L1101.2 411.3L1090.8 399.8L1080.9 388.0L1072.1 375.8L1064.5 363.4L1057.6 350.9L1051.9 338.2L1047.3 325.5L1043.8 312.8L1041.3 300.1L1039.2 287.3L1037.7 274.6L1036.9 261.9L1036.5 249.2L1036.9 236.5L1037.7 223.8L1039.2 211.1L1041.3 198.3L1043.8 185.6L1047.3 172.9L1051.9 160.2L1057.6 147.5L1064.5 135.0L1072.1 122.6L1080.9 110.4L1090.8 98.6L1101.2 87.1L1112.3 76.2L1124.6 66.0L1138.5 56.6L1151.8 49.1L1162.6 44.2M1270.1 454.2L1267.4 449.3L1264.1 441.8L1260.6 432.4L1257.6 422.2L1254.8 411.3L1252.2 399.8L1249.7 388.0L1247.5 375.8L1245.6 363.4L1243.9 350.9L1242.5 338.2L1241.3 325.5L1240.4 312.8L1239.8 300.1L1239.3 287.3L1238.9 274.6L1238.7 261.9L1238.6 249.2L1238.7 236.5L1238.9 223.8L1239.3 211.1L1239.8 198.3L1240.4 185.6L1241.3 172.9L1242.5 160.2L1243.9 147.5L1245.6 135.0L1247.5 122.6L1249.7 110.4L1252.2 98.6L1254.8 87.1L1257.6 76.2L1260.6 66.0L1264.1 56.6L1267.4 49.1L1270.1 44.2M1377.7 454.2L1383.1 449.3L1389.7 441.8L1396.7 432.4L1402.8 422.2L1408.4 411.3L1413.6 399.8L1418.5 388.0L1423.0 375.8L1426.8 363.4L1430.2 350.9L1433.0 338.2L1435.4 325.5L1437.1 312.8L1438.4 300.1L1439.4 287.3L1440.1 274.6L1440.6 261.9L1440.8 249.2L1440.6 236.5L1440.1 223.8L1439.4 211.1L1438.4 198.3L1437.1 185.6L1435.4 172.9L1433.0 160.2L1430.2 147.5L1426.8 135.0L1423.0 122.6L1418.5 110.4L1413.6 98.6L1408.4 87.1L1402.8 76.2L1396.7 66.0L1389.7 56.6L1383.1 49.1L1377.7 44.2M1485.3 454.2L1498.8 449.3L1515.3 441.8L1532.8 432.4L1548.1 422.2L1561.9 411.3L1575.1 399.8L1587.3 388.0L1598.4 375.8L1607.9 363.4L1616.5 350.9L1623.6 338.2L1629.4 325.5L1633.8 312.8L1636.9 300.1L1639.5 287.3L1641.4 274.6L1642.4 261.9L1642.9 249.2L1642.4 236.5L1641.4 223.8L1639.5 211.1L1636.9 198.3L1633.8 185.6L1629.4 172.9L1623.6 160.2L1616.5 147.5L1607.9 135.0L1598.4 122.6L1587.3 110.4L1575.1 98.6L1561.9 87.1L1548.1 76.2L1532.8 66.0L1515.3 56.6L1498.8 49.1L1485.3 44.2" fill="none" stroke="#000" stroke-width="2.2"/>
</g>
<path d="M1521.2 454.2L1528.7 452.2L1537.3 449.3L1546.9 445.9L1557.2 441.8L1567.8 437.3L1578.2 432.4L1587.7 427.4L1596.5 422.2L1605.0 416.8L1613.1 411.3L1621.1 405.6L1628.9 399.8L1636.4 394.0L1643.6 388.0L1650.5 382.0L1656.9 375.8L1662.8 369.7L1668.3 363.4L1673.6 357.2L1678.6 350.9L1683.1 344.5L1687.1 338.2L1690.8 331.8L1694.1 325.5L1697.0 319.1L1699.4 312.8L1701.4 306.4L1703.1 300.1L1704.7 293.7L1706.2 287.3L1707.5 281.0L1708.4 274.6L1709.2 268.3L1709.7 261.9L1710.1 255.6L1710.3 249.2L1710.1 242.8L1709.7 236.5L1709.2 230.1L1708.4 223.8L1707.5 217.4L1706.2 211.1L1704.7 204.7L1703.1 198.3L1701.4 192.0L1699.4 185.6L1697.0 179.3L1694.1 172.9L1690.8 166.6L1687.1 160.2L1683.1 153.9L1678.6 147.5L1673.6 141.2L1668.3 135.0L1662.8 128.7L1656.9 122.6L1650.5 116.4L1643.6 110.4L1636.4 104.4L1628.9 98.6L1621.1 92.8L1613.1 87.1L1605.0 81.6L1596.5 76.2L1587.7 71.0L1578.2 66.0L1567.8 61.1L1557.2 56.6L1546.9 52.5L1537.3 49.1L1528.7 46.2L1521.2 44.2L1090.8 44.2L1083.3 46.2L1074.7 49.1L1065.1 52.5L1054.8 56.6L1044.2 61.1L1033.8 66.0L1024.3 71.0L1015.5 76.2L1007.0 81.6L998.9 87.1L990.9 92.8L983.1 98.6L975.6 104.4L968.4 110.4L961.5 116.4L955.1 122.6L949.2 128.7L943.7 135.0L938.4 141.2L933.4 147.5L928.9 153.9L924.9 160.2L921.2 166.6L917.9 172.9L915.0 179.3L912.6 185.6L910.6 192.0L908.9 198.3L907.3 204.7L905.8 211.1L904.5 217.4L903.6 223.8L902.8 230.1L902.3 236.5L901.9 242.8L901.7 249.2L901.9 255.6L902.3 261.9L902.8 268.3L903.6 274.6L904.5 281.0L905.8 287.3L907.3 293.7L908.9 300.1L910.6 306.4L912.6 312.8L915.0 319.1L917.9 325.5L921.2 331.8L924.9 338.2L928.9 344.5L933.4 350.9L938.4 357.2L943.7 363.4L949.2 369.7L955.1 375.8L961.5 382.0L968.4 388.0L975.6 394.0L983.1 399.8L990.9 405.6L998.9 411.3L1007.0 416.8L1015.5 422.2L1024.3 427.4L1033.8 432.4L1044.2 437.3L1054.8 441.8L1065.1 445.9L1074.7 449.3L1083.3 452.2L1090.8 454.2Z" fill="none" stroke="#000" stroke-width="2.4"/>
<text x="180.5" y="25.6" font-size="33" text-anchor="start" font-weight="bold">(a)</text>
<text transform="translate(269 23.6) scale(1 1.05)" font-size="25.7" text-anchor="start" font-weight="bold">Observation (1998-2020)</text>
<text x="1019.3" y="25.6" font-size="33" text-anchor="start" font-weight="bold">(b)</text>
<text transform="translate(1148 23.6) scale(1 1.05)" font-size="26.2" text-anchor="start" font-weight="bold">CMIP6 MME (1998-2020)</text>
<polygon points="89.9,507.5 57.17,517.6 89.9,527.7" fill="#40004b" stroke="#000" stroke-width="1.6" stroke-linejoin="miter"/>
<rect x="89.9" y="507.5" width="32.73" height="20.2" fill="#591365" stroke="#000" stroke-width="1.6"/>
<rect x="122.63" y="507.5" width="32.73" height="20.2" fill="#72277f" stroke="#000" stroke-width="1.6"/>
<rect x="155.36" y="507.5" width="32.73" height="20.2" fill="#844693" stroke="#000" stroke-width="1.6"/>
<rect x="188.09" y="507.5" width="32.73" height="20.2" fill="#9467a6" stroke="#000" stroke-width="1.6"/>
<rect x="220.82" y="507.5" width="32.73" height="20.2" fill="#a782b7" stroke="#000" stroke-width="1.6"/>
<rect x="253.55" y="507.5" width="32.73" height="20.2" fill="#bc9dca" stroke="#000" stroke-width="1.6"/>
<rect x="286.28" y="507.5" width="32.73" height="20.2" fill="#ceb4d7" stroke="#000" stroke-width="1.6"/>
<rect x="319.01" y="507.5" width="32.73" height="20.2" fill="#dfcae3" stroke="#000" stroke-width="1.6"/>
<rect x="351.74" y="507.5" width="32.73" height="20.2" fill="#ebddec" stroke="#000" stroke-width="1.6"/>
<rect x="384.47" y="507.5" width="32.73" height="20.2" fill="#f2eef3" stroke="#000" stroke-width="1.6"/>
<rect x="417.2" y="507.5" width="32.73" height="20.2" fill="#eff5ed" stroke="#000" stroke-width="1.6"/>
<rect x="449.93" y="507.5" width="32.73" height="20.2" fill="#e1f1dc" stroke="#000" stroke-width="1.6"/>
<rect x="482.66" y="507.5" width="32.73" height="20.2" fill="#cfebc9" stroke="#000" stroke-width="1.6"/>
<rect x="515.39" y="507.5" width="32.73" height="20.2" fill="#b7e2b1" stroke="#000" stroke-width="1.6"/>
<rect x="548.12" y="507.5" width="32.73" height="20.2" fill="#9bd497" stroke="#000" stroke-width="1.6"/>
<rect x="580.85" y="507.5" width="32.73" height="20.2" fill="#74bd77" stroke="#000" stroke-width="1.6"/>
<rect x="613.58" y="507.5" width="32.73" height="20.2" fill="#52a75c" stroke="#000" stroke-width="1.6"/>
<rect x="646.31" y="507.5" width="32.73" height="20.2" fill="#348e48" stroke="#000" stroke-width="1.6"/>
<rect x="679.04" y="507.5" width="32.73" height="20.2" fill="#197435" stroke="#000" stroke-width="1.6"/>
<rect x="711.77" y="507.5" width="32.73" height="20.2" fill="#0c5c28" stroke="#000" stroke-width="1.6"/>
<polygon points="744.5,507.5 777.23,517.6 744.5,527.7" fill="#00441b" stroke="#000" stroke-width="1.6"/>
<text transform="translate(89.9 549.6) scale(1 1.11)" font-size="21.5" text-anchor="middle" font-weight="normal">-1</text>
<text transform="translate(155.36 549.6) scale(1 1.11)" font-size="21.5" text-anchor="middle" font-weight="normal">-0.8</text>
<text transform="translate(220.82 549.6) scale(1 1.11)" font-size="21.5" text-anchor="middle" font-weight="normal">-0.6</text>
<text transform="translate(286.28 549.6) scale(1 1.11)" font-size="21.5" text-anchor="middle" font-weight="normal">-0.4</text>
<text transform="translate(351.74 549.6) scale(1 1.11)" font-size="21.5" text-anchor="middle" font-weight="normal">-0.2</text>
<text transform="translate(417.2 549.6) scale(1 1.11)" font-size="21.5" text-anchor="middle" font-weight="normal">0</text>
<text transform="translate(482.66 549.6) scale(1 1.11)" font-size="21.5" text-anchor="middle" font-weight="normal">0.2</text>
<text transform="translate(548.12 549.6) scale(1 1.11)" font-size="21.5" text-anchor="middle" font-weight="normal">0.4</text>
<text transform="translate(613.58 549.6) scale(1 1.11)" font-size="21.5" text-anchor="middle" font-weight="normal">0.6</text>
<text transform="translate(679.04 549.6) scale(1 1.11)" font-size="21.5" text-anchor="middle" font-weight="normal">0.8</text>
<text transform="translate(744.5 549.6) scale(1 1.11)" font-size="21.5" text-anchor="middle" font-weight="normal">1</text>
<polygon points="978.2,507.5 945.47,517.6 978.2,527.7" fill="#40004b" stroke="#000" stroke-width="1.6" stroke-linejoin="miter"/>
<rect x="978.2" y="507.5" width="32.73" height="20.2" fill="#591365" stroke="#000" stroke-width="1.6"/>
<rect x="1010.93" y="507.5" width="32.73" height="20.2" fill="#72277f" stroke="#000" stroke-width="1.6"/>
<rect x="1043.66" y="507.5" width="32.73" height="20.2" fill="#844693" stroke="#000" stroke-width="1.6"/>
<rect x="1076.39" y="507.5" width="32.73" height="20.2" fill="#9467a6" stroke="#000" stroke-width="1.6"/>
<rect x="1109.12" y="507.5" width="32.73" height="20.2" fill="#a782b7" stroke="#000" stroke-width="1.6"/>
<rect x="1141.85" y="507.5" width="32.73" height="20.2" fill="#bc9dca" stroke="#000" stroke-width="1.6"/>
<rect x="1174.58" y="507.5" width="32.73" height="20.2" fill="#ceb4d7" stroke="#000" stroke-width="1.6"/>
<rect x="1207.31" y="507.5" width="32.73" height="20.2" fill="#dfcae3" stroke="#000" stroke-width="1.6"/>
<rect x="1240.04" y="507.5" width="32.73" height="20.2" fill="#ebddec" stroke="#000" stroke-width="1.6"/>
<rect x="1272.77" y="507.5" width="32.73" height="20.2" fill="#f2eef3" stroke="#000" stroke-width="1.6"/>
<rect x="1305.5" y="507.5" width="32.73" height="20.2" fill="#eff5ed" stroke="#000" stroke-width="1.6"/>
<rect x="1338.23" y="507.5" width="32.73" height="20.2" fill="#e1f1dc" stroke="#000" stroke-width="1.6"/>
<rect x="1370.96" y="507.5" width="32.73" height="20.2" fill="#cfebc9" stroke="#000" stroke-width="1.6"/>
<rect x="1403.69" y="507.5" width="32.73" height="20.2" fill="#b7e2b1" stroke="#000" stroke-width="1.6"/>
<rect x="1436.42" y="507.5" width="32.73" height="20.2" fill="#9bd497" stroke="#000" stroke-width="1.6"/>
<rect x="1469.15" y="507.5" width="32.73" height="20.2" fill="#74bd77" stroke="#000" stroke-width="1.6"/>
<rect x="1501.88" y="507.5" width="32.73" height="20.2" fill="#52a75c" stroke="#000" stroke-width="1.6"/>
<rect x="1534.61" y="507.5" width="32.73" height="20.2" fill="#348e48" stroke="#000" stroke-width="1.6"/>
<rect x="1567.34" y="507.5" width="32.73" height="20.2" fill="#197435" stroke="#000" stroke-width="1.6"/>
<rect x="1600.07" y="507.5" width="32.73" height="20.2" fill="#0c5c28" stroke="#000" stroke-width="1.6"/>
<polygon points="1632.8,507.5 1665.53,517.6 1632.8,527.7" fill="#00441b" stroke="#000" stroke-width="1.6"/>
<text transform="translate(978.2 549.6) scale(1 1.11)" font-size="21.5" text-anchor="middle" font-weight="normal">-0.5</text>
<text transform="translate(1043.66 549.6) scale(1 1.11)" font-size="21.5" text-anchor="middle" font-weight="normal">-0.4</text>
<text transform="translate(1109.12 549.6) scale(1 1.11)" font-size="21.5" text-anchor="middle" font-weight="normal">-0.3</text>
<text transform="translate(1174.58 549.6) scale(1 1.11)" font-size="21.5" text-anchor="middle" font-weight="normal">-0.2</text>
<text transform="translate(1240.04 549.6) scale(1 1.11)" font-size="21.5" text-anchor="middle" font-weight="normal">-0.1</text>
<text transform="translate(1305.5 549.6) scale(1 1.11)" font-size="21.5" text-anchor="middle" font-weight="normal">0</text>
<text transform="translate(1370.96 549.6) scale(1 1.11)" font-size="21.5" text-anchor="middle" font-weight="normal">0.1</text>
<text transform="translate(1436.42 549.6) scale(1 1.11)" font-size="21.5" text-anchor="middle" font-weight="normal">0.2</text>
<text transform="translate(1501.88 549.6) scale(1 1.11)" font-size="21.5" text-anchor="middle" font-weight="normal">0.3</text>
<text transform="translate(1567.34 549.6) scale(1 1.11)" font-size="21.5" text-anchor="middle" font-weight="normal">0.4</text>
<text transform="translate(1632.8 549.6) scale(1 1.11)" font-size="21.5" text-anchor="middle" font-weight="normal">0.5</text>
<text transform="translate(695.8 582) scale(1 1.0)" font-size="29">(</text>
<text transform="translate(711.7 582) scale(1 1.14)" font-size="26.6">10yr</text>
<text transform="translate(762.8 572) scale(1 1.1)" font-size="17.5">-1</text>
<text transform="translate(783.8 582) scale(1 1.0)" font-size="29">)</text>
<text transform="translate(1624 582) scale(1 1.0)" font-size="29">(</text>
<text transform="translate(1639.9 582) scale(1 1.14)" font-size="26.6">10yr</text>
<text transform="translate(1691 572) scale(1 1.1)" font-size="17.5">-1</text>
<text transform="translate(1712 582) scale(1 1.0)" font-size="29">)</text>
<text transform="translate(326.3 697.1) scale(1 1.045)" font-size="29.2" text-anchor="middle" font-weight="normal">(c) Tropical Indian Ocean</text>
<line x1="129.9" y1="880.4" x2="539" y2="880.4" stroke="#808080" stroke-width="1.5" stroke-dasharray="7.4 9.2"/>
<line x1="185.33" y1="879.11" x2="185.33" y2="869.47" stroke="#000000" stroke-width="3.2" stroke-dasharray="20.8 12.2" stroke-linecap="round"/>
<line x1="185.33" y1="920.75" x2="185.33" y2="895.5" stroke="#000000" stroke-width="3.2" stroke-dasharray="20.8 12.2" stroke-linecap="round"/>
<line x1="180.03" y1="869.47" x2="190.63" y2="869.47" stroke="#000000" stroke-width="3.2" stroke-linecap="round"/>
<line x1="180.03" y1="920.75" x2="190.63" y2="920.75" stroke="#000000" stroke-width="3.2" stroke-linecap="round"/>
<rect x="163.53" y="879.11" width="43.6" height="16.4" fill="none" stroke="#000000" stroke-width="3.2" stroke-linejoin="round"/>
<line x1="163.53" y1="887.16" x2="207.13" y2="887.16" stroke="#000000" stroke-width="3.2"/>
<line x1="326.8" y1="878.41" x2="326.8" y2="865.49" stroke="#228b22" stroke-width="3.2" stroke-dasharray="20.8 12.2" stroke-linecap="round"/>
<line x1="326.8" y1="924.12" x2="326.8" y2="903.45" stroke="#228b22" stroke-width="3.2" stroke-dasharray="20.8 12.2" stroke-linecap="round"/>
<line x1="321.5" y1="865.49" x2="332.1" y2="865.49" stroke="#228b22" stroke-width="3.2" stroke-linecap="round"/>
<line x1="321.5" y1="924.12" x2="332.1" y2="924.12" stroke="#228b22" stroke-width="3.2" stroke-linecap="round"/>
<rect x="305" y="878.41" width="43.6" height="25.04" fill="none" stroke="#228b22" stroke-width="3.2" stroke-linejoin="round"/>
<line x1="305" y1="883.98" x2="348.6" y2="883.98" stroke="#228b22" stroke-width="3.2"/>
<line x1="468.27" y1="874.24" x2="468.27" y2="846.61" stroke="#9400d3" stroke-width="3.2" stroke-dasharray="20.8 12.2" stroke-linecap="round"/>
<line x1="468.27" y1="953.34" x2="468.27" y2="909.02" stroke="#9400d3" stroke-width="3.2" stroke-dasharray="20.8 12.2" stroke-linecap="round"/>
<line x1="462.97" y1="846.61" x2="473.57" y2="846.61" stroke="#9400d3" stroke-width="3.2" stroke-linecap="round"/>
<line x1="462.97" y1="953.34" x2="473.57" y2="953.34" stroke="#9400d3" stroke-width="3.2" stroke-linecap="round"/>
<rect x="446.47" y="874.24" width="43.6" height="34.78" fill="none" stroke="#9400d3" stroke-width="3.2" stroke-linejoin="round"/>
<line x1="446.47" y1="896.1" x2="490.07" y2="896.1" stroke="#9400d3" stroke-width="3.2"/>
<circle cx="185.33" cy="887.95" r="11.2" fill="#0000ff"/>
<circle cx="326.8" cy="889.74" r="11.2" fill="#0000ff"/>
<circle cx="326.8" cy="931.28" r="11.2" fill="#ff0000"/>
<circle cx="468.27" cy="895.5" r="11.2" fill="#0000ff"/>
<circle cx="468.27" cy="946.78" r="11.2" fill="#ff0000"/>
<rect x="114.6" y="721.4" width="424.4" height="318" fill="none" stroke="#000" stroke-width="3.3" stroke-linejoin="round"/>
<line x1="114.6" y1="761.15" x2="129.9" y2="761.15" stroke="#000" stroke-width="3.2"/>
<text transform="translate(94.9 772.05) scale(1 1.045)" font-size="29.2" text-anchor="end" font-weight="normal">0.6</text>
<line x1="114.6" y1="820.77" x2="129.9" y2="820.77" stroke="#000" stroke-width="3.2"/>
<text transform="translate(94.9 831.67) scale(1 1.045)" font-size="29.2" text-anchor="end" font-weight="normal">0.3</text>
<line x1="114.6" y1="880.4" x2="129.9" y2="880.4" stroke="#000" stroke-width="3.2"/>
<text transform="translate(94.9 891.3) scale(1 1.045)" font-size="29.2" text-anchor="end" font-weight="normal">0.0</text>
<line x1="114.6" y1="940.02" x2="129.9" y2="940.02" stroke="#000" stroke-width="3.2"/>
<text transform="translate(94.9 950.92) scale(1 1.045)" font-size="29.2" text-anchor="end" font-weight="normal">-0.3</text>
<line x1="114.6" y1="999.65" x2="129.9" y2="999.65" stroke="#000" stroke-width="3.2"/>
<text transform="translate(94.9 1010.55) scale(1 1.045)" font-size="29.2" text-anchor="end" font-weight="normal">-0.6</text>
<line x1="185.33" y1="1039.4" x2="185.33" y2="1027.9" stroke="#000" stroke-width="3.2"/>
<line x1="326.8" y1="1039.4" x2="326.8" y2="1027.9" stroke="#000" stroke-width="3.2"/>
<line x1="468.27" y1="1039.4" x2="468.27" y2="1027.9" stroke="#000" stroke-width="3.2"/>
<text transform="translate(192.83 1117.4) rotate(-45) scale(1 1.045)" font-size="29.2" text-anchor="middle" dy="10">1850-2020</text>
<text transform="translate(334.3 1117.4) rotate(-45) scale(1 1.045)" font-size="29.2" text-anchor="middle" dy="10">1998-2014</text>
<text transform="translate(475.77 1117.4) rotate(-45) scale(1 1.045)" font-size="29.2" text-anchor="middle" dy="10">1998-2020</text>
<circle cx="185" cy="761.15" r="11.2" fill="#0000ff"/>
<text transform="translate(199.5 772.05) scale(1 1.045)" font-size="29.2" text-anchor="start" font-weight="normal">MME</text>
<circle cx="326.3" cy="761.15" r="11.2" fill="#ff0000"/>
<text transform="translate(344.3 772.05) scale(1 1.045)" font-size="29.2" text-anchor="start" font-weight="normal">OBS</text>
<text transform="translate(21.9 880.4) rotate(-90) scale(1 1.045)" font-size="29.2" text-anchor="middle">Chl trend (/10yr)</text>
<text transform="translate(918.6 697.1) scale(1 1.045)" font-size="29.2" text-anchor="middle" font-weight="normal">(d) Western Tropical Pacific</text>
<line x1="722.2" y1="880.4" x2="1131.3" y2="880.4" stroke="#808080" stroke-width="1.5" stroke-dasharray="7.4 9.2"/>
<line x1="777.63" y1="889.54" x2="777.63" y2="864.5" stroke="#000000" stroke-width="3.2" stroke-dasharray="20.8 12.2" stroke-linecap="round"/>
<line x1="777.63" y1="923.93" x2="777.63" y2="914.19" stroke="#000000" stroke-width="3.2" stroke-dasharray="20.8 12.2" stroke-linecap="round"/>
<line x1="772.33" y1="864.5" x2="782.93" y2="864.5" stroke="#000000" stroke-width="3.2" stroke-linecap="round"/>
<line x1="772.33" y1="923.93" x2="782.93" y2="923.93" stroke="#000000" stroke-width="3.2" stroke-linecap="round"/>
<rect x="755.83" y="889.54" width="43.6" height="24.64" fill="none" stroke="#000000" stroke-width="3.2" stroke-linejoin="round"/>
<line x1="755.83" y1="896.1" x2="799.43" y2="896.1" stroke="#000000" stroke-width="3.2"/>
<line x1="919.1" y1="869.47" x2="919.1" y2="840.65" stroke="#228b22" stroke-width="3.2" stroke-dasharray="20.8 12.2" stroke-linecap="round"/>
<line x1="919.1" y1="1010.18" x2="919.1" y2="918.76" stroke="#228b22" stroke-width="3.2" stroke-dasharray="20.8 12.2" stroke-linecap="round"/>
<line x1="913.8" y1="840.65" x2="924.4" y2="840.65" stroke="#228b22" stroke-width="3.2" stroke-linecap="round"/>
<line x1="913.8" y1="1010.18" x2="924.4" y2="1010.18" stroke="#228b22" stroke-width="3.2" stroke-linecap="round"/>
<rect x="897.3" y="869.47" width="43.6" height="49.29" fill="none" stroke="#228b22" stroke-width="3.2" stroke-linejoin="round"/>
<line x1="897.3" y1="888.95" x2="940.9" y2="888.95" stroke="#228b22" stroke-width="3.2"/>
<line x1="1060.57" y1="867.68" x2="1060.57" y2="820.58" stroke="#9400d3" stroke-width="3.2" stroke-dasharray="20.8 12.2" stroke-linecap="round"/>
<line x1="1060.57" y1="981.56" x2="1060.57" y2="912.2" stroke="#9400d3" stroke-width="3.2" stroke-dasharray="20.8 12.2" stroke-linecap="round"/>
<line x1="1055.27" y1="820.58" x2="1065.87" y2="820.58" stroke="#9400d3" stroke-width="3.2" stroke-linecap="round"/>
<line x1="1055.27" y1="981.56" x2="1065.87" y2="981.56" stroke="#9400d3" stroke-width="3.2" stroke-linecap="round"/>
<rect x="1038.77" y="867.68" width="43.6" height="44.52" fill="none" stroke="#9400d3" stroke-width="3.2" stroke-linejoin="round"/>
<line x1="1038.77" y1="872.65" x2="1082.37" y2="872.65" stroke="#9400d3" stroke-width="3.2"/>
<circle cx="777.63" cy="896.3" r="11.2" fill="#0000ff"/>
<circle cx="919.1" cy="896.3" r="11.2" fill="#0000ff"/>
<circle cx="919.1" cy="934.46" r="11.2" fill="#ff0000"/>
<circle cx="1060.57" cy="888.15" r="11.2" fill="#0000ff"/>
<circle cx="1060.57" cy="919.16" r="11.2" fill="#ff0000"/>
<rect x="706.9" y="721.4" width="424.4" height="318" fill="none" stroke="#000" stroke-width="3.3" stroke-linejoin="round"/>
<line x1="706.9" y1="761.15" x2="722.2" y2="761.15" stroke="#000" stroke-width="3.2"/>
<text transform="translate(687.2 772.05) scale(1 1.045)" font-size="29.2" text-anchor="end" font-weight="normal">0.6</text>
<line x1="706.9" y1="820.77" x2="722.2" y2="820.77" stroke="#000" stroke-width="3.2"/>
<text transform="translate(687.2 831.67) scale(1 1.045)" font-size="29.2" text-anchor="end" font-weight="normal">0.3</text>
<line x1="706.9" y1="880.4" x2="722.2" y2="880.4" stroke="#000" stroke-width="3.2"/>
<text transform="translate(687.2 891.3) scale(1 1.045)" font-size="29.2" text-anchor="end" font-weight="normal">0.0</text>
<line x1="706.9" y1="940.02" x2="722.2" y2="940.02" stroke="#000" stroke-width="3.2"/>
<text transform="translate(687.2 950.92) scale(1 1.045)" font-size="29.2" text-anchor="end" font-weight="normal">-0.3</text>
<line x1="706.9" y1="999.65" x2="722.2" y2="999.65" stroke="#000" stroke-width="3.2"/>
<text transform="translate(687.2 1010.55) scale(1 1.045)" font-size="29.2" text-anchor="end" font-weight="normal">-0.6</text>
<line x1="777.63" y1="1039.4" x2="777.63" y2="1027.9" stroke="#000" stroke-width="3.2"/>
<line x1="919.1" y1="1039.4" x2="919.1" y2="1027.9" stroke="#000" stroke-width="3.2"/>
<line x1="1060.57" y1="1039.4" x2="1060.57" y2="1027.9" stroke="#000" stroke-width="3.2"/>
<text transform="translate(785.13 1117.4) rotate(-45) scale(1 1.045)" font-size="29.2" text-anchor="middle" dy="10">1850-2020</text>
<text transform="translate(926.6 1117.4) rotate(-45) scale(1 1.045)" font-size="29.2" text-anchor="middle" dy="10">1998-2014</text>
<text transform="translate(1068.07 1117.4) rotate(-45) scale(1 1.045)" font-size="29.2" text-anchor="middle" dy="10">1998-2020</text>
<circle cx="777.3" cy="761.15" r="11.2" fill="#0000ff"/>
<text transform="translate(791.8 772.05) scale(1 1.045)" font-size="29.2" text-anchor="start" font-weight="normal">MME</text>
<circle cx="918.6" cy="761.15" r="11.2" fill="#ff0000"/>
<text transform="translate(936.6 772.05) scale(1 1.045)" font-size="29.2" text-anchor="start" font-weight="normal">OBS</text>
<text transform="translate(614.2 880.4) rotate(-90) scale(1 1.045)" font-size="29.2" text-anchor="middle">Chl trend (/10yr)</text>
<text transform="translate(1510.9 697.1) scale(1 1.045)" font-size="29.2" text-anchor="middle" font-weight="normal">(e) Eastern Tropical Pacific</text>
<line x1="1314.5" y1="880.4" x2="1723.6" y2="880.4" stroke="#808080" stroke-width="1.5" stroke-dasharray="7.4 9.2"/>
<line x1="1369.93" y1="881.19" x2="1369.93" y2="872.25" stroke="#000000" stroke-width="3.2" stroke-dasharray="20.8 12.2" stroke-linecap="round"/>
<line x1="1369.93" y1="946.19" x2="1369.93" y2="903.26" stroke="#000000" stroke-width="3.2" stroke-dasharray="20.8 12.2" stroke-linecap="round"/>
<line x1="1364.63" y1="872.25" x2="1375.23" y2="872.25" stroke="#000000" stroke-width="3.2" stroke-linecap="round"/>
<line x1="1364.63" y1="946.19" x2="1375.23" y2="946.19" stroke="#000000" stroke-width="3.2" stroke-linecap="round"/>
<rect x="1348.13" y="881.19" width="43.6" height="22.06" fill="none" stroke="#000000" stroke-width="3.2" stroke-linejoin="round"/>
<line x1="1348.13" y1="890.74" x2="1391.73" y2="890.74" stroke="#000000" stroke-width="3.2"/>
<line x1="1511.4" y1="876.62" x2="1511.4" y2="857.35" stroke="#228b22" stroke-width="3.2" stroke-dasharray="20.8 12.2" stroke-linecap="round"/>
<line x1="1511.4" y1="933.47" x2="1511.4" y2="915.98" stroke="#228b22" stroke-width="3.2" stroke-dasharray="20.8 12.2" stroke-linecap="round"/>
<line x1="1506.1" y1="857.35" x2="1516.7" y2="857.35" stroke="#228b22" stroke-width="3.2" stroke-linecap="round"/>
<line x1="1506.1" y1="933.47" x2="1516.7" y2="933.47" stroke="#228b22" stroke-width="3.2" stroke-linecap="round"/>
<rect x="1489.6" y="876.62" width="43.6" height="39.35" fill="none" stroke="#228b22" stroke-width="3.2" stroke-linejoin="round"/>
<line x1="1489.6" y1="888.75" x2="1533.2" y2="888.75" stroke="#228b22" stroke-width="3.2"/>
<line x1="1652.87" y1="865.29" x2="1652.87" y2="802.09" stroke="#9400d3" stroke-width="3.2" stroke-dasharray="20.8 12.2" stroke-linecap="round"/>
<line x1="1652.87" y1="973.81" x2="1652.87" y2="939.43" stroke="#9400d3" stroke-width="3.2" stroke-dasharray="20.8 12.2" stroke-linecap="round"/>
<line x1="1647.57" y1="802.09" x2="1658.17" y2="802.09" stroke="#9400d3" stroke-width="3.2" stroke-linecap="round"/>
<line x1="1647.57" y1="973.81" x2="1658.17" y2="973.81" stroke="#9400d3" stroke-width="3.2" stroke-linecap="round"/>
<rect x="1631.07" y="865.29" width="43.6" height="74.13" fill="none" stroke="#9400d3" stroke-width="3.2" stroke-linejoin="round"/>
<line x1="1631.07" y1="925.52" x2="1674.67" y2="925.52" stroke="#9400d3" stroke-width="3.2"/>
<circle cx="1369.93" cy="894.11" r="11.2" fill="#0000ff"/>
<circle cx="1511.4" cy="895.5" r="11.2" fill="#0000ff"/>
<circle cx="1511.4" cy="1000.25" r="11.2" fill="#ff0000"/>
<circle cx="1652.87" cy="908.03" r="11.2" fill="#0000ff"/>
<circle cx="1652.87" cy="920.15" r="11.2" fill="#ff0000"/>
<rect x="1299.2" y="721.4" width="424.4" height="318" fill="none" stroke="#000" stroke-width="3.3" stroke-linejoin="round"/>
<line x1="1299.2" y1="761.15" x2="1314.5" y2="761.15" stroke="#000" stroke-width="3.2"/>
<text transform="translate(1279.5 772.05) scale(1 1.045)" font-size="29.2" text-anchor="end" font-weight="normal">0.6</text>
<line x1="1299.2" y1="820.77" x2="1314.5" y2="820.77" stroke="#000" stroke-width="3.2"/>
<text transform="translate(1279.5 831.67) scale(1 1.045)" font-size="29.2" text-anchor="end" font-weight="normal">0.3</text>
<line x1="1299.2" y1="880.4" x2="1314.5" y2="880.4" stroke="#000" stroke-width="3.2"/>
<text transform="translate(1279.5 891.3) scale(1 1.045)" font-size="29.2" text-anchor="end" font-weight="normal">0.0</text>
<line x1="1299.2" y1="940.02" x2="1314.5" y2="940.02" stroke="#000" stroke-width="3.2"/>
<text transform="translate(1279.5 950.92) scale(1 1.045)" font-size="29.2" text-anchor="end" font-weight="normal">-0.3</text>
<line x1="1299.2" y1="999.65" x2="1314.5" y2="999.65" stroke="#000" stroke-width="3.2"/>
<text transform="translate(1279.5 1010.55) scale(1 1.045)" font-size="29.2" text-anchor="end" font-weight="normal">-0.6</text>
<line x1="1369.93" y1="1039.4" x2="1369.93" y2="1027.9" stroke="#000" stroke-width="3.2"/>
<line x1="1511.4" y1="1039.4" x2="1511.4" y2="1027.9" stroke="#000" stroke-width="3.2"/>
<line x1="1652.87" y1="1039.4" x2="1652.87" y2="1027.9" stroke="#000" stroke-width="3.2"/>
<text transform="translate(1377.43 1117.4) rotate(-45) scale(1 1.045)" font-size="29.2" text-anchor="middle" dy="10">1850-2020</text>
<text transform="translate(1518.9 1117.4) rotate(-45) scale(1 1.045)" font-size="29.2" text-anchor="middle" dy="10">1998-2014</text>
<text transform="translate(1660.37 1117.4) rotate(-45) scale(1 1.045)" font-size="29.2" text-anchor="middle" dy="10">1998-2020</text>
<circle cx="1369.6" cy="761.15" r="11.2" fill="#0000ff"/>
<text transform="translate(1384.1 772.05) scale(1 1.045)" font-size="29.2" text-anchor="start" font-weight="normal">MME</text>
<circle cx="1510.9" cy="761.15" r="11.2" fill="#ff0000"/>
<text transform="translate(1528.9 772.05) scale(1 1.045)" font-size="29.2" text-anchor="start" font-weight="normal">OBS</text>
<text transform="translate(1206.5 880.4) rotate(-90) scale(1 1.045)" font-size="29.2" text-anchor="middle">Chl trend (/10yr)</text>
<text transform="translate(326.3 1242.2) scale(1 1.045)" font-size="29.2" text-anchor="middle" font-weight="normal">(f) Tropical Atlantic Ocean</text>
<line x1="129.9" y1="1425.5" x2="539" y2="1425.5" stroke="#808080" stroke-width="1.5" stroke-dasharray="7.4 9.2"/>
<line x1="185.33" y1="1438.82" x2="185.33" y2="1399.86" stroke="#000000" stroke-width="3.2" stroke-dasharray="20.8 12.2" stroke-linecap="round"/>
<line x1="185.33" y1="1489.3" x2="185.33" y2="1473.6" stroke="#000000" stroke-width="3.2" stroke-dasharray="20.8 12.2" stroke-linecap="round"/>
<line x1="180.03" y1="1399.86" x2="190.63" y2="1399.86" stroke="#000000" stroke-width="3.2" stroke-linecap="round"/>
<line x1="180.03" y1="1489.3" x2="190.63" y2="1489.3" stroke="#000000" stroke-width="3.2" stroke-linecap="round"/>
<rect x="163.53" y="1438.82" width="43.6" height="34.78" fill="none" stroke="#000000" stroke-width="3.2" stroke-linejoin="round"/>
<line x1="163.53" y1="1451.14" x2="207.13" y2="1451.14" stroke="#000000" stroke-width="3.2"/>
<line x1="326.8" y1="1425.9" x2="326.8" y2="1387.54" stroke="#228b22" stroke-width="3.2" stroke-dasharray="20.8 12.2" stroke-linecap="round"/>
<line x1="326.8" y1="1494.27" x2="326.8" y2="1460.08" stroke="#228b22" stroke-width="3.2" stroke-dasharray="20.8 12.2" stroke-linecap="round"/>
<line x1="321.5" y1="1387.54" x2="332.1" y2="1387.54" stroke="#228b22" stroke-width="3.2" stroke-linecap="round"/>
<line x1="321.5" y1="1494.27" x2="332.1" y2="1494.27" stroke="#228b22" stroke-width="3.2" stroke-linecap="round"/>
<rect x="305" y="1425.9" width="43.6" height="34.18" fill="none" stroke="#228b22" stroke-width="3.2" stroke-linejoin="round"/>
<line x1="305" y1="1435.04" x2="348.6" y2="1435.04" stroke="#228b22" stroke-width="3.2"/>
<line x1="468.27" y1="1426.1" x2="468.27" y2="1384.16" stroke="#9400d3" stroke-width="3.2" stroke-dasharray="20.8 12.2" stroke-linecap="round"/>
<line x1="468.27" y1="1514.34" x2="468.27" y2="1476.38" stroke="#9400d3" stroke-width="3.2" stroke-dasharray="20.8 12.2" stroke-linecap="round"/>
<line x1="462.97" y1="1384.16" x2="473.57" y2="1384.16" stroke="#9400d3" stroke-width="3.2" stroke-linecap="round"/>
<line x1="462.97" y1="1514.34" x2="473.57" y2="1514.34" stroke="#9400d3" stroke-width="3.2" stroke-linecap="round"/>
<rect x="446.47" y="1426.1" width="43.6" height="50.28" fill="none" stroke="#9400d3" stroke-width="3.2" stroke-linejoin="round"/>
<line x1="446.47" y1="1442.19" x2="490.07" y2="1442.19" stroke="#9400d3" stroke-width="3.2"/>
<circle cx="185.33" cy="1454.12" r="11.2" fill="#0000ff"/>
<circle cx="326.8" cy="1442.19" r="11.2" fill="#0000ff"/>
<circle cx="326.8" cy="1477.97" r="11.2" fill="#ff0000"/>
<circle cx="468.27" cy="1446.96" r="11.2" fill="#0000ff"/>
<circle cx="468.27" cy="1491.88" r="11.2" fill="#ff0000"/>
<rect x="114.6" y="1266.5" width="424.4" height="318" fill="none" stroke="#000" stroke-width="3.3" stroke-linejoin="round"/>
<line x1="114.6" y1="1306.25" x2="129.9" y2="1306.25" stroke="#000" stroke-width="3.2"/>
<text transform="translate(94.9 1317.15) scale(1 1.045)" font-size="29.2" text-anchor="end" font-weight="normal">0.6</text>
<line x1="114.6" y1="1365.88" x2="129.9" y2="1365.88" stroke="#000" stroke-width="3.2"/>
<text transform="translate(94.9 1376.78) scale(1 1.045)" font-size="29.2" text-anchor="end" font-weight="normal">0.3</text>
<line x1="114.6" y1="1425.5" x2="129.9" y2="1425.5" stroke="#000" stroke-width="3.2"/>
<text transform="translate(94.9 1436.4) scale(1 1.045)" font-size="29.2" text-anchor="end" font-weight="normal">0.0</text>
<line x1="114.6" y1="1485.12" x2="129.9" y2="1485.12" stroke="#000" stroke-width="3.2"/>
<text transform="translate(94.9 1496.03) scale(1 1.045)" font-size="29.2" text-anchor="end" font-weight="normal">-0.3</text>
<line x1="114.6" y1="1544.75" x2="129.9" y2="1544.75" stroke="#000" stroke-width="3.2"/>
<text transform="translate(94.9 1555.65) scale(1 1.045)" font-size="29.2" text-anchor="end" font-weight="normal">-0.6</text>
<line x1="185.33" y1="1584.5" x2="185.33" y2="1573" stroke="#000" stroke-width="3.2"/>
<line x1="326.8" y1="1584.5" x2="326.8" y2="1573" stroke="#000" stroke-width="3.2"/>
<line x1="468.27" y1="1584.5" x2="468.27" y2="1573" stroke="#000" stroke-width="3.2"/>
<text transform="translate(192.83 1662.5) rotate(-45) scale(1 1.045)" font-size="29.2" text-anchor="middle" dy="10">1850-2020</text>
<text transform="translate(334.3 1662.5) rotate(-45) scale(1 1.045)" font-size="29.2" text-anchor="middle" dy="10">1998-2014</text>
<text transform="translate(475.77 1662.5) rotate(-45) scale(1 1.045)" font-size="29.2" text-anchor="middle" dy="10">1998-2020</text>
<circle cx="185" cy="1306.25" r="11.2" fill="#0000ff"/>
<text transform="translate(199.5 1317.15) scale(1 1.045)" font-size="29.2" text-anchor="start" font-weight="normal">MME</text>
<circle cx="326.3" cy="1306.25" r="11.2" fill="#ff0000"/>
<text transform="translate(344.3 1317.15) scale(1 1.045)" font-size="29.2" text-anchor="start" font-weight="normal">OBS</text>
<text transform="translate(21.9 1425.5) rotate(-90) scale(1 1.045)" font-size="29.2" text-anchor="middle">Chl trend (/10yr)</text>
<text transform="translate(918.6 1242.2) scale(1 1.045)" font-size="29.2" text-anchor="middle" font-weight="normal">(g) pantropical Ocean</text>
<line x1="722.2" y1="1425.5" x2="1131.3" y2="1425.5" stroke="#808080" stroke-width="1.5" stroke-dasharray="7.4 9.2"/>
<line x1="777.63" y1="1429.08" x2="777.63" y2="1413.58" stroke="#000000" stroke-width="3.2" stroke-dasharray="20.8 12.2" stroke-linecap="round"/>
<line x1="777.63" y1="1464.85" x2="777.63" y2="1447.56" stroke="#000000" stroke-width="3.2" stroke-dasharray="20.8 12.2" stroke-linecap="round"/>
<line x1="772.33" y1="1413.58" x2="782.93" y2="1413.58" stroke="#000000" stroke-width="3.2" stroke-linecap="round"/>
<line x1="772.33" y1="1464.85" x2="782.93" y2="1464.85" stroke="#000000" stroke-width="3.2" stroke-linecap="round"/>
<rect x="755.83" y="1429.08" width="43.6" height="18.48" fill="none" stroke="#000000" stroke-width="3.2" stroke-linejoin="round"/>
<line x1="755.83" y1="1443.19" x2="799.43" y2="1443.19" stroke="#000000" stroke-width="3.2"/>
<line x1="919.1" y1="1423.31" x2="919.1" y2="1412.18" stroke="#228b22" stroke-width="3.2" stroke-dasharray="20.8 12.2" stroke-linecap="round"/>
<line x1="919.1" y1="1494.27" x2="919.1" y2="1452.53" stroke="#228b22" stroke-width="3.2" stroke-dasharray="20.8 12.2" stroke-linecap="round"/>
<line x1="913.8" y1="1412.18" x2="924.4" y2="1412.18" stroke="#228b22" stroke-width="3.2" stroke-linecap="round"/>
<line x1="913.8" y1="1494.27" x2="924.4" y2="1494.27" stroke="#228b22" stroke-width="3.2" stroke-linecap="round"/>
<rect x="897.3" y="1423.31" width="43.6" height="29.22" fill="none" stroke="#228b22" stroke-width="3.2" stroke-linejoin="round"/>
<line x1="897.3" y1="1434.05" x2="940.9" y2="1434.05" stroke="#228b22" stroke-width="3.2"/>
<line x1="1060.57" y1="1420.93" x2="1060.57" y2="1392.71" stroke="#9400d3" stroke-width="3.2" stroke-dasharray="20.8 12.2" stroke-linecap="round"/>
<line x1="1060.57" y1="1497.05" x2="1060.57" y2="1482.14" stroke="#9400d3" stroke-width="3.2" stroke-dasharray="20.8 12.2" stroke-linecap="round"/>
<line x1="1055.27" y1="1392.71" x2="1065.87" y2="1392.71" stroke="#9400d3" stroke-width="3.2" stroke-linecap="round"/>
<line x1="1055.27" y1="1497.05" x2="1065.87" y2="1497.05" stroke="#9400d3" stroke-width="3.2" stroke-linecap="round"/>
<rect x="1038.77" y="1420.93" width="43.6" height="61.21" fill="none" stroke="#9400d3" stroke-width="3.2" stroke-linejoin="round"/>
<line x1="1038.77" y1="1434.64" x2="1082.37" y2="1434.64" stroke="#9400d3" stroke-width="3.2"/>
<circle cx="777.63" cy="1440.8" r="11.2" fill="#0000ff"/>
<circle cx="919.1" cy="1438.82" r="11.2" fill="#0000ff"/>
<circle cx="919.1" cy="1526.66" r="11.2" fill="#ff0000"/>
<circle cx="1060.57" cy="1446.96" r="11.2" fill="#0000ff"/>
<circle cx="1060.57" cy="1503.21" r="11.2" fill="#ff0000"/>
<rect x="706.9" y="1266.5" width="424.4" height="318" fill="none" stroke="#000" stroke-width="3.3" stroke-linejoin="round"/>
<line x1="706.9" y1="1306.25" x2="722.2" y2="1306.25" stroke="#000" stroke-width="3.2"/>
<text transform="translate(687.2 1317.15) scale(1 1.045)" font-size="29.2" text-anchor="end" font-weight="normal">0.6</text>
<line x1="706.9" y1="1365.88" x2="722.2" y2="1365.88" stroke="#000" stroke-width="3.2"/>
<text transform="translate(687.2 1376.78) scale(1 1.045)" font-size="29.2" text-anchor="end" font-weight="normal">0.3</text>
<line x1="706.9" y1="1425.5" x2="722.2" y2="1425.5" stroke="#000" stroke-width="3.2"/>
<text transform="translate(687.2 1436.4) scale(1 1.045)" font-size="29.2" text-anchor="end" font-weight="normal">0.0</text>
<line x1="706.9" y1="1485.12" x2="722.2" y2="1485.12" stroke="#000" stroke-width="3.2"/>
<text transform="translate(687.2 1496.03) scale(1 1.045)" font-size="29.2" text-anchor="end" font-weight="normal">-0.3</text>
<line x1="706.9" y1="1544.75" x2="722.2" y2="1544.75" stroke="#000" stroke-width="3.2"/>
<text transform="translate(687.2 1555.65) scale(1 1.045)" font-size="29.2" text-anchor="end" font-weight="normal">-0.6</text>
<line x1="777.63" y1="1584.5" x2="777.63" y2="1573" stroke="#000" stroke-width="3.2"/>
<line x1="919.1" y1="1584.5" x2="919.1" y2="1573" stroke="#000" stroke-width="3.2"/>
<line x1="1060.57" y1="1584.5" x2="1060.57" y2="1573" stroke="#000" stroke-width="3.2"/>
<text transform="translate(785.13 1662.5) rotate(-45) scale(1 1.045)" font-size="29.2" text-anchor="middle" dy="10">1850-2020</text>
<text transform="translate(926.6 1662.5) rotate(-45) scale(1 1.045)" font-size="29.2" text-anchor="middle" dy="10">1998-2014</text>
<text transform="translate(1068.07 1662.5) rotate(-45) scale(1 1.045)" font-size="29.2" text-anchor="middle" dy="10">1998-2020</text>
<circle cx="777.3" cy="1306.25" r="11.2" fill="#0000ff"/>
<text transform="translate(791.8 1317.15) scale(1 1.045)" font-size="29.2" text-anchor="start" font-weight="normal">MME</text>
<circle cx="918.6" cy="1306.25" r="11.2" fill="#ff0000"/>
<text transform="translate(936.6 1317.15) scale(1 1.045)" font-size="29.2" text-anchor="start" font-weight="normal">OBS</text>
<text transform="translate(614.2 1425.5) rotate(-90) scale(1 1.045)" font-size="29.2" text-anchor="middle">Chl trend (/10yr)</text>
<text transform="translate(1510.9 1242.2) scale(1 1.045)" font-size="29.2" text-anchor="middle" font-weight="normal">(h) Tropical Indian-Pacific Ocean</text>
<line x1="1314.5" y1="1425.5" x2="1723.6" y2="1425.5" stroke="#808080" stroke-width="1.5" stroke-dasharray="7.4 9.2"/>
<line x1="1369.93" y1="1427.29" x2="1369.93" y2="1421.53" stroke="#000000" stroke-width="3.2" stroke-dasharray="20.8 12.2" stroke-linecap="round"/>
<line x1="1369.93" y1="1463.66" x2="1369.93" y2="1442.19" stroke="#000000" stroke-width="3.2" stroke-dasharray="20.8 12.2" stroke-linecap="round"/>
<line x1="1364.63" y1="1421.53" x2="1375.23" y2="1421.53" stroke="#000000" stroke-width="3.2" stroke-linecap="round"/>
<line x1="1364.63" y1="1463.66" x2="1375.23" y2="1463.66" stroke="#000000" stroke-width="3.2" stroke-linecap="round"/>
<rect x="1348.13" y="1427.29" width="43.6" height="14.91" fill="none" stroke="#000000" stroke-width="3.2" stroke-linejoin="round"/>
<line x1="1348.13" y1="1431.07" x2="1391.73" y2="1431.07" stroke="#000000" stroke-width="3.2"/>
<line x1="1511.4" y1="1420.93" x2="1511.4" y2="1408.81" stroke="#228b22" stroke-width="3.2" stroke-dasharray="20.8 12.2" stroke-linecap="round"/>
<line x1="1511.4" y1="1495.06" x2="1511.4" y2="1451.54" stroke="#228b22" stroke-width="3.2" stroke-dasharray="20.8 12.2" stroke-linecap="round"/>
<line x1="1506.1" y1="1408.81" x2="1516.7" y2="1408.81" stroke="#228b22" stroke-width="3.2" stroke-linecap="round"/>
<line x1="1506.1" y1="1495.06" x2="1516.7" y2="1495.06" stroke="#228b22" stroke-width="3.2" stroke-linecap="round"/>
<rect x="1489.6" y="1420.93" width="43.6" height="30.61" fill="none" stroke="#228b22" stroke-width="3.2" stroke-linejoin="round"/>
<line x1="1489.6" y1="1430.07" x2="1533.2" y2="1430.07" stroke="#228b22" stroke-width="3.2"/>
<line x1="1652.87" y1="1412.98" x2="1652.87" y2="1379.39" stroke="#9400d3" stroke-width="3.2" stroke-dasharray="20.8 12.2" stroke-linecap="round"/>
<line x1="1652.87" y1="1510.17" x2="1652.87" y2="1474.79" stroke="#9400d3" stroke-width="3.2" stroke-dasharray="20.8 12.2" stroke-linecap="round"/>
<line x1="1647.57" y1="1379.39" x2="1658.17" y2="1379.39" stroke="#9400d3" stroke-width="3.2" stroke-linecap="round"/>
<line x1="1647.57" y1="1510.17" x2="1658.17" y2="1510.17" stroke="#9400d3" stroke-width="3.2" stroke-linecap="round"/>
<rect x="1631.07" y="1412.98" width="43.6" height="61.81" fill="none" stroke="#9400d3" stroke-width="3.2" stroke-linejoin="round"/>
<line x1="1631.07" y1="1442.19" x2="1674.67" y2="1442.19" stroke="#9400d3" stroke-width="3.2"/>
<circle cx="1369.93" cy="1436.43" r="11.2" fill="#0000ff"/>
<circle cx="1511.4" cy="1436.83" r="11.2" fill="#0000ff"/>
<circle cx="1511.4" cy="1529.84" r="11.2" fill="#ff0000"/>
<circle cx="1652.87" cy="1444.58" r="11.2" fill="#0000ff"/>
<circle cx="1652.87" cy="1505.4" r="11.2" fill="#ff0000"/>
<rect x="1299.2" y="1266.5" width="424.4" height="318" fill="none" stroke="#000" stroke-width="3.3" stroke-linejoin="round"/>
<line x1="1299.2" y1="1306.25" x2="1314.5" y2="1306.25" stroke="#000" stroke-width="3.2"/>
<text transform="translate(1279.5 1317.15) scale(1 1.045)" font-size="29.2" text-anchor="end" font-weight="normal">0.6</text>
<line x1="1299.2" y1="1365.88" x2="1314.5" y2="1365.88" stroke="#000" stroke-width="3.2"/>
<text transform="translate(1279.5 1376.78) scale(1 1.045)" font-size="29.2" text-anchor="end" font-weight="normal">0.3</text>
<line x1="1299.2" y1="1425.5" x2="1314.5" y2="1425.5" stroke="#000" stroke-width="3.2"/>
<text transform="translate(1279.5 1436.4) scale(1 1.045)" font-size="29.2" text-anchor="end" font-weight="normal">0.0</text>
<line x1="1299.2" y1="1485.12" x2="1314.5" y2="1485.12" stroke="#000" stroke-width="3.2"/>
<text transform="translate(1279.5 1496.03) scale(1 1.045)" font-size="29.2" text-anchor="end" font-weight="normal">-0.3</text>
<line x1="1299.2" y1="1544.75" x2="1314.5" y2="1544.75" stroke="#000" stroke-width="3.2"/>
<text transform="translate(1279.5 1555.65) scale(1 1.045)" font-size="29.2" text-anchor="end" font-weight="normal">-0.6</text>
<line x1="1369.93" y1="1584.5" x2="1369.93" y2="1573" stroke="#000" stroke-width="3.2"/>
<line x1="1511.4" y1="1584.5" x2="1511.4" y2="1573" stroke="#000" stroke-width="3.2"/>
<line x1="1652.87" y1="1584.5" x2="1652.87" y2="1573" stroke="#000" stroke-width="3.2"/>
<text transform="translate(1377.43 1662.5) rotate(-45) scale(1 1.045)" font-size="29.2" text-anchor="middle" dy="10">1850-2020</text>
<text transform="translate(1518.9 1662.5) rotate(-45) scale(1 1.045)" font-size="29.2" text-anchor="middle" dy="10">1998-2014</text>
<text transform="translate(1660.37 1662.5) rotate(-45) scale(1 1.045)" font-size="29.2" text-anchor="middle" dy="10">1998-2020</text>
<circle cx="1369.6" cy="1306.25" r="11.2" fill="#0000ff"/>
<text transform="translate(1384.1 1317.15) scale(1 1.045)" font-size="29.2" text-anchor="start" font-weight="normal">MME</text>
<circle cx="1510.9" cy="1306.25" r="11.2" fill="#ff0000"/>
<text transform="translate(1528.9 1317.15) scale(1 1.045)" font-size="29.2" text-anchor="start" font-weight="normal">OBS</text>
<text transform="translate(1206.5 1425.5) rotate(-90) scale(1 1.045)" font-size="29.2" text-anchor="middle">Chl trend (/10yr)</text>
</svg>
</body></html>
